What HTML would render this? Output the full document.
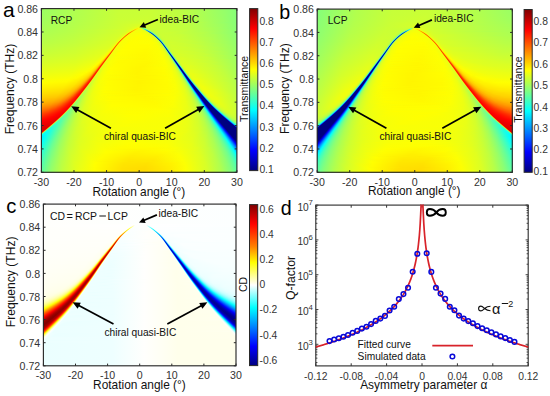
<!DOCTYPE html>
<html><head><meta charset="utf-8"><style>
html,body{margin:0;padding:0;background:#fff;}
body{width:550px;height:396px;position:relative;overflow:hidden;font-family:"Liberation Sans", sans-serif;}
.hm{position:absolute;}
.hm i{display:block;height:1px;}
svg{position:absolute;left:0;top:0;}
</style></head><body>
<div class="hm" style="left:41px;top:8px;width:196px"><i style="background:linear-gradient(90deg,#9cff63 0.5px,#b1ff4e 36.5px,#c8ff37 78.5px,#c9ff36 112.5px,#b8ff47 148.5px,#92ff6d 186.5px,#86ff79 195.5px)"></i><i style="background:linear-gradient(90deg,#9cff63 0.5px,#b1ff4e 36.5px,#c9ff36 78.5px,#c9ff36 112.5px,#b8ff47 148.5px,#92ff6d 186.5px,#86ff79 195.5px)"></i><i style="background:linear-gradient(90deg,#9dff62 0.5px,#b1ff4e 35.5px,#c9ff36 78.5px,#c9ff36 112.5px,#b8ff47 148.5px,#92ff6d 186.5px,#86ff79 195.5px)"></i><i style="background:linear-gradient(90deg,#9dff62 0.5px,#b0ff4f 34.5px,#c8ff37 77.5px,#caff35 111.5px,#b9ff46 147.5px,#94ff6b 185.5px,#86ff79 195.5px)"></i><i style="background:linear-gradient(90deg,#9dff62 0.5px,#b0ff4f 34.5px,#c8ff37 77.5px,#caff35 110.5px,#baff45 146.5px,#95ff6a 184.5px,#87ff78 195.5px)"></i><i style="background:linear-gradient(90deg,#9eff61 0.5px,#b1ff4e 34.5px,#c9ff36 77.5px,#caff35 110.5px,#baff45 146.5px,#95ff6a 184.5px,#87ff78 195.5px)"></i><i style="background:linear-gradient(90deg,#9eff61 0.5px,#b0ff4f 33.5px,#c9ff36 77.5px,#caff35 109.5px,#bbff44 145.5px,#97ff68 183.5px,#87ff78 195.5px)"></i><i style="background:linear-gradient(90deg,#9fff60 0.5px,#b0ff4f 33.5px,#c9ff36 77.5px,#cbff34 109.5px,#bbff44 145.5px,#97ff68 183.5px,#87ff78 195.5px)"></i><i style="background:linear-gradient(90deg,#a0ff5f 0.5px,#b1ff4e 33.5px,#c9ff36 77.5px,#cbff34 108.5px,#bcff43 144.5px,#99ff66 181.5px,#87ff78 195.5px)"></i><i style="background:linear-gradient(90deg,#a0ff5f 0.5px,#b0ff4f 32.5px,#c9ff36 77.5px,#ccff33 106.5px,#bdff42 143.5px,#9bff64 180.5px,#88ff77 195.5px)"></i><i style="background:linear-gradient(90deg,#a1ff5e 0.5px,#b1ff4e 32.5px,#caff35 77.5px,#ccff33 105.5px,#bdff42 143.5px,#9bff64 180.5px,#88ff77 195.5px)"></i><i style="background:linear-gradient(90deg,#a2ff5d 0.5px,#b1ff4e 32.5px,#caff35 77.5px,#cdff32 103.5px,#beff41 143.5px,#9cff63 180.5px,#88ff77 195.5px)"></i><i style="background:linear-gradient(90deg,#a2ff5d 0.5px,#b2ff4d 32.5px,#caff35 77.5px,#ceff31 102.5px,#bdff42 144.5px,#9bff64 181.5px,#89ff76 195.5px)"></i><i style="background:linear-gradient(90deg,#a3ff5c 0.5px,#b2ff4d 32.5px,#cbff34 77.5px,#d0ff2f 101.5px,#bdff42 146.5px,#99ff66 183.5px,#89ff76 195.5px)"></i><i style="background:linear-gradient(90deg,#a4ff5b 0.5px,#b3ff4c 32.5px,#cbff34 77.5px,#d2ff2d 100.5px,#c8ff37 124.5px,#b3ff4c 159.5px,#89ff76 195.5px)"></i><i style="background:linear-gradient(90deg,#a4ff5b 0.5px,#b3ff4c 31.5px,#ccff33 77.5px,#d4ff2b 100.5px,#cbff34 115.5px,#bcff43 148.5px,#98ff67 184.5px,#8aff75 195.5px)"></i><i style="background:linear-gradient(90deg,#a5ff5a 0.5px,#b3ff4c 31.5px,#ccff33 77.5px,#d7ff28 96.5px,#d7ff28 100.5px,#ccff33 112.5px,#bfff40 145.5px,#9dff62 181.5px,#8aff75 195.5px)"></i><i style="background:linear-gradient(90deg,#a6ff59 0.5px,#b4ff4b 31.5px,#ccff33 77.5px,#d6ff29 93.5px,#dcff23 99.5px,#ceff31 107.5px,#beff41 146.5px,#9cff63 182.5px,#8bff74 195.5px)"></i><i style="background:linear-gradient(90deg,#a7ff58 0.5px,#b5ff4a 31.5px,#cdff32 77.5px,#d6ff29 91.5px,#e2ff1d 98.5px,#d6ff29 101.5px,#ccff33 114.5px,#bfff40 146.5px,#9cff63 182.5px,#8bff74 195.5px)"></i><i style="background:linear-gradient(90deg,#a8ff57 0.5px,#b5ff4a 31.5px,#ceff31 78.5px,#d8ff27 90.5px,#e6ff19 96.5px,#edff12 97.5px,#eeff11 98.5px,#d7ff28 99.5px,#baff45 100.5px,#ccff33 103.5px,#cdff32 109.5px,#c1ff3e 143.5px,#a2ff5d 178.5px,#8bff74 195.5px)"></i><i style="background:linear-gradient(90deg,#a9ff56 0.5px,#b6ff49 31.5px,#cfff30 79.5px,#d9ff26 89.5px,#e5ff1a 93.5px,#ecff13 94.5px,#f6f109 95.5px,#fdef02 96.5px,#fafb05 97.5px,#eaff15 99.5px,#ccff33 100.5px,#8aff75 101.5px,#61ff9e 102.5px,#8fff70 103.5px,#b3ff4c 104.5px,#c2ff3d 105.5px,#cbff34 107.5px,#c7ff38 133.5px,#adff52 168.5px,#8cff73 195.5px)"></i><i style="background:linear-gradient(90deg,#aaff55 0.5px,#b7ff48 31.5px,#d5ff2a 85.5px,#e5ff1a 91.5px,#edff12 92.5px,#f9e306 93.5px,#ffd300 94.5px,#fdee02 95.5px,#f5fe0a 96.5px,#f1ff0e 98.5px,#edff12 100.5px,#e7ff18 101.5px,#c0ff3f 102.5px,#4ff7b0 103.5px,#27e4d8 104.5px,#6efb91 105.5px,#a6ff59 106.5px,#bbff44 107.5px,#c7ff38 109.5px,#ccff33 118.5px,#bfff40 148.5px,#9dff62 183.5px,#8cff73 195.5px)"></i><i style="background:linear-gradient(90deg,#abff54 0.5px,#b8ff47 31.5px,#d6ff29 84.5px,#e4ff1b 89.5px,#ecff13 90.5px,#f9e306 91.5px,#ffb800 92.5px,#f9fd06 94.5px,#f3ff0c 96.5px,#f3ff0c 100.5px,#ecff13 102.5px,#e4ff1b 103.5px,#b0f84f 104.5px,#39bac6 105.5px,#1db1e2 106.5px,#65fa9a 107.5px,#a0ff5f 108.5px,#b7ff48 109.5px,#c6ff39 111.5px,#ccff33 116.5px,#c3ff3c 143.5px,#a4ff5b 178.5px,#8dff72 195.5px)"></i><i style="background:linear-gradient(90deg,#acff53 0.5px,#b8ff47 31.5px,#d4ff2b 82.5px,#e2ff1d 87.5px,#e9ff16 88.5px,#f5ef0a 89.5px,#fea701 90.5px,#ffba00 91.5px,#fcf603 92.5px,#f6ff09 93.5px,#f6ff09 100.5px,#eaff15 104.5px,#deff21 105.5px,#8be374 106.5px,#1473e5 107.5px,#1fafd9 108.5px,#6afe95 109.5px,#a3ff5c 110.5px,#b8ff47 111.5px,#c3ff3c 112.5px,#cbff34 115.5px,#c7ff38 137.5px,#acff53 171.5px,#8eff71 195.5px)"></i><i style="background:linear-gradient(90deg,#adff52 0.5px,#b9ff46 31.5px,#d5ff2a 81.5px,#dfff20 85.5px,#e5ff1a 86.5px,#f0fd0f 87.5px,#fdb602 88.5px,#ff8e00 89.5px,#fee201 90.5px,#f9fe06 91.5px,#f5ff0a 93.5px,#f9ff06 100.5px,#edff12 105.5px,#e6ff19 106.5px,#cdff32 107.5px,#57a198 108.5px,#0156d3 109.5px,#30cfcf 110.5px,#85ff7a 111.5px,#b0ff4f 112.5px,#c0ff3f 113.5px,#caff35 115.5px,#cbff34 130.5px,#b4ff4b 164.5px,#8eff71 195.5px)"></i><i style="background:linear-gradient(90deg,#aeff51 0.5px,#baff45 31.5px,#d5ff2a 80.5px,#e1ff1e 84.5px,#e7ff18 85.5px,#f6ec09 86.5px,#ff7b00 87.5px,#ffaf00 88.5px,#fdf802 89.5px,#f7ff08 90.5px,#fcff03 100.5px,#efff10 106.5px,#eaff15 107.5px,#dfff20 108.5px,#a1e15e 109.5px,#1954a7 110.5px,#0d84d8 111.5px,#64fc9b 112.5px,#a7ff58 113.5px,#bdff42 114.5px,#c9ff36 116.5px,#ccff33 127.5px,#b8ff47 160.5px,#90ff6f 194.5px,#8fff70 195.5px)"></i><i style="background:linear-gradient(90deg,#afff50 0.5px,#bbff44 31.5px,#d6ff29 79.5px,#e2ff1d 83.5px,#eaff15 84.5px,#face05 85.5px,#ff6900 86.5px,#ffd600 87.5px,#fbfe04 88.5px,#f7ff08 90.5px,#fdff02 100.5px,#f4ff0b 106.5px,#ecff13 108.5px,#e4ff1b 109.5px,#caff35 110.5px,#468e89 111.5px,#0348c2 112.5px,#47eeb8 113.5px,#9dff62 114.5px,#baff45 115.5px,#c4ff3b 116.5px,#ccff33 119.5px,#c8ff37 139.5px,#acff53 173.5px,#8fff70 195.5px)"></i><i style="background:linear-gradient(90deg,#b0ff4f 0.5px,#bcff43 31.5px,#d6ff29 78.5px,#e2ff1d 82.5px,#edff12 83.5px,#fdae02 84.5px,#ff7c00 85.5px,#feee01 86.5px,#f9ff06 87.5px,#faff05 91.5px,#feff01 101.5px,#f2ff0d 108.5px,#e7ff18 110.5px,#d8ff27 111.5px,#75c57a 112.5px,#0040bb 113.5px,#31d6ce 114.5px,#93ff6c 115.5px,#b7ff48 116.5px,#c3ff3c 117.5px,#ccff33 120.5px,#c9ff36 139.5px,#adff52 173.5px,#90ff6f 195.5px)"></i><i style="background:linear-gradient(90deg,#b1ff4e 0.5px,#bdff42 32.5px,#d6ff29 77.5px,#e4ff1b 81.5px,#effe10 82.5px,#fe9401 83.5px,#ff9700 84.5px,#fdf802 85.5px,#f8ff07 86.5px,#ffff00 100.5px,#f6ff09 108.5px,#eaff15 111.5px,#dfff20 112.5px,#9adf57 113.5px,#0f36ac 114.5px,#23c1d3 115.5px,#8aff75 116.5px,#b5ff4a 117.5px,#c3ff3c 118.5px,#cdff32 121.5px,#c9ff36 140.5px,#adff52 173.5px,#90ff6f 195.5px)"></i><i style="background:linear-gradient(90deg,#b2ff4d 0.5px,#beff41 32.5px,#d7ff28 76.5px,#e5ff1a 80.5px,#f2fc0d 81.5px,#fe8401 82.5px,#ffae00 83.5px,#fcfc03 84.5px,#f8ff07 86.5px,#fffe00 96.5px,#fbff04 107.5px,#f1ff0e 111.5px,#e2ff1d 113.5px,#acf553 114.5px,#14489e 115.5px,#19b1d6 116.5px,#85ff7a 117.5px,#b4ff4b 118.5px,#c3ff3c 119.5px,#ccff33 121.5px,#ccff33 135.5px,#b4ff4b 168.5px,#91ff6e 195.5px)"></i><i style="background:linear-gradient(90deg,#b3ff4c 0.5px,#bfff40 32.5px,#d7ff28 75.5px,#e0ff1f 78.5px,#e7ff18 79.5px,#f5f90a 80.5px,#ff7900 81.5px,#fbfd04 83.5px,#f8ff07 85.5px,#fffe00 95.5px,#fbff04 108.5px,#edff12 113.5px,#e4ff1b 114.5px,#b5ff4a 115.5px,#1d42a1 116.5px,#14a6db 117.5px,#82ff7d 118.5px,#b4ff4b 119.5px,#c4ff3b 120.5px,#ccff33 122.5px,#ccff33 136.5px,#b3ff4c 169.5px,#92ff6d 195.5px)"></i><i style="background:linear-gradient(90deg,#b4ff4b 0.5px,#c0ff3f 32.5px,#d7ff28 74.5px,#e1ff1e 77.5px,#e8ff17 78.5px,#f7f708 79.5px,#ff7300 80.5px,#ffc400 81.5px,#fafe05 82.5px,#f8ff07 84.5px,#fffe00 93.5px,#fcff03 108.5px,#f2ff0d 113.5px,#edff12 114.5px,#e3ff1c 115.5px,#b9ff46 116.5px,#2040ab 117.5px,#14a2db 118.5px,#83ff7c 119.5px,#b6ff49 120.5px,#c5ff3a 121.5px,#cdff32 123.5px,#ccff33 138.5px,#b2ff4d 171.5px,#92ff6d 195.5px)"></i><i style="background:linear-gradient(90deg,#b6ff49 0.5px,#c1ff3e 32.5px,#d8ff27 73.5px,#e1ff1e 76.5px,#e9ff16 77.5px,#f9f506 78.5px,#ff6e00 79.5px,#ffc700 80.5px,#fafe05 81.5px,#f8ff07 83.5px,#fffe00 92.5px,#fdff02 109.5px,#f3ff0c 114.5px,#edff12 115.5px,#e1ff1e 116.5px,#b5ff4a 117.5px,#1a40a4 118.5px,#15a7da 119.5px,#8aff75 120.5px,#b9ff46 121.5px,#c7ff38 122.5px,#cfff30 125.5px,#c8ff37 147.5px,#a9ff56 179.5px,#93ff6c 195.5px)"></i><i style="background:linear-gradient(90deg,#b7ff48 0.5px,#c2ff3d 32.5px,#daff25 73.5px,#e1ff1e 75.5px,#e9ff16 76.5px,#f9f606 77.5px,#ff6d00 78.5px,#ffc600 79.5px,#fafe05 80.5px,#f8ff07 82.5px,#fffe00 90.5px,#fdff02 110.5px,#f2ff0d 115.5px,#ebff14 116.5px,#dfff20 117.5px,#a7ff58 118.5px,#1041a0 119.5px,#20b9d1 120.5px,#97ff68 121.5px,#beff41 122.5px,#c9ff36 123.5px,#d0ff2f 127.5px,#c5ff3a 152.5px,#a4ff5b 184.5px,#94ff6b 195.5px)"></i><i style="background:linear-gradient(90deg,#b8ff47 0.5px,#c3ff3c 32.5px,#daff25 72.5px,#e1ff1e 74.5px,#e9ff16 75.5px,#f8f907 76.5px,#ff7700 77.5px,#ffbd00 78.5px,#fafe05 79.5px,#f8ff07 81.5px,#fffe00 89.5px,#fdff02 111.5px,#f6ff09 115.5px,#eaff15 117.5px,#dbff24 118.5px,#97f568 119.5px,#0734b1 120.5px,#33d2cc 121.5px,#a4ff5b 122.5px,#c2ff3d 123.5px,#cbff34 124.5px,#d1ff2e 129.5px,#c3ff3c 156.5px,#a0ff5f 187.5px,#94ff6b 195.5px)"></i><i style="background:linear-gradient(90deg,#b9ff46 0.5px,#c4ff3b 32.5px,#daff25 71.5px,#e1ff1e 73.5px,#e8ff17 74.5px,#f7fc08 75.5px,#ff8d00 76.5px,#ffa700 77.5px,#fafe05 78.5px,#f8ff07 80.5px,#fffe00 88.5px,#fdff02 112.5px,#f5ff0a 116.5px,#e8ff17 118.5px,#d6ff29 119.5px,#7adc7a 120.5px,#002eb4 121.5px,#50f0af 122.5px,#afff50 123.5px,#c5ff3a 124.5px,#cfff30 126.5px,#ceff31 140.5px,#b4ff4b 172.5px,#95ff6a 195.5px)"></i><i style="background:linear-gradient(90deg,#bbff44 0.5px,#c6ff39 33.5px,#dbff24 70.5px,#e7ff18 73.5px,#f5fe0a 74.5px,#ffae00 75.5px,#ff8600 76.5px,#fafc05 77.5px,#f6ff09 78.5px,#fffe00 86.5px,#fffe00 108.5px,#f7ff08 116.5px,#eeff11 118.5px,#e5ff1a 119.5px,#cfff30 120.5px,#50b994 121.5px,#0445c3 122.5px,#6fff90 123.5px,#b8ff47 124.5px,#c8ff37 125.5px,#d1ff2e 128.5px,#caff35 149.5px,#abff54 180.5px,#96ff69 195.5px)"></i><i style="background:linear-gradient(90deg,#bcff43 0.5px,#c7ff38 33.5px,#dbff24 69.5px,#e7ff18 72.5px,#f3ff0c 73.5px,#ffcf00 74.5px,#ff6500 75.5px,#fcf703 76.5px,#f6ff09 77.5px,#fffe00 85.5px,#fffd00 107.5px,#f9ff06 116.5px,#edff12 119.5px,#e1ff1e 120.5px,#c0ff3f 121.5px,#2372ac 122.5px,#1186ce 123.5px,#90ff6f 124.5px,#bfff40 125.5px,#cbff34 126.5px,#d2ff2d 130.5px,#c6ff39 155.5px,#a4ff5b 186.5px,#96ff69 195.5px)"></i><i style="background:linear-gradient(90deg,#bdff42 0.5px,#c8ff37 33.5px,#dcff23 68.5px,#e6ff19 71.5px,#f1ff0e 72.5px,#fee801 73.5px,#ff5b00 74.5px,#fde602 75.5px,#f6ff09 76.5px,#fffe00 84.5px,#fffd00 107.5px,#fbff04 116.5px,#f1ff0e 119.5px,#eaff15 120.5px,#dbff24 121.5px,#a1ff5e 122.5px,#0936a9 123.5px,#2ac4cc 124.5px,#a5ff5a 125.5px,#c4ff3b 126.5px,#cdff32 127.5px,#d3ff2c 132.5px,#c4ff3b 159.5px,#a1ff5e 189.5px,#97ff68 195.5px)"></i><i style="background:linear-gradient(90deg,#bfff40 0.5px,#caff35 33.5px,#ddff22 67.5px,#e6ff19 70.5px,#efff10 71.5px,#fdf402 72.5px,#ff6d00 73.5px,#febe01 74.5px,#f6ff09 75.5px,#fffe00 84.5px,#fffd00 108.5px,#faff05 117.5px,#efff10 120.5px,#e6ff19 121.5px,#d2ff2d 122.5px,#6eda8e 123.5px,#001eb1 124.5px,#52f0ad 125.5px,#b3ff4c 126.5px,#c8ff37 127.5px,#d1ff2e 129.5px,#d0ff2f 143.5px,#b5ff4a 174.5px,#98ff67 195.5px)"></i><i style="background:linear-gradient(90deg,#c0ff3f 0.5px,#cbff34 33.5px,#ddff22 66.5px,#e6ff19 69.5px,#eeff11 70.5px,#fcf903 71.5px,#ff9900 72.5px,#ff8900 73.5px,#f8fe07 74.5px,#f5ff0a 75.5px,#fffe00 82.5px,#fffc00 106.5px,#fbff04 117.5px,#f3ff0c 120.5px,#edff12 121.5px,#e1ff1e 122.5px,#c4ff3b 123.5px,#30a2af 124.5px,#054cc6 125.5px,#7aff85 126.5px,#bdff42 127.5px,#cbff34 128.5px,#d3ff2c 131.5px,#cbff34 152.5px,#acff53 182.5px,#98ff67 195.5px)"></i><i style="background:linear-gradient(90deg,#c2ff3d 0.5px,#ccff33 33.5px,#e0ff1f 66.5px,#eeff11 69.5px,#fafc05 70.5px,#ffc000 71.5px,#ff5900 72.5px,#faf705 73.5px,#f4ff0b 74.5px,#ffff00 81.5px,#fffb00 105.5px,#fcff03 117.5px,#f1ff0e 121.5px,#e9ff16 122.5px,#daff25 123.5px,#a8ff57 124.5px,#0b4aa6 125.5px,#179ad0 126.5px,#99ff66 127.5px,#c3ff3c 128.5px,#ceff31 129.5px,#d4ff2b 133.5px,#c7ff38 158.5px,#a4ff5b 188.5px,#99ff66 195.5px)"></i><i style="background:linear-gradient(90deg,#c3ff3c 0.5px,#ceff31 34.5px,#e1ff1e 65.5px,#eeff11 68.5px,#f9fe06 69.5px,#ffd900 70.5px,#ff4f00 71.5px,#fddd02 72.5px,#f4ff0b 73.5px,#ffff00 80.5px,#fffb00 105.5px,#fcff03 118.5px,#efff10 122.5px,#e5ff1a 123.5px,#d0ff2f 124.5px,#70eb8f 125.5px,#0015a7 126.5px,#38d3c7 127.5px,#acff53 128.5px,#c7ff38 129.5px,#d0ff2f 130.5px,#d5ff2a 135.5px,#c5ff3a 162.5px,#a1ff5e 191.5px,#9aff65 195.5px)"></i><i style="background:linear-gradient(90deg,#c4ff3b 0.5px,#cfff30 34.5px,#e2ff1d 64.5px,#eeff11 67.5px,#f9fe06 68.5px,#ffe600 69.5px,#ff6500 70.5px,#fea901 71.5px,#f5ff0a 72.5px,#fffe00 80.5px,#fffb00 105.5px,#fcff03 118.5px,#f2ff0d 122.5px,#ebff14 123.5px,#dfff20 124.5px,#c0ff3f 125.5px,#33afb4 126.5px,#002bac 127.5px,#5ef8a1 128.5px,#b7ff48 129.5px,#cbff34 130.5px,#d4ff2b 132.5px,#d2ff2d 146.5px,#b7ff48 176.5px,#9bff64 195.5px)"></i><i style="background:linear-gradient(90deg,#c6ff39 0.5px,#d0ff2f 34.5px,#e3ff1c 63.5px,#eeff11 66.5px,#f8ff07 67.5px,#ffed00 68.5px,#ff8a00 69.5px,#ff6f00 70.5px,#f7fd08 71.5px,#f3ff0c 72.5px,#ffff00 78.5px,#fffa00 104.5px,#fcff03 119.5px,#f0ff0f 123.5px,#e7ff18 124.5px,#d7ff28 125.5px,#a3ff5c 126.5px,#0d51b9 127.5px,#0863cf 128.5px,#81ff7e 129.5px,#bfff40 130.5px,#ceff31 131.5px,#d6ff29 134.5px,#ccff33 156.5px,#abff54 185.5px,#9bff64 195.5px)"></i><i style="background:linear-gradient(90deg,#c7ff38 0.5px,#d1ff2e 34.5px,#e2ff1d 61.5px,#efff10 65.5px,#f8ff07 66.5px,#fff100 67.5px,#ffa700 68.5px,#ff4800 69.5px,#faf005 70.5px,#f2ff0d 71.5px,#ffff00 77.5px,#fffa00 103.5px,#fdff02 119.5px,#f3ff0c 123.5px,#e2ff1d 125.5px,#ccff33 126.5px,#6ef291 127.5px,#0016a0 128.5px,#19a3d4 129.5px,#9bff64 130.5px,#c6ff39 131.5px,#d1ff2e 132.5px,#d7ff28 136.5px,#c8ff37 161.5px,#a6ff59 189.5px,#9cff63 195.5px)"></i><i style="background:linear-gradient(90deg,#c9ff36 0.5px,#d3ff2c 34.5px,#e3ff1c 60.5px,#efff10 64.5px,#f8ff07 65.5px,#fff400 66.5px,#ffbd00 67.5px,#ff4000 68.5px,#fdce02 69.5px,#f2ff0d 70.5px,#feff01 76.5px,#fff900 103.5px,#fcff03 120.5px,#f0ff0f 124.5px,#e9ff16 125.5px,#dbff24 126.5px,#bbff44 127.5px,#36bbb9 128.5px,#00099a 129.5px,#37d4c8 130.5px,#adff52 131.5px,#cbff34 132.5px,#d3ff2c 133.5px,#d8ff27 138.5px,#c6ff39 165.5px,#a0ff5f 193.5px,#9dff62 195.5px)"></i><i style="background:linear-gradient(90deg,#caff35 0.5px,#d4ff2b 34.5px,#e4ff1b 59.5px,#f0ff0f 63.5px,#f8ff07 64.5px,#fff600 65.5px,#ffcc00 66.5px,#ff4f00 67.5px,#fe9f01 68.5px,#f3ff0c 69.5px,#f6ff09 71.5px,#fffe00 77.5px,#fff900 103.5px,#fdff02 120.5px,#f3ff0c 124.5px,#e4ff1b 126.5px,#d3ff2c 127.5px,#9fff60 128.5px,#116dc6 129.5px,#0029ac 130.5px,#5bf6a4 131.5px,#b9ff46 132.5px,#cfff30 133.5px,#d7ff28 135.5px,#d2ff2d 151.5px,#b5ff4a 180.5px,#9eff61 195.5px)"></i><i style="background:linear-gradient(90deg,#ccff33 0.5px,#d5ff2a 34.5px,#e5ff1a 58.5px,#f1ff0e 62.5px,#f8ff07 63.5px,#fff700 64.5px,#ffd700 65.5px,#ff6c00 66.5px,#ff6900 67.5px,#f5fc0a 68.5px,#f1ff0e 69.5px,#fdff02 74.5px,#fff900 103.5px,#fcff03 121.5px,#f1ff0e 125.5px,#dfff20 127.5px,#c7ff38 128.5px,#71fb8e 129.5px,#002cab 130.5px,#075dcf 131.5px,#80ff7f 132.5px,#c2ff3d 133.5px,#d2ff2d 134.5px,#d9ff26 137.5px,#ccff33 160.5px,#aaff55 188.5px,#9fff60 195.5px)"></i><i style="background:linear-gradient(90deg,#ceff31 0.5px,#d7ff28 34.5px,#e6ff19 57.5px,#f2ff0d 61.5px,#f9ff06 62.5px,#fff800 63.5px,#ffde00 64.5px,#ff8800 65.5px,#ff4200 66.5px,#f8ef07 67.5px,#efff10 68.5px,#fdff02 73.5px,#fff900 103.5px,#fdff02 121.5px,#f3ff0c 125.5px,#e6ff19 127.5px,#d8ff27 128.5px,#b8ff47 129.5px,#3ecfc0 130.5px,#000391 131.5px,#18a0d4 132.5px,#9dff62 133.5px,#c9ff36 134.5px,#d4ff2b 135.5px,#daff25 139.5px,#c8ff37 166.5px,#a3ff5c 193.5px,#9fff60 195.5px)"></i><i style="background:linear-gradient(90deg,#cfff30 0.5px,#d8ff27 34.5px,#e7ff18 56.5px,#f3ff0c 60.5px,#f9ff06 61.5px,#fff900 62.5px,#ffe200 63.5px,#ff9f00 64.5px,#ff3500 65.5px,#fccd03 66.5px,#eeff11 67.5px,#fcff03 72.5px,#fff800 102.5px,#fdff02 121.5px,#f1ff0e 126.5px,#e1ff1e 128.5px,#cfff30 129.5px,#9fff60 130.5px,#158ccf 131.5px,#000997 132.5px,#37d5c8 133.5px,#b0ff4f 134.5px,#ceff31 135.5px,#d7ff28 136.5px,#dbff24 141.5px,#c5ff3a 169.5px,#a0ff5f 195.5px)"></i><i style="background:linear-gradient(90deg,#d1ff2e 0.5px,#daff25 34.5px,#e8ff17 55.5px,#f4ff0b 59.5px,#faff05 60.5px,#fff900 61.5px,#ffe600 62.5px,#ffb100 63.5px,#ff4000 64.5px,#fe9a01 65.5px,#efff10 66.5px,#f4ff0b 68.5px,#ffff00 74.5px,#fff800 101.5px,#fdff02 122.5px,#f4ff0b 126.5px,#e7ff18 128.5px,#dbff24 129.5px,#c4ff3b 130.5px,#74ff8b 131.5px,#013dbf 132.5px,#002aaf 133.5px,#5df7a2 134.5px,#bdff42 135.5px,#d3ff2c 136.5px,#dbff24 138.5px,#d2ff2d 157.5px,#b2ff4d 185.5px,#a1ff5e 195.5px)"></i><i style="background:linear-gradient(90deg,#d3ff2c 0.5px,#dbff24 34.5px,#e9ff16 54.5px,#f5ff0a 58.5px,#fbff04 59.5px,#fff900 60.5px,#ffe800 61.5px,#ffbe00 62.5px,#ff5700 63.5px,#ff6000 64.5px,#f2fc0d 65.5px,#edff12 66.5px,#fbff04 70.5px,#fffb00 80.5px,#fff900 108.5px,#fcff03 123.5px,#f1ff0e 127.5px,#e3ff1c 129.5px,#d4ff2b 130.5px,#b4ff4b 131.5px,#42e0bd 132.5px,#000b9b 133.5px,#0761d1 134.5px,#82ff7d 135.5px,#c6ff39 136.5px,#d6ff29 137.5px,#ddff22 140.5px,#cbff34 166.5px,#a7ff58 192.5px,#a2ff5d 195.5px)"></i><i style="background:linear-gradient(90deg,#d4ff2b 0.5px,#ddff22 34.5px,#ebff14 53.5px,#f6ff09 57.5px,#fbff04 58.5px,#fff900 59.5px,#ffea00 60.5px,#ffc800 61.5px,#ff6e00 62.5px,#ff3900 63.5px,#f7ec08 64.5px,#ebff14 65.5px,#faff05 69.5px,#fffc00 77.5px,#fff800 105.5px,#fdff02 123.5px,#efff10 128.5px,#deff21 130.5px,#cbff34 131.5px,#9cff63 132.5px,#179dd6 133.5px,#000085 134.5px,#19a3d6 135.5px,#a0ff5f 136.5px,#cdff32 137.5px,#d9ff26 138.5px,#ddff22 142.5px,#c7ff38 170.5px,#a3ff5c 195.5px)"></i><i style="background:linear-gradient(90deg,#d6ff29 0.5px,#deff21 34.5px,#ecff13 52.5px,#f7ff08 56.5px,#fcff03 57.5px,#fff900 58.5px,#ffeb00 59.5px,#ffce00 60.5px,#ff8400 61.5px,#ff2b00 62.5px,#fbc404 63.5px,#eaff15 64.5px,#fbff04 69.5px,#fffb00 79.5px,#fff800 108.5px,#fdff02 123.5px,#f2ff0d 128.5px,#e5ff1a 130.5px,#d8ff27 131.5px,#c0ff3f 132.5px,#72ff8d 133.5px,#0248d1 134.5px,#000b9a 135.5px,#39dac6 136.5px,#b3ff4c 137.5px,#d3ff2c 138.5px,#dbff24 139.5px,#deff21 144.5px,#c5ff3a 173.5px,#a3ff5c 195.5px)"></i><i style="background:linear-gradient(90deg,#d8ff27 0.5px,#e0ff1f 34.5px,#efff10 52.5px,#fdff02 56.5px,#fff900 57.5px,#ffec00 58.5px,#ffd300 59.5px,#ff9600 60.5px,#ff3500 61.5px,#fe8d01 62.5px,#ecff13 63.5px,#ebff14 64.5px,#faff05 68.5px,#fffc00 76.5px,#fff700 105.5px,#fdff02 124.5px,#efff10 129.5px,#e0ff1f 131.5px,#d0ff2f 132.5px,#afff50 133.5px,#41e8be 134.5px,#0012a5 135.5px,#002eb4 136.5px,#60f89f 137.5px,#c0ff3f 138.5px,#d7ff28 139.5px,#dfff20 141.5px,#d0ff2f 164.5px,#adff52 190.5px,#a4ff5b 195.5px)"></i><i style="background:linear-gradient(90deg,#daff25 0.5px,#e2ff1d 34.5px,#f0ff0f 51.5px,#fdfe02 55.5px,#fff900 56.5px,#ffed00 57.5px,#ffd600 58.5px,#ffa400 59.5px,#ff4700 60.5px,#ff5300 61.5px,#f0fa0f 62.5px,#e8ff17 63.5px,#f9ff06 67.5px,#fffd00 74.5px,#fff700 103.5px,#fdff02 124.5px,#f2ff0d 129.5px,#e6ff19 131.5px,#dbff24 132.5px,#c7ff38 133.5px,#96ff69 134.5px,#17a9e0 135.5px,#000088 136.5px,#0769d4 137.5px,#85ff7a 138.5px,#caff35 139.5px,#daff25 140.5px,#e0ff1f 142.5px,#ccff33 168.5px,#a9ff56 193.5px,#a5ff5a 195.5px)"></i><i style="background:linear-gradient(90deg,#dbff24 0.5px,#e3ff1c 33.5px,#f1ff0e 50.5px,#fefe01 54.5px,#ffed00 56.5px,#ffda00 57.5px,#ffb000 58.5px,#ff5900 59.5px,#ff3000 60.5px,#f6e609 61.5px,#e6ff19 62.5px,#f8ff07 66.5px,#fffd00 73.5px,#fff700 102.5px,#fcff03 125.5px,#efff10 130.5px,#e1ff1e 132.5px,#d4ff2b 133.5px,#baff45 134.5px,#6dff92 135.5px,#0257d7 136.5px,#000086 137.5px,#1aaad7 138.5px,#a1ff5e 139.5px,#d1ff2e 140.5px,#ddff22 141.5px,#e1ff1e 145.5px,#c7ff38 174.5px,#a6ff59 195.5px)"></i><i style="background:linear-gradient(90deg,#ddff22 0.5px,#e5ff1a 33.5px,#f3ff0c 49.5px,#fefe01 53.5px,#ffee00 55.5px,#ffdd00 56.5px,#ffba00 57.5px,#ff6c00 58.5px,#ff2400 59.5px,#fbb904 60.5px,#e5ff1a 61.5px,#faff05 66.5px,#fffd00 73.5px,#fff600 102.5px,#fdff02 125.5px,#f2ff0d 130.5px,#e6ff19 132.5px,#dcff23 133.5px,#ccff33 134.5px,#a9ff56 135.5px,#3decc2 136.5px,#0019ae 137.5px,#000d9d 138.5px,#39ddc6 139.5px,#b5ff4a 140.5px,#d6ff29 141.5px,#dfff20 142.5px,#e1ff1e 147.5px,#c4ff3b 177.5px,#a7ff58 195.5px)"></i><i style="background:linear-gradient(90deg,#dfff20 0.5px,#e7ff18 33.5px,#f4ff0b 48.5px,#fffd00 52.5px,#ffee00 54.5px,#ffde00 55.5px,#ffc100 56.5px,#ff8000 57.5px,#ff2e00 58.5px,#fe8001 59.5px,#e8ff17 60.5px,#e6ff19 61.5px,#f6ff09 64.5px,#fffe00 71.5px,#fff600 99.5px,#fffe00 123.5px,#f3ff0c 130.5px,#e2ff1d 133.5px,#d7ff28 134.5px,#c2ff3d 135.5px,#8fff70 136.5px,#15b0e7 137.5px,#000091 138.5px,#0032ba 139.5px,#60f99f 140.5px,#c3ff3c 141.5px,#dbff24 142.5px,#e3ff1c 144.5px,#ccff33 171.5px,#a7ff58 195.5px)"></i><i style="background:linear-gradient(90deg,#e1ff1e 0.5px,#e8ff17 32.5px,#f6ff09 47.5px,#fffc00 51.5px,#ffed00 53.5px,#ffe000 54.5px,#ffc700 55.5px,#ff9100 56.5px,#ff3e00 57.5px,#ff4500 58.5px,#edf812 59.5px,#e3ff1c 60.5px,#f4ff0b 63.5px,#ffff00 69.5px,#fff600 97.5px,#fffe00 123.5px,#f5ff0a 130.5px,#e7ff18 133.5px,#deff21 134.5px,#cfff30 135.5px,#b4ff4b 136.5px,#67ff98 137.5px,#0260e1 138.5px,#000080 139.5px,#086dd6 140.5px,#86ff79 141.5px,#cdff32 142.5px,#deff21 143.5px,#e4ff1b 145.5px,#cbff34 173.5px,#a8ff57 195.5px)"></i><i style="background:linear-gradient(90deg,#e3ff1c 0.5px,#eaff15 32.5px,#f7ff08 46.5px,#fffb00 50.5px,#ffed00 52.5px,#ffe100 53.5px,#ffcb00 54.5px,#ff9e00 55.5px,#ff4f00 56.5px,#ff2500 57.5px,#f5db0a 58.5px,#e0ff1f 59.5px,#f6ff09 63.5px,#fffe00 70.5px,#fff600 98.5px,#fffd00 123.5px,#f6ff09 130.5px,#eaff15 133.5px,#d8ff27 135.5px,#c7ff38 136.5px,#a2ff5d 137.5px,#38eec7 138.5px,#001ebc 139.5px,#000089 140.5px,#1bafd9 141.5px,#a4ff5b 142.5px,#d4ff2b 143.5px,#e1ff1e 144.5px,#e5ff1a 147.5px,#c5ff3a 178.5px,#a9ff56 195.5px)"></i><i style="background:linear-gradient(90deg,#e5ff1a 0.5px,#ebff14 31.5px,#f9ff06 45.5px,#fffd00 48.5px,#ffec00 51.5px,#ffe100 52.5px,#ffce00 53.5px,#ffa900 54.5px,#ff6100 55.5px,#ff2100 56.5px,#fba004 57.5px,#e0ff1f 58.5px,#e3ff1c 59.5px,#f4ff0b 62.5px,#fffe00 69.5px,#fff500 97.5px,#fffd00 123.5px,#f7ff08 130.5px,#e7ff18 134.5px,#d2ff2d 136.5px,#bcff43 137.5px,#87ff78 138.5px,#13b6ec 139.5px,#000297 140.5px,#000fa0 141.5px,#3de2c2 142.5px,#b8ff47 143.5px,#daff25 144.5px,#e3ff1c 145.5px,#e5ff1a 149.5px,#c3ff3c 180.5px,#aaff55 195.5px)"></i><i style="background:linear-gradient(90deg,#e7ff18 0.5px,#edff12 31.5px,#fdff02 45.5px,#fff800 48.5px,#ffeb00 50.5px,#ffe100 51.5px,#ffd000 52.5px,#ffb000 53.5px,#ff7200 54.5px,#ff2d00 55.5px,#ff5c00 56.5px,#e6fd19 57.5px,#dfff20 58.5px,#f2ff0d 61.5px,#feff01 67.5px,#fff500 96.5px,#fffd00 123.5px,#f8ff07 130.5px,#eaff15 134.5px,#daff25 136.5px,#caff35 137.5px,#aeff51 138.5px,#5fffa0 139.5px,#0168e7 140.5px,#000081 141.5px,#0039c3 142.5px,#64fb9b 143.5px,#c6ff39 144.5px,#deff21 145.5px,#e5ff1a 146.5px,#e4ff1b 152.5px,#c1ff3e 182.5px,#abff54 195.5px)"></i><i style="background:linear-gradient(90deg,#e9ff16 0.5px,#efff10 30.5px,#fffd00 45.5px,#ffea00 49.5px,#ffe100 50.5px,#ffd100 51.5px,#ffb600 52.5px,#ff8000 53.5px,#ff3a00 54.5px,#ff2c00 55.5px,#efeb10 56.5px,#dcff23 57.5px,#f0ff0f 60.5px,#feff01 66.5px,#fff500 96.5px,#fffc00 123.5px,#f9ff06 130.5px,#edff12 134.5px,#dfff20 136.5px,#d4ff2b 137.5px,#c1ff3e 138.5px,#9aff65 139.5px,#31eece 140.5px,#0022c4 141.5px,#000080 142.5px,#0a78d8 143.5px,#8aff75 144.5px,#cfff30 145.5px,#e1ff1e 146.5px,#e8ff17 148.5px,#c7ff38 179.5px,#acff53 195.5px)"></i><i style="background:linear-gradient(90deg,#ebff14 0.5px,#f1ff0e 30.5px,#fffd00 43.5px,#ffef00 47.5px,#ffe000 49.5px,#ffd200 50.5px,#ffba00 51.5px,#ff8c00 52.5px,#ff4800 53.5px,#ff1a00 54.5px,#f8b907 55.5px,#dbff24 56.5px,#f2ff0d 60.5px,#ffff00 67.5px,#fff500 95.5px,#fffc00 123.5px,#faff05 130.5px,#eaff15 135.5px,#dbff24 137.5px,#cdff32 138.5px,#b5ff4a 139.5px,#7eff81 140.5px,#0fb8f0 141.5px,#00039c 142.5px,#00008e 143.5px,#1db9db 144.5px,#a5ff5a 145.5px,#d6ff29 146.5px,#e4ff1b 147.5px,#e9ff16 150.5px,#c3ff3c 182.5px,#acff53 195.5px)"></i><i style="background:linear-gradient(90deg,#edff12 0.5px,#f3ff0c 29.5px,#fffe00 41.5px,#ffee00 46.5px,#ffdf00 48.5px,#ffd200 49.5px,#ffbd00 50.5px,#ff9500 51.5px,#ff5500 52.5px,#ff2100 53.5px,#fe7501 54.5px,#dfff20 55.5px,#dbff24 56.5px,#f0ff0f 59.5px,#fdff02 65.5px,#fff500 96.5px,#fffd00 124.5px,#f9ff06 131.5px,#e7ff18 136.5px,#d5ff2a 138.5px,#c5ff3a 139.5px,#a6ff59 140.5px,#54ffab 141.5px,#0069ed 142.5px,#000083 143.5px,#0016a4 144.5px,#40e6bf 145.5px,#b8ff47 146.5px,#dcff23 147.5px,#e6ff19 148.5px,#e9ff16 152.5px,#c1ff3e 184.5px,#adff52 195.5px)"></i><i style="background:linear-gradient(90deg,#efff10 0.5px,#f5ff0a 29.5px,#fffc00 40.5px,#ffec00 45.5px,#ffde00 47.5px,#ffd200 48.5px,#ffbf00 49.5px,#ff9c00 50.5px,#ff2b00 52.5px,#ff3800 53.5px,#e7f518 54.5px,#d8ff27 55.5px,#eeff11 58.5px,#fbff04 63.5px,#fffa00 74.5px,#fff500 106.5px,#fdff02 129.5px,#efff10 135.5px,#dbff24 138.5px,#cfff30 139.5px,#bbff44 140.5px,#91ff6e 141.5px,#28ecd7 142.5px,#0022ca 143.5px,#000080 144.5px,#003fcb 145.5px,#64fb9b 146.5px,#c5ff3a 147.5px,#e0ff1f 148.5px,#e8ff17 149.5px,#e9ff16 153.5px,#c1ff3e 185.5px,#aeff51 195.5px)"></i><i style="background:linear-gradient(90deg,#f1ff0e 0.5px,#f7ff08 28.5px,#fffc00 38.5px,#ffea00 44.5px,#ffdc00 46.5px,#ffd100 47.5px,#ffbf00 48.5px,#ffa100 49.5px,#ff6d00 50.5px,#ff3400 51.5px,#ff1a00 52.5px,#f4d20b 53.5px,#d5ff2a 54.5px,#f0ff0f 58.5px,#fdff02 64.5px,#fff500 96.5px,#fffc00 124.5px,#faff05 131.5px,#ecff13 136.5px,#d6ff29 139.5px,#c8ff37 140.5px,#aeff51 141.5px,#72ff8d 142.5px,#0bb4f4 143.5px,#0004a0 144.5px,#000080 145.5px,#0a7edb 146.5px,#86ff79 147.5px,#cfff30 148.5px,#e3ff1c 149.5px,#ebff14 151.5px,#c6ff39 182.5px,#afff50 195.5px)"></i><i style="background:linear-gradient(90deg,#f3ff0c 0.5px,#faff05 28.5px,#fffc00 36.5px,#ffed00 42.5px,#ffdb00 45.5px,#ffd000 46.5px,#ffbf00 47.5px,#ffa400 48.5px,#ff7600 49.5px,#ff3d00 50.5px,#ff1800 51.5px,#fb9304 52.5px,#d7ff28 53.5px,#d7ff28 54.5px,#eeff11 57.5px,#fcff03 63.5px,#fff500 96.5px,#fffc00 124.5px,#fbff04 131.5px,#eaff15 137.5px,#dcff23 139.5px,#d1ff2e 140.5px,#bfff40 141.5px,#9dff62 142.5px,#48feb7 143.5px,#0065f1 144.5px,#000085 145.5px,#000091 146.5px,#1bb8df 147.5px,#a0ff5f 148.5px,#d5ff2a 149.5px,#e6ff19 150.5px,#ecff13 152.5px,#c4ff3b 184.5px,#b0ff4f 195.5px)"></i><i style="background:linear-gradient(90deg,#f5ff0a 0.5px,#fbff04 27.5px,#fffa00 35.5px,#ffeb00 41.5px,#ffd900 44.5px,#ffcf00 45.5px,#ffbf00 46.5px,#ffa600 47.5px,#ff7c00 48.5px,#ff4600 49.5px,#ff1f00 50.5px,#ff4f00 51.5px,#dffc20 52.5px,#d3ff2c 53.5px,#ebff14 56.5px,#faff05 61.5px,#fffc00 69.5px,#fff500 100.5px,#fffd00 126.5px,#f6ff09 134.5px,#e7ff18 138.5px,#d7ff28 140.5px,#caff35 141.5px,#b4ff4b 142.5px,#86ff79 143.5px,#20e8df 144.5px,#0022d0 145.5px,#000080 146.5px,#0015a5 147.5px,#37e3c8 148.5px,#b2ff4d 149.5px,#dbff24 150.5px,#e8ff17 151.5px,#edff12 153.5px,#c4ff3b 185.5px,#b1ff4e 195.5px)"></i><i style="background:linear-gradient(90deg,#f8ff07 0.5px,#feff01 27.5px,#fff200 37.5px,#ffde00 42.5px,#ffcd00 44.5px,#ffbe00 45.5px,#ffa700 46.5px,#ff8100 47.5px,#ff4e00 48.5px,#ff2500 49.5px,#ff2300 50.5px,#ebe714 51.5px,#d0ff2f 52.5px,#edff12 56.5px,#fcff03 62.5px,#fff700 80.5px,#fff700 114.5px,#fdff02 130.5px,#eeff11 137.5px,#dcff23 140.5px,#d1ff2e 141.5px,#c2ff3d 142.5px,#a5ff5a 143.5px,#66ff99 144.5px,#07aff8 145.5px,#0005a6 146.5px,#000080 147.5px,#0037c6 148.5px,#56f8a9 149.5px,#beff41 150.5px,#dfff20 151.5px,#e9ff16 152.5px,#edff12 155.5px,#bfff40 188.5px,#b2ff4d 195.5px)"></i><i style="background:linear-gradient(90deg,#faff05 0.5px,#fffc00 28.5px,#ffed00 37.5px,#ffdc00 41.5px,#ffcb00 43.5px,#ffbd00 44.5px,#ffa800 45.5px,#ff8500 46.5px,#ff5500 47.5px,#ff2b00 48.5px,#ff1200 49.5px,#f6b709 50.5px,#cfff30 51.5px,#d3ff2c 52.5px,#ebff14 55.5px,#faff05 60.5px,#fffc00 68.5px,#fff400 99.5px,#fffd00 126.5px,#f9ff06 133.5px,#ebff14 138.5px,#d7ff28 141.5px,#cbff34 142.5px,#b8ff47 143.5px,#93ff6c 144.5px,#3cfcc3 145.5px,#0063f5 146.5px,#00008a 147.5px,#000080 148.5px,#056add 149.5px,#73ff8c 150.5px,#c8ff37 151.5px,#e2ff1d 152.5px,#ebff14 153.5px,#eeff11 156.5px,#c0ff3f 188.5px,#b2ff4d 195.5px)"></i><i style="background:linear-gradient(90deg,#fcff03 0.5px,#fffc00 25.5px,#ffee00 35.5px,#ffda00 40.5px,#ffc900 42.5px,#ffbc00 43.5px,#ffa700 44.5px,#ff8800 45.5px,#ff3000 47.5px,#ff1500 48.5px,#fd7902 49.5px,#d5ff2a 50.5px,#ceff31 51.5px,#e8ff17 54.5px,#f6ff09 58.5px,#fffe00 66.5px,#fff400 96.5px,#fffc00 125.5px,#faff05 133.5px,#e9ff16 139.5px,#d2ff2d 142.5px,#c4ff3b 143.5px,#acff53 144.5px,#7aff85 145.5px,#17e5e8 146.5px,#0023d8 147.5px,#000080 148.5px,#00008a 149.5px,#109ee3 150.5px,#8cff73 151.5px,#cfff30 152.5px,#e4ff1b 153.5px,#ecff13 154.5px,#edff12 158.5px,#bdff42 190.5px,#b3ff4c 195.5px)"></i><i style="background:linear-gradient(90deg,#ffff00 0.5px,#fff900 25.5px,#ffe900 35.5px,#ffd800 39.5px,#ffc800 41.5px,#ffba00 42.5px,#ffa700 43.5px,#ff8900 44.5px,#ff3500 46.5px,#ff1900 47.5px,#ff3e00 48.5px,#dff920 49.5px,#cbff34 50.5px,#eaff15 54.5px,#f9ff06 59.5px,#fffd00 67.5px,#fff400 98.5px,#fffc00 126.5px,#f8ff07 134.5px,#ebff14 139.5px,#d7ff28 142.5px,#ccff33 143.5px,#bbff44 144.5px,#9cff63 145.5px,#59ffa6 146.5px,#04aefb 147.5px,#0006b0 148.5px,#000080 149.5px,#00099b 150.5px,#20cadf 151.5px,#9fff60 152.5px,#d4ff2b 153.5px,#e6ff19 154.5px,#efff10 156.5px,#c9ff36 184.5px,#b4ff4b 195.5px)"></i><i style="background:linear-gradient(90deg,#fffd00 0.5px,#fff600 24.5px,#ffe700 34.5px,#ffd600 38.5px,#ffc600 40.5px,#ffb900 41.5px,#ffa600 42.5px,#ff8a00 43.5px,#ff3a00 45.5px,#ff1d00 46.5px,#ff1c00 47.5px,#ebdf14 48.5px,#c8ff37 49.5px,#e7ff18 53.5px,#f8ff07 58.5px,#fffd00 67.5px,#fff400 98.5px,#fffc00 126.5px,#f9ff06 134.5px,#e8ff17 140.5px,#d2ff2d 143.5px,#c5ff3a 144.5px,#b0ff4f 145.5px,#89ff76 146.5px,#32fbcd 147.5px,#0065f9 148.5px,#000090 149.5px,#000080 150.5px,#001eb0 151.5px,#37e8c8 152.5px,#adff52 153.5px,#d9ff26 154.5px,#e8ff17 155.5px,#f0ff0f 157.5px,#c5ff3a 187.5px,#b5ff4a 195.5px)"></i><i style="background:linear-gradient(90deg,#fffa00 0.5px,#fff300 24.5px,#ffe500 33.5px,#ffd400 37.5px,#ffc300 39.5px,#ffb700 40.5px,#ffa500 41.5px,#ff8a00 42.5px,#ff3e00 44.5px,#ff2100 45.5px,#ff0e00 46.5px,#f6b109 47.5px,#c9ff36 48.5px,#c9ff36 49.5px,#e4ff1b 52.5px,#f4ff0b 56.5px,#fffe00 65.5px,#fff500 95.5px,#fffb00 125.5px,#fbff04 133.5px,#eaff15 140.5px,#d7ff28 143.5px,#bdff42 145.5px,#a3ff5c 146.5px,#6fff90 147.5px,#12e4ed 148.5px,#002ae2 149.5px,#000082 150.5px,#000080 151.5px,#003ed0 152.5px,#50f8af 153.5px,#b8ff47 154.5px,#dcff23 155.5px,#eaff15 156.5px,#f0ff0f 158.5px,#c4ff3b 188.5px,#b6ff49 195.5px)"></i><i style="background:linear-gradient(90deg,#fff700 0.5px,#fff100 23.5px,#ffe200 32.5px,#ffd100 36.5px,#ffc100 38.5px,#ffb500 39.5px,#ffa300 40.5px,#ff8a00 41.5px,#ff4200 43.5px,#ff2400 44.5px,#ff1000 45.5px,#fc7803 46.5px,#cfff30 47.5px,#c5ff3a 48.5px,#e7ff18 52.5px,#f7ff08 57.5px,#fffd00 66.5px,#fff500 97.5px,#fffc00 126.5px,#faff05 134.5px,#ebff14 140.5px,#dbff24 143.5px,#c6ff39 145.5px,#b3ff4c 146.5px,#93ff6c 147.5px,#4fffb0 148.5px,#03b2fc 149.5px,#000bbf 150.5px,#000080 151.5px,#000080 152.5px,#0469e0 153.5px,#67ff98 154.5px,#c1ff3e 155.5px,#dfff20 156.5px,#ebff14 157.5px,#f1ff0e 159.5px,#c5ff3a 188.5px,#b7ff48 195.5px)"></i><i style="background:linear-gradient(90deg,#fff500 0.5px,#ffee00 22.5px,#ffe000 31.5px,#ffcf00 35.5px,#ffbf00 37.5px,#ffa200 39.5px,#ff8a00 40.5px,#ff4500 42.5px,#ff2700 43.5px,#ff1300 44.5px,#ff4200 45.5px,#d9f926 46.5px,#c2ff3d 47.5px,#e3ff1c 51.5px,#f6ff09 56.5px,#fffe00 65.5px,#fff500 96.5px,#fffc00 126.5px,#faff05 134.5px,#e9ff16 141.5px,#d7ff28 144.5px,#bfff40 146.5px,#a8ff57 147.5px,#7fff80 148.5px,#2bfad4 149.5px,#006ffd 150.5px,#00009c 151.5px,#000080 152.5px,#00008a 153.5px,#0b94e7 154.5px,#7dff82 155.5px,#c7ff38 156.5px,#e2ff1d 157.5px,#ecff13 158.5px,#f1ff0e 161.5px,#c0ff3f 191.5px,#b8ff47 195.5px)"></i><i style="background:linear-gradient(90deg,#fff200 0.5px,#ffeb00 22.5px,#ffdd00 30.5px,#ffcc00 34.5px,#ffbd00 36.5px,#ffa000 38.5px,#ff8900 39.5px,#ff2900 42.5px,#ff1600 43.5px,#ff1e00 44.5px,#e6e519 45.5px,#c0ff3f 46.5px,#c5ff3a 47.5px,#e0ff1f 50.5px,#f1ff0e 54.5px,#ffff00 63.5px,#fff500 93.5px,#fffb00 125.5px,#fbff04 134.5px,#eaff15 141.5px,#daff25 144.5px,#c7ff38 146.5px,#b6ff49 147.5px,#9bff64 148.5px,#66ff99 149.5px,#0fe5f0 150.5px,#0036ee 151.5px,#000087 152.5px,#000080 153.5px,#000799 154.5px,#15bae9 155.5px,#8fff70 156.5px,#cdff32 157.5px,#e4ff1b 158.5px,#edff12 159.5px,#f1ff0e 162.5px,#bfff40 192.5px,#b8ff47 195.5px)"></i><i style="background:linear-gradient(90deg,#ffef00 0.5px,#ffe800 21.5px,#ffda00 29.5px,#ffc900 33.5px,#ffba00 35.5px,#ff9e00 37.5px,#ff8800 38.5px,#ff2c00 41.5px,#ff1800 42.5px,#ff0d00 43.5px,#f2be0d 44.5px,#c0ff3f 45.5px,#c0ff3f 46.5px,#e2ff1d 50.5px,#f5ff0a 55.5px,#fffe00 65.5px,#fff500 96.5px,#fffc00 126.5px,#f9ff06 135.5px,#e8ff17 142.5px,#d6ff29 145.5px,#c0ff3f 147.5px,#acff53 148.5px,#8aff75 149.5px,#48ffb7 150.5px,#02b9fd 151.5px,#0011d1 152.5px,#000080 153.5px,#000080 154.5px,#0015a9 155.5px,#25dbda 156.5px,#9dff62 157.5px,#d2ff2d 158.5px,#e6ff19 159.5px,#eeff11 160.5px,#f1ff0e 163.5px,#c0ff3f 192.5px,#b9ff46 195.5px)"></i><i style="background:linear-gradient(90deg,#ffec00 0.5px,#ffe400 21.5px,#ffd400 29.5px,#ffc000 33.5px,#ffab00 35.5px,#ff9c00 36.5px,#ff8700 37.5px,#ff2e00 40.5px,#ff0a00 42.5px,#f98c06 43.5px,#c5ff3a 44.5px,#bcff43 45.5px,#dfff20 49.5px,#f0ff0f 53.5px,#ffff00 63.5px,#fff500 93.5px,#fffb00 125.5px,#fbff04 134.5px,#e9ff16 142.5px,#daff25 145.5px,#c7ff38 147.5px,#b8ff47 148.5px,#a0ff5f 149.5px,#77ff88 150.5px,#27fad8 151.5px,#007dff 152.5px,#0002ae 153.5px,#000080 154.5px,#000080 155.5px,#002ac3 156.5px,#39eec6 157.5px,#a9ff56 158.5px,#d5ff2a 159.5px,#e7ff18 160.5px,#f1ff0e 162.5px,#e7ff18 171.5px,#baff45 195.5px)"></i><i style="background:linear-gradient(90deg,#ffe900 0.5px,#ffe100 20.5px,#ffd100 28.5px,#ffbc00 32.5px,#ffa800 34.5px,#ff9900 35.5px,#ff8500 36.5px,#ff3000 39.5px,#ff0c00 41.5px,#ff5700 42.5px,#cefd31 43.5px,#b8ff47 44.5px,#dbff24 48.5px,#eeff11 52.5px,#fdff02 61.5px,#fff500 96.5px,#fffd00 127.5px,#f8ff07 136.5px,#e7ff18 143.5px,#d6ff29 146.5px,#c0ff3f 148.5px,#afff50 149.5px,#93ff6c 150.5px,#5fffa0 151.5px,#0ee8f1 152.5px,#0045f7 153.5px,#000092 154.5px,#000080 155.5px,#000080 156.5px,#004ada 157.5px,#4df9b2 158.5px,#b2ff4d 159.5px,#d8ff27 160.5px,#e8ff17 161.5px,#f1ff0e 163.5px,#e6ff19 172.5px,#bbff44 195.5px)"></i><i style="background:linear-gradient(90deg,#ffe600 0.5px,#ffde00 19.5px,#ffce00 27.5px,#ffb900 31.5px,#ffa500 33.5px,#ff8300 35.5px,#ff3200 38.5px,#ff1d00 39.5px,#ff0f00 40.5px,#ff2c00 41.5px,#daf025 42.5px,#b6ff49 43.5px,#bbff44 44.5px,#deff21 48.5px,#f2ff0d 53.5px,#fffe00 64.5px,#fff600 95.5px,#fffd00 127.5px,#f9ff06 136.5px,#e8ff17 143.5px,#d1ff2e 147.5px,#b9ff46 149.5px,#a5ff5a 150.5px,#83ff7c 151.5px,#42ffbd 152.5px,#02c1fd 153.5px,#001be4 154.5px,#000083 155.5px,#000080 156.5px,#000083 157.5px,#0472e5 158.5px,#60ff9f 159.5px,#b9ff46 160.5px,#dbff24 161.5px,#e9ff16 162.5px,#f1ff0e 164.5px,#e4ff1b 174.5px,#bcff43 195.5px)"></i><i style="background:linear-gradient(90deg,#ffe200 0.5px,#ffda00 19.5px,#ffca00 26.5px,#ffb500 30.5px,#ffa100 32.5px,#ff8000 34.5px,#ff3300 37.5px,#ff1f00 38.5px,#ff1100 39.5px,#ff1200 40.5px,#e9d616 41.5px,#b5ff4a 42.5px,#b6ff49 43.5px,#daff25 47.5px,#f0ff0f 52.5px,#ffff00 63.5px,#fff600 95.5px,#fffd00 127.5px,#f7ff08 137.5px,#e5ff1a 144.5px,#d5ff2a 147.5px,#c1ff3e 149.5px,#b1ff4e 150.5px,#99ff66 151.5px,#70ff8f 152.5px,#24fbdb 153.5px,#008cff 154.5px,#0007c3 155.5px,#000080 156.5px,#000080 157.5px,#00008f 158.5px,#0a97ec 159.5px,#73ff8c 160.5px,#bfff40 161.5px,#ddff22 162.5px,#e9ff16 163.5px,#f1ff0e 165.5px,#e4ff1b 175.5px,#bdff42 195.5px)"></i><i style="background:linear-gradient(90deg,#ffdf00 0.5px,#ffd600 18.5px,#ffc700 25.5px,#ffb100 29.5px,#ff9d00 31.5px,#ff7d00 33.5px,#ff3400 36.5px,#ff2000 37.5px,#ff0700 39.5px,#f4ac0b 40.5px,#b7ff48 41.5px,#b1ff4e 42.5px,#d7ff28 46.5px,#ebff14 50.5px,#faff05 58.5px,#fffb00 70.5px,#fff700 107.5px,#fcff03 133.5px,#edff12 142.5px,#d8ff27 147.5px,#c7ff38 149.5px,#baff45 150.5px,#a8ff57 151.5px,#8cff73 152.5px,#59ffa6 153.5px,#0debf2 154.5px,#0056fd 155.5px,#0000a3 156.5px,#000080 157.5px,#000080 158.5px,#00089b 159.5px,#11b9ee 160.5px,#83ff7c 161.5px,#c4ff3b 162.5px,#deff21 163.5px,#e9ff16 164.5px,#f0ff0f 166.5px,#e4ff1b 176.5px,#beff41 195.5px)"></i><i style="background:linear-gradient(90deg,#ffdb00 0.5px,#ffd200 17.5px,#ffc300 24.5px,#ffad00 28.5px,#ff9900 30.5px,#ff7a00 32.5px,#ff3400 35.5px,#ff2100 36.5px,#ff0700 38.5px,#fb7904 39.5px,#bfff40 40.5px,#aeff51 41.5px,#d9ff26 46.5px,#eeff11 51.5px,#feff01 62.5px,#fff600 98.5px,#fffe00 128.5px,#f4ff0b 139.5px,#e4ff1b 145.5px,#ccff33 149.5px,#b3ff4c 151.5px,#9eff61 152.5px,#7cff83 153.5px,#3effc1 154.5px,#02c9fd 155.5px,#0029f0 156.5px,#00008c 157.5px,#000080 158.5px,#000080 159.5px,#0015ac 160.5px,#1dd5e2 161.5px,#8fff70 162.5px,#c7ff38 163.5px,#dfff20 164.5px,#e9ff16 165.5px,#f0ff0f 168.5px,#ceff31 188.5px,#bfff40 195.5px)"></i><i style="background:linear-gradient(90deg,#ffd700 0.5px,#ffce00 16.5px,#ffbe00 23.5px,#ffa800 27.5px,#ff9400 29.5px,#ff7600 31.5px,#ff2200 35.5px,#ff0800 37.5px,#ff4800 38.5px,#cafa35 39.5px,#aaff55 40.5px,#bbff44 42.5px,#d6ff29 45.5px,#ecff13 50.5px,#fcff03 60.5px,#fff700 91.5px,#fffd00 126.5px,#f8ff07 137.5px,#e5ff1a 145.5px,#cfff30 149.5px,#bbff44 151.5px,#abff54 152.5px,#92ff6d 153.5px,#69ff96 154.5px,#22fcdd 155.5px,#0099ff 156.5px,#000ed7 157.5px,#000082 158.5px,#000080 160.5px,#0025c3 161.5px,#2ae8d5 162.5px,#98ff67 163.5px,#caff35 164.5px,#dfff20 165.5px,#e9ff16 166.5px,#f0ff0f 169.5px,#d1ff2e 187.5px,#c0ff3f 195.5px)"></i><i style="background:linear-gradient(90deg,#ffd300 0.5px,#ffca00 15.5px,#ffba00 22.5px,#ffa400 26.5px,#ff8200 29.5px,#ff5e00 31.5px,#ff2200 34.5px,#ff0a00 36.5px,#fe2300 37.5px,#d8eb27 38.5px,#a9ff56 39.5px,#abff54 40.5px,#d1ff2e 44.5px,#e7ff18 48.5px,#f8ff07 56.5px,#fffd00 68.5px,#fff700 105.5px,#fcff03 133.5px,#ecff13 143.5px,#d9ff26 148.5px,#c1ff3e 151.5px,#b4ff4b 152.5px,#a1ff5e 153.5px,#84ff7b 154.5px,#53ffac 155.5px,#0cedf3 156.5px,#0066ff 157.5px,#0002b7 158.5px,#000080 159.5px,#000080 161.5px,#003dd7 162.5px,#38f2c7 163.5px,#9eff61 164.5px,#cbff34 165.5px,#dfff20 166.5px,#e8ff17 167.5px,#efff10 170.5px,#d4ff2b 186.5px,#c0ff3f 195.5px)"></i><i style="background:linear-gradient(90deg,#ffcf00 0.5px,#ffc600 14.5px,#ffb500 21.5px,#ff9e00 25.5px,#ff7d00 28.5px,#ff4600 31.5px,#ff2200 33.5px,#ff0b00 35.5px,#fe0d00 36.5px,#e8cf17 37.5px,#a9ff56 38.5px,#a7ff58 39.5px,#cdff32 43.5px,#e4ff1b 47.5px,#f5ff0a 54.5px,#fffe00 67.5px,#fff800 103.5px,#fdff02 132.5px,#edff12 143.5px,#dbff24 148.5px,#c6ff39 151.5px,#acff53 153.5px,#97ff68 154.5px,#75ff8a 155.5px,#3affc5 156.5px,#02cefd 157.5px,#0038f8 158.5px,#000099 159.5px,#000080 160.5px,#000081 162.5px,#0058e4 163.5px,#43f9bc 164.5px,#a2ff5d 165.5px,#ccff33 166.5px,#dfff20 167.5px,#ecff13 169.5px,#ecff13 174.5px,#c1ff3e 195.5px)"></i><i style="background:linear-gradient(90deg,#ffca00 0.5px,#ffbf00 14.5px,#ffb000 20.5px,#ff9900 24.5px,#ff7800 27.5px,#ff2200 32.5px,#fe0400 35.5px,#f2a60c 36.5px,#adff52 37.5px,#a2ff5d 38.5px,#d0ff2f 43.5px,#e8ff17 48.5px,#f9ff06 57.5px,#fffd00 70.5px,#fff800 109.5px,#fdff02 132.5px,#edff12 143.5px,#d7ff28 149.5px,#c0ff3f 152.5px,#a4ff5b 154.5px,#8bff74 155.5px,#62ff9d 156.5px,#1ffce0 157.5px,#00a3ff 158.5px,#0015e8 159.5px,#000088 160.5px,#000080 161.5px,#000080 162.5px,#000088 163.5px,#0272e9 164.5px,#4dfcb2 165.5px,#a5ff5a 166.5px,#ccff33 167.5px,#deff21 168.5px,#ebff14 170.5px,#ebff14 175.5px,#c2ff3d 195.5px)"></i><i style="background:linear-gradient(90deg,#ffc500 0.5px,#ffba00 13.5px,#ffaa00 19.5px,#ff9300 23.5px,#ff7200 26.5px,#ff2100 31.5px,#fe0300 34.5px,#f97a05 35.5px,#b5ff4a 36.5px,#9fff60 37.5px,#b0ff4f 39.5px,#d3ff2c 43.5px,#e9ff16 48.5px,#faff05 58.5px,#fffc00 72.5px,#fff900 112.5px,#fcff03 132.5px,#ebff14 144.5px,#d4ff2b 150.5px,#bbff44 153.5px,#adff52 154.5px,#9aff65 155.5px,#7dff82 156.5px,#4dffb2 157.5px,#0beef4 158.5px,#0073ff 159.5px,#0005ca 160.5px,#000080 161.5px,#000080 163.5px,#000092 164.5px,#0485f1 165.5px,#53feac 166.5px,#a7ff58 167.5px,#ccff33 168.5px,#ddff22 169.5px,#eaff15 171.5px,#eaff15 176.5px,#c3ff3c 195.5px)"></i><i style="background:linear-gradient(90deg,#ffc000 0.5px,#ffb500 12.5px,#ffa000 19.5px,#ff8300 23.5px,#ff5e00 26.5px,#ff2000 30.5px,#fe0400 33.5px,#fe4f01 34.5px,#c1fb3e 35.5px,#9cff63 36.5px,#a0ff5f 37.5px,#c7ff38 41.5px,#dfff20 45.5px,#f2ff0d 52.5px,#ffff00 67.5px,#fff900 104.5px,#fcff03 132.5px,#ebff14 144.5px,#d6ff29 150.5px,#c0ff3f 153.5px,#a5ff5a 155.5px,#90ff6f 156.5px,#6dff92 157.5px,#34ffcb 158.5px,#02d1fd 159.5px,#0045fd 160.5px,#0000ab 161.5px,#000080 162.5px,#000080 164.5px,#000498 165.5px,#0598f4 166.5px,#59ffa6 167.5px,#a8ff57 168.5px,#cbff34 169.5px,#dcff23 170.5px,#e9ff16 172.5px,#e9ff16 177.5px,#c4ff3b 195.5px)"></i><i style="background:linear-gradient(90deg,#ffba00 0.5px,#ffaf00 11.5px,#ff9e00 17.5px,#ff8500 21.5px,#ff6600 24.5px,#ff1f00 29.5px,#ff0400 32.5px,#fd2f00 33.5px,#cdf032 34.5px,#9aff65 35.5px,#9bff64 36.5px,#cbff34 41.5px,#e4ff1b 46.5px,#f6ff09 55.5px,#fffd00 71.5px,#fffa00 111.5px,#fcff03 132.5px,#ecff13 144.5px,#d7ff28 150.5px,#c4ff3b 153.5px,#aeff51 155.5px,#9dff62 156.5px,#83ff7c 157.5px,#5bffa4 158.5px,#1bfce4 159.5px,#00aaff 160.5px,#0021f2 161.5px,#000092 162.5px,#000080 163.5px,#000080 165.5px,#00089d 166.5px,#08a4f6 167.5px,#5effa1 168.5px,#a8ff57 169.5px,#caff35 170.5px,#daff25 171.5px,#e8ff17 173.5px,#e9ff16 177.5px,#c5ff3a 195.5px)"></i><i style="background:linear-gradient(90deg,#ffb400 0.5px,#ffa700 11.5px,#ff9200 17.5px,#ff7e00 20.5px,#ff5f00 23.5px,#ff1d00 28.5px,#ff0400 31.5px,#fc1900 32.5px,#dbe024 33.5px,#9aff65 34.5px,#96ff69 35.5px,#c6ff39 40.5px,#e1ff1e 45.5px,#f3ff0c 53.5px,#fffe00 70.5px,#fffa00 110.5px,#fcff03 131.5px,#ecff13 144.5px,#d9ff26 150.5px,#bfff40 154.5px,#a7ff58 156.5px,#93ff6c 157.5px,#76ff89 158.5px,#47ffb8 159.5px,#09eef6 160.5px,#007fff 161.5px,#000bdd 162.5px,#000086 163.5px,#000080 164.5px,#000080 166.5px,#000ba7 167.5px,#09aff6 168.5px,#60ff9f 169.5px,#a7ff58 170.5px,#c8ff37 171.5px,#d9ff26 172.5px,#e6ff19 174.5px,#e8ff17 178.5px,#c6ff39 195.5px)"></i><i style="background:linear-gradient(90deg,#ffae00 0.5px,#ffa000 10.5px,#ff8a00 16.5px,#ff6e00 20.5px,#ff3f00 24.5px,#ff1c00 27.5px,#ff0500 30.5px,#fc0c00 31.5px,#e6c919 32.5px,#9bff64 33.5px,#92ff6d 34.5px,#c9ff36 40.5px,#e2ff1d 45.5px,#f5ff0a 54.5px,#fffe00 72.5px,#fffb00 114.5px,#fbff04 132.5px,#eaff15 145.5px,#d6ff29 151.5px,#c3ff3c 154.5px,#aeff51 156.5px,#9fff60 157.5px,#88ff77 158.5px,#66ff99 159.5px,#2fffd0 160.5px,#01d4fe 161.5px,#0054ff 162.5px,#0002c1 163.5px,#000080 164.5px,#000080 167.5px,#000fad 168.5px,#0ab8f5 169.5px,#61ff9e 170.5px,#a5ff5a 171.5px,#c6ff39 172.5px,#d6ff29 173.5px,#e4ff1b 175.5px,#e7ff18 179.5px,#c9ff36 194.5px,#c7ff38 195.5px)"></i><i style="background:linear-gradient(90deg,#ffa600 0.5px,#ff9900 9.5px,#ff8200 15.5px,#ff6700 19.5px,#ff1a00 26.5px,#ff0400 29.5px,#fb0500 30.5px,#f0ae0f 31.5px,#9fff60 32.5px,#8eff71 33.5px,#9fff60 35.5px,#c5ff3a 39.5px,#e0ff1f 44.5px,#f2ff0d 52.5px,#ffff00 70.5px,#fffb00 111.5px,#fcff03 131.5px,#ecff13 144.5px,#d7ff28 151.5px,#beff41 155.5px,#a7ff58 157.5px,#96ff69 158.5px,#7cff83 159.5px,#54ffab 160.5px,#18fbe7 161.5px,#00b0ff 162.5px,#002ffa 163.5px,#0000a6 164.5px,#000080 165.5px,#000080 168.5px,#0013b2 169.5px,#0bbdf4 170.5px,#60ff9f 171.5px,#a3ff5c 172.5px,#c3ff3c 173.5px,#d4ff2b 174.5px,#e2ff1d 176.5px,#e6ff19 180.5px,#caff35 194.5px,#c8ff37 195.5px)"></i><i style="background:linear-gradient(90deg,#ff9f00 0.5px,#ff8e00 9.5px,#ff7400 15.5px,#ff5500 19.5px,#ff1800 25.5px,#ff0400 28.5px,#fb0100 29.5px,#f3910b 30.5px,#a4ff5b 31.5px,#8bff74 32.5px,#90ff6f 33.5px,#c0ff3f 38.5px,#ddff22 43.5px,#f0ff0f 51.5px,#ffff00 70.5px,#fffc00 112.5px,#fbff04 131.5px,#ebff14 145.5px,#d4ff2b 152.5px,#b9ff46 156.5px,#a0ff5f 158.5px,#8cff73 159.5px,#6eff91 160.5px,#40ffbf 161.5px,#08eff7 162.5px,#008aff 163.5px,#0014ef 164.5px,#000091 165.5px,#000080 166.5px,#000080 169.5px,#0015b5 170.5px,#0bbff4 171.5px,#5dffa2 172.5px,#9fff60 173.5px,#c0ff3f 174.5px,#d1ff2e 175.5px,#e0ff1f 177.5px,#e4ff1b 181.5px,#cbff34 194.5px,#c9ff36 195.5px)"></i><i style="background:linear-gradient(90deg,#ff9600 0.5px,#ff8600 8.5px,#ff6c00 14.5px,#ff4400 19.5px,#ff1600 24.5px,#ff0400 27.5px,#fa0000 28.5px,#f87706 29.5px,#acff53 30.5px,#88ff77 31.5px,#8bff74 32.5px,#c3ff3c 38.5px,#deff21 43.5px,#f0ff0f 51.5px,#ffff00 70.5px,#fffc00 114.5px,#faff05 133.5px,#e9ff16 146.5px,#d1ff2e 153.5px,#bdff42 156.5px,#a8ff57 158.5px,#97ff68 159.5px,#81ff7e 160.5px,#5fffa0 161.5px,#2affd5 162.5px,#01d7fe 163.5px,#0065ff 164.5px,#0007da 165.5px,#000086 166.5px,#000080 167.5px,#000080 170.5px,#0016b8 171.5px,#0abef5 172.5px,#58ffa7 173.5px,#9bff64 174.5px,#bcff43 175.5px,#ceff31 176.5px,#deff21 178.5px,#e3ff1c 182.5px,#ccff33 194.5px,#caff35 195.5px)"></i><i style="background:linear-gradient(90deg,#ff8d00 0.5px,#ff7b00 8.5px,#ff5d00 14.5px,#ff1300 23.5px,#ff0300 26.5px,#fa0000 27.5px,#fa5e03 28.5px,#b3fc4c 29.5px,#86ff79 30.5px,#86ff79 31.5px,#bfff40 37.5px,#dbff24 42.5px,#efff10 50.5px,#fdff02 68.5px,#fffd00 116.5px,#f8ff07 135.5px,#e7ff18 147.5px,#d3ff2c 153.5px,#b8ff47 157.5px,#a0ff5f 159.5px,#8eff71 160.5px,#74ff8b 161.5px,#4effb1 162.5px,#15fcea 163.5px,#00b8ff 164.5px,#0042ff 165.5px,#0001c2 166.5px,#000081 167.5px,#000080 171.5px,#0015b8 172.5px,#08b9f7 173.5px,#52ffad 174.5px,#95ff6a 175.5px,#b8ff47 176.5px,#caff35 177.5px,#dbff24 179.5px,#e1ff1e 183.5px,#cdff32 194.5px,#caff35 195.5px)"></i><i style="background:linear-gradient(90deg,#ff8400 0.5px,#ff7200 7.5px,#ff5400 13.5px,#ff1100 22.5px,#ff0200 25.5px,#fa0000 26.5px,#fc4b00 27.5px,#baf845 28.5px,#84ff7b 29.5px,#82ff7d 30.5px,#c2ff3d 37.5px,#dcff23 42.5px,#efff10 50.5px,#fdff02 69.5px,#fffe00 118.5px,#f5ff0a 138.5px,#e2ff1d 149.5px,#caff35 155.5px,#b3ff4c 158.5px,#99ff66 160.5px,#84ff7b 161.5px,#67ff98 162.5px,#3bffc4 163.5px,#07f0f8 164.5px,#0098ff 165.5px,#0026f9 166.5px,#0000aa 167.5px,#000080 168.5px,#000080 172.5px,#0013b6 173.5px,#06b1f9 174.5px,#49ffb6 175.5px,#8fff70 176.5px,#b3ff4c 177.5px,#c6ff39 178.5px,#d8ff27 180.5px,#dfff20 183.5px,#d4ff2b 191.5px,#cbff34 195.5px)"></i><i style="background:linear-gradient(90deg,#ff7a00 0.5px,#ff6600 7.5px,#ff4500 13.5px,#ff0f00 21.5px,#fe0100 24.5px,#f90000 25.5px,#fb3c00 26.5px,#c1f33e 27.5px,#82ff7d 28.5px,#7dff82 29.5px,#beff41 36.5px,#d9ff26 41.5px,#edff12 49.5px,#fcff03 67.5px,#ffff00 119.5px,#f3ff0c 140.5px,#e0ff1f 150.5px,#c6ff39 156.5px,#adff52 159.5px,#90ff6f 161.5px,#79ff86 162.5px,#58ffa7 163.5px,#27ffd8 164.5px,#01dcfe 165.5px,#0078ff 166.5px,#0011ef 167.5px,#000097 168.5px,#000080 169.5px,#000080 173.5px,#000fb2 174.5px,#04a5fb 175.5px,#40fdbf 176.5px,#87ff78 177.5px,#adff52 178.5px,#c2ff3d 179.5px,#ceff31 180.5px,#daff25 182.5px,#ddff22 186.5px,#ccff33 195.5px)"></i><i style="background:linear-gradient(90deg,#ff6f00 0.5px,#ff5800 7.5px,#ff2a00 15.5px,#ff0800 21.5px,#fe0100 23.5px,#f80000 24.5px,#fa3100 25.5px,#c7ec38 26.5px,#81ff7e 27.5px,#79ff86 28.5px,#89ff76 30.5px,#b9ff46 35.5px,#d6ff29 40.5px,#ecff13 48.5px,#fbff04 65.5px,#fffd00 97.5px,#fcff03 128.5px,#edff12 144.5px,#d6ff29 153.5px,#bbff44 158.5px,#a7ff58 160.5px,#87ff78 162.5px,#6dff92 163.5px,#48ffb7 164.5px,#14fceb 165.5px,#00c2ff 166.5px,#0059ff 167.5px,#0006de 168.5px,#00008a 169.5px,#000080 170.5px,#000080 174.5px,#000bad 175.5px,#0295fc 176.5px,#35fbca 177.5px,#7eff81 178.5px,#a7ff58 179.5px,#bdff42 180.5px,#caff35 181.5px,#d7ff28 183.5px,#dbff24 187.5px,#ccff33 195.5px)"></i><i style="background:linear-gradient(90deg,#ff6400 0.5px,#ff4b00 7.5px,#ff0a00 19.5px,#fd0000 22.5px,#f70000 23.5px,#f92900 24.5px,#cce733 25.5px,#80ff7f 26.5px,#75ff8a 27.5px,#84ff7b 29.5px,#b4ff4b 34.5px,#d3ff2c 39.5px,#e8ff17 46.5px,#f9ff06 61.5px,#fffe00 88.5px,#fcff03 127.5px,#edff12 144.5px,#d7ff28 153.5px,#beff41 158.5px,#a1ff5e 161.5px,#92ff6d 162.5px,#7dff82 163.5px,#61ff9e 164.5px,#37ffc8 165.5px,#07f3f8 166.5px,#00a6ff 167.5px,#003cff 168.5px,#0001c9 169.5px,#000084 170.5px,#000080 172.5px,#000080 175.5px,#0007a5 176.5px,#0085fb 177.5px,#2af7d5 178.5px,#74ff8b 179.5px,#a0ff5f 180.5px,#b8ff47 181.5px,#c6ff39 182.5px,#d4ff2b 184.5px,#d8ff27 188.5px,#cdff32 195.5px)"></i><i style="background:linear-gradient(90deg,#ff5800 0.5px,#ff3e00 7.5px,#ff0b00 17.5px,#fc0000 21.5px,#f60000 22.5px,#f92500 23.5px,#cfe330 24.5px,#7eff81 25.5px,#71ff8e 26.5px,#7fff80 28.5px,#b8ff47 34.5px,#d4ff2b 39.5px,#eaff15 47.5px,#faff05 64.5px,#fffe00 96.5px,#fbff04 128.5px,#ebff14 145.5px,#d5ff2a 154.5px,#baff45 159.5px,#9aff65 162.5px,#89ff76 163.5px,#73ff8c 164.5px,#53ffac 165.5px,#25ffda 166.5px,#01e2fe 167.5px,#008aff 168.5px,#0024fb 169.5px,#0000b4 170.5px,#000081 171.5px,#000080 176.5px,#00049b 177.5px,#0070f7 178.5px,#1ff2e0 179.5px,#6aff95 180.5px,#98ff67 181.5px,#b3ff4c 182.5px,#c2ff3d 183.5px,#d1ff2e 185.5px,#d6ff29 189.5px,#cdff32 195.5px)"></i><i style="background:linear-gradient(90deg,#ff4c00 0.5px,#ff2c00 8.5px,#ff0800 16.5px,#fa0000 20.5px,#f50000 21.5px,#f82300 22.5px,#d1e12e 23.5px,#7cff83 24.5px,#6dff92 25.5px,#7aff85 27.5px,#b3ff4c 33.5px,#d1ff2e 38.5px,#e6ff19 45.5px,#f7ff08 59.5px,#fffe00 89.5px,#fbff04 127.5px,#ebff14 145.5px,#d6ff29 154.5px,#bdff42 159.5px,#a1ff5e 162.5px,#80ff7f 164.5px,#68ff97 165.5px,#44ffbb 166.5px,#14fdeb 167.5px,#00cbff 168.5px,#006fff 169.5px,#0011f3 170.5px,#0000a2 171.5px,#000080 172.5px,#000080 177.5px,#000096 178.5px,#005af1 179.5px,#15e9ea 180.5px,#5effa1 181.5px,#90ff6f 182.5px,#acff53 183.5px,#bdff42 184.5px,#cdff32 186.5px,#d4ff2b 190.5px,#cdff32 195.5px)"></i><i style="background:linear-gradient(90deg,#ff4100 0.5px,#ff0500 15.5px,#fc0000 18.5px,#f40000 20.5px,#f82300 21.5px,#d1e12e 22.5px,#7aff85 23.5px,#69ff96 24.5px,#6cff93 25.5px,#afff50 32.5px,#ceff31 37.5px,#e4ff1b 44.5px,#f6ff09 58.5px,#ffff00 89.5px,#faff05 128.5px,#ebff14 145.5px,#d7ff28 154.5px,#bfff40 159.5px,#a7ff58 162.5px,#8bff74 164.5px,#77ff88 165.5px,#5bffa4 166.5px,#35ffca 167.5px,#07f6f8 168.5px,#00b3ff 169.5px,#0055ff 170.5px,#0007e6 171.5px,#000094 172.5px,#000080 173.5px,#000080 178.5px,#00008d 179.5px,#0045e9 180.5px,#0dddf2 181.5px,#51ffae 182.5px,#87ff78 183.5px,#a6ff59 184.5px,#b8ff47 185.5px,#caff35 187.5px,#d1ff2e 190.5px,#cdff32 195.5px)"></i><i style="background:linear-gradient(90deg,#ff3500 0.5px,#ff0300 14.5px,#f70000 18.5px,#f20000 19.5px,#f72600 20.5px,#cfe230 21.5px,#77ff88 22.5px,#65ff9a 23.5px,#68ff97 24.5px,#b2ff4d 32.5px,#cfff30 37.5px,#e7ff18 45.5px,#f7ff08 60.5px,#ffff00 95.5px,#f9ff06 131.5px,#e8ff17 147.5px,#d0ff2f 156.5px,#b4ff4b 161.5px,#94ff6b 164.5px,#83ff7c 165.5px,#6dff92 166.5px,#4fffb0 167.5px,#24ffdb 168.5px,#01e7fe 169.5px,#009bff 170.5px,#003cff 171.5px,#0002d6 172.5px,#00008a 173.5px,#000080 174.5px,#000080 179.5px,#000087 180.5px,#0031e1 181.5px,#07ccf8 182.5px,#42ffbd 183.5px,#7dff82 184.5px,#9eff61 185.5px,#b2ff4d 186.5px,#c6ff39 188.5px,#ceff31 191.5px,#ccff33 195.5px)"></i><i style="background:linear-gradient(90deg,#ff2a00 0.5px,#ff0200 12.5px,#f50000 17.5px,#f00000 18.5px,#f72a00 19.5px,#cbe434 20.5px,#73ff8c 21.5px,#61ff9e 22.5px,#63ff9c 23.5px,#adff52 31.5px,#ccff33 36.5px,#e3ff1c 43.5px,#f4ff0b 56.5px,#feff01 86.5px,#faff05 128.5px,#eaff15 146.5px,#d5ff2a 155.5px,#beff41 160.5px,#a6ff59 163.5px,#8dff72 165.5px,#7aff85 166.5px,#62ff9d 167.5px,#41ffbe 168.5px,#14feeb 169.5px,#00d4ff 170.5px,#0083ff 171.5px,#0027fd 172.5px,#0000c5 173.5px,#000085 174.5px,#000080 175.5px,#000080 180.5px,#000083 181.5px,#0021d3 182.5px,#03b7fc 183.5px,#34fdcb 184.5px,#72ff8d 185.5px,#96ff69 186.5px,#acff53 187.5px,#c1ff3e 189.5px,#cbff34 192.5px,#cbff34 195.5px)"></i><i style="background:linear-gradient(90deg,#ff1f00 0.5px,#fe0000 11.5px,#ee0000 17.5px,#f73300 18.5px,#c6e639 19.5px,#6eff91 20.5px,#5dffa2 21.5px,#5fffa0 22.5px,#b0ff4f 31.5px,#d1ff2e 37.5px,#e7ff18 45.5px,#f7ff08 61.5px,#feff01 98.5px,#f7ff08 132.5px,#e7ff18 148.5px,#ceff31 157.5px,#b3ff4c 162.5px,#94ff6b 165.5px,#71ff8e 167.5px,#57ffa8 168.5px,#33ffcc 169.5px,#08f8f7 170.5px,#00bfff 171.5px,#006dff 172.5px,#0017f8 173.5px,#0000b4 174.5px,#000082 175.5px,#000080 182.5px,#0013c4 183.5px,#019cfe 184.5px,#25f9da 185.5px,#65ff9a 186.5px,#8dff72 187.5px,#a5ff5a 188.5px,#b4ff4b 189.5px,#c3ff3c 191.5px,#c9ff36 195.5px)"></i><i style="background:linear-gradient(90deg,#ff1500 0.5px,#fd0000 9.5px,#f10000 15.5px,#ed0000 16.5px,#f94400 17.5px,#bcee43 18.5px,#69ff96 19.5px,#58ffa7 20.5px,#5affa5 21.5px,#acff53 30.5px,#ceff31 36.5px,#e5ff1a 44.5px,#f6ff09 60.5px,#feff01 96.5px,#f7ff08 132.5px,#e7ff18 148.5px,#cfff30 157.5px,#b6ff49 162.5px,#9bff64 165.5px,#7dff82 167.5px,#68ff97 168.5px,#4bffb4 169.5px,#24ffdb 170.5px,#02ecfd 171.5px,#00aaff 172.5px,#0057ff 173.5px,#000bf1 174.5px,#0000a6 175.5px,#000080 176.5px,#000080 183.5px,#000ab1 184.5px,#007ffd 185.5px,#17f1e8 186.5px,#57ffa8 187.5px,#83ff7c 188.5px,#9eff61 189.5px,#aeff51 190.5px,#bfff40 192.5px,#c6ff39 195.5px)"></i><i style="background:linear-gradient(90deg,#ff0c00 0.5px,#fc0000 7.5px,#eb0000 15.5px,#f75603 16.5px,#b0f54f 17.5px,#63ff9c 18.5px,#54ffab 19.5px,#55ffaa 20.5px,#a7ff58 29.5px,#cbff34 35.5px,#e3ff1c 43.5px,#f5ff0a 58.5px,#fdff02 92.5px,#f8ff07 130.5px,#e8ff17 147.5px,#d0ff2f 157.5px,#b8ff47 162.5px,#a0ff5f 165.5px,#87ff78 167.5px,#75ff8a 168.5px,#5dffa2 169.5px,#3effc1 170.5px,#15feea 171.5px,#00dcff 172.5px,#0096ff 173.5px,#0043ff 174.5px,#0005e6 175.5px,#00009b 176.5px,#000080 177.5px,#000080 184.5px,#0004a1 185.5px,#0061f8 186.5px,#0de4f2 187.5px,#48ffb7 188.5px,#79ff86 189.5px,#96ff69 190.5px,#a8ff57 191.5px,#baff45 193.5px,#c1ff3e 195.5px)"></i><i style="background:linear-gradient(90deg,#ff0400 0.5px,#f70000 7.5px,#ec0000 14.5px,#f46d06 15.5px,#a1fa5e 16.5px,#5bffa4 17.5px,#4fffb0 18.5px,#58ffa7 20.5px,#a3ff5c 28.5px,#c8ff37 34.5px,#e1ff1e 42.5px,#f3ff0c 56.5px,#fdff02 88.5px,#f8ff07 129.5px,#e8ff17 147.5px,#d1ff2e 157.5px,#b4ff4b 163.5px,#9bff64 166.5px,#7fff80 168.5px,#6cff93 169.5px,#53ffac 170.5px,#31ffce 171.5px,#0afaf5 172.5px,#00caff 173.5px,#0083ff 174.5px,#0031ff 175.5px,#0001d9 176.5px,#000092 177.5px,#000080 178.5px,#000080 185.5px,#000094 186.5px,#0044ee 187.5px,#06d1f9 188.5px,#37ffc8 189.5px,#6dff92 190.5px,#8dff72 191.5px,#a1ff5e 192.5px,#b5ff4a 194.5px,#baff45 195.5px)"></i><i style="background:linear-gradient(90deg,#fd0000 0.5px,#ea0000 12.5px,#eb0300 13.5px,#f1870b 14.5px,#93ff6c 15.5px,#54ffab 16.5px,#49ffb6 17.5px,#53ffac 19.5px,#9eff61 27.5px,#c4ff3b 33.5px,#ddff22 40.5px,#f0ff0f 53.5px,#fcff03 81.5px,#f9ff06 126.5px,#eaff15 146.5px,#d5ff2a 156.5px,#bdff42 162.5px,#a0ff5f 166.5px,#88ff77 168.5px,#63ff9c 170.5px,#48ffb7 171.5px,#24ffdb 172.5px,#03f1fc 173.5px,#00b9ff 174.5px,#0070ff 175.5px,#0021fd 176.5px,#0000cd 177.5px,#00008b 178.5px,#000080 179.5px,#000080 186.5px,#000089 187.5px,#002be0 188.5px,#02b8fd 189.5px,#27fcd8 190.5px,#60ff9f 191.5px,#84ff7b 192.5px,#99ff66 193.5px,#b0ff4f 195.5px)"></i><i style="background:linear-gradient(90deg,#f70000 0.5px,#eb0000 10.5px,#e80000 11.5px,#eb0900 12.5px,#eaa313 13.5px,#82ff7d 14.5px,#4dffb2 15.5px,#44ffbb 16.5px,#4effb1 18.5px,#a2ff5d 27.5px,#c6ff39 33.5px,#e0ff1f 41.5px,#f2ff0d 55.5px,#fcff03 86.5px,#f8ff07 129.5px,#e8ff17 147.5px,#d3ff2c 157.5px,#b9ff46 163.5px,#9aff65 167.5px,#81ff7e 169.5px,#59ffa6 171.5px,#3cffc3 172.5px,#16ffe9 173.5px,#00e4ff 174.5px,#00a7ff 175.5px,#005fff 176.5px,#0015fa 177.5px,#0000bf 178.5px,#000086 179.5px,#000080 180.5px,#000080 187.5px,#000083 188.5px,#0017ce 189.5px,#009aff 190.5px,#18f6e7 191.5px,#52ffad 192.5px,#79ff86 193.5px,#91ff6e 194.5px,#a1ff5e 195.5px)"></i><i style="background:linear-gradient(90deg,#f20000 0.5px,#e80000 9.5px,#e50000 10.5px,#ed1300 11.5px,#e0bc1f 12.5px,#72ff8d 13.5px,#46ffb9 14.5px,#3fffc0 15.5px,#4affb5 17.5px,#9dff62 26.5px,#c2ff3d 32.5px,#deff21 40.5px,#f0ff0f 53.5px,#fbff04 82.5px,#f8ff07 127.5px,#eaff15 146.5px,#d3ff2c 157.5px,#bbff44 163.5px,#9fff60 167.5px,#89ff76 169.5px,#67ff98 171.5px,#4fffb0 172.5px,#30ffcf 173.5px,#0bfcf4 174.5px,#00d5ff 175.5px,#0097ff 176.5px,#004eff 177.5px,#000bf4 178.5px,#0000b3 179.5px,#000083 180.5px,#000080 183.5px,#000080 189.5px,#000bb8 190.5px,#0078fe 191.5px,#0de9f2 192.5px,#42ffbd 193.5px,#6eff91 194.5px,#89ff76 195.5px)"></i><i style="background:linear-gradient(90deg,#ee0000 0.5px,#e60000 8.5px,#e30000 9.5px,#f02200 10.5px,#d1d52e 11.5px,#63ff9c 12.5px,#3fffc0 13.5px,#3affc5 14.5px,#45ffba 16.5px,#98ff67 25.5px,#bfff40 31.5px,#d9ff26 38.5px,#edff12 50.5px,#faff05 75.5px,#f9ff06 124.5px,#ebff14 145.5px,#d4ff2b 157.5px,#b7ff48 164.5px,#9aff65 168.5px,#82ff7d 170.5px,#5effa1 172.5px,#45ffba 173.5px,#24ffdb 174.5px,#04f6fb 175.5px,#00c6ff 176.5px,#0086ff 177.5px,#003eff 178.5px,#0005ec 179.5px,#0000a8 180.5px,#000081 181.5px,#000080 190.5px,#0004a4 191.5px,#0057f8 192.5px,#05d7fa 193.5px,#30ffcf 194.5px,#61ff9e 195.5px)"></i><i style="background:linear-gradient(90deg,#ea0000 0.5px,#e30000 7.5px,#e10000 8.5px,#f33b00 9.5px,#bce743 10.5px,#55ffaa 11.5px,#38ffc7 12.5px,#35ffca 13.5px,#40ffbf 15.5px,#9cff63 25.5px,#c0ff3f 31.5px,#dcff23 39.5px,#efff10 52.5px,#fbff04 80.5px,#f8ff07 127.5px,#e8ff17 147.5px,#d2ff2d 158.5px,#b4ff4b 165.5px,#95ff6a 169.5px,#7bff84 171.5px,#55ffaa 173.5px,#3bffc4 174.5px,#18ffe7 175.5px,#01ebfe 176.5px,#00b6ff 177.5px,#0076ff 178.5px,#002fff 179.5px,#0002e2 180.5px,#00009e 181.5px,#000080 182.5px,#000080 191.5px,#000093 192.5px,#0038ed 193.5px,#01bdfe 194.5px,#20fbdf 195.5px)"></i><i style="background:linear-gradient(90deg,#e70000 0.5px,#e00000 7.5px,#f35604 8.5px,#a6f459 9.5px,#49ffb6 10.5px,#31ffce 11.5px,#2fffd0 12.5px,#44ffbb 15.5px,#97ff68 24.5px,#bdff42 30.5px,#daff25 38.5px,#eeff11 51.5px,#faff05 78.5px,#f8ff07 126.5px,#eaff15 146.5px,#d2ff2d 158.5px,#b6ff49 165.5px,#99ff66 169.5px,#75ff8a 172.5px,#4cffb3 174.5px,#30ffcf 175.5px,#0dfef2 176.5px,#00deff 177.5px,#00a7ff 178.5px,#0067ff 179.5px,#0021fe 180.5px,#0000d6 181.5px,#000095 182.5px,#000080 183.5px,#000080 192.5px,#000087 193.5px,#0020db 194.5px,#009dff 195.5px)"></i><i style="background:linear-gradient(90deg,#e40000 0.5px,#de0000 5.5px,#e10100 6.5px,#f17909 7.5px,#8efb71 8.5px,#3dffc2 9.5px,#2bffd4 10.5px,#2affd5 11.5px,#40ffbf 14.5px,#93ff6c 23.5px,#baff45 29.5px,#d5ff2a 36.5px,#eaff15 47.5px,#f8ff07 70.5px,#f9ff06 120.5px,#ecff13 144.5px,#d6ff29 157.5px,#bdff42 164.5px,#9dff62 169.5px,#7dff82 172.5px,#5affa5 174.5px,#43ffbc 175.5px,#25ffda 176.5px,#05fafa 177.5px,#00d0ff 178.5px,#0099ff 179.5px,#0015fb 181.5px,#0000ca 182.5px,#00008e 183.5px,#000080 184.5px,#000081 194.5px,#000ec4 195.5px)"></i><i style="background:linear-gradient(90deg,#e10000 0.5px,#dc0000 4.5px,#e20800 5.5px,#e89d14 6.5px,#76ff89 7.5px,#33ffcc 8.5px,#25ffda 9.5px,#25ffda 10.5px,#3bffc4 13.5px,#8eff71 22.5px,#b6ff49 28.5px,#d2ff2d 35.5px,#e8ff17 46.5px,#f7ff08 68.5px,#faff05 117.5px,#eeff11 142.5px,#d9ff26 156.5px,#beff41 164.5px,#a1ff5e 169.5px,#84ff7b 172.5px,#66ff99 174.5px,#39ffc6 176.5px,#1affe5 177.5px,#01f1fe 178.5px,#00c3ff 179.5px,#008aff 180.5px,#0049ff 181.5px,#000cf7 182.5px,#0000bf 183.5px,#000088 184.5px,#000080 185.5px,#000080 195.5px)"></i><i style="background:linear-gradient(90deg,#de0000 0.5px,#d90000 3.5px,#e61500 4.5px,#dabd25 5.5px,#5fffa0 6.5px,#29ffd6 7.5px,#1effe1 8.5px,#25ffda 10.5px,#91ff6e 22.5px,#b8ff47 28.5px,#d6ff29 36.5px,#ebff14 48.5px,#f8ff07 72.5px,#f8ff07 122.5px,#ebff14 145.5px,#d4ff2b 158.5px,#b6ff49 166.5px,#9cff63 170.5px,#7eff81 173.5px,#5fffa0 175.5px,#49ffb6 176.5px,#2fffd0 177.5px,#0ffef0 178.5px,#00e6ff 179.5px,#00b5ff 180.5px,#007bff 181.5px,#003bff 182.5px,#0006f0 183.5px,#0000b4 184.5px,#000084 185.5px,#000080 187.5px,#000080 195.5px)"></i><i style="background:linear-gradient(90deg,#da0000 0.5px,#d70000 2.5px,#ec2a00 3.5px,#c5db3a 4.5px,#4bffb4 5.5px,#20ffdf 6.5px,#18ffe7 7.5px,#20ffdf 9.5px,#8dff72 21.5px,#b4ff4b 27.5px,#d3ff2c 35.5px,#e9ff16 47.5px,#f8ff07 71.5px,#f8ff07 121.5px,#ebff14 145.5px,#d4ff2b 158.5px,#b8ff47 166.5px,#98ff67 171.5px,#78ff87 174.5px,#57ffa8 176.5px,#41ffbe 177.5px,#07fcf8 179.5px,#00d9ff 180.5px,#00a7ff 181.5px,#006dff 182.5px,#002dff 183.5px,#0002e7 184.5px,#0000aa 185.5px,#000082 186.5px,#000080 195.5px)"></i><i style="background:linear-gradient(90deg,#d60000 0.5px,#d60000 1.5px,#f04a02 2.5px,#a8ee57 3.5px,#39ffc6 4.5px,#18ffe7 5.5px,#12ffed 6.5px,#1bffe4 8.5px,#88ff77 20.5px,#b6ff49 27.5px,#d4ff2b 35.5px,#e9ff16 47.5px,#f8ff07 71.5px,#f8ff07 121.5px,#ebff14 145.5px,#d5ff2a 158.5px,#b9ff46 166.5px,#9bff64 171.5px,#7fff80 174.5px,#62ff9d 176.5px,#38ffc7 178.5px,#1bffe4 179.5px,#02f5fd 180.5px,#00ccff 181.5px,#0099ff 182.5px,#0020fe 184.5px,#0000dd 185.5px,#0000a0 186.5px,#000080 187.5px,#000080 195.5px)"></i><i style="background:linear-gradient(90deg,#d90100 0.5px,#ee730a 1.5px,#88f977 2.5px,#29ffd6 3.5px,#10ffef 4.5px,#0cfff3 5.5px,#16ffe9 7.5px,#84ff7b 19.5px,#b2ff4d 26.5px,#d2ff2d 34.5px,#e8ff17 46.5px,#f7ff08 69.5px,#f9ff06 118.5px,#edff12 143.5px,#d8ff27 157.5px,#bbff44 166.5px,#9fff60 171.5px,#84ff7b 174.5px,#5bffa4 177.5px,#2effd1 179.5px,#11ffee 180.5px,#00ebff 181.5px,#00bfff 182.5px,#008bff 183.5px,#0015fc 185.5px,#0000d3 186.5px,#000098 187.5px,#000080 188.5px,#000080 195.5px)"></i><i style="background:linear-gradient(90deg,#e4a117 0.5px,#68ff97 1.5px,#1cffe3 2.5px,#08fff7 3.5px,#06fff9 4.5px,#19ffe6 7.5px,#7fff80 18.5px,#aeff51 25.5px,#cfff30 33.5px,#e6ff19 44.5px,#f5ff0a 65.5px,#faff05 111.5px,#efff10 140.5px,#dcff23 155.5px,#c0ff3f 165.5px,#a2ff5d 171.5px,#7fff80 175.5px,#64ff9b 177.5px,#3effc1 179.5px,#08fdf7 181.5px,#00dfff 182.5px,#00b2ff 183.5px,#007eff 184.5px,#0044ff 185.5px,#000cf9 186.5px,#0000c8 187.5px,#000091 188.5px,#000080 189.5px,#000080 195.5px)"></i><i style="background:linear-gradient(90deg,#4bffb4 0.5px,#0ffff0 1.5px,#02fefd 2.5px,#01fffe 3.5px,#14ffeb 6.5px,#7aff85 17.5px,#abff54 24.5px,#cdff32 32.5px,#e4ff1b 43.5px,#f5ff0a 63.5px,#faff05 106.5px,#f1ff0e 138.5px,#deff21 154.5px,#c5ff3a 164.5px,#a4ff5b 171.5px,#84ff7b 175.5px,#5effa1 178.5px,#36ffc9 180.5px,#1bffe4 181.5px,#02f7fd 182.5px,#00d3ff 183.5px,#00a5ff 184.5px,#0070ff 185.5px,#0037ff 186.5px,#0006f3 187.5px,#0000be 188.5px,#00008b 189.5px,#000080 190.5px,#000080 195.5px)"></i><i style="background:linear-gradient(90deg,#08fef7 0.5px,#00f9ff 1.5px,#01fefe 3.5px,#22ffdd 7.5px,#76ff89 16.5px,#a7ff58 23.5px,#caff35 31.5px,#e3ff1c 42.5px,#f4ff0b 62.5px,#faff05 103.5px,#f2ff0d 136.5px,#e0ff1f 153.5px,#c6ff39 164.5px,#a6ff59 171.5px,#89ff76 175.5px,#66ff99 178.5px,#44ffbb 180.5px,#11ffee 182.5px,#00eeff 183.5px,#00c7ff 184.5px,#0098ff 185.5px,#002aff 187.5px,#0002eb 188.5px,#0000b4 189.5px,#000086 190.5px,#000080 191.5px,#000080 195.5px)"></i><i style="background:linear-gradient(90deg,#00f4ff 0.5px,#00f3ff 1.5px,#02fffd 3.5px,#79ff86 16.5px,#a8ff57 23.5px,#cbff34 31.5px,#e3ff1c 42.5px,#f4ff0b 62.5px,#faff05 103.5px,#f2ff0d 136.5px,#dfff20 154.5px,#c3ff3c 165.5px,#a3ff5c 172.5px,#84ff7b 176.5px,#60ff9f 179.5px,#3cffc3 181.5px,#08fdf7 183.5px,#00e3ff 184.5px,#00bbff 185.5px,#008bff 186.5px,#001eff 188.5px,#0000e2 189.5px,#0000aa 190.5px,#000083 191.5px,#000080 195.5px)"></i><i style="background:linear-gradient(90deg,#00f0ff 0.5px,#00fbff 2.5px,#0efff1 4.5px,#6cff93 14.5px,#9fff60 21.5px,#c5ff3a 29.5px,#deff21 39.5px,#f1ff0e 56.5px,#faff05 90.5px,#f5ff0a 130.5px,#e5ff1a 150.5px,#cdff32 162.5px,#b0ff4f 170.5px,#91ff6e 175.5px,#74ff8b 178.5px,#59ffa6 180.5px,#33ffcc 182.5px,#1affe5 183.5px,#03f9fc 184.5px,#00d8ff 185.5px,#00aeff 186.5px,#007fff 187.5px,#0014fd 189.5px,#0000d7 190.5px,#0000a1 191.5px,#000081 192.5px,#000080 195.5px)"></i><i style="background:linear-gradient(90deg,#00f1ff 0.5px,#01fefe 2.5px,#70ff8f 14.5px,#a1ff5e 21.5px,#c5ff3a 29.5px,#deff21 39.5px,#f2ff0d 57.5px,#fbff04 92.5px,#f5ff0a 131.5px,#e4ff1b 151.5px,#cbff34 163.5px,#acff53 171.5px,#8cff73 176.5px,#6fff90 179.5px,#52ffad 181.5px,#2bffd4 183.5px,#11ffee 184.5px,#00f1ff 185.5px,#00cdff 186.5px,#00a2ff 187.5px,#003dff 189.5px,#000bfa 190.5px,#0000cd 191.5px,#000098 192.5px,#000080 193.5px,#000080 195.5px)"></i><i style="background:linear-gradient(90deg,#00f3ff 0.5px,#04fffb 2.5px,#6bff94 13.5px,#9dff62 20.5px,#c3ff3c 28.5px,#ddff22 38.5px,#f0ff0f 55.5px,#fbff04 88.5px,#f6ff09 129.5px,#e5ff1a 150.5px,#ccff33 163.5px,#aeff51 171.5px,#90ff6f 176.5px,#69ff96 180.5px,#4bffb4 182.5px,#22ffdd 184.5px,#08fef7 185.5px,#00e6ff 186.5px,#00c1ff 187.5px,#0096ff 188.5px,#0031ff 190.5px,#0005f4 191.5px,#0000c3 192.5px,#000091 193.5px,#000080 194.5px,#000080 195.5px)"></i><i style="background:linear-gradient(90deg,#00f7ff 0.5px,#01fdfe 1.5px,#6fff90 13.5px,#9fff60 20.5px,#c4ff3b 28.5px,#dfff20 39.5px,#f2ff0d 57.5px,#fcff03 92.5px,#f6ff09 130.5px,#e4ff1b 151.5px,#caff35 164.5px,#abff54 172.5px,#8cff73 177.5px,#6fff90 180.5px,#44ffbb 183.5px,#19ffe6 185.5px,#03fafc 186.5px,#00dcff 187.5px,#00b5ff 188.5px,#0059ff 190.5px,#0025ff 191.5px,#0002ec 192.5px,#0000b9 193.5px,#00008a 194.5px,#000080 195.5px)"></i><i style="background:linear-gradient(90deg,#00fbff 0.5px,#03fffc 1.5px,#62ff9d 11.5px,#95ff6a 18.5px,#bdff42 26.5px,#daff25 36.5px,#efff10 52.5px,#fcff03 83.5px,#f9ff06 125.5px,#e9ff16 148.5px,#d0ff2f 162.5px,#b1ff4e 171.5px,#8fff70 177.5px,#6aff95 181.5px,#3dffc2 184.5px,#10ffef 186.5px,#00f2ff 187.5px,#00d1ff 188.5px,#00aaff 189.5px,#004dff 191.5px,#001aff 192.5px,#0000e3 193.5px,#0000af 194.5px,#000086 195.5px)"></i><i style="background:linear-gradient(90deg,#01fefe 0.5px,#6dff92 12.5px,#9dff62 19.5px,#c2ff3d 27.5px,#deff21 38.5px,#f2ff0d 56.5px,#feff01 89.5px,#f8ff07 128.5px,#e6ff19 150.5px,#ceff31 163.5px,#aeff51 172.5px,#8bff74 178.5px,#64ff9b 182.5px,#35ffca 185.5px,#08fef7 187.5px,#00e8ff 188.5px,#00c6ff 189.5px,#0071ff 191.5px,#0010fd 193.5px,#0000d8 194.5px,#0000a6 195.5px)"></i><i style="background:linear-gradient(90deg,#05fffa 0.5px,#69ff96 11.5px,#9fff60 19.5px,#c3ff3c 27.5px,#dfff20 38.5px,#f4ff0b 57.5px,#ffff00 90.5px,#f9ff06 128.5px,#e7ff18 150.5px,#ccff33 164.5px,#abff54 173.5px,#87ff78 179.5px,#5effa1 183.5px,#40ffbf 185.5px,#17ffe8 187.5px,#02fafd 188.5px,#00deff 189.5px,#0092ff 191.5px,#0035ff 193.5px,#0008f9 194.5px,#0000ce 195.5px)"></i><i style="background:linear-gradient(90deg,#09fff6 0.5px,#6cff93 11.5px,#a1ff5e 19.5px,#c7ff38 28.5px,#e2ff1d 40.5px,#f7ff08 61.5px,#fffe00 92.5px,#fbff04 126.5px,#e9ff16 149.5px,#cfff30 163.5px,#adff52 173.5px,#8aff75 179.5px,#65ff9a 183.5px,#39ffc6 186.5px,#0efff1 188.5px,#00f2ff 189.5px,#00afff 191.5px,#0059ff 193.5px,#0029ff 194.5px,#0003f3 195.5px)"></i><i style="background:linear-gradient(90deg,#0efff1 0.5px,#67ff98 10.5px,#9dff62 18.5px,#c4ff3b 27.5px,#dfff20 38.5px,#f5ff0a 57.5px,#fffe00 85.5px,#fcff03 125.5px,#e9ff16 149.5px,#d0ff2f 163.5px,#aeff51 173.5px,#8dff72 179.5px,#6bff94 183.5px,#43ffbc 186.5px,#1dffe2 188.5px,#07fef8 189.5px,#00e8ff 190.5px,#00a4ff 192.5px,#004dff 194.5px,#001eff 195.5px)"></i><i style="background:linear-gradient(90deg,#12ffed 0.5px,#6aff95 10.5px,#9fff60 18.5px,#c5ff3a 27.5px,#e2ff1d 39.5px,#f7ff08 60.5px,#fffd00 83.5px,#fcff03 126.5px,#e8ff17 150.5px,#ceff31 164.5px,#abff54 174.5px,#89ff76 180.5px,#65ff9a 184.5px,#3cffc3 187.5px,#15ffea 189.5px,#02f9fd 190.5px,#00deff 191.5px,#0098ff 193.5px,#0042ff 195.5px)"></i><i style="background:linear-gradient(90deg,#17ffe8 0.5px,#6dff92 10.5px,#a0ff5f 18.5px,#c6ff39 27.5px,#e2ff1d 39.5px,#f8ff07 60.5px,#fffd00 80.5px,#fffd00 116.5px,#f7ff08 136.5px,#e0ff1f 156.5px,#c3ff3c 168.5px,#9eff61 177.5px,#7dff82 182.5px,#53ffac 186.5px,#22ffdd 189.5px,#0cfff3 190.5px,#00f1ff 191.5px,#00b2ff 193.5px,#0063ff 195.5px)"></i><i style="background:linear-gradient(90deg,#1bffe4 0.5px,#70ff8f 10.5px,#a2ff5d 18.5px,#c7ff38 27.5px,#e2ff1d 39.5px,#f9ff06 60.5px,#fffc00 78.5px,#fffb00 113.5px,#fbff04 132.5px,#e4ff1b 154.5px,#c7ff38 167.5px,#a5ff5a 176.5px,#81ff7e 182.5px,#5affa5 186.5px,#2dffd2 189.5px,#05fdfa 191.5px,#00e8ff 192.5px,#00a7ff 194.5px,#0081ff 195.5px)"></i><i style="background:linear-gradient(90deg,#1fffe0 0.5px,#73ff8c 10.5px,#a3ff5c 18.5px,#c8ff37 27.5px,#e5ff1a 40.5px,#fcff03 63.5px,#fff800 92.5px,#fffe00 124.5px,#efff10 146.5px,#d5ff2a 162.5px,#b4ff4b 173.5px,#91ff6e 180.5px,#6aff95 185.5px,#47ffb8 188.5px,#26ffd9 190.5px,#11ffee 191.5px,#01f8fe 192.5px,#00bfff 194.5px,#009cff 195.5px)"></i><i style="background:linear-gradient(90deg,#23ffdc 0.5px,#75ff8a 10.5px,#a5ff5a 18.5px,#c8ff37 27.5px,#e5ff1a 40.5px,#fdff02 63.5px,#fff600 101.5px,#fdff02 132.5px,#e5ff1a 154.5px,#c6ff39 168.5px,#a3ff5c 177.5px,#7fff80 183.5px,#5affa5 187.5px,#30ffcf 190.5px,#09fff6 192.5px,#00efff 193.5px,#00b4ff 195.5px)"></i><i style="background:linear-gradient(90deg,#27ffd8 0.5px,#78ff87 10.5px,#a6ff59 18.5px,#ccff33 28.5px,#e9ff16 42.5px,#ffff00 65.5px,#fff400 96.5px,#fffc00 126.5px,#f6ff09 141.5px,#daff25 160.5px,#b9ff46 172.5px,#96ff69 180.5px,#73ff8c 185.5px,#48ffb7 189.5px,#16ffe9 192.5px,#03fcfc 193.5px,#00e6ff 194.5px,#00caff 195.5px)"></i><i style="background:linear-gradient(90deg,#2bffd4 0.5px,#7aff85 10.5px,#a8ff57 18.5px,#cdff32 28.5px,#e9ff16 42.5px,#ffff00 64.5px,#fff300 94.5px,#fffa00 124.5px,#faff05 137.5px,#e1ff1e 157.5px,#c1ff3e 170.5px,#9dff62 179.5px,#77ff88 185.5px,#4effb1 189.5px,#21ffde 192.5px,#0dfff2 193.5px,#00f6ff 194.5px,#00dcff 195.5px)"></i><i style="background:linear-gradient(90deg,#2fffd0 0.5px,#7cff83 10.5px,#adff52 19.5px,#d0ff2f 29.5px,#ecff13 44.5px,#fffe00 64.5px,#fff100 93.5px,#fff800 122.5px,#fbff04 137.5px,#dfff20 158.5px,#bfff40 171.5px,#99ff66 180.5px,#72ff8d 186.5px,#48ffb7 190.5px,#19ffe6 193.5px,#06fef9 194.5px,#00edff 195.5px)"></i><i style="background:linear-gradient(90deg,#32ffcd 0.5px,#7eff81 10.5px,#aeff51 19.5px,#d3ff2c 30.5px,#f0ff0f 46.5px,#fffd00 63.5px,#fff000 92.5px,#fff500 120.5px,#fcff03 137.5px,#e0ff1f 158.5px,#c0ff3f 171.5px,#9bff64 180.5px,#75ff8a 186.5px,#4fffb0 190.5px,#24ffdb 193.5px,#11ffee 194.5px,#01fafe 195.5px)"></i><i style="background:linear-gradient(90deg,#36ffc9 0.5px,#80ff7f 10.5px,#afff50 19.5px,#d4ff2b 30.5px,#f0ff0f 46.5px,#fffd00 62.5px,#ffee00 91.5px,#fff300 119.5px,#fcff03 138.5px,#dfff20 159.5px,#bdff42 172.5px,#98ff67 181.5px,#71ff8e 187.5px,#49ffb6 191.5px,#1cffe3 194.5px,#09fff6 195.5px)"></i><i style="background:linear-gradient(90deg,#39ffc6 0.5px,#82ff7d 10.5px,#b0ff4f 19.5px,#d4ff2b 30.5px,#f2ff0d 47.5px,#fffd00 61.5px,#ffed00 89.5px,#fff000 116.5px,#fdff02 138.5px,#dfff20 159.5px,#beff41 172.5px,#99ff66 181.5px,#74ff8b 187.5px,#4fffb0 191.5px,#26ffd9 194.5px,#14ffeb 195.5px)"></i><i style="background:linear-gradient(90deg,#3cffc3 0.5px,#84ff7b 10.5px,#b1ff4e 19.5px,#d5ff2a 30.5px,#f3ff0c 47.5px,#fffd00 60.5px,#ffeb00 88.5px,#ffee00 114.5px,#fdff02 139.5px,#deff21 160.5px,#bbff44 173.5px,#96ff69 182.5px,#70ff8f 188.5px,#49ffb6 192.5px,#1effe1 195.5px)"></i><i style="background:linear-gradient(90deg,#3fffc0 0.5px,#86ff79 10.5px,#b2ff4d 19.5px,#d5ff2a 30.5px,#f3ff0c 47.5px,#fffd00 59.5px,#ffea00 87.5px,#ffec00 113.5px,#fcff03 140.5px,#dcff23 161.5px,#b9ff46 174.5px,#92ff6d 183.5px,#6bff94 189.5px,#43ffbc 193.5px,#27ffd8 195.5px)"></i><i style="background:linear-gradient(90deg,#42ffbd 0.5px,#88ff77 10.5px,#b3ff4c 19.5px,#d8ff27 31.5px,#f8ff07 50.5px,#fffc00 59.5px,#ffe800 87.5px,#ffea00 112.5px,#fdff02 140.5px,#ddff22 161.5px,#b6ff49 175.5px,#8fff70 184.5px,#66ff99 190.5px,#3cffc3 194.5px,#2fffd0 195.5px)"></i><i style="background:linear-gradient(90deg,#45ffba 0.5px,#89ff76 10.5px,#b4ff4b 19.5px,#d8ff27 31.5px,#f8ff07 50.5px,#fffb00 59.5px,#ffe700 87.5px,#ffe800 112.5px,#fdff02 141.5px,#dbff24 162.5px,#b7ff48 175.5px,#91ff6e 184.5px,#69ff96 190.5px,#42ffbd 194.5px,#36ffc9 195.5px)"></i><i style="background:linear-gradient(90deg,#48ffb7 0.5px,#8bff74 10.5px,#b9ff46 20.5px,#dbff24 32.5px,#fcff03 52.5px,#fff600 63.5px,#ffe500 89.5px,#ffe800 113.5px,#fcff03 142.5px,#d9ff26 163.5px,#b4ff4b 176.5px,#8dff72 185.5px,#64ff9b 191.5px,#3cffc3 195.5px)"></i><i style="background:linear-gradient(90deg,#4bffb4 0.5px,#8cff73 10.5px,#b9ff46 20.5px,#deff21 33.5px,#ffff00 54.5px,#ffe600 83.5px,#ffe400 107.5px,#fff600 133.5px,#fcff03 143.5px,#daff25 163.5px,#b2ff4d 177.5px,#89ff76 186.5px,#60ff9f 192.5px,#42ffbd 195.5px)"></i><i style="background:linear-gradient(90deg,#4dffb2 0.5px,#8eff71 10.5px,#baff45 20.5px,#deff21 33.5px,#ffff00 54.5px,#ffe500 82.5px,#ffe200 105.5px,#fff200 130.5px,#fcff03 143.5px,#d8ff27 164.5px,#b3ff4c 177.5px,#8bff74 186.5px,#63ff9c 192.5px,#47ffb8 195.5px)"></i><i style="background:linear-gradient(90deg,#4fffb0 0.5px,#8fff70 10.5px,#bbff44 20.5px,#deff21 33.5px,#ffff00 53.5px,#ffe400 82.5px,#ffe100 105.5px,#fff200 130.5px,#fdff02 143.5px,#d8ff27 164.5px,#b0ff4f 178.5px,#87ff78 187.5px,#5effa1 193.5px,#4cffb3 195.5px)"></i><i style="background:linear-gradient(90deg,#52ffad 0.5px,#90ff6f 10.5px,#bbff44 20.5px,#dfff20 33.5px,#ffff00 53.5px,#ffe300 82.5px,#ffe000 105.5px,#fff100 130.5px,#fcff03 144.5px,#d6ff29 165.5px,#adff52 179.5px,#83ff7c 188.5px,#59ffa6 194.5px,#50ffaf 195.5px)"></i><i style="background:linear-gradient(90deg,#54ffab 0.5px,#92ff6d 10.5px,#bcff43 20.5px,#e1ff1e 34.5px,#ffff00 53.5px,#ffe300 81.5px,#ffde00 104.5px,#ffee00 128.5px,#fcff03 144.5px,#d7ff28 165.5px,#aeff51 179.5px,#85ff7a 188.5px,#5cffa3 194.5px,#54ffab 195.5px)"></i><i style="background:linear-gradient(90deg,#56ffa9 0.5px,#93ff6c 10.5px,#c0ff3f 21.5px,#e3ff1c 35.5px,#fffe00 53.5px,#ffe200 81.5px,#ffdd00 103.5px,#ffed00 127.5px,#fdff02 144.5px,#d7ff28 165.5px,#aeff51 179.5px,#87ff78 188.5px,#5fffa0 194.5px,#57ffa8 195.5px)"></i><i style="background:linear-gradient(90deg,#58ffa7 0.5px,#94ff6b 10.5px,#c0ff3f 21.5px,#e6ff19 36.5px,#fffe00 53.5px,#ffe100 81.5px,#ffdc00 103.5px,#ffec00 127.5px,#fdff02 144.5px,#d7ff28 165.5px,#afff50 179.5px,#83ff7c 189.5px,#5affa5 195.5px)"></i><i style="background:linear-gradient(90deg,#5affa5 0.5px,#95ff6a 10.5px,#c1ff3e 21.5px,#e6ff19 36.5px,#fffe00 53.5px,#ffe100 81.5px,#ffdc00 103.5px,#ffeb00 126.5px,#fdff02 144.5px,#d5ff2a 166.5px,#acff53 180.5px,#7fff80 190.5px,#5dffa2 195.5px)"></i><i style="background:linear-gradient(90deg,#5cffa3 0.5px,#96ff69 10.5px,#c1ff3e 21.5px,#e6ff19 36.5px,#fffd00 53.5px,#ffe000 81.5px,#ffdc00 103.5px,#ffea00 126.5px,#fdff02 144.5px,#d6ff29 166.5px,#adff52 180.5px,#80ff7f 190.5px,#60ff9f 195.5px)"></i><i style="background:linear-gradient(90deg,#5effa1 0.5px,#97ff68 10.5px,#c2ff3d 21.5px,#e6ff19 36.5px,#fffd00 53.5px,#ffe000 81.5px,#ffdb00 103.5px,#ffea00 126.5px,#fcff03 145.5px,#d4ff2b 167.5px,#aaff55 181.5px,#7cff83 191.5px,#63ff9c 195.5px)"></i><i style="background:linear-gradient(90deg,#60ff9f 0.5px,#98ff67 10.5px,#c2ff3d 21.5px,#e6ff19 36.5px,#fffd00 53.5px,#ffe000 81.5px,#ffdb00 103.5px,#ffea00 126.5px,#fcff03 145.5px,#d4ff2b 167.5px,#abff54 181.5px,#7eff81 191.5px,#65ff9a 195.5px)"></i></div><div class="hm" style="left:317px;top:9px;width:196px"><i style="background:linear-gradient(90deg,#86ff79 0.5px,#b2ff4d 39.5px,#c7ff38 75.5px,#caff35 110.5px,#b8ff47 149.5px,#9cff63 193.5px,#9cff63 195.5px)"></i><i style="background:linear-gradient(90deg,#86ff79 0.5px,#b2ff4d 39.5px,#c7ff38 75.5px,#caff35 110.5px,#b8ff47 149.5px,#9dff62 193.5px,#9cff63 195.5px)"></i><i style="background:linear-gradient(90deg,#86ff79 0.5px,#b2ff4d 39.5px,#c7ff38 75.5px,#caff35 110.5px,#b8ff47 150.5px,#9dff62 192.5px,#9dff62 195.5px)"></i><i style="background:linear-gradient(90deg,#86ff79 0.5px,#b2ff4d 39.5px,#c7ff38 75.5px,#caff35 110.5px,#b8ff47 150.5px,#9eff61 192.5px,#9dff62 195.5px)"></i><i style="background:linear-gradient(90deg,#87ff78 0.5px,#b1ff4e 38.5px,#c7ff38 74.5px,#cbff34 109.5px,#b9ff46 148.5px,#9eff61 192.5px,#9eff61 195.5px)"></i><i style="background:linear-gradient(90deg,#87ff78 0.5px,#b2ff4d 38.5px,#c7ff38 74.5px,#cbff34 109.5px,#b9ff46 149.5px,#9fff60 192.5px,#9eff61 195.5px)"></i><i style="background:linear-gradient(90deg,#87ff78 0.5px,#b2ff4d 38.5px,#c7ff38 74.5px,#cbff34 108.5px,#baff45 148.5px,#9fff60 192.5px,#9fff60 195.5px)"></i><i style="background:linear-gradient(90deg,#87ff78 0.5px,#b2ff4d 38.5px,#c8ff37 74.5px,#ccff33 107.5px,#bbff44 146.5px,#a0ff5f 191.5px,#9fff60 195.5px)"></i><i style="background:linear-gradient(90deg,#87ff78 0.5px,#b2ff4d 38.5px,#c8ff37 74.5px,#ccff33 106.5px,#bcff43 146.5px,#a1ff5e 191.5px,#a0ff5f 195.5px)"></i><i style="background:linear-gradient(90deg,#88ff77 0.5px,#b3ff4c 38.5px,#c8ff37 74.5px,#cdff32 105.5px,#bdff42 145.5px,#a1ff5e 191.5px,#a1ff5e 195.5px)"></i><i style="background:linear-gradient(90deg,#88ff77 0.5px,#b3ff4c 38.5px,#c8ff37 73.5px,#cdff32 103.5px,#beff41 144.5px,#a2ff5d 191.5px,#a1ff5e 195.5px)"></i><i style="background:linear-gradient(90deg,#88ff77 0.5px,#b2ff4d 37.5px,#c8ff37 72.5px,#ceff31 101.5px,#beff41 144.5px,#a2ff5d 191.5px,#a2ff5d 195.5px)"></i><i style="background:linear-gradient(90deg,#89ff76 0.5px,#b3ff4c 37.5px,#c8ff37 72.5px,#cfff30 100.5px,#bdff42 146.5px,#a3ff5c 191.5px,#a3ff5c 195.5px)"></i><i style="background:linear-gradient(90deg,#89ff76 0.5px,#b3ff4c 37.5px,#c9ff36 72.5px,#d1ff2e 99.5px,#bcff43 149.5px,#a4ff5b 191.5px,#a3ff5c 195.5px)"></i><i style="background:linear-gradient(90deg,#89ff76 0.5px,#b4ff4b 37.5px,#c9ff36 72.5px,#d1ff2e 93.5px,#d4ff2b 98.5px,#b8ff47 155.5px,#a4ff5b 192.5px,#a4ff5b 195.5px)"></i><i style="background:linear-gradient(90deg,#8aff75 0.5px,#b3ff4c 36.5px,#c9ff36 71.5px,#d1ff2e 92.5px,#d7ff28 97.5px,#ccff33 118.5px,#b3ff4c 164.5px,#a5ff5a 195.5px)"></i><i style="background:linear-gradient(90deg,#8aff75 0.5px,#b4ff4b 36.5px,#c9ff36 71.5px,#d0ff2f 90.5px,#dbff24 97.5px,#ceff31 113.5px,#b8ff47 157.5px,#a6ff59 192.5px,#a6ff59 195.5px)"></i><i style="background:linear-gradient(90deg,#8bff74 0.5px,#b4ff4b 36.5px,#c9ff36 70.5px,#d1ff2e 90.5px,#daff25 95.5px,#dfff20 97.5px,#cfff30 111.5px,#b9ff46 157.5px,#a7ff58 192.5px,#a7ff58 195.5px)"></i><i style="background:linear-gradient(90deg,#8bff74 0.5px,#b5ff4a 36.5px,#caff35 70.5px,#d0ff2f 95.5px,#e7ff18 97.5px,#d2ff2d 109.5px,#b6ff49 163.5px,#a7ff58 194.5px,#a7ff58 195.5px)"></i><i style="background:linear-gradient(90deg,#8cff73 0.5px,#b5ff4a 35.5px,#caff35 69.5px,#ccff33 89.5px,#c5ff3a 91.5px,#b8ff47 92.5px,#9dff62 93.5px,#8aff75 94.5px,#e2ff1d 96.5px,#f3ff0c 97.5px,#fafa05 98.5px,#f3f80c 99.5px,#eaff15 100.5px,#daff25 105.5px,#ceff31 116.5px,#b6ff49 163.5px,#a8ff57 194.5px,#a8ff57 195.5px)"></i><i style="background:linear-gradient(90deg,#8cff73 0.5px,#b5ff4a 35.5px,#caff35 69.5px,#caff35 86.5px,#c4ff3b 88.5px,#bbff44 89.5px,#a4ff5b 90.5px,#6afb95 91.5px,#38f8c7 92.5px,#7bff84 93.5px,#d2ff2d 94.5px,#eaff15 95.5px,#f3ff0c 98.5px,#fcf403 99.5px,#ffdf00 100.5px,#f8e807 101.5px,#edfe12 102.5px,#e1ff1e 104.5px,#d2ff2d 112.5px,#b4ff4b 168.5px,#a9ff56 195.5px)"></i><i style="background:linear-gradient(90deg,#8dff72 0.5px,#b6ff49 35.5px,#cbff34 69.5px,#caff35 83.5px,#c0ff3f 86.5px,#b5ff4a 87.5px,#99ff66 88.5px,#55f2aa 89.5px,#18c5e7 90.5px,#5de3a2 91.5px,#cbff34 92.5px,#e8ff17 93.5px,#f3ff0c 96.5px,#f3ff0c 99.5px,#f7fe08 100.5px,#fee601 101.5px,#ffc300 102.5px,#f9e006 103.5px,#edff12 104.5px,#e0ff1f 106.5px,#d2ff2d 113.5px,#abff54 191.5px,#aaff55 195.5px)"></i><i style="background:linear-gradient(90deg,#8dff72 0.5px,#b6ff49 34.5px,#cbff34 67.5px,#c9ff36 82.5px,#c0ff3f 84.5px,#b4ff4b 85.5px,#98ff67 86.5px,#55f4aa 87.5px,#118eee 88.5px,#3da1c2 89.5px,#b4fc4b 90.5px,#e4ff1b 91.5px,#f0ff0f 93.5px,#f7ff08 97.5px,#f5ff0a 101.5px,#fbfa04 102.5px,#ffcc00 103.5px,#ffac00 104.5px,#f7e708 105.5px,#eaff15 106.5px,#dcff23 109.5px,#d1ff2e 116.5px,#b2ff4d 173.5px,#abff54 195.5px)"></i><i style="background:linear-gradient(90deg,#8eff71 0.5px,#b6ff49 34.5px,#cbff34 67.5px,#caff35 80.5px,#c4ff3b 82.5px,#baff45 83.5px,#a2ff5d 84.5px,#65fd9a 85.5px,#189fd8 86.5px,#145cd8 87.5px,#8ddf70 88.5px,#ddff22 89.5px,#e9ff16 90.5px,#f7ff08 94.5px,#f8ff07 99.5px,#f5ff0a 102.5px,#f8ff07 103.5px,#fdee02 104.5px,#ffa300 105.5px,#fea801 106.5px,#f3f80c 107.5px,#e7ff18 108.5px,#d7ff28 112.5px,#ceff31 124.5px,#adff52 191.5px,#acff53 195.5px)"></i><i style="background:linear-gradient(90deg,#8eff71 0.5px,#b7ff48 34.5px,#ccff33 67.5px,#caff35 79.5px,#c2ff3d 81.5px,#b4ff4b 82.5px,#8eff71 83.5px,#33d6cc 84.5px,#0148cf 85.5px,#509e8d 86.5px,#cbff34 87.5px,#e5ff1a 88.5px,#f4ff0b 91.5px,#fcff03 97.5px,#f6ff09 104.5px,#fbfc04 105.5px,#ffcc00 106.5px,#ff7b00 107.5px,#fad205 108.5px,#ebff14 109.5px,#deff21 111.5px,#d2ff2d 117.5px,#aeff51 191.5px,#adff52 195.5px)"></i><i style="background:linear-gradient(90deg,#8fff70 0.5px,#b7ff48 33.5px,#ccff33 66.5px,#caff35 78.5px,#bfff40 80.5px,#adff52 81.5px,#76ff89 82.5px,#16a2d9 83.5px,#113da2 84.5px,#93df5c 85.5px,#ddff22 86.5px,#e9ff16 87.5px,#f8ff07 91.5px,#fdff02 98.5px,#f6ff09 105.5px,#f9ff06 106.5px,#feed01 107.5px,#ff8200 108.5px,#fe9c01 109.5px,#f0fd0f 110.5px,#e4ff1b 111.5px,#d6ff29 115.5px,#afff50 189.5px,#aeff51 195.5px)"></i><i style="background:linear-gradient(90deg,#8fff70 0.5px,#b8ff47 33.5px,#ccff33 65.5px,#cbff34 76.5px,#c6ff39 78.5px,#bdff42 79.5px,#a7ff58 80.5px,#60fb9f 81.5px,#086ed4 82.5px,#2d6f99 83.5px,#bbff44 84.5px,#e2ff1d 85.5px,#f0ff0f 87.5px,#fcff03 93.5px,#fbff04 102.5px,#f7ff08 107.5px,#fdf902 108.5px,#ffaa00 109.5px,#ff7900 110.5px,#f3f60c 111.5px,#e5ff1a 112.5px,#d7ff28 116.5px,#b1ff4e 184.5px,#afff50 195.5px)"></i><i style="background:linear-gradient(90deg,#90ff6f 0.5px,#b8ff47 33.5px,#cdff32 65.5px,#ccff33 75.5px,#c6ff39 77.5px,#bcff43 78.5px,#a1ff5e 79.5px,#4ef3b1 80.5px,#0349c1 81.5px,#51988e 82.5px,#d2ff2d 83.5px,#e6ff19 84.5px,#f5ff0a 87.5px,#ffff00 95.5px,#f9ff06 106.5px,#f7ff08 108.5px,#fbfd04 109.5px,#ffcc00 110.5px,#ff6a00 111.5px,#f6e909 112.5px,#e6ff19 113.5px,#d7ff28 117.5px,#caff35 140.5px,#b1ff4e 190.5px,#b1ff4e 195.5px)"></i><i style="background:linear-gradient(90deg,#91ff6e 0.5px,#b8ff47 32.5px,#cdff32 64.5px,#ccff33 74.5px,#c6ff39 76.5px,#bbff44 77.5px,#9dff62 78.5px,#42e9bd 79.5px,#0038cb 80.5px,#70bf79 81.5px,#daff25 82.5px,#e8ff17 83.5px,#f6ff09 86.5px,#ffff00 94.5px,#fbff04 106.5px,#f7ff08 109.5px,#faff05 110.5px,#ffe000 111.5px,#ff6c00 112.5px,#f8dc07 113.5px,#e9ff16 114.5px,#daff25 117.5px,#d1ff2e 126.5px,#b2ff4d 191.5px,#b2ff4d 195.5px)"></i><i style="background:linear-gradient(90deg,#91ff6e 0.5px,#b9ff46 32.5px,#ceff31 64.5px,#cdff32 73.5px,#c6ff39 75.5px,#bbff44 76.5px,#9cff63 77.5px,#3ae1c5 78.5px,#0040bd 79.5px,#83d26d 80.5px,#deff21 81.5px,#eaff15 82.5px,#f9ff06 86.5px,#fffe00 95.5px,#fbff04 107.5px,#f9ff06 111.5px,#feeb01 112.5px,#ff7100 113.5px,#fbd104 114.5px,#ebff14 115.5px,#deff21 117.5px,#d3ff2c 123.5px,#b3ff4c 190.5px,#b3ff4c 195.5px)"></i><i style="background:linear-gradient(90deg,#92ff6d 0.5px,#baff45 32.5px,#ceff31 63.5px,#cbff34 73.5px,#c7ff38 74.5px,#bcff43 75.5px,#9cff63 76.5px,#38dfc7 77.5px,#0140b3 78.5px,#86de69 79.5px,#ddff22 80.5px,#ebff14 81.5px,#f9ff06 85.5px,#fffe00 94.5px,#fcff03 108.5px,#f8ff07 112.5px,#fef001 113.5px,#ff7500 114.5px,#fcc903 115.5px,#edff12 116.5px,#deff21 118.5px,#d4ff2b 123.5px,#b4ff4b 190.5px,#b4ff4b 195.5px)"></i><i style="background:linear-gradient(90deg,#92ff6d 0.5px,#baff45 31.5px,#ceff31 62.5px,#ccff33 72.5px,#c9ff36 73.5px,#bfff40 74.5px,#a0ff5f 75.5px,#3ae0c5 76.5px,#003bb3 77.5px,#84df6b 78.5px,#dbff24 79.5px,#eaff15 80.5px,#f7ff08 83.5px,#fffe00 92.5px,#fcff03 109.5px,#f8ff07 113.5px,#fef301 114.5px,#ff7600 115.5px,#fdc302 116.5px,#efff10 117.5px,#e4ff1b 118.5px,#d8ff27 121.5px,#b6ff49 188.5px,#b5ff4a 195.5px)"></i><i style="background:linear-gradient(90deg,#93ff6c 0.5px,#baff45 31.5px,#cfff30 62.5px,#cdff32 71.5px,#caff35 72.5px,#c2ff3d 73.5px,#a7ff58 74.5px,#45e9ba 75.5px,#0034b7 76.5px,#7bd674 77.5px,#d8ff27 78.5px,#e9ff16 79.5px,#f5ff0a 81.5px,#ffff00 89.5px,#fcff03 110.5px,#f7ff08 114.5px,#fdf302 115.5px,#ff7300 116.5px,#fec201 117.5px,#f0ff0f 118.5px,#e4ff1b 119.5px,#d9ff26 122.5px,#b7ff48 188.5px,#b6ff49 195.5px)"></i><i style="background:linear-gradient(90deg,#94ff6b 0.5px,#bbff44 31.5px,#d0ff2f 62.5px,#ceff31 70.5px,#c5ff3a 72.5px,#b0ff4f 73.5px,#59f7a6 74.5px,#0031c1 75.5px,#6ac585 76.5px,#d4ff2b 77.5px,#e7ff18 78.5px,#f5ff0a 80.5px,#ffff00 87.5px,#fffe00 106.5px,#f7ff08 115.5px,#fdf302 116.5px,#ff6d00 117.5px,#fecc01 118.5px,#efff10 119.5px,#e4ff1b 120.5px,#d9ff26 123.5px,#b8ff47 188.5px,#b8ff47 195.5px)"></i><i style="background:linear-gradient(90deg,#95ff6a 0.5px,#bbff44 30.5px,#d0ff2f 61.5px,#cfff30 69.5px,#c8ff37 71.5px,#b8ff47 72.5px,#72ff8d 73.5px,#0653c8 74.5px,#47b298 75.5px,#cdff32 76.5px,#e5ff1a 77.5px,#f4ff0b 79.5px,#feff01 85.5px,#fffe00 107.5px,#f7ff08 116.5px,#feee01 117.5px,#ff6300 118.5px,#fdde02 119.5px,#eeff11 120.5px,#e4ff1b 121.5px,#d9ff26 124.5px,#b9ff46 188.5px,#b9ff46 195.5px)"></i><i style="background:linear-gradient(90deg,#95ff6a 0.5px,#bcff43 30.5px,#d1ff2e 60.5px,#ceff31 69.5px,#caff35 70.5px,#beff41 71.5px,#8eff71 72.5px,#118acf 73.5px,#2570a9 74.5px,#c2ff3d 75.5px,#e2ff1d 76.5px,#f3ff0c 78.5px,#fdff02 83.5px,#fffd00 107.5px,#f9ff06 115.5px,#f7ff08 117.5px,#fee101 118.5px,#ff6100 119.5px,#fdee02 120.5px,#edff12 121.5px,#deff21 123.5px,#d6ff29 130.5px,#baff45 190.5px,#baff45 195.5px)"></i><i style="background:linear-gradient(90deg,#96ff69 0.5px,#bdff42 30.5px,#d1ff2e 60.5px,#cfff30 68.5px,#ccff33 69.5px,#c3ff3c 70.5px,#a3ff5c 71.5px,#27c2cd 72.5px,#0c3baa 73.5px,#a9ff56 74.5px,#ddff22 75.5px,#ebff14 76.5px,#f9ff06 79.5px,#fffe00 87.5px,#fffe00 109.5px,#f7ff08 118.5px,#fec501 119.5px,#ff7000 120.5px,#fbf704 121.5px,#ebff14 122.5px,#dfff20 124.5px,#d6ff29 133.5px,#bcff43 189.5px,#bcff43 195.5px)"></i><i style="background:linear-gradient(90deg,#97ff68 0.5px,#bdff42 29.5px,#d2ff2d 59.5px,#d0ff2f 67.5px,#c7ff38 69.5px,#b1ff4e 70.5px,#4eecb1 71.5px,#0025af 72.5px,#7be484 73.5px,#d6ff29 74.5px,#e8ff17 75.5px,#f5ff0a 77.5px,#ffff00 83.5px,#fffc00 106.5px,#fcff03 115.5px,#f6ff09 118.5px,#f8fe07 119.5px,#ff9b00 120.5px,#ff9500 121.5px,#f9fc06 122.5px,#eaff15 123.5px,#dfff20 125.5px,#d5ff2a 136.5px,#bdff42 189.5px,#bdff42 195.5px)"></i><i style="background:linear-gradient(90deg,#97ff68 0.5px,#beff41 29.5px,#d2ff2d 59.5px,#cfff30 67.5px,#caff35 68.5px,#bbff44 69.5px,#73ff8c 70.5px,#0344c0 71.5px,#45b39e 72.5px,#caff35 73.5px,#e4ff1b 74.5px,#f4ff0b 76.5px,#ffff00 82.5px,#fffc00 106.5px,#fbff04 116.5px,#f5ff0a 119.5px,#fafa05 120.5px,#ff6b00 121.5px,#ffbe00 122.5px,#f7fe08 123.5px,#eaff15 124.5px,#ddff22 127.5px,#bfff40 186.5px,#beff41 195.5px)"></i><i style="background:linear-gradient(90deg,#98ff67 0.5px,#bfff40 29.5px,#d3ff2c 58.5px,#d1ff2e 66.5px,#cdff32 67.5px,#c2ff3d 68.5px,#95ff6a 69.5px,#138ece 70.5px,#1857b0 71.5px,#b5ff4a 72.5px,#deff21 73.5px,#ebff14 74.5px,#f9ff06 77.5px,#fffd00 85.5px,#fffd00 109.5px,#fbff04 117.5px,#f5ff0a 120.5px,#fcec03 121.5px,#ff5600 122.5px,#ffdc00 123.5px,#f5ff0a 124.5px,#e9ff16 125.5px,#deff21 128.5px,#c1ff3e 185.5px,#c0ff3f 195.5px)"></i><i style="background:linear-gradient(90deg,#99ff66 0.5px,#c0ff3f 29.5px,#d4ff2b 58.5px,#d2ff2d 65.5px,#cfff30 66.5px,#c7ff38 67.5px,#a9ff56 68.5px,#32cbca 69.5px,#0020af 70.5px,#87f978 71.5px,#d6ff29 72.5px,#e7ff18 73.5px,#f5ff0a 75.5px,#ffff00 81.5px,#fffb00 105.5px,#fcff03 117.5px,#f5ff0a 121.5px,#fec401 122.5px,#ff6100 123.5px,#feec01 124.5px,#f4ff0b 125.5px,#e4ff1b 127.5px,#daff25 134.5px,#c1ff3e 188.5px,#c1ff3e 195.5px)"></i><i style="background:linear-gradient(90deg,#9aff65 0.5px,#bfff40 28.5px,#d4ff2b 57.5px,#d3ff2c 64.5px,#caff35 66.5px,#b6ff49 67.5px,#5af6a5 68.5px,#0025a7 69.5px,#4cc2a3 70.5px,#c9ff36 71.5px,#e2ff1d 72.5px,#f3ff0c 74.5px,#ffff00 80.5px,#fffb00 105.5px,#fcff03 118.5px,#f5ff0a 121.5px,#f7fe08 122.5px,#ff8d00 123.5px,#ff8a00 124.5px,#fef401 125.5px,#f3ff0c 126.5px,#e5ff1a 128.5px,#dbff24 135.5px,#c3ff3c 188.5px,#c2ff3d 195.5px)"></i><i style="background:linear-gradient(90deg,#9aff65 0.5px,#c0ff3f 28.5px,#d5ff2a 57.5px,#d2ff2d 64.5px,#cdff32 65.5px,#beff41 66.5px,#80ff7f 67.5px,#075acc 68.5px,#1970b8 69.5px,#b3ff4c 70.5px,#dcff23 71.5px,#eaff15 72.5px,#f6ff09 74.5px,#ffff00 80.5px,#fffb00 105.5px,#fdff02 118.5px,#f4ff0b 122.5px,#f9f806 123.5px,#ff5800 124.5px,#ffaf00 125.5px,#fdf802 126.5px,#f3ff0c 127.5px,#e5ff1a 129.5px,#dcff23 136.5px,#c4ff3b 187.5px,#c4ff3b 195.5px)"></i><i style="background:linear-gradient(90deg,#9bff64 0.5px,#c1ff3e 28.5px,#d6ff29 56.5px,#d3ff2c 63.5px,#cfff30 64.5px,#c4ff3b 65.5px,#9aff65 66.5px,#19a1d2 67.5px,#002ca4 68.5px,#84fe7b 69.5px,#d2ff2d 70.5px,#e5ff1a 71.5px,#f4ff0b 73.5px,#ffff00 79.5px,#fffa00 104.5px,#fcff03 119.5px,#f3ff0c 123.5px,#fcdf03 124.5px,#ff4800 125.5px,#ffc900 126.5px,#fdfa02 127.5px,#ebff14 129.5px,#e0ff1f 133.5px,#c6ff39 184.5px,#c5ff3a 195.5px)"></i><i style="background:linear-gradient(90deg,#9cff63 0.5px,#c1ff3e 27.5px,#d6ff29 56.5px,#d5ff2a 62.5px,#d2ff2d 63.5px,#c9ff36 64.5px,#acff53 65.5px,#36d4c9 66.5px,#0009a1 67.5px,#4bceac 68.5px,#c4ff3b 69.5px,#dfff20 70.5px,#ebff14 71.5px,#f9ff06 74.5px,#fffd00 81.5px,#fffb00 107.5px,#fcff03 120.5px,#f4ff0b 124.5px,#feaf01 125.5px,#ff5400 126.5px,#ffd700 127.5px,#fdfb02 128.5px,#ebff14 130.5px,#e0ff1f 135.5px,#c8ff37 185.5px,#c7ff38 195.5px)"></i><i style="background:linear-gradient(90deg,#9dff62 0.5px,#c2ff3d 27.5px,#d7ff28 55.5px,#d4ff2b 62.5px,#cdff32 63.5px,#b8ff47 64.5px,#5af6a5 65.5px,#0028ab 66.5px,#1a84c4 67.5px,#adff52 68.5px,#d8ff27 69.5px,#e7ff18 70.5px,#f5ff0a 72.5px,#ffff00 78.5px,#fffa00 103.5px,#fdff02 120.5px,#f3ff0c 124.5px,#f6fd09 125.5px,#ff7900 126.5px,#ff7200 127.5px,#ffe100 128.5px,#fdfc02 129.5px,#ecff13 131.5px,#e1ff1e 136.5px,#c9ff36 184.5px,#c8ff37 195.5px)"></i><i style="background:linear-gradient(90deg,#9dff62 0.5px,#c3ff3c 27.5px,#d8ff27 55.5px,#d5ff2a 61.5px,#d0ff2f 62.5px,#c1ff3e 63.5px,#7dff82 64.5px,#0659ce 65.5px,#033ab0 66.5px,#83ff7c 67.5px,#ceff31 68.5px,#e2ff1d 69.5px,#f3ff0c 71.5px,#feff01 76.5px,#fff900 103.5px,#fcff03 121.5px,#f1ff0e 125.5px,#f9f406 126.5px,#ff4c00 127.5px,#ff9000 128.5px,#ffe700 129.5px,#fcfd03 130.5px,#edff12 132.5px,#e2ff1d 137.5px,#cbff34 183.5px,#caff35 195.5px)"></i><i style="background:linear-gradient(90deg,#9eff61 0.5px,#c4ff3b 27.5px,#d9ff26 55.5px,#d7ff28 60.5px,#d3ff2c 61.5px,#c8ff37 62.5px,#9aff65 63.5px,#169cd4 64.5px,#000b97 65.5px,#51dfae 66.5px,#bfff40 67.5px,#dcff23 68.5px,#e9ff16 69.5px,#f8ff07 72.5px,#fffd00 79.5px,#fff900 105.5px,#fdff02 121.5px,#f0ff0f 126.5px,#fcdb03 127.5px,#ff3b00 128.5px,#ffa800 129.5px,#ffeb00 130.5px,#fcfd03 131.5px,#eaff15 134.5px,#deff21 144.5px,#ccff33 187.5px,#ccff33 195.5px)"></i><i style="background:linear-gradient(90deg,#9fff60 0.5px,#c4ff3b 26.5px,#d9ff26 54.5px,#d8ff27 59.5px,#d5ff2a 60.5px,#cdff32 61.5px,#aeff51 62.5px,#34d0cb 63.5px,#000794 64.5px,#21a4ca 65.5px,#abff54 66.5px,#d4ff2b 67.5px,#e4ff1b 68.5px,#f3ff0c 70.5px,#ffff00 76.5px,#fff900 101.5px,#fcff03 122.5px,#f1ff0e 127.5px,#fead01 128.5px,#ff4100 129.5px,#ffbb00 130.5px,#ffee00 131.5px,#fdfe02 132.5px,#ebff14 135.5px,#dfff20 145.5px,#cdff32 187.5px,#cdff32 195.5px)"></i><i style="background:linear-gradient(90deg,#a0ff5f 0.5px,#c5ff3a 26.5px,#daff25 54.5px,#d7ff28 59.5px,#d1ff2e 60.5px,#bbff44 61.5px,#59f5a6 62.5px,#0027ab 63.5px,#064fc9 64.5px,#88ff77 65.5px,#caff35 66.5px,#dfff20 67.5px,#f1ff0e 69.5px,#fdff02 74.5px,#fff800 102.5px,#fdff02 122.5px,#f0ff0f 127.5px,#f3fe0c 128.5px,#ff7600 129.5px,#ff5a00 130.5px,#ffc800 131.5px,#fff000 132.5px,#fdfe02 133.5px,#ecff13 136.5px,#e0ff1f 145.5px,#cfff30 186.5px,#cfff30 195.5px)"></i><i style="background:linear-gradient(90deg,#a0ff5f 0.5px,#c6ff39 26.5px,#dbff24 54.5px,#d9ff26 58.5px,#d4ff2b 59.5px,#c5ff3a 60.5px,#7fff80 61.5px,#0659cf 62.5px,#0018a3 63.5px,#56efa9 64.5px,#bdff42 65.5px,#d8ff27 66.5px,#e6ff19 67.5px,#f7ff08 70.5px,#fffe00 77.5px,#fff800 103.5px,#fdff02 123.5px,#eeff11 128.5px,#f6f409 129.5px,#ff4700 130.5px,#ff7400 131.5px,#ffd100 132.5px,#fff100 133.5px,#fdfe02 134.5px,#edff12 137.5px,#e1ff1e 147.5px,#d1ff2e 187.5px,#d0ff2f 195.5px)"></i><i style="background:linear-gradient(90deg,#a1ff5e 0.5px,#c7ff38 26.5px,#dcff23 53.5px,#dbff24 57.5px,#d7ff28 58.5px,#ccff33 59.5px,#9dff62 60.5px,#179ed5 61.5px,#000088 62.5px,#23b9d3 63.5px,#a9ff56 64.5px,#d1ff2e 65.5px,#e1ff1e 66.5px,#f1ff0e 68.5px,#fdff02 73.5px,#fff800 101.5px,#fdff02 123.5px,#f5ff0a 127.5px,#ecff13 129.5px,#fad705 130.5px,#ff3200 131.5px,#ff8b00 132.5px,#ffd800 133.5px,#fff200 134.5px,#fdfe02 135.5px,#eeff11 138.5px,#e2ff1d 148.5px,#d2ff2d 187.5px,#d2ff2d 195.5px)"></i><i style="background:linear-gradient(90deg,#a2ff5d 0.5px,#c8ff37 26.5px,#ddff22 53.5px,#d9ff26 57.5px,#d1ff2e 58.5px,#b1ff4e 59.5px,#35d4ca 60.5px,#000997 61.5px,#0867d3 62.5px,#87ff78 63.5px,#c6ff39 64.5px,#dcff23 65.5px,#eeff11 67.5px,#fbff04 71.5px,#fffb00 80.5px,#fff900 108.5px,#fdff02 124.5px,#f3ff0c 128.5px,#edff12 130.5px,#fda502 131.5px,#ff3500 132.5px,#ff9f00 133.5px,#ffdc00 134.5px,#fff300 135.5px,#fefd01 136.5px,#edff12 140.5px,#dfff20 155.5px,#d4ff2b 190.5px,#d4ff2b 195.5px)"></i><i style="background:linear-gradient(90deg,#a3ff5c 0.5px,#c8ff37 25.5px,#deff21 53.5px,#dbff24 56.5px,#d5ff2a 57.5px,#bfff40 58.5px,#5cf6a3 59.5px,#0029af 60.5px,#0023ae 61.5px,#55f6aa 62.5px,#b8ff47 63.5px,#d5ff2a 64.5px,#e3ff1c 65.5px,#f5ff0a 68.5px,#ffff00 74.5px,#fff700 99.5px,#fcff03 125.5px,#f1ff0e 129.5px,#ecff13 130.5px,#f0fd0f 131.5px,#ff6b00 132.5px,#ff4900 133.5px,#ffae00 134.5px,#ffdf00 135.5px,#fff300 136.5px,#fefd01 137.5px,#eeff11 141.5px,#e0ff1f 156.5px,#d5ff2a 191.5px,#d5ff2a 195.5px)"></i><i style="background:linear-gradient(90deg,#a4ff5b 0.5px,#c9ff36 25.5px,#dfff20 52.5px,#ddff22 55.5px,#d9ff26 56.5px,#c8ff37 57.5px,#82ff7d 58.5px,#0760d2 59.5px,#000093 60.5px,#24c4d9 61.5px,#a4ff5b 62.5px,#cdff32 63.5px,#deff21 64.5px,#efff10 66.5px,#fcff03 71.5px,#fff700 100.5px,#fdff02 125.5px,#f4ff0b 129.5px,#e9ff16 131.5px,#f4f10b 132.5px,#ff3d00 133.5px,#ff5d00 134.5px,#ffb900 135.5px,#ffe100 136.5px,#fff300 137.5px,#fefd01 138.5px,#edff12 143.5px,#ddff22 165.5px,#d7ff28 195.5px)"></i><i style="background:linear-gradient(90deg,#a5ff5a 0.5px,#caff35 25.5px,#e0ff1f 52.5px,#dbff24 55.5px,#cfff30 56.5px,#9fff60 57.5px,#18a2d7 58.5px,#000083 59.5px,#0876dc 60.5px,#83ff7c 61.5px,#c2ff3d 62.5px,#d8ff27 63.5px,#ecff13 65.5px,#faff05 69.5px,#fffc00 76.5px,#fff700 104.5px,#fcff03 126.5px,#f2ff0d 130.5px,#e8ff17 132.5px,#face05 133.5px,#ff2900 134.5px,#ff7100 135.5px,#ffc100 136.5px,#ffe300 137.5px,#fff300 138.5px,#fffd00 139.5px,#efff10 144.5px,#dfff20 166.5px,#d9ff26 195.5px)"></i><i style="background:linear-gradient(90deg,#a5ff5a 0.5px,#cbff34 25.5px,#e1ff1e 52.5px,#deff21 54.5px,#d5ff2a 55.5px,#b3ff4c 56.5px,#37d8c8 57.5px,#000b9a 58.5px,#002bbe 59.5px,#52f8ad 60.5px,#b3ff4c 61.5px,#d1ff2e 62.5px,#e0ff1f 63.5px,#efff10 65.5px,#fcff03 70.5px,#fff600 99.5px,#fdff02 126.5px,#f4ff0b 130.5px,#e9ff16 132.5px,#e9ff16 133.5px,#fd9902 134.5px,#ff2c00 135.5px,#ff8300 136.5px,#ffc800 137.5px,#ffe500 138.5px,#fff300 139.5px,#fffc00 140.5px,#eeff11 146.5px,#deff21 172.5px,#dbff24 195.5px)"></i><i style="background:linear-gradient(90deg,#a6ff59 0.5px,#ccff33 25.5px,#e2ff1d 51.5px,#e0ff1f 53.5px,#d9ff26 54.5px,#c1ff3e 55.5px,#5cf7a3 56.5px,#002cb4 57.5px,#000599 58.5px,#23cddc 59.5px,#9dff62 60.5px,#c8ff37 61.5px,#daff25 62.5px,#ecff13 64.5px,#fbff04 69.5px,#fffa00 79.5px,#fff800 109.5px,#fcff03 127.5px,#f2ff0d 131.5px,#e6ff19 133.5px,#edfc12 134.5px,#ff5d00 135.5px,#ff3b00 136.5px,#ff9400 137.5px,#ffce00 138.5px,#ffe600 139.5px,#fff300 140.5px,#fdff02 142.5px,#efff10 148.5px,#dfff20 175.5px,#ddff22 195.5px)"></i><i style="background:linear-gradient(90deg,#a7ff58 0.5px,#cdff32 25.5px,#e3ff1c 51.5px,#ddff22 53.5px,#cbff34 54.5px,#82ff7d 55.5px,#0765d4 56.5px,#000081 57.5px,#0881e2 58.5px,#7cff83 59.5px,#bcff43 60.5px,#d4ff2b 61.5px,#e9ff16 63.5px,#f9ff06 67.5px,#fffd00 74.5px,#fff600 101.5px,#fdff02 127.5px,#f0ff0f 132.5px,#e4ff1b 134.5px,#f3ed0c 135.5px,#ff3400 136.5px,#ff4d00 137.5px,#ffa300 138.5px,#ffd200 139.5px,#ffe700 140.5px,#fffb00 142.5px,#f7ff08 145.5px,#e9ff16 157.5px,#deff21 188.5px,#deff21 195.5px)"></i><i style="background:linear-gradient(90deg,#a8ff57 0.5px,#cdff32 24.5px,#e4ff1b 50.5px,#dfff20 52.5px,#d3ff2c 53.5px,#a1ff5e 54.5px,#18a6d8 55.5px,#000086 56.5px,#0032cb 57.5px,#4df9b2 58.5px,#acff53 59.5px,#ccff33 60.5px,#dcff23 61.5px,#ecff13 63.5px,#fbff04 68.5px,#fffa00 77.5px,#fff700 107.5px,#fcff03 128.5px,#f3ff0c 132.5px,#e3ff1c 135.5px,#f9c506 136.5px,#ff2200 137.5px,#ff6000 138.5px,#ffaf00 139.5px,#ffd500 140.5px,#ffe700 141.5px,#fffa00 143.5px,#fcff03 145.5px,#edff12 154.5px,#e1ff1e 183.5px,#e0ff1f 195.5px)"></i><i style="background:linear-gradient(90deg,#a9ff56 0.5px,#ceff31 24.5px,#e4ff1b 50.5px,#e2ff1d 51.5px,#d8ff27 52.5px,#b5ff4a 53.5px,#38dcc7 54.5px,#000c9c 55.5px,#0009a2 56.5px,#20d3df 57.5px,#96ff69 58.5px,#c3ff3c 59.5px,#d6ff29 60.5px,#e9ff16 62.5px,#f8ff07 66.5px,#fffd00 73.5px,#fff600 100.5px,#fdff02 128.5px,#f1ff0e 133.5px,#e4ff1b 135.5px,#e4ff1b 136.5px,#fd8702 137.5px,#ff2900 138.5px,#ff7300 139.5px,#ffb700 140.5px,#ffd700 141.5px,#ffe800 142.5px,#fff800 144.5px,#fdff02 146.5px,#eeff11 156.5px,#e3ff1c 184.5px,#e2ff1d 195.5px)"></i><i style="background:linear-gradient(90deg,#a9ff56 0.5px,#cfff30 24.5px,#e6ff19 49.5px,#e4ff1b 50.5px,#ddff22 51.5px,#c4ff3b 52.5px,#5ff9a0 53.5px,#0031bb 54.5px,#000086 55.5px,#0788ed 56.5px,#74ff8b 57.5px,#b6ff49 58.5px,#cfff30 59.5px,#e6ff19 61.5px,#f7ff08 65.5px,#fffd00 72.5px,#fff500 99.5px,#fdff02 128.5px,#f3ff0c 133.5px,#e0ff1f 136.5px,#ebf914 137.5px,#ff4700 138.5px,#ff3700 139.5px,#ff8400 140.5px,#ffbd00 141.5px,#ffd900 142.5px,#ffe700 143.5px,#fff700 145.5px,#fcff03 148.5px,#ecff13 161.5px,#e4ff1b 191.5px,#e4ff1b 195.5px)"></i><i style="background:linear-gradient(90deg,#aaff55 0.5px,#d0ff2f 24.5px,#e7ff18 48.5px,#e0ff1f 50.5px,#ceff31 51.5px,#85ff7a 52.5px,#076dd7 53.5px,#000080 54.5px,#0037d6 55.5px,#46f9b9 56.5px,#a5ff5a 57.5px,#c7ff38 58.5px,#d8ff27 59.5px,#eaff15 61.5px,#faff05 66.5px,#fffb00 74.5px,#fff600 103.5px,#fdff02 129.5px,#f1ff0e 134.5px,#deff21 137.5px,#f4dd0b 138.5px,#ff2300 139.5px,#ff4600 140.5px,#ff9200 141.5px,#ffc200 142.5px,#ffda00 143.5px,#fff000 145.5px,#fffe00 148.5px,#efff10 161.5px,#e6ff19 190.5px,#e6ff19 195.5px)"></i><i style="background:linear-gradient(90deg,#abff54 0.5px,#d1ff2e 24.5px,#e8ff17 47.5px,#e3ff1c 49.5px,#d5ff2a 50.5px,#a3ff5c 51.5px,#1bafda 52.5px,#00008a 53.5px,#000ca8 54.5px,#1cd6e3 55.5px,#8eff71 56.5px,#bdff42 57.5px,#d2ff2d 58.5px,#e6ff19 60.5px,#f7ff08 64.5px,#fffd00 71.5px,#fff500 97.5px,#fffd00 125.5px,#f9ff06 132.5px,#e9ff16 136.5px,#e1ff1e 137.5px,#deff21 138.5px,#fba204 139.5px,#ff1e00 140.5px,#ff5600 141.5px,#ff9d00 142.5px,#ffc500 143.5px,#ffda00 144.5px,#ffee00 146.5px,#fffe00 150.5px,#efff10 164.5px,#e8ff17 195.5px)"></i><i style="background:linear-gradient(90deg,#acff53 0.5px,#d2ff2d 24.5px,#e8ff17 47.5px,#e5ff1a 48.5px,#dbff24 49.5px,#b7ff48 50.5px,#3be2c4 51.5px,#0010a1 52.5px,#00008a 53.5px,#058bf3 54.5px,#6cff93 55.5px,#afff50 56.5px,#caff35 57.5px,#d9ff26 58.5px,#eeff11 61.5px,#fdff02 67.5px,#fff500 95.5px,#fffd00 125.5px,#faff05 132.5px,#ecff13 136.5px,#ddff22 138.5px,#e4fe1b 139.5px,#ff5d00 140.5px,#ff2900 141.5px,#ffa500 143.5px,#ffc700 144.5px,#ffda00 145.5px,#ffed00 147.5px,#fffd00 151.5px,#efff10 168.5px,#eaff15 195.5px)"></i><i style="background:linear-gradient(90deg,#adff52 0.5px,#d3ff2c 24.5px,#e9ff16 46.5px,#e7ff18 47.5px,#dfff20 48.5px,#c5ff3a 49.5px,#61fa9e 50.5px,#0038c3 51.5px,#000080 52.5px,#003bdb 53.5px,#3ef8c1 54.5px,#9eff61 55.5px,#c1ff3e 56.5px,#d3ff2c 57.5px,#e6ff19 59.5px,#f6ff09 63.5px,#fffd00 70.5px,#fff500 96.5px,#fffd00 125.5px,#f8ff07 133.5px,#e9ff16 137.5px,#d9ff26 139.5px,#edec12 140.5px,#ff2b00 141.5px,#ff3300 142.5px,#ff7300 143.5px,#ffab00 144.5px,#ffc900 145.5px,#ffd900 146.5px,#ffeb00 148.5px,#fffd00 153.5px,#f0ff0f 171.5px,#ecff13 195.5px)"></i><i style="background:linear-gradient(90deg,#aeff51 0.5px,#d4ff2b 24.5px,#eaff15 45.5px,#e3ff1c 47.5px,#ceff31 48.5px,#85ff7a 49.5px,#0875da 50.5px,#000080 51.5px,#000daf 52.5px,#16d4e9 53.5px,#84ff7b 54.5px,#b6ff49 55.5px,#cdff32 56.5px,#e3ff1c 58.5px,#f5ff0a 62.5px,#fffe00 69.5px,#fff500 94.5px,#fffc00 124.5px,#fbff04 132.5px,#ecff13 137.5px,#d8ff27 140.5px,#f7bb08 141.5px,#ff1800 142.5px,#ff3f00 143.5px,#ff7e00 144.5px,#ffaf00 145.5px,#ffc900 146.5px,#ffd900 147.5px,#ffea00 149.5px,#fffc00 154.5px,#f6ff09 164.5px,#eeff11 191.5px,#eeff11 195.5px)"></i><i style="background:linear-gradient(90deg,#afff50 0.5px,#d5ff2a 24.5px,#ebff14 44.5px,#e5ff1a 46.5px,#d6ff29 47.5px,#a0ff5f 48.5px,#1ab3de 49.5px,#00008d 50.5px,#00008e 51.5px,#0389f7 52.5px,#60ff9f 53.5px,#a8ff57 54.5px,#c5ff3a 55.5px,#d5ff2a 56.5px,#e6ff19 58.5px,#f8ff07 63.5px,#fffd00 70.5px,#fff500 97.5px,#fffd00 126.5px,#f8ff07 134.5px,#e9ff16 138.5px,#d9ff26 140.5px,#dcff23 141.5px,#fd7802 142.5px,#ff1e00 143.5px,#ff4a00 144.5px,#ff8700 145.5px,#ffb100 146.5px,#ffc900 147.5px,#ffe100 149.5px,#fff500 153.5px,#fdff02 159.5px,#f2ff0d 178.5px,#f0ff0f 195.5px)"></i><i style="background:linear-gradient(90deg,#afff50 0.5px,#d7ff28 24.5px,#ecff13 43.5px,#e7ff18 45.5px,#dbff24 46.5px,#b3ff4c 47.5px,#36e1c9 48.5px,#0012a3 49.5px,#000080 50.5px,#003bdf 51.5px,#34f6cb 52.5px,#94ff6b 53.5px,#bbff44 54.5px,#cfff30 55.5px,#e3ff1c 57.5px,#f4ff0b 61.5px,#fffd00 69.5px,#fff500 95.5px,#fffc00 125.5px,#fbff04 133.5px,#ecff13 138.5px,#d5ff2a 141.5px,#e5f71a 142.5px,#ff3a00 143.5px,#ff2600 144.5px,#ff5500 145.5px,#ff8e00 146.5px,#ffb300 147.5px,#ffc900 148.5px,#ffdf00 150.5px,#fff300 154.5px,#feff01 161.5px,#f3ff0c 181.5px,#f3ff0c 195.5px)"></i><i style="background:linear-gradient(90deg,#b0ff4f 0.5px,#d8ff27 24.5px,#ecff13 43.5px,#e9ff16 44.5px,#dfff20 45.5px,#c0ff3f 46.5px,#58f8a7 47.5px,#0036c4 48.5px,#000080 49.5px,#000eb5 50.5px,#11ceee 51.5px,#79ff86 52.5px,#afff50 53.5px,#c7ff38 54.5px,#dfff20 56.5px,#f3ff0c 60.5px,#fffe00 68.5px,#fff500 93.5px,#fffb00 124.5px,#fbff04 133.5px,#eeff11 138.5px,#d2ff2d 142.5px,#f2d60d 143.5px,#ff1a00 144.5px,#ff2d00 145.5px,#ff9200 147.5px,#ffb400 148.5px,#ffc800 149.5px,#ffdd00 151.5px,#fff100 155.5px,#ffff00 163.5px,#f5ff0a 185.5px,#f5ff0a 195.5px)"></i><i style="background:linear-gradient(90deg,#b1ff4e 0.5px,#d9ff26 24.5px,#edff12 42.5px,#ebff14 43.5px,#e2ff1d 44.5px,#c9ff36 45.5px,#77ff88 46.5px,#066bdc 47.5px,#000080 48.5px,#000092 49.5px,#0185fa 50.5px,#52ffad 51.5px,#9fff60 52.5px,#beff41 53.5px,#d0ff2f 54.5px,#e3ff1c 56.5px,#f4ff0b 60.5px,#fffe00 68.5px,#fff500 94.5px,#fffb00 125.5px,#fcff03 133.5px,#f0ff0f 138.5px,#deff21 141.5px,#d4ff2b 142.5px,#d4ff2b 143.5px,#fa9a05 144.5px,#ff1500 145.5px,#ff3400 146.5px,#ff9500 148.5px,#ffb400 149.5px,#ffc700 150.5px,#ffdc00 152.5px,#ffef00 156.5px,#fffe00 165.5px,#f7ff08 191.5px,#f7ff08 195.5px)"></i><i style="background:linear-gradient(90deg,#b2ff4d 0.5px,#daff25 24.5px,#eeff11 41.5px,#e5ff1a 43.5px,#d1ff2e 44.5px,#91ff6e 45.5px,#11a2e2 46.5px,#00008a 47.5px,#000081 48.5px,#003be4 49.5px,#29f3d6 50.5px,#89ff76 51.5px,#b4ff4b 52.5px,#c9ff36 53.5px,#dfff20 55.5px,#f2ff0d 59.5px,#fffe00 67.5px,#fff500 92.5px,#fffb00 124.5px,#fcff03 133.5px,#eeff11 139.5px,#d9ff26 142.5px,#d0ff2f 143.5px,#dbfd24 144.5px,#ff5900 145.5px,#ff1a00 146.5px,#ff3b00 147.5px,#ff6c00 148.5px,#ff9700 149.5px,#ffb400 150.5px,#ffc500 151.5px,#ffda00 153.5px,#ffed00 157.5px,#fffc00 166.5px,#f9ff06 195.5px)"></i><i style="background:linear-gradient(90deg,#b3ff4c 0.5px,#dbff24 24.5px,#efff10 40.5px,#e7ff18 42.5px,#d6ff29 43.5px,#a4ff5b 44.5px,#24cfdb 45.5px,#000a9c 46.5px,#000080 47.5px,#0010be 48.5px,#0ccbf3 49.5px,#6dff92 50.5px,#a6ff59 51.5px,#c1ff3e 52.5px,#d0ff2f 53.5px,#e2ff1d 55.5px,#f6ff09 60.5px,#fffd00 68.5px,#fff400 95.5px,#fffc00 126.5px,#faff05 135.5px,#ebff14 140.5px,#cdff32 144.5px,#e7ed18 145.5px,#ff2900 146.5px,#ff1f00 147.5px,#ff4200 148.5px,#ff7100 149.5px,#ff9900 150.5px,#ffb300 151.5px,#ffc400 152.5px,#ffd700 154.5px,#ffea00 158.5px,#fffa00 167.5px,#fdff02 183.5px,#fcff03 195.5px)"></i><i style="background:linear-gradient(90deg,#b4ff4b 0.5px,#dcff23 24.5px,#efff10 39.5px,#e9ff16 41.5px,#daff25 42.5px,#b2ff4d 43.5px,#3eebc1 44.5px,#0021b3 45.5px,#000080 46.5px,#00009a 47.5px,#0085fd 48.5px,#46ffb9 49.5px,#95ff6a 50.5px,#b7ff48 51.5px,#caff35 52.5px,#dfff20 54.5px,#f1ff0e 58.5px,#ffff00 66.5px,#fff500 91.5px,#fffa00 124.5px,#fcff03 134.5px,#edff12 140.5px,#daff25 143.5px,#d0ff2f 144.5px,#ccff33 145.5px,#f3c50c 146.5px,#ff1300 147.5px,#ff2400 148.5px,#ff4700 149.5px,#ff7400 150.5px,#ff9900 151.5px,#ffb200 152.5px,#ffcd00 154.5px,#ffe100 157.5px,#fff200 163.5px,#fffe00 178.5px,#feff01 195.5px)"></i><i style="background:linear-gradient(90deg,#b5ff4a 0.5px,#dfff20 25.5px,#f0ff0f 38.5px,#eaff15 40.5px,#deff21 41.5px,#bcff43 42.5px,#58faa7 43.5px,#0045d4 44.5px,#000080 45.5px,#000084 46.5px,#003fec 47.5px,#21f1de 48.5px,#7fff80 49.5px,#acff53 50.5px,#c3ff3c 51.5px,#dbff24 53.5px,#efff10 57.5px,#feff01 65.5px,#fff500 91.5px,#fffa00 124.5px,#fcff03 134.5px,#efff10 140.5px,#deff21 143.5px,#cbff34 145.5px,#cfff30 146.5px,#fb8d04 147.5px,#ff1100 148.5px,#ff2800 149.5px,#ff4c00 150.5px,#ff7700 151.5px,#ff9900 152.5px,#ffb000 153.5px,#ffcb00 155.5px,#ffdf00 158.5px,#ffef00 164.5px,#fffb00 178.5px,#fffd00 195.5px)"></i><i style="background:linear-gradient(90deg,#b5ff4a 0.5px,#e1ff1e 25.5px,#f0ff0f 37.5px,#ebff14 39.5px,#e1ff1e 40.5px,#c5ff3a 41.5px,#70ff8f 42.5px,#0574e1 43.5px,#000080 44.5px,#000080 45.5px,#0014cb 46.5px,#09caf6 47.5px,#61ff9e 48.5px,#9dff62 49.5px,#baff45 50.5px,#cbff34 51.5px,#deff21 53.5px,#f1ff0e 57.5px,#fffe00 66.5px,#fff500 91.5px,#fffa00 124.5px,#fcff03 134.5px,#f0ff0f 140.5px,#e2ff1d 143.5px,#c7ff38 146.5px,#d8fc27 147.5px,#ff5100 148.5px,#ff1500 149.5px,#ff2c00 150.5px,#ff7800 152.5px,#ff9900 153.5px,#ffaf00 154.5px,#ffc900 156.5px,#ffdc00 159.5px,#ffef00 166.5px,#fff900 181.5px,#fffb00 195.5px)"></i><i style="background:linear-gradient(90deg,#b6ff49 0.5px,#e2ff1d 25.5px,#f1ff0e 36.5px,#ecff13 38.5px,#e3ff1c 39.5px,#cbff34 40.5px,#86ff79 41.5px,#0fa0e7 42.5px,#00008d 43.5px,#000080 44.5px,#0002a7 45.5px,#008bff 46.5px,#3dfec2 47.5px,#8bff74 48.5px,#b0ff4f 49.5px,#c4ff3b 50.5px,#daff25 52.5px,#efff10 56.5px,#ffff00 65.5px,#fff500 90.5px,#fffa00 124.5px,#fbff04 135.5px,#eeff11 141.5px,#deff21 144.5px,#c4ff3b 147.5px,#e4ec1b 148.5px,#ff2700 149.5px,#ff1800 150.5px,#ff3000 151.5px,#ff7900 153.5px,#ff9800 154.5px,#ffad00 155.5px,#ffc700 157.5px,#ffda00 160.5px,#ffec00 167.5px,#fff700 182.5px,#fff800 195.5px)"></i><i style="background:linear-gradient(90deg,#b7ff48 0.5px,#e5ff1a 26.5px,#f0ff0f 36.5px,#edff12 37.5px,#e5ff1a 38.5px,#d0ff2f 39.5px,#97ff68 40.5px,#1bc6e4 41.5px,#000a9c 42.5px,#000080 43.5px,#00008c 44.5px,#004bf4 45.5px,#1cf1e3 46.5px,#75ff8a 47.5px,#a3ff5c 48.5px,#bcff43 49.5px,#d6ff29 51.5px,#e8ff17 54.5px,#faff05 61.5px,#fffc00 69.5px,#fff500 100.5px,#fffe00 130.5px,#f5ff0a 139.5px,#e7ff18 143.5px,#d0ff2f 146.5px,#c6ff39 147.5px,#c4ff3b 148.5px,#f1c90e 149.5px,#ff1100 150.5px,#ff1b00 151.5px,#ff3300 152.5px,#ff7a00 154.5px,#ff9700 155.5px,#ffab00 156.5px,#ffc400 158.5px,#ffd700 161.5px,#ffea00 168.5px,#fff400 183.5px,#fff500 195.5px)"></i><i style="background:linear-gradient(90deg,#b8ff47 0.5px,#e8ff17 27.5px,#f1ff0e 35.5px,#e7ff18 37.5px,#d5ff2a 38.5px,#a4ff5b 39.5px,#2de4d2 40.5px,#001cb0 41.5px,#000080 42.5px,#000081 43.5px,#001bdb 44.5px,#07cef8 45.5px,#59ffa6 46.5px,#95ff6a 47.5px,#b3ff4c 48.5px,#c5ff3a 49.5px,#daff25 51.5px,#eeff11 55.5px,#feff01 64.5px,#fff500 92.5px,#fffb00 126.5px,#faff05 136.5px,#edff12 142.5px,#ddff22 145.5px,#c2ff3d 148.5px,#c7ff38 149.5px,#f89607 150.5px,#ff0c00 151.5px,#ff1d00 152.5px,#ff3600 153.5px,#ff7a00 155.5px,#ff9500 156.5px,#ffa900 157.5px,#ffc200 159.5px,#ffd500 162.5px,#ffe700 169.5px,#fff100 184.5px,#fff300 195.5px)"></i><i style="background:linear-gradient(90deg,#b9ff46 0.5px,#ebff14 28.5px,#f1ff0e 34.5px,#e8ff17 36.5px,#d8ff27 37.5px,#afff50 38.5px,#43f3bc 39.5px,#0034cc 40.5px,#000080 41.5px,#000080 42.5px,#0006b9 43.5px,#0097ff 44.5px,#37fec8 45.5px,#83ff7c 46.5px,#a8ff57 47.5px,#bdff42 48.5px,#d5ff2a 50.5px,#ebff14 54.5px,#fcff03 62.5px,#fff700 81.5px,#fff800 118.5px,#fcff03 135.5px,#efff10 142.5px,#d9ff26 146.5px,#beff41 149.5px,#d0fe2f 150.5px,#fe5f01 151.5px,#ff0e00 152.5px,#ff2000 153.5px,#ff3800 154.5px,#ff7a00 156.5px,#ff9400 157.5px,#ffa700 158.5px,#ffbf00 160.5px,#ffd600 164.5px,#ffe700 172.5px,#fff000 192.5px,#fff000 195.5px)"></i><i style="background:linear-gradient(90deg,#baff45 0.5px,#edff12 28.5px,#f1ff0e 33.5px,#e9ff16 35.5px,#dbff24 36.5px,#b8ff47 37.5px,#58fca7 38.5px,#0158df 39.5px,#000080 40.5px,#000080 41.5px,#000098 42.5px,#0059fb 43.5px,#19f2e6 44.5px,#6dff92 45.5px,#9cff63 46.5px,#b5ff4a 47.5px,#d0ff2f 49.5px,#e5ff1a 52.5px,#f6ff09 58.5px,#fffd00 67.5px,#fff500 96.5px,#fffc00 128.5px,#f8ff07 138.5px,#e8ff17 144.5px,#d5ff2a 147.5px,#bbff44 150.5px,#dbf324 151.5px,#ff3100 152.5px,#ff1100 153.5px,#ff2200 154.5px,#ff3a00 155.5px,#ff7900 157.5px,#ff9200 158.5px,#ffb200 160.5px,#ffca00 163.5px,#ffde00 169.5px,#ffea00 181.5px,#ffed00 195.5px)"></i><i style="background:linear-gradient(90deg,#bbff44 0.5px,#eeff11 28.5px,#efff10 33.5px,#eaff15 34.5px,#deff21 35.5px,#bfff40 36.5px,#6cff93 37.5px,#0681e6 38.5px,#000087 39.5px,#000080 40.5px,#000086 41.5px,#0028eb 42.5px,#07d3f8 43.5px,#52ffad 44.5px,#8dff72 45.5px,#acff53 46.5px,#beff41 47.5px,#d5ff2a 49.5px,#eaff15 53.5px,#fbff04 61.5px,#fffa00 72.5px,#fff600 107.5px,#fcff03 135.5px,#edff12 143.5px,#d9ff26 147.5px,#bdff42 150.5px,#baff45 151.5px,#e9da16 152.5px,#ff1500 153.5px,#ff1300 154.5px,#ff2400 155.5px,#ff3c00 156.5px,#ff7800 158.5px,#ff9000 159.5px,#ffaf00 161.5px,#ffc700 164.5px,#ffdb00 170.5px,#ffe700 182.5px,#ffea00 195.5px)"></i><i style="background:linear-gradient(90deg,#bcff43 0.5px,#efff10 28.5px,#efff10 32.5px,#ebff14 33.5px,#e0ff1f 34.5px,#c5ff3a 35.5px,#7eff81 36.5px,#0ea6ec 37.5px,#000294 38.5px,#000080 39.5px,#000080 40.5px,#000ccd 41.5px,#00a3ff 42.5px,#33fecc 43.5px,#7bff84 44.5px,#a1ff5e 45.5px,#b7ff48 46.5px,#d0ff2f 48.5px,#e8ff17 52.5px,#faff05 60.5px,#fffc00 69.5px,#fff600 102.5px,#fdff02 134.5px,#eeff11 143.5px,#dcff23 147.5px,#b8ff47 151.5px,#bcff43 152.5px,#f4b00b 153.5px,#ff0900 154.5px,#ff2500 156.5px,#ff3e00 157.5px,#ff7700 159.5px,#ff8e00 160.5px,#ffac00 162.5px,#ffc300 165.5px,#ffd800 171.5px,#ffe400 183.5px,#ffe700 195.5px)"></i><i style="background:linear-gradient(90deg,#bcff43 0.5px,#efff10 27.5px,#efff10 31.5px,#ebff14 32.5px,#e1ff1e 33.5px,#c9ff36 34.5px,#8dff72 35.5px,#17c8e8 36.5px,#000ba1 37.5px,#000080 38.5px,#000080 39.5px,#0001ac 40.5px,#0069ff 41.5px,#17f4e8 42.5px,#66ff99 43.5px,#94ff6b 44.5px,#aeff51 45.5px,#cbff34 47.5px,#e0ff1f 50.5px,#f4ff0b 56.5px,#fffe00 66.5px,#fff600 95.5px,#fffd00 128.5px,#f7ff08 139.5px,#e9ff16 145.5px,#d0ff2f 149.5px,#b4ff4b 152.5px,#c2ff3d 153.5px,#fb7d04 154.5px,#ff0800 155.5px,#ff2700 157.5px,#ff7500 160.5px,#ff9b00 162.5px,#ffb200 164.5px,#ffc900 168.5px,#ffdb00 176.5px,#ffe300 195.5px)"></i><i style="background:linear-gradient(90deg,#bdff42 0.5px,#efff10 26.5px,#efff10 30.5px,#ebff14 31.5px,#e2ff1d 32.5px,#cdff32 33.5px,#99ff66 34.5px,#26e1d9 35.5px,#001cb4 36.5px,#000080 37.5px,#000080 38.5px,#000091 39.5px,#0038f5 40.5px,#06d9f9 41.5px,#4dffb2 42.5px,#85ff7a 43.5px,#a5ff5a 44.5px,#b8ff47 45.5px,#cfff30 47.5px,#e6ff19 51.5px,#f9ff06 59.5px,#fffc00 69.5px,#fff600 103.5px,#fdff02 134.5px,#f0ff0f 143.5px,#dbff24 148.5px,#b1ff4e 153.5px,#cdfb32 154.5px,#ff4b00 155.5px,#ff0a00 156.5px,#ff2800 158.5px,#ff7300 161.5px,#ff9700 163.5px,#ffae00 165.5px,#ffc600 169.5px,#ffd600 176.5px,#ffe000 194.5px,#ffe000 195.5px)"></i><i style="background:linear-gradient(90deg,#beff41 0.5px,#eeff11 25.5px,#efff10 29.5px,#e2ff1d 31.5px,#cfff30 32.5px,#a2ff5d 33.5px,#37f0c8 34.5px,#0032ce 35.5px,#000080 36.5px,#000083 38.5px,#0015e1 39.5px,#00afff 40.5px,#2ffed0 41.5px,#74ff8b 42.5px,#9aff65 43.5px,#b0ff4f 44.5px,#caff35 46.5px,#dfff20 49.5px,#f2ff0d 55.5px,#fffe00 66.5px,#fff600 96.5px,#fffe00 129.5px,#f4ff0b 141.5px,#e3ff1c 147.5px,#d0ff2f 150.5px,#b2ff4d 153.5px,#afff50 154.5px,#daec25 155.5px,#ff2400 156.5px,#ff0c00 157.5px,#ff2900 159.5px,#ff7000 162.5px,#ff9300 164.5px,#ffb200 167.5px,#ffc500 171.5px,#ffd500 179.5px,#ffdc00 195.5px)"></i><i style="background:linear-gradient(90deg,#bfff40 0.5px,#eeff11 24.5px,#eeff11 28.5px,#e3ff1c 30.5px,#d1ff2e 31.5px,#a8ff57 32.5px,#46f9b9 33.5px,#0050e0 34.5px,#000080 35.5px,#000080 37.5px,#0004c1 38.5px,#007bff 39.5px,#16f5e9 40.5px,#60ff9f 41.5px,#8dff72 42.5px,#a8ff57 43.5px,#b9ff46 44.5px,#ceff31 46.5px,#e5ff1a 50.5px,#f8ff07 58.5px,#fffd00 69.5px,#fff700 104.5px,#fdff02 134.5px,#eeff11 144.5px,#daff25 149.5px,#c2ff3d 152.5px,#aeff51 154.5px,#afff50 155.5px,#e9cf16 156.5px,#ff0e00 157.5px,#ff0e00 158.5px,#ff2a00 160.5px,#ff7f00 164.5px,#ff9b00 166.5px,#ffb400 169.5px,#ffc700 174.5px,#ffd500 185.5px,#ffd800 195.5px)"></i><i style="background:linear-gradient(90deg,#c0ff3f 0.5px,#edff12 23.5px,#eeff11 27.5px,#e2ff1d 29.5px,#d2ff2d 30.5px,#adff52 31.5px,#54fdab 32.5px,#0271e7 33.5px,#000086 34.5px,#000080 35.5px,#000080 36.5px,#0000a1 37.5px,#0048fc 38.5px,#06def9 39.5px,#48ffb7 40.5px,#7eff81 41.5px,#9eff61 42.5px,#b2ff4d 43.5px,#caff35 45.5px,#e2ff1d 49.5px,#f5ff0a 56.5px,#fffd00 68.5px,#fff700 102.5px,#fdff02 134.5px,#efff10 144.5px,#dcff23 149.5px,#c6ff39 152.5px,#a9ff56 155.5px,#b2ff4d 156.5px,#f3a40b 157.5px,#ff0500 158.5px,#ff1b00 160.5px,#ff3e00 162.5px,#ff7b00 165.5px,#ff9600 167.5px,#ffaf00 170.5px,#ffc300 175.5px,#ffd100 186.5px,#ffd400 195.5px)"></i><i style="background:linear-gradient(90deg,#c1ff3e 0.5px,#edff12 22.5px,#edff12 26.5px,#e2ff1d 28.5px,#d2ff2d 29.5px,#b0ff4f 30.5px,#5fffa0 31.5px,#058df0 32.5px,#000090 33.5px,#000080 34.5px,#000080 35.5px,#00008b 36.5px,#0021ee 37.5px,#00b7ff 38.5px,#2cffd3 39.5px,#6dff92 40.5px,#93ff6c 41.5px,#aaff55 42.5px,#c5ff3a 44.5px,#daff25 47.5px,#efff10 53.5px,#ffff00 66.5px,#fff700 97.5px,#fcff03 134.5px,#edff12 145.5px,#d9ff26 150.5px,#c2ff3d 153.5px,#a5ff5a 156.5px,#bbff44 157.5px,#fa7304 158.5px,#fe0500 159.5px,#ff2900 162.5px,#ff7600 166.5px,#ff9100 168.5px,#ffaa00 171.5px,#ffbe00 176.5px,#ffcd00 187.5px,#ffd000 195.5px)"></i><i style="background:linear-gradient(90deg,#c2ff3d 0.5px,#ecff13 21.5px,#ecff13 25.5px,#e1ff1e 27.5px,#d2ff2d 28.5px,#b2ff4d 29.5px,#69ff96 30.5px,#0aa4f2 31.5px,#000599 32.5px,#000080 33.5px,#000082 35.5px,#000ad4 36.5px,#0088ff 37.5px,#14f6eb 38.5px,#59ffa6 39.5px,#86ff79 40.5px,#a1ff5e 41.5px,#b3ff4c 42.5px,#c9ff36 44.5px,#e1ff1e 48.5px,#f5ff0a 56.5px,#fffd00 69.5px,#fff800 105.5px,#fcff03 134.5px,#edff12 145.5px,#dbff24 150.5px,#bcff43 154.5px,#a7ff58 156.5px,#a3ff5c 157.5px,#c7fa38 158.5px,#fe4600 159.5px,#ff0600 160.5px,#ff2900 163.5px,#ff7100 167.5px,#ff9500 170.5px,#ffaf00 174.5px,#ffc100 181.5px,#ffcb00 195.5px)"></i><i style="background:linear-gradient(90deg,#c3ff3c 0.5px,#ebff14 20.5px,#ebff14 24.5px,#e0ff1f 26.5px,#d2ff2d 27.5px,#b3ff4c 28.5px,#6fff90 29.5px,#0db7f2 30.5px,#000ba4 31.5px,#000080 32.5px,#000080 34.5px,#0001b4 35.5px,#0056ff 36.5px,#05e0fa 37.5px,#42ffbd 38.5px,#77ff88 39.5px,#97ff68 40.5px,#abff54 41.5px,#c4ff3b 43.5px,#deff21 47.5px,#f2ff0d 54.5px,#fffe00 68.5px,#fff800 103.5px,#fdff02 133.5px,#eeff11 145.5px,#ddff22 150.5px,#c1ff3e 154.5px,#a2ff5d 157.5px,#a1ff5e 158.5px,#d4eb2b 159.5px,#fe2400 160.5px,#ff0700 161.5px,#ff2700 164.5px,#ff6c00 168.5px,#ff9000 171.5px,#ffa900 175.5px,#ffbc00 182.5px,#ffc600 195.5px)"></i><i style="background:linear-gradient(90deg,#c4ff3b 0.5px,#eaff15 19.5px,#eaff15 23.5px,#dfff20 25.5px,#d1ff2e 26.5px,#b4ff4b 27.5px,#74ff8b 28.5px,#10c7ef 29.5px,#0013ae 30.5px,#000080 31.5px,#000080 33.5px,#000098 34.5px,#002ef7 35.5px,#00bdff 36.5px,#28fed7 37.5px,#66ff99 38.5px,#8bff74 39.5px,#a3ff5c 40.5px,#bfff40 42.5px,#d5ff2a 45.5px,#ebff14 51.5px,#fcff03 63.5px,#fff900 104.5px,#fcff03 133.5px,#eeff11 145.5px,#d9ff26 151.5px,#bcff43 155.5px,#9eff61 158.5px,#a1ff5e 159.5px,#e4d31b 160.5px,#fd1000 161.5px,#ff0800 162.5px,#ff2600 165.5px,#ff7400 170.5px,#ff9100 173.5px,#ffa800 177.5px,#ffba00 185.5px,#ffc100 195.5px)"></i><i style="background:linear-gradient(90deg,#c5ff3a 0.5px,#e9ff16 18.5px,#e9ff16 22.5px,#deff21 24.5px,#d0ff2f 25.5px,#b3ff4c 26.5px,#77ff88 27.5px,#14d2eb 28.5px,#001ab9 29.5px,#000080 30.5px,#000080 32.5px,#000088 33.5px,#0011e5 34.5px,#0091ff 35.5px,#12f6ed 36.5px,#53ffac 37.5px,#7fff80 38.5px,#9aff65 39.5px,#acff53 40.5px,#c3ff3c 42.5px,#dcff23 46.5px,#f0ff0f 53.5px,#ffff00 68.5px,#fff900 104.5px,#fcff03 133.5px,#eeff11 145.5px,#dbff24 151.5px,#c0ff3f 155.5px,#99ff66 159.5px,#a4ff5b 160.5px,#efb210 161.5px,#fd0500 162.5px,#ff0800 163.5px,#ff2400 166.5px,#ff6d00 171.5px,#ff8b00 174.5px,#ffa100 178.5px,#ffb400 186.5px,#ffbc00 195.5px)"></i><i style="background:linear-gradient(90deg,#c5ff3a 0.5px,#e8ff17 17.5px,#e7ff18 21.5px,#dcff23 23.5px,#ceff31 24.5px,#b2ff4d 25.5px,#78ff87 26.5px,#17d9e8 27.5px,#001fc6 28.5px,#000080 29.5px,#000081 32.5px,#0003c9 33.5px,#0065ff 34.5px,#04e2fb 35.5px,#3cffc3 36.5px,#70ff8f 37.5px,#90ff6f 38.5px,#a4ff5b 39.5px,#beff41 41.5px,#d9ff26 45.5px,#eeff11 52.5px,#feff01 67.5px,#fffa00 106.5px,#fcff03 133.5px,#ecff13 146.5px,#d7ff28 152.5px,#bbff44 156.5px,#9cff63 159.5px,#96ff69 160.5px,#abff54 161.5px,#f58e09 162.5px,#fd0100 163.5px,#ff2300 167.5px,#ff6600 172.5px,#ff8400 175.5px,#ff9a00 179.5px,#ffae00 187.5px,#ffb600 195.5px)"></i><i style="background:linear-gradient(90deg,#c6ff39 0.5px,#e7ff18 16.5px,#e5ff1a 20.5px,#daff25 22.5px,#ccff33 23.5px,#b1ff4e 24.5px,#78ff87 25.5px,#19dee6 26.5px,#0027ce 27.5px,#000080 28.5px,#000080 31.5px,#0000ac 32.5px,#003cfc 33.5px,#00c1ff 34.5px,#24fedb 35.5px,#5fffa0 36.5px,#84ff7b 37.5px,#9cff63 38.5px,#b9ff46 40.5px,#d0ff2f 43.5px,#e8ff17 49.5px,#f9ff06 60.5px,#fffd00 75.5px,#fffc00 117.5px,#faff05 135.5px,#eaff15 147.5px,#d4ff2b 153.5px,#b6ff49 157.5px,#97ff68 160.5px,#93ff6c 161.5px,#b5ff4a 162.5px,#f96c04 163.5px,#fd0100 164.5px,#ff2100 168.5px,#ff6a00 174.5px,#ff8300 177.5px,#ff9a00 182.5px,#ffac00 191.5px,#ffaf00 195.5px)"></i><i style="background:linear-gradient(90deg,#c7ff38 0.5px,#e6ff19 15.5px,#e4ff1b 19.5px,#d8ff27 21.5px,#c9ff36 22.5px,#aeff51 23.5px,#77ff88 24.5px,#1ae1e5 25.5px,#002ed2 26.5px,#000080 27.5px,#000080 30.5px,#000095 31.5px,#001cf2 32.5px,#009bff 33.5px,#0ff6f0 34.5px,#4cffb3 35.5px,#77ff88 36.5px,#93ff6c 37.5px,#a5ff5a 38.5px,#bdff42 40.5px,#d7ff28 44.5px,#ecff13 51.5px,#fcff03 65.5px,#fffb00 111.5px,#fbff04 133.5px,#edff12 146.5px,#daff25 152.5px,#c3ff3c 156.5px,#92ff6d 161.5px,#91ff6e 162.5px,#bdfa42 163.5px,#fd4d01 164.5px,#fd0100 165.5px,#ff1e00 169.5px,#ff6c00 176.5px,#ff8b00 181.5px,#ffa000 188.5px,#ffa800 195.5px)"></i><i style="background:linear-gradient(90deg,#c8ff37 0.5px,#e4ff1b 14.5px,#e1ff1e 18.5px,#d5ff2a 20.5px,#c6ff39 21.5px,#abff54 22.5px,#74ff8b 23.5px,#19e2e6 24.5px,#0032d5 25.5px,#000080 26.5px,#000080 29.5px,#000088 30.5px,#000ae0 31.5px,#0074ff 32.5px,#04e3fb 33.5px,#37ffc8 34.5px,#68ff97 35.5px,#88ff77 36.5px,#9dff62 37.5px,#b8ff47 39.5px,#d4ff2b 43.5px,#ebff14 50.5px,#fbff04 64.5px,#fffb00 88.5px,#fcff03 131.5px,#edff12 146.5px,#d7ff28 153.5px,#beff41 157.5px,#8dff72 162.5px,#8fff70 163.5px,#c7f238 164.5px,#fc3500 165.5px,#fd0100 166.5px,#ff1c00 170.5px,#ff6400 177.5px,#ff8300 182.5px,#ff9900 189.5px,#ffa100 195.5px)"></i><i style="background:linear-gradient(90deg,#c9ff36 0.5px,#e3ff1c 13.5px,#dfff20 17.5px,#d2ff2d 19.5px,#c3ff3c 20.5px,#a7ff58 21.5px,#6fff90 22.5px,#17e1e8 23.5px,#0033d7 24.5px,#000080 25.5px,#000082 29.5px,#0002c7 30.5px,#004eff 31.5px,#00c6ff 32.5px,#20fedf 33.5px,#58ffa7 34.5px,#7dff82 35.5px,#95ff6a 36.5px,#b2ff4d 38.5px,#cbff34 41.5px,#e4ff1b 47.5px,#f6ff09 58.5px,#fffe00 76.5px,#fffe00 119.5px,#f6ff09 139.5px,#e6ff19 149.5px,#cfff30 155.5px,#b0ff4f 159.5px,#89ff76 163.5px,#8eff71 164.5px,#d2e62d 165.5px,#fc2200 166.5px,#fd0100 167.5px,#ff2200 172.5px,#ff5c00 178.5px,#ff7b00 183.5px,#ff9100 190.5px,#ff9800 195.5px)"></i><i style="background:linear-gradient(90deg,#caff35 0.5px,#e1ff1e 12.5px,#ddff22 16.5px,#ceff31 18.5px,#beff41 19.5px,#a1ff5e 20.5px,#69ff96 21.5px,#14deeb 22.5px,#0032d7 23.5px,#000080 24.5px,#000080 28.5px,#0000ae 29.5px,#002efb 30.5px,#00a5ff 31.5px,#0df7f2 32.5px,#46ffb9 33.5px,#70ff8f 34.5px,#8bff74 35.5px,#9eff61 36.5px,#b7ff48 38.5px,#d2ff2d 42.5px,#e9ff16 49.5px,#faff05 63.5px,#fffc00 83.5px,#fcff03 130.5px,#edff12 146.5px,#daff25 153.5px,#bdff42 158.5px,#8cff73 163.5px,#85ff7a 164.5px,#8fff70 165.5px,#dcd923 166.5px,#fa1700 167.5px,#fd0100 168.5px,#ff1f00 173.5px,#ff5b00 180.5px,#ff7b00 186.5px,#ff8e00 194.5px,#ff9000 195.5px)"></i><i style="background:linear-gradient(90deg,#cbff34 0.5px,#dfff20 11.5px,#daff25 15.5px,#cbff34 17.5px,#baff45 18.5px,#9bff64 19.5px,#61ff9e 20.5px,#10d8ef 21.5px,#002ed5 22.5px,#000080 23.5px,#000080 27.5px,#000099 28.5px,#0016f2 29.5px,#0084ff 30.5px,#03e6fc 31.5px,#32ffcd 32.5px,#61ff9e 33.5px,#81ff7e 34.5px,#96ff69 35.5px,#b2ff4d 37.5px,#c9ff36 40.5px,#e2ff1d 46.5px,#f5ff0a 57.5px,#fffe00 77.5px,#ffff00 121.5px,#f3ff0c 142.5px,#e2ff1d 151.5px,#cdff32 156.5px,#afff50 160.5px,#87ff78 164.5px,#81ff7e 165.5px,#90ff6f 166.5px,#e3c91c 167.5px,#f90f00 168.5px,#fd0100 169.5px,#ff1b00 174.5px,#ff5900 182.5px,#ff7600 188.5px,#ff8600 195.5px)"></i><i style="background:linear-gradient(90deg,#cbff34 0.5px,#ddff22 10.5px,#d7ff28 14.5px,#c7ff38 16.5px,#b4ff4b 17.5px,#94ff6b 18.5px,#58ffa7 19.5px,#0bd0f4 20.5px,#0027d1 21.5px,#000080 22.5px,#000080 26.5px,#00008b 27.5px,#0008e2 28.5px,#0064ff 29.5px,#00ceff 30.5px,#1dfee2 31.5px,#52ffad 32.5px,#75ff8a 33.5px,#8eff71 34.5px,#acff53 36.5px,#c6ff39 39.5px,#e0ff1f 45.5px,#f4ff0b 56.5px,#fffe00 77.5px,#fcff03 128.5px,#eeff11 145.5px,#dcff23 153.5px,#c3ff3c 158.5px,#96ff69 163.5px,#82ff7d 165.5px,#7dff82 166.5px,#91ff6e 167.5px,#eaba15 168.5px,#f90900 169.5px,#fc0000 170.5px,#ff1800 175.5px,#ff5600 184.5px,#ff7300 191.5px,#ff7c00 195.5px)"></i><i style="background:linear-gradient(90deg,#ccff33 0.5px,#dbff24 9.5px,#d8ff27 12.5px,#ceff31 14.5px,#c2ff3d 15.5px,#afff50 16.5px,#8cff73 17.5px,#4cffb3 18.5px,#08c2f7 19.5px,#001ecd 20.5px,#000080 21.5px,#000080 25.5px,#000084 26.5px,#0002cd 27.5px,#0044ff 28.5px,#00b1ff 29.5px,#0df8f2 30.5px,#41ffbe 31.5px,#69ff96 32.5px,#84ff7b 33.5px,#a6ff59 35.5px,#c2ff3d 38.5px,#daff25 43.5px,#efff10 52.5px,#fdff02 71.5px,#fcff03 127.5px,#eeff11 145.5px,#ddff22 153.5px,#c5ff3a 158.5px,#9bff64 163.5px,#7dff82 166.5px,#7aff85 167.5px,#93ff6c 168.5px,#eeac11 169.5px,#f70600 170.5px,#fb0000 171.5px,#ff0f00 175.5px,#ff5800 187.5px,#ff7000 194.5px,#ff7200 195.5px)"></i><i style="background:linear-gradient(90deg,#cdff32 0.5px,#d9ff26 8.5px,#d6ff29 11.5px,#caff35 13.5px,#bdff42 14.5px,#a9ff56 15.5px,#84ff7b 16.5px,#40febf 17.5px,#04b3fb 18.5px,#0016c3 19.5px,#000080 20.5px,#000081 25.5px,#0000b6 26.5px,#002afc 27.5px,#0095ff 28.5px,#03eafc 29.5px,#2fffd0 30.5px,#5bffa4 31.5px,#7aff85 32.5px,#8fff70 33.5px,#acff53 35.5px,#c4ff3b 38.5px,#deff21 44.5px,#f2ff0d 55.5px,#ffff00 77.5px,#fcff03 127.5px,#edff12 146.5px,#daff25 154.5px,#c1ff3e 159.5px,#96ff69 164.5px,#78ff87 167.5px,#77ff88 168.5px,#95ff6a 169.5px,#efa00f 170.5px,#f60400 171.5px,#fa0000 172.5px,#ff0500 174.5px,#ff2100 180.5px,#ff5300 189.5px,#ff6700 195.5px)"></i><i style="background:linear-gradient(90deg,#cdff32 0.5px,#d7ff28 7.5px,#d2ff2d 10.5px,#c6ff39 12.5px,#b8ff47 13.5px,#a2ff5d 14.5px,#7aff85 15.5px,#34fbcb 16.5px,#029efd 17.5px,#0010b6 18.5px,#000080 19.5px,#000080 24.5px,#0000a3 25.5px,#0015f5 26.5px,#0078ff 27.5px,#00d5ff 28.5px,#1dffe2 29.5px,#4dffb2 30.5px,#6fff90 31.5px,#87ff78 32.5px,#a6ff59 34.5px,#c0ff3f 37.5px,#d8ff27 42.5px,#edff12 51.5px,#fcff03 69.5px,#feff01 118.5px,#f2ff0d 142.5px,#e1ff1e 152.5px,#c9ff36 158.5px,#a4ff5b 163.5px,#74ff8b 168.5px,#74ff8b 169.5px,#97ff68 170.5px,#f0970e 171.5px,#f50300 172.5px,#fe0000 174.5px,#ff1700 180.5px,#ff4b00 190.5px,#ff5b00 195.5px)"></i><i style="background:linear-gradient(90deg,#cdff32 0.5px,#d4ff2b 6.5px,#cfff30 9.5px,#c1ff3e 11.5px,#b3ff4c 12.5px,#9aff65 13.5px,#70ff8f 14.5px,#28f7d7 15.5px,#0089fd 16.5px,#0009ac 17.5px,#000080 18.5px,#000080 23.5px,#000094 24.5px,#0009e8 25.5px,#005dff 26.5px,#00bdff 27.5px,#0dfaf2 28.5px,#3effc1 29.5px,#63ff9c 30.5px,#7dff82 31.5px,#9fff60 33.5px,#bcff43 36.5px,#d5ff2a 41.5px,#ebff14 50.5px,#fbff04 68.5px,#ffff00 109.5px,#f5ff0a 138.5px,#e4ff1b 151.5px,#cbff34 158.5px,#a8ff57 163.5px,#6fff90 169.5px,#70ff8f 170.5px,#97ff68 171.5px,#f1930d 172.5px,#f40300 173.5px,#ff0100 176.5px,#ff1c00 183.5px,#ff4900 193.5px,#ff4f00 195.5px)"></i><i style="background:linear-gradient(90deg,#cdff32 0.5px,#d1ff2e 6.5px,#c6ff39 9.5px,#bcff43 10.5px,#acff53 11.5px,#92ff6d 12.5px,#64ff9b 13.5px,#1cf1e3 14.5px,#0072f8 15.5px,#0005a0 16.5px,#000080 17.5px,#000080 22.5px,#00008a 23.5px,#0002d7 24.5px,#0042ff 25.5px,#00a4ff 26.5px,#04effb 27.5px,#2dffd2 28.5px,#57ffa8 29.5px,#74ff8b 30.5px,#89ff76 31.5px,#a5ff5a 33.5px,#bfff40 36.5px,#daff25 42.5px,#eeff11 52.5px,#fcff03 72.5px,#fdff02 121.5px,#efff10 144.5px,#dcff23 154.5px,#c1ff3e 160.5px,#9aff65 165.5px,#6bff94 170.5px,#6dff92 171.5px,#96ff69 172.5px,#f0920d 173.5px,#f30300 174.5px,#fe0000 177.5px,#ff1600 184.5px,#ff4000 194.5px,#ff4300 195.5px)"></i><i style="background:linear-gradient(90deg,#ccff33 0.5px,#ceff31 5.5px,#c1ff3e 8.5px,#b7ff48 9.5px,#a6ff59 10.5px,#89ff76 11.5px,#57ffa8 12.5px,#12e7ed 13.5px,#005af3 14.5px,#000197 15.5px,#000080 16.5px,#000080 21.5px,#000084 22.5px,#0000c5 23.5px,#002bfd 24.5px,#008bff 25.5px,#00ddff 26.5px,#1cffe3 27.5px,#49ffb6 28.5px,#69ff96 29.5px,#80ff7f 30.5px,#9fff60 32.5px,#bbff44 35.5px,#d4ff2b 40.5px,#eaff15 49.5px,#faff05 66.5px,#ffff00 105.5px,#f6ff09 137.5px,#e4ff1b 151.5px,#ceff31 158.5px,#afff50 163.5px,#6dff92 170.5px,#66ff99 171.5px,#69ff96 172.5px,#93ff6c 173.5px,#f0950e 174.5px,#f20300 175.5px,#fc0000 178.5px,#ff0a00 183.5px,#ff3800 195.5px)"></i><i style="background:linear-gradient(90deg,#cbff34 0.5px,#cbff34 4.5px,#c4ff3b 6.5px,#b1ff4e 8.5px,#9eff61 9.5px,#7fff80 10.5px,#48ffb7 11.5px,#0ad8f5 12.5px,#0042e9 13.5px,#00008e 14.5px,#000080 15.5px,#000081 21.5px,#0000b4 22.5px,#0019f9 23.5px,#0073ff 24.5px,#00c7ff 25.5px,#0efbf1 26.5px,#3bffc4 27.5px,#5effa1 28.5px,#78ff87 29.5px,#99ff66 31.5px,#b6ff49 34.5px,#d1ff2e 39.5px,#e8ff17 48.5px,#f9ff06 65.5px,#ffff00 103.5px,#f6ff09 136.5px,#e6ff19 150.5px,#cfff30 158.5px,#b2ff4d 163.5px,#86ff79 168.5px,#68ff97 171.5px,#62ff9d 172.5px,#65ff9a 173.5px,#8fff70 174.5px,#ee9a0f 175.5px,#f10400 176.5px,#f70000 178.5px,#ff0400 183.5px,#ff2c00 195.5px)"></i><i style="background:linear-gradient(90deg,#c9ff36 0.5px,#c4ff3b 4.5px,#b7ff48 6.5px,#abff54 7.5px,#96ff69 8.5px,#73ff8c 9.5px,#38fec7 10.5px,#05c4fa 11.5px,#002ddf 12.5px,#000087 13.5px,#000080 14.5px,#000080 20.5px,#0000a5 21.5px,#000cf1 22.5px,#005cff 23.5px,#00b2ff 24.5px,#04f2fb 25.5px,#2cffd3 26.5px,#52ffad 27.5px,#6eff91 28.5px,#93ff6c 30.5px,#b2ff4d 33.5px,#ceff31 38.5px,#e7ff18 47.5px,#f7ff08 63.5px,#feff01 98.5px,#f7ff08 134.5px,#e6ff19 150.5px,#d0ff2f 158.5px,#b5ff4a 163.5px,#8bff74 168.5px,#63ff9c 172.5px,#5effa1 173.5px,#61ff9e 174.5px,#8aff75 175.5px,#eda211 176.5px,#f10700 177.5px,#f10000 178.5px,#ff0100 184.5px,#ff2200 195.5px)"></i><i style="background:linear-gradient(90deg,#c6ff39 0.5px,#c0ff3f 3.5px,#b2ff4d 5.5px,#a4ff5b 6.5px,#8dff72 7.5px,#67ff98 8.5px,#28fbd7 9.5px,#02aafd 10.5px,#001bcf 11.5px,#000082 12.5px,#000080 19.5px,#000099 20.5px,#0005e6 21.5px,#0047ff 22.5px,#009dff 23.5px,#01e4fe 24.5px,#1dffe2 25.5px,#46ffb9 26.5px,#64ff9b 27.5px,#7bff84 28.5px,#99ff66 30.5px,#b5ff4a 33.5px,#cfff30 38.5px,#e7ff18 47.5px,#f8ff07 64.5px,#feff01 101.5px,#f6ff09 135.5px,#e6ff19 150.5px,#d1ff2e 158.5px,#b1ff4e 164.5px,#86ff79 169.5px,#5fffa0 173.5px,#59ffa6 174.5px,#5cffa3 175.5px,#84ff7b 176.5px,#e9b316 177.5px,#f10d00 178.5px,#ef0000 179.5px,#fe0100 186.5px,#ff1800 195.5px)"></i><i style="background:linear-gradient(90deg,#c2ff3d 0.5px,#b6ff49 3.5px,#acff53 4.5px,#9cff63 5.5px,#83ff7c 6.5px,#59ffa6 7.5px,#1af4e5 8.5px,#008bff 9.5px,#000fbc 10.5px,#000080 11.5px,#000080 18.5px,#000090 19.5px,#0001d9 20.5px,#0033ff 21.5px,#0088ff 22.5px,#00d2ff 23.5px,#0ffdf0 24.5px,#39ffc6 25.5px,#5affa5 26.5px,#72ff8d 27.5px,#93ff6c 29.5px,#b1ff4e 32.5px,#ccff33 37.5px,#e5ff1a 46.5px,#f6ff09 62.5px,#feff01 97.5px,#f6ff09 134.5px,#e7ff18 150.5px,#d2ff2d 158.5px,#b4ff4b 164.5px,#8bff74 169.5px,#5affa5 174.5px,#54ffab 175.5px,#57ffa8 176.5px,#7aff85 177.5px,#dfc420 178.5px,#f11500 179.5px,#ed0000 180.5px,#fd0000 188.5px,#ff0e00 195.5px)"></i><i style="background:linear-gradient(90deg,#bcff43 0.5px,#b1ff4e 2.5px,#a6ff59 3.5px,#94ff6b 4.5px,#78ff87 5.5px,#49ffb6 6.5px,#0fe8f0 7.5px,#006cfa 8.5px,#0006aa 9.5px,#000080 10.5px,#000080 17.5px,#000089 18.5px,#0000cb 19.5px,#0023fd 20.5px,#0075ff 21.5px,#00bfff 22.5px,#05f6fa 23.5px,#2bffd4 24.5px,#4effb1 25.5px,#69ff96 26.5px,#8dff72 28.5px,#acff53 31.5px,#c9ff36 36.5px,#e1ff1e 44.5px,#f4ff0b 59.5px,#fdff02 90.5px,#f8ff07 131.5px,#e8ff17 149.5px,#d3ff2c 158.5px,#b6ff49 164.5px,#8fff70 169.5px,#55ffaa 175.5px,#50ffaf 176.5px,#52ffad 177.5px,#6fff90 178.5px,#d5d62a 179.5px,#f32000 180.5px,#ea0000 181.5px,#f80000 188.5px,#ff0400 194.5px,#ff0600 195.5px)"></i><i style="background:linear-gradient(90deg,#b3ff4c 0.5px,#9fff60 2.5px,#8bff74 3.5px,#6cff93 4.5px,#38ffc7 5.5px,#07d6f8 6.5px,#004df2 7.5px,#000199 8.5px,#000080 9.5px,#000080 16.5px,#000085 17.5px,#0000be 18.5px,#0015fa 19.5px,#0062ff 20.5px,#00adff 21.5px,#01eafe 22.5px,#1dffe2 23.5px,#43ffbc 24.5px,#5fffa0 25.5px,#86ff79 27.5px,#a8ff57 30.5px,#c6ff39 35.5px,#dfff20 43.5px,#f2ff0d 57.5px,#fcff03 85.5px,#f8ff07 129.5px,#eaff15 148.5px,#d4ff2b 158.5px,#b8ff47 164.5px,#93ff6c 169.5px,#51ffae 176.5px,#4bffb4 177.5px,#4cffb3 178.5px,#65ff9a 179.5px,#c6e439 180.5px,#f43300 181.5px,#e80000 182.5px,#f40000 188.5px,#fe0000 195.5px)"></i><i style="background:linear-gradient(90deg,#a5ff5a 0.5px,#97ff68 1.5px,#82ff7d 2.5px,#5fffa0 3.5px,#28fcd7 4.5px,#02befd 5.5px,#0031e6 6.5px,#00008d 7.5px,#000080 8.5px,#000082 16.5px,#0000b1 17.5px,#000bf4 18.5px,#0051ff 19.5px,#009bff 20.5px,#00dbff 21.5px,#10feef 22.5px,#37ffc8 23.5px,#55ffaa 24.5px,#6dff92 25.5px,#8dff72 27.5px,#abff54 30.5px,#c8ff37 35.5px,#e0ff1f 43.5px,#f2ff0d 57.5px,#fcff03 86.5px,#f7ff08 130.5px,#e8ff17 149.5px,#d4ff2b 158.5px,#baff45 164.5px,#97ff68 169.5px,#4cffb3 177.5px,#46ffb9 178.5px,#47ffb8 179.5px,#5cffa3 180.5px,#b5f04a 181.5px,#f74901 182.5px,#e70000 183.5px,#f20000 190.5px,#f80000 195.5px)"></i><i style="background:linear-gradient(90deg,#8fff70 0.5px,#77ff88 1.5px,#51ffae 2.5px,#19f7e6 3.5px,#00a0ff 4.5px,#001cd5 5.5px,#000085 6.5px,#000080 7.5px,#000081 15.5px,#0000a6 16.5px,#0005eb 17.5px,#0040ff 18.5px,#008bff 19.5px,#00cbff 20.5px,#07f9f8 21.5px,#2bffd4 22.5px,#4bffb4 23.5px,#64ff9b 24.5px,#87ff78 26.5px,#a7ff58 29.5px,#c4ff3b 34.5px,#deff21 42.5px,#f1ff0e 56.5px,#fcff03 84.5px,#f8ff07 129.5px,#e8ff17 149.5px,#d2ff2d 159.5px,#b6ff49 165.5px,#89ff76 171.5px,#47ffb8 178.5px,#41ffbe 179.5px,#41ffbe 180.5px,#52ffad 181.5px,#a1f85e 182.5px,#f46406 183.5px,#e70000 184.5px,#f30000 195.5px)"></i><i style="background:linear-gradient(90deg,#6cff93 0.5px,#41ffbe 1.5px,#0debf2 2.5px,#007dff 3.5px,#000dbf 4.5px,#000080 5.5px,#000080 14.5px,#00009c 15.5px,#0002e1 16.5px,#0030ff 17.5px,#007aff 18.5px,#00bcff 19.5px,#02f0fd 20.5px,#1fffe0 21.5px,#41ffbe 22.5px,#5bffa4 23.5px,#80ff7f 25.5px,#a2ff5d 28.5px,#c1ff3e 33.5px,#dcff23 41.5px,#f0ff0f 55.5px,#fbff04 82.5px,#f8ff07 128.5px,#e9ff16 148.5px,#d5ff2a 158.5px,#b8ff47 165.5px,#8dff72 171.5px,#42ffbd 179.5px,#3cffc3 180.5px,#3bffc4 181.5px,#49ffb6 182.5px,#8ffe70 183.5px,#f0840c 184.5px,#e70300 185.5px,#e70000 187.5px,#ee0000 195.5px)"></i><i style="background:linear-gradient(90deg,#2fffd0 0.5px,#05d8fa 1.5px,#005cf9 2.5px,#0005a9 3.5px,#000080 4.5px,#000080 13.5px,#000094 14.5px,#0000d6 15.5px,#0022fe 16.5px,#006aff 17.5px,#00acff 18.5px,#00e4ff 19.5px,#13ffec 20.5px,#36ffc9 21.5px,#52ffad 22.5px,#79ff86 24.5px,#9dff62 27.5px,#b9ff46 31.5px,#d5ff2a 38.5px,#ebff14 50.5px,#f9ff06 72.5px,#f9ff06 121.5px,#edff12 145.5px,#d9ff26 157.5px,#bfff40 164.5px,#99ff66 170.5px,#3effc1 180.5px,#35ffca 182.5px,#40ffbf 183.5px,#7aff85 184.5px,#e8a614 185.5px,#e80a00 186.5px,#e20000 187.5px,#ea0000 194.5px,#eb0000 195.5px)"></i><i style="background:linear-gradient(90deg,#01befe 0.5px,#003cef 1.5px,#000097 2.5px,#000080 3.5px,#000080 12.5px,#00008c 13.5px,#0000c9 14.5px,#0016fb 15.5px,#009dff 17.5px,#00d6ff 18.5px,#09fcf6 19.5px,#48ffb7 21.5px,#72ff8d 23.5px,#98ff67 26.5px,#b5ff4a 30.5px,#d2ff2d 37.5px,#eaff15 49.5px,#f8ff07 70.5px,#faff05 119.5px,#edff12 145.5px,#d9ff26 157.5px,#c1ff3e 164.5px,#9cff63 170.5px,#5effa1 177.5px,#32ffcd 182.5px,#30ffcf 183.5px,#38ffc7 184.5px,#66ff99 185.5px,#dac125 186.5px,#ea1600 187.5px,#e00000 188.5px,#e70000 195.5px)"></i><i style="background:linear-gradient(90deg,#0021dd 0.5px,#000089 1.5px,#000080 2.5px,#000080 11.5px,#000087 12.5px,#0000bd 13.5px,#000cf7 14.5px,#004cff 15.5px,#008eff 16.5px,#00c8ff 17.5px,#03f5fc 18.5px,#20ffdf 19.5px,#3fffc0 20.5px,#6bff94 22.5px,#88ff77 24.5px,#a4ff5b 27.5px,#c1ff3e 32.5px,#daff25 40.5px,#efff10 54.5px,#faff05 81.5px,#f7ff08 128.5px,#e8ff17 149.5px,#d4ff2b 159.5px,#b8ff47 166.5px,#90ff6f 172.5px,#34ffcb 182.5px,#2affd5 184.5px,#30ffcf 185.5px,#55ffaa 186.5px,#c8dc37 187.5px,#ef2900 188.5px,#de0000 189.5px,#e40000 195.5px)"></i><i style="background:linear-gradient(90deg,#000082 0.5px,#000080 10.5px,#000084 11.5px,#0000b2 12.5px,#0006f0 13.5px,#003dff 14.5px,#007fff 15.5px,#00baff 16.5px,#00ebff 17.5px,#15ffea 18.5px,#35ffca 19.5px,#4fffb0 20.5px,#74ff8b 22.5px,#98ff67 25.5px,#b9ff46 30.5px,#d6ff29 38.5px,#ecff13 51.5px,#f9ff06 75.5px,#f8ff07 125.5px,#e9ff16 148.5px,#d5ff2a 159.5px,#baff45 166.5px,#93ff6c 172.5px,#28ffd7 184.5px,#24ffdb 185.5px,#29ffd6 186.5px,#46ffb9 187.5px,#afed50 188.5px,#f24601 189.5px,#dc0000 190.5px,#e10000 195.5px)"></i><i style="background:linear-gradient(90deg,#000080 0.5px,#000082 10.5px,#0000a8 11.5px,#0002e7 12.5px,#002fff 13.5px,#0070ff 14.5px,#00acff 15.5px,#00deff 16.5px,#0bfdf4 17.5px,#46ffb9 19.5px,#6eff91 21.5px,#93ff6c 24.5px,#b0ff4f 28.5px,#ceff31 35.5px,#e6ff19 46.5px,#f6ff09 65.5px,#faff05 108.5px,#f1ff0e 140.5px,#deff21 155.5px,#c4ff3b 164.5px,#9eff61 171.5px,#63ff9c 178.5px,#23ffdc 185.5px,#1fffe0 186.5px,#21ffde 187.5px,#39ffc6 188.5px,#94f86b 189.5px,#f06707 190.5px,#dd0000 191.5px,#dc0000 193.5px,#de0000 195.5px)"></i><i style="background:linear-gradient(90deg,#000080 0.5px,#000080 9.5px,#00009f 10.5px,#0000dd 11.5px,#0021ff 12.5px,#009eff 14.5px,#00d1ff 15.5px,#04f9fb 16.5px,#21ffde 17.5px,#3dffc2 18.5px,#67ff98 20.5px,#8eff71 23.5px,#adff52 27.5px,#ccff33 34.5px,#e4ff1b 45.5px,#f5ff0a 64.5px,#faff05 106.5px,#f1ff0e 139.5px,#dfff20 155.5px,#c5ff3a 164.5px,#a0ff5f 171.5px,#68ff97 178.5px,#1effe1 186.5px,#19ffe6 187.5px,#1bffe4 188.5px,#2dffd2 189.5px,#7bff84 190.5px,#ea8e11 191.5px,#de0600 192.5px,#d80000 193.5px,#db0000 195.5px)"></i><i style="background:linear-gradient(90deg,#000080 0.5px,#000080 8.5px,#000097 9.5px,#0000d2 10.5px,#0016fd 11.5px,#0090ff 13.5px,#00c4ff 14.5px,#01f0fe 15.5px,#16ffe9 16.5px,#34ffcb 17.5px,#5fffa0 19.5px,#88ff77 22.5px,#a9ff56 26.5px,#c9ff36 33.5px,#e3ff1c 44.5px,#f4ff0b 62.5px,#faff05 100.5px,#f3ff0c 136.5px,#e2ff1d 153.5px,#caff35 163.5px,#a9ff56 170.5px,#75ff8a 177.5px,#19ffe6 187.5px,#14ffeb 188.5px,#14ffeb 189.5px,#22ffdd 190.5px,#5fffa0 191.5px,#deb520 192.5px,#e21100 193.5px,#d50000 194.5px,#d70000 195.5px)"></i><i style="background:linear-gradient(90deg,#000080 0.5px,#000080 7.5px,#000090 8.5px,#0000c7 9.5px,#000df9 10.5px,#0046ff 11.5px,#0082ff 12.5px,#00b7ff 13.5px,#00e5ff 14.5px,#0cfef3 15.5px,#44ffbb 17.5px,#69ff96 19.5px,#8dff72 22.5px,#b1ff4e 27.5px,#d0ff2f 35.5px,#e7ff18 47.5px,#f6ff09 68.5px,#f9ff06 116.5px,#edff12 144.5px,#d9ff26 158.5px,#bfff40 166.5px,#98ff67 173.5px,#5effa1 180.5px,#14ffeb 188.5px,#0dfff2 190.5px,#18ffe7 191.5px,#47ffb8 192.5px,#c6d639 193.5px,#e92700 194.5px,#d30000 195.5px)"></i><i style="background:linear-gradient(90deg,#000080 0.5px,#000080 6.5px,#00008a 7.5px,#0000bd 8.5px,#0006f4 9.5px,#0039ff 10.5px,#0074ff 11.5px,#00aaff 12.5px,#00d8ff 13.5px,#05fbfa 14.5px,#3bffc4 16.5px,#62ff9d 18.5px,#88ff77 21.5px,#a7ff58 25.5px,#c7ff38 32.5px,#e1ff1e 43.5px,#f3ff0c 61.5px,#faff05 98.5px,#f3ff0c 135.5px,#e2ff1d 153.5px,#cbff34 163.5px,#adff52 170.5px,#7cff83 177.5px,#0ffff0 189.5px,#07fff8 191.5px,#0efff1 192.5px,#32ffcd 193.5px,#a6ed59 194.5px,#ef4a02 195.5px)"></i><i style="background:linear-gradient(90deg,#000080 0.5px,#000080 5.5px,#000085 6.5px,#0000b3 7.5px,#0003ec 8.5px,#002cff 9.5px,#009dff 11.5px,#00ccff 12.5px,#01f3fe 13.5px,#17ffe8 14.5px,#49ffb6 16.5px,#6bff94 18.5px,#8dff72 21.5px,#afff50 26.5px,#ceff31 34.5px,#e6ff19 46.5px,#f6ff09 67.5px,#f9ff06 113.5px,#eeff11 143.5px,#dbff24 157.5px,#c1ff3e 166.5px,#9dff62 173.5px,#67ff98 180.5px,#09fff6 190.5px,#01fefe 192.5px,#06fff9 193.5px,#21ffde 194.5px,#84fa7b 195.5px)"></i><i style="background:linear-gradient(90deg,#000080 0.5px,#000083 5.5px,#0000a9 6.5px,#0001e3 7.5px,#0020ff 8.5px,#0090ff 10.5px,#00c0ff 11.5px,#00e9ff 12.5px,#0dfff2 13.5px,#41ffbe 15.5px,#65ff9a 17.5px,#88ff77 20.5px,#acff53 25.5px,#ccff33 33.5px,#e5ff1a 45.5px,#f5ff0a 65.5px,#faff05 108.5px,#f0ff0f 140.5px,#deff21 156.5px,#c2ff3d 166.5px,#9fff60 173.5px,#6bff94 180.5px,#04fffb 191.5px,#00f9ff 193.5px,#01fbfe 194.5px,#14ffeb 195.5px)"></i><i style="background:linear-gradient(90deg,#000080 0.5px,#000081 4.5px,#0000a0 5.5px,#0000d8 6.5px,#0015fd 7.5px,#0083ff 9.5px,#00b4ff 10.5px,#00ddff 11.5px,#05fcfa 12.5px,#38ffc7 14.5px,#5effa1 16.5px,#83ff7c 19.5px,#a8ff57 24.5px,#c6ff39 31.5px,#e0ff1f 42.5px,#f3ff0c 60.5px,#faff05 95.5px,#f4ff0b 134.5px,#e3ff1c 153.5px,#caff35 164.5px,#a7ff58 172.5px,#77ff88 179.5px,#00fdff 192.5px,#00f3ff 194.5px,#00f7ff 195.5px)"></i><i style="background:linear-gradient(90deg,#000080 0.5px,#000080 3.5px,#000098 4.5px,#0000ce 5.5px,#000cfa 6.5px,#0076ff 8.5px,#00a7ff 9.5px,#00d2ff 10.5px,#01f5fe 11.5px,#16ffe9 12.5px,#45ffba 14.5px,#66ff99 16.5px,#88ff77 19.5px,#aaff55 24.5px,#caff35 32.5px,#e4ff1b 44.5px,#f5ff0a 64.5px,#faff05 104.5px,#f1ff0e 138.5px,#e0ff1f 155.5px,#c7ff38 165.5px,#a3ff5c 173.5px,#72ff8d 180.5px,#02fffd 192.5px,#00f2ff 194.5px,#00f0ff 195.5px)"></i><i style="background:linear-gradient(90deg,#000080 0.5px,#000080 2.5px,#000090 3.5px,#0000c3 4.5px,#0006f5 5.5px,#0034ff 6.5px,#009bff 8.5px,#00c6ff 9.5px,#00ecff 10.5px,#0dfff2 11.5px,#3effc1 13.5px,#60ff9f 15.5px,#83ff7c 18.5px,#a7ff58 23.5px,#c8ff37 31.5px,#e2ff1d 43.5px,#f4ff0b 63.5px,#fbff04 102.5px,#f2ff0d 137.5px,#e0ff1f 155.5px,#c8ff37 165.5px,#a5ff5a 173.5px,#76ff89 180.5px,#23ffdc 189.5px,#06fff9 192.5px,#00fcff 193.5px,#00efff 195.5px)"></i><i style="background:linear-gradient(90deg,#000080 0.5px,#000080 1.5px,#00008a 2.5px,#0002ed 4.5px,#0028ff 5.5px,#008fff 7.5px,#00bbff 8.5px,#00e1ff 9.5px,#06fcf9 10.5px,#36ffc9 12.5px,#59ffa6 14.5px,#7eff81 17.5px,#a3ff5c 22.5px,#c5ff3a 30.5px,#e1ff1e 42.5px,#f3ff0c 61.5px,#fbff04 97.5px,#f4ff0b 134.5px,#e2ff1d 154.5px,#c9ff36 165.5px,#a7ff58 173.5px,#79ff86 180.5px,#32ffcd 188.5px,#02fefd 193.5px,#00f1ff 195.5px)"></i><i style="background:linear-gradient(90deg,#000080 0.5px,#000085 1.5px,#0000b0 2.5px,#0000e4 3.5px,#001cff 4.5px,#0082ff 6.5px,#00afff 7.5px,#00d6ff 8.5px,#01f6fe 9.5px,#15ffea 10.5px,#42ffbd 12.5px,#6eff91 15.5px,#92ff6d 19.5px,#b4ff4b 25.5px,#d4ff2b 35.5px,#ebff14 50.5px,#faff05 76.5px,#f9ff06 121.5px,#ebff14 147.5px,#d4ff2b 161.5px,#b7ff48 170.5px,#8aff75 178.5px,#49ffb6 186.5px,#05fffa 193.5px,#00fbff 194.5px,#00f4ff 195.5px)"></i><i style="background:linear-gradient(90deg,#000083 0.5px,#0000a6 1.5px,#0000da 2.5px,#0012fd 3.5px,#0076ff 5.5px,#00a3ff 6.5px,#00cbff 7.5px,#00eeff 8.5px,#0cfff3 9.5px,#3affc5 11.5px,#68ff97 14.5px,#8eff71 18.5px,#b1ff4e 24.5px,#d0ff2f 33.5px,#e8ff17 47.5px,#f9ff06 71.5px,#fcff03 114.5px,#eeff11 144.5px,#d9ff26 159.5px,#bcff43 169.5px,#93ff6c 177.5px,#5fffa0 184.5px,#01fefe 194.5px,#00f8ff 195.5px)"></i><i style="background:linear-gradient(90deg,#00009d 0.5px,#0000d0 1.5px,#000afa 2.5px,#0039ff 3.5px,#0097ff 5.5px,#00c0ff 6.5px,#00e3ff 7.5px,#05fcfa 8.5px,#32ffcd 10.5px,#55ffaa 12.5px,#79ff86 15.5px,#9eff61 20.5px,#c2ff3d 28.5px,#dfff20 40.5px,#f4ff0b 59.5px,#feff01 92.5px,#f7ff08 130.5px,#e5ff1a 152.5px,#ceff31 164.5px,#acff53 173.5px,#7aff85 181.5px,#36ffc9 189.5px,#05fffa 194.5px,#00fdff 195.5px)"></i><i style="background:linear-gradient(90deg,#0000c6 0.5px,#0004f4 1.5px,#002dff 2.5px,#008bff 4.5px,#00d9ff 6.5px,#01f7fe 7.5px,#14ffeb 8.5px,#3effc1 10.5px,#69ff96 13.5px,#8dff72 17.5px,#afff50 23.5px,#d1ff2e 33.5px,#ebff14 48.5px,#fbff04 73.5px,#fdff02 114.5px,#efff10 144.5px,#d8ff27 160.5px,#baff45 170.5px,#91ff6e 178.5px,#55ffaa 186.5px,#02fffd 195.5px)"></i><i style="background:linear-gradient(90deg,#0001ec 0.5px,#0021ff 1.5px,#0080ff 3.5px,#00ceff 5.5px,#00eeff 6.5px,#0bfff4 7.5px,#36ffc9 9.5px,#63ff9c 12.5px,#89ff76 16.5px,#acff53 22.5px,#ccff33 31.5px,#e7ff18 45.5px,#faff05 68.5px,#fffe00 102.5px,#f7ff08 133.5px,#e3ff1c 154.5px,#c9ff36 166.5px,#a4ff5b 175.5px,#71ff8e 183.5px,#2bffd4 191.5px,#07fff8 195.5px)"></i><i style="background:linear-gradient(90deg,#0016fe 0.5px,#0074ff 2.5px,#00c3ff 4.5px,#00e4ff 5.5px,#04fcfb 6.5px,#41ffbe 9.5px,#69ff96 12.5px,#8cff73 16.5px,#b2ff4d 23.5px,#d2ff2d 33.5px,#ecff13 48.5px,#fdff02 73.5px,#fdff02 123.5px,#eaff15 149.5px,#d2ff2d 163.5px,#b4ff4b 172.5px,#89ff76 180.5px,#4bffb4 188.5px,#0bfff4 195.5px)"></i><i style="background:linear-gradient(90deg,#003aff 0.5px,#0092ff 2.5px,#00daff 4.5px,#01f6fe 5.5px,#11ffee 6.5px,#3affc5 8.5px,#64ff9b 11.5px,#88ff77 15.5px,#abff54 21.5px,#ceff31 31.5px,#e8ff17 45.5px,#fcff03 69.5px,#fffd00 113.5px,#f5ff0a 138.5px,#dfff20 157.5px,#c4ff3b 168.5px,#9dff62 177.5px,#68ff97 185.5px,#10ffef 195.5px)"></i><i style="background:linear-gradient(90deg,#005cff 0.5px,#00adff 2.5px,#00edff 4.5px,#09fff6 5.5px,#32ffcd 7.5px,#5effa1 10.5px,#84ff7b 14.5px,#a8ff57 20.5px,#ccff33 30.5px,#e7ff18 44.5px,#fcff03 67.5px,#fffb00 110.5px,#fbff04 131.5px,#e6ff19 153.5px,#cbff34 166.5px,#a9ff56 175.5px,#7aff85 183.5px,#38ffc7 191.5px,#14ffeb 195.5px)"></i><i style="background:linear-gradient(90deg,#007bff 0.5px,#00c5ff 2.5px,#00e4ff 3.5px,#03fcfc 4.5px,#3cffc3 7.5px,#64ff9b 10.5px,#87ff78 14.5px,#aeff51 21.5px,#cfff30 31.5px,#ebff14 46.5px,#ffff00 70.5px,#fff900 104.5px,#fcff03 130.5px,#e7ff18 153.5px,#ccff33 166.5px,#aaff55 175.5px,#7cff83 183.5px,#3cffc3 191.5px,#18ffe7 195.5px)"></i><i style="background:linear-gradient(90deg,#0097ff 0.5px,#00daff 2.5px,#00f5ff 3.5px,#0efff1 4.5px,#35ffca 6.5px,#5fffa0 9.5px,#83ff7c 13.5px,#a6ff59 19.5px,#cbff34 29.5px,#e7ff18 43.5px,#feff01 66.5px,#fff800 102.5px,#fcff03 131.5px,#e6ff19 154.5px,#caff35 167.5px,#a7ff58 176.5px,#78ff87 184.5px,#37ffc8 192.5px,#1dffe2 195.5px)"></i><i style="background:linear-gradient(90deg,#00b0ff 0.5px,#00ecff 2.5px,#07fef8 3.5px,#3effc1 6.5px,#64ff9b 9.5px,#8dff72 14.5px,#b4ff4b 22.5px,#d5ff2a 33.5px,#f1ff0e 50.5px,#fffe00 69.5px,#fff600 100.5px,#fdff02 132.5px,#e5ff1a 155.5px,#c7ff38 168.5px,#a3ff5c 177.5px,#73ff8c 185.5px,#21ffde 195.5px)"></i><i style="background:linear-gradient(90deg,#00c5ff 0.5px,#00e2ff 1.5px,#02fafd 2.5px,#26ffd9 4.5px,#53ffac 7.5px,#7aff85 11.5px,#a0ff5f 17.5px,#c6ff39 27.5px,#e5ff1a 41.5px,#feff01 64.5px,#fff400 96.5px,#fffd00 127.5px,#efff10 148.5px,#d6ff29 163.5px,#b7ff48 173.5px,#89ff76 182.5px,#4fffb0 190.5px,#25ffda 195.5px)"></i><i style="background:linear-gradient(90deg,#00d9ff 0.5px,#00f3ff 1.5px,#0bfff4 2.5px,#40ffbf 5.5px,#64ff9b 8.5px,#8bff74 13.5px,#b3ff4c 21.5px,#d6ff29 33.5px,#f3ff0c 51.5px,#fffd00 67.5px,#fff300 96.5px,#fffb00 126.5px,#f9ff06 139.5px,#dfff20 159.5px,#bfff40 171.5px,#97ff68 180.5px,#62ff9d 188.5px,#29ffd6 195.5px)"></i><i style="background:linear-gradient(90deg,#00e9ff 0.5px,#04fdfb 1.5px,#39ffc6 4.5px,#5effa1 7.5px,#87ff78 12.5px,#b0ff4f 20.5px,#d5ff2a 32.5px,#f2ff0d 49.5px,#fffd00 65.5px,#fff100 94.5px,#fff800 123.5px,#fbff04 137.5px,#e1ff1e 158.5px,#c3ff3c 170.5px,#9eff61 179.5px,#6cff93 187.5px,#2cffd3 195.5px)"></i><i style="background:linear-gradient(90deg,#01f8fe 0.5px,#0ffff0 1.5px,#40ffbf 4.5px,#6cff93 8.5px,#95ff6a 14.5px,#bcff43 23.5px,#deff21 36.5px,#faff05 56.5px,#fffa00 67.5px,#ffef00 95.5px,#fff800 124.5px,#fbff04 138.5px,#e0ff1f 159.5px,#c1ff3e 171.5px,#9aff65 180.5px,#68ff97 188.5px,#30ffcf 195.5px)"></i><i style="background:linear-gradient(90deg,#07fff8 0.5px,#3affc5 3.5px,#5effa1 6.5px,#86ff79 11.5px,#aeff51 19.5px,#d4ff2b 31.5px,#f3ff0c 49.5px,#fffc00 63.5px,#ffee00 91.5px,#fff300 119.5px,#fcff03 138.5px,#e0ff1f 159.5px,#c1ff3e 171.5px,#96ff69 181.5px,#63ff9c 189.5px,#33ffcc 195.5px)"></i><i style="background:linear-gradient(90deg,#12ffed 0.5px,#41ffbe 3.5px,#6bff94 7.5px,#94ff6b 13.5px,#baff45 22.5px,#ddff22 35.5px,#fcff03 56.5px,#fff200 76.5px,#ffec00 103.5px,#fffb00 131.5px,#faff05 141.5px,#ddff22 161.5px,#bbff44 173.5px,#92ff6d 182.5px,#5effa1 190.5px,#37ffc8 195.5px)"></i><i style="background:linear-gradient(90deg,#1cffe3 0.5px,#47ffb8 3.5px,#6fff90 7.5px,#96ff69 13.5px,#bfff40 23.5px,#e1ff1e 37.5px,#ffff00 58.5px,#ffec00 86.5px,#ffed00 112.5px,#fdff02 139.5px,#dfff20 160.5px,#bfff40 172.5px,#94ff6b 182.5px,#60ff9f 190.5px,#3affc5 195.5px)"></i><i style="background:linear-gradient(90deg,#25ffda 0.5px,#4dffb2 3.5px,#72ff8d 7.5px,#9cff63 14.5px,#c2ff3d 24.5px,#e6ff19 39.5px,#fffe00 58.5px,#ffeb00 85.5px,#ffeb00 111.5px,#fdff02 140.5px,#deff21 161.5px,#bdff42 173.5px,#90ff6f 183.5px,#5bffa4 191.5px,#3dffc2 195.5px)"></i><i style="background:linear-gradient(90deg,#2dffd2 0.5px,#5cffa3 4.5px,#82ff7d 9.5px,#abff54 17.5px,#d1ff2e 29.5px,#f3ff0c 47.5px,#fffc00 59.5px,#ffe900 86.5px,#ffea00 111.5px,#fcff03 141.5px,#deff21 161.5px,#bdff42 173.5px,#91ff6e 183.5px,#5effa1 191.5px,#40ffbf 195.5px)"></i><i style="background:linear-gradient(90deg,#34ffcb 0.5px,#60ff9f 4.5px,#8bff74 10.5px,#b3ff4c 19.5px,#d9ff26 32.5px,#faff05 52.5px,#fffa00 60.5px,#ffe700 86.5px,#ffe800 111.5px,#fdff02 141.5px,#dcff23 162.5px,#bbff44 174.5px,#8dff72 184.5px,#51ffae 193.5px,#43ffbc 195.5px)"></i><i style="background:linear-gradient(90deg,#3bffc4 0.5px,#64ff9b 4.5px,#8cff73 10.5px,#b4ff4b 19.5px,#dbff24 33.5px,#feff01 54.5px,#ffe700 84.5px,#ffe600 108.5px,#fffa00 135.5px,#fbff04 143.5px,#dbff24 163.5px,#b8ff47 175.5px,#89ff76 185.5px,#46ffb9 195.5px)"></i><i style="background:linear-gradient(90deg,#40ffbf 0.5px,#67ff98 4.5px,#8eff71 10.5px,#b8ff47 20.5px,#deff21 34.5px,#ffff00 55.5px,#ffe600 82.5px,#ffe400 106.5px,#fff600 132.5px,#fcff03 143.5px,#dbff24 163.5px,#b8ff47 175.5px,#8bff74 185.5px,#49ffb6 195.5px)"></i><i style="background:linear-gradient(90deg,#46ffb9 0.5px,#71ff8e 5.5px,#9aff65 12.5px,#c3ff3c 23.5px,#e8ff17 39.5px,#fffe00 55.5px,#ffe500 82.5px,#ffe200 105.5px,#fff400 131.5px,#fcff03 143.5px,#dbff24 163.5px,#b9ff46 175.5px,#8cff73 185.5px,#4bffb4 195.5px)"></i><i style="background:linear-gradient(90deg,#4affb5 0.5px,#74ff8b 5.5px,#9fff60 13.5px,#c9ff36 25.5px,#eeff11 42.5px,#fffd00 55.5px,#ffe400 82.5px,#ffe100 105.5px,#fff200 130.5px,#fdff02 143.5px,#dcff23 163.5px,#b6ff49 176.5px,#88ff77 186.5px,#4effb1 195.5px)"></i><i style="background:linear-gradient(90deg,#4fffb0 0.5px,#76ff89 5.5px,#a0ff5f 13.5px,#caff35 25.5px,#f0ff0f 43.5px,#fffd00 55.5px,#ffe300 82.5px,#ffe000 105.5px,#fff100 130.5px,#fcff03 144.5px,#daff25 164.5px,#b7ff48 176.5px,#89ff76 186.5px,#50ffaf 195.5px)"></i><i style="background:linear-gradient(90deg,#53ffac 0.5px,#7fff80 6.5px,#aaff55 15.5px,#d2ff2d 28.5px,#f8ff07 48.5px,#fffc00 55.5px,#ffe200 82.5px,#ffdf00 105.5px,#fff100 130.5px,#fdff02 144.5px,#daff25 164.5px,#b4ff4b 177.5px,#85ff7a 187.5px,#52ffad 195.5px)"></i><i style="background:linear-gradient(90deg,#56ffa9 0.5px,#80ff7f 6.5px,#aaff55 15.5px,#d5ff2a 29.5px,#fbff04 50.5px,#fff700 59.5px,#ffe000 85.5px,#ffde00 107.5px,#fff300 133.5px,#fdff02 144.5px,#d8ff27 165.5px,#b5ff4a 177.5px,#87ff78 187.5px,#54ffab 195.5px)"></i><i style="background:linear-gradient(90deg,#5affa5 0.5px,#82ff7d 6.5px,#afff50 16.5px,#d7ff28 30.5px,#feff01 52.5px,#ffe100 81.5px,#ffdd00 103.5px,#ffec00 127.5px,#fdff02 144.5px,#d9ff26 165.5px,#b1ff4e 178.5px,#82ff7d 188.5px,#57ffa8 195.5px)"></i><i style="background:linear-gradient(90deg,#5dffa2 0.5px,#89ff76 7.5px,#b7ff48 18.5px,#deff21 33.5px,#fffe00 53.5px,#ffe100 80.5px,#ffdc00 102.5px,#ffeb00 126.5px,#fcff03 145.5px,#d9ff26 165.5px,#b2ff4d 178.5px,#84ff7b 188.5px,#59ffa6 195.5px)"></i><i style="background:linear-gradient(90deg,#5fffa0 0.5px,#8aff75 7.5px,#b7ff48 18.5px,#e1ff1e 34.5px,#fffe00 53.5px,#ffe100 80.5px,#ffdb00 102.5px,#ffea00 125.5px,#fcff03 145.5px,#d7ff28 166.5px,#afff50 179.5px,#7fff80 189.5px,#5affa5 195.5px)"></i><i style="background:linear-gradient(90deg,#62ff9d 0.5px,#91ff6e 8.5px,#beff41 20.5px,#e7ff18 37.5px,#fffe00 53.5px,#ffe100 80.5px,#ffdb00 102.5px,#ffea00 125.5px,#fcff03 145.5px,#d7ff28 166.5px,#b0ff4f 179.5px,#81ff7e 189.5px,#5cffa3 195.5px)"></i><i style="background:linear-gradient(90deg,#65ff9a 0.5px,#92ff6d 8.5px,#beff41 20.5px,#e7ff18 37.5px,#fffe00 53.5px,#ffe100 80.5px,#ffdb00 102.5px,#ffe900 125.5px,#fcff03 145.5px,#d7ff28 166.5px,#b0ff4f 179.5px,#82ff7d 189.5px,#5effa1 195.5px)"></i></div><div class="hm" style="left:43px;top:204px;width:193px"><i style="background:linear-gradient(90deg,#fffffd 0.5px,#fdffff 192.5px)"></i><i style="background:linear-gradient(90deg,#fffffd 0.5px,#fdffff 192.5px)"></i><i style="background:linear-gradient(90deg,#fffffd 0.5px,#fdffff 192.5px)"></i><i style="background:linear-gradient(90deg,#fffffc 0.5px,#fdffff 192.5px)"></i><i style="background:linear-gradient(90deg,#fffffc 0.5px,#fcffff 192.5px)"></i><i style="background:linear-gradient(90deg,#fffffc 0.5px,#fcffff 192.5px)"></i><i style="background:linear-gradient(90deg,#fffffc 0.5px,#fcffff 192.5px)"></i><i style="background:linear-gradient(90deg,#fffffc 0.5px,#fcffff 192.5px)"></i><i style="background:linear-gradient(90deg,#fffffc 0.5px,#fcffff 192.5px)"></i><i style="background:linear-gradient(90deg,#fffffc 0.5px,#fcffff 192.5px)"></i><i style="background:linear-gradient(90deg,#fffffc 0.5px,#fcffff 192.5px)"></i><i style="background:linear-gradient(90deg,#fffffc 0.5px,#fcffff 192.5px)"></i><i style="background:linear-gradient(90deg,#fffffc 0.5px,#fcffff 192.5px)"></i><i style="background:linear-gradient(90deg,#fffffc 0.5px,#fcffff 192.5px)"></i><i style="background:linear-gradient(90deg,#fffffc 0.5px,#fcffff 192.5px)"></i><i style="background:linear-gradient(90deg,#fffffc 0.5px,#fcffff 192.5px)"></i><i style="background:linear-gradient(90deg,#fffffc 0.5px,#fcffff 192.5px)"></i><i style="background:linear-gradient(90deg,#fffffc 0.5px,#fcffff 192.5px)"></i><i style="background:linear-gradient(90deg,#fffffc 0.5px,#fcffff 192.5px)"></i><i style="background:linear-gradient(90deg,#fffffc 0.5px,#fcffff 192.5px)"></i><i style="background:linear-gradient(90deg,#fffffc 0.5px,#fffffe 90.5px,#ffffff 105.5px,#fcffff 192.5px)"></i><i style="background:linear-gradient(90deg,#fffffc 0.5px,#ffffff 88.5px,#fffff9 89.5px,#ffffe4 90.5px,#fdffff 92.5px,#fffffd 102.5px,#f9fffe 103.5px,#e3ffff 104.5px,#feffff 106.5px,#fcffff 192.5px)"></i><i style="background:linear-gradient(90deg,#fffffc 0.5px,#ffffff 86.5px,#fffffc 87.5px,#ffffb4 89.5px,#ffffe2 90.5px,#fdfffe 91.5px,#fffffd 103.5px,#f1fffe 104.5px,#beffff 105.5px,#c4ffff 106.5px,#f6ffff 107.5px,#ffffff 108.5px,#fcffff 192.5px)"></i><i style="background:linear-gradient(90deg,#fffffb 0.5px,#fffffe 85.5px,#ffffe9 86.5px,#ffff90 87.5px,#ffffa2 88.5px,#fdfff1 89.5px,#fcffff 90.5px,#fffffc 104.5px,#fbfffd 105.5px,#83ffff 107.5px,#cfffff 108.5px,#fdffff 109.5px,#fbffff 192.5px)"></i><i style="background:linear-gradient(90deg,#fffffb 0.5px,#fffffe 83.5px,#fffffc 84.5px,#ffffb7 85.5px,#ffff54 86.5px,#feffc3 87.5px,#fcfffe 88.5px,#fffffc 106.5px,#e4fffd 107.5px,#6affff 108.5px,#89ffff 109.5px,#f4ffff 110.5px,#feffff 111.5px,#fbffff 192.5px)"></i><i style="background:linear-gradient(90deg,#fffffb 0.5px,#fffffd 82.5px,#fffff5 83.5px,#fffb76 84.5px,#fffd50 85.5px,#fdffea 86.5px,#fbffff 87.5px,#fffffb 107.5px,#fbfffc 108.5px,#88fffe 109.5px,#43faff 110.5px,#deffff 111.5px,#fdffff 112.5px,#fbffff 192.5px)"></i><i style="background:linear-gradient(90deg,#fffffb 0.5px,#fffffc 81.5px,#ffffe2 82.5px,#ffea44 83.5px,#fef677 84.5px,#fbfffc 85.5px,#fbffff 88.5px,#fffffb 109.5px,#b8fdfe 110.5px,#2aebff 111.5px,#bafdff 112.5px,#fbffff 113.5px,#fdffff 128.5px,#fbffff 192.5px)"></i><i style="background:linear-gradient(90deg,#fffffb 0.5px,#fffffc 79.5px,#fffffa 80.5px,#ffffbd 81.5px,#ffd51f 82.5px,#fef5a0 83.5px,#faffff 84.5px,#fffffb 104.5px,#fffffa 110.5px,#d5fffd 111.5px,#28dbff 112.5px,#88f5ff 113.5px,#f6ffff 114.5px,#fcffff 115.5px,#fbffff 192.5px)"></i><i style="background:linear-gradient(90deg,#fffffb 0.5px,#fffffc 78.5px,#fffff7 79.5px,#fff69a 80.5px,#ffb916 81.5px,#fdf5bc 82.5px,#f9ffff 83.5px,#fffffc 103.5px,#fffff9 111.5px,#e9fffb 112.5px,#30d0ff 113.5px,#5be8ff 114.5px,#ecffff 115.5px,#fbffff 116.5px,#fbffff 192.5px)"></i><i style="background:linear-gradient(90deg,#fffffb 0.5px,#fffffb 77.5px,#fffff2 78.5px,#ffeb77 79.5px,#ffa412 80.5px,#fcf6cc 81.5px,#f9ffff 82.5px,#fffffc 103.5px,#fffff9 112.5px,#f4fffb 113.5px,#37c7ff 114.5px,#3cd4ff 115.5px,#deffff 116.5px,#faffff 117.5px,#fcffff 174.5px,#fbffff 192.5px)"></i><i style="background:linear-gradient(90deg,#fffffb 0.5px,#fffffb 75.5px,#fffffa 76.5px,#ffffeb 77.5px,#ffe259 78.5px,#ff8e15 79.5px,#fcf8d3 80.5px,#f8ffff 81.5px,#fffffc 103.5px,#fffff8 113.5px,#f8fffa 114.5px,#3bbffe 115.5px,#24c2ff 116.5px,#ceffff 117.5px,#f9ffff 118.5px,#fdffff 136.5px,#fbffff 192.5px)"></i><i style="background:linear-gradient(90deg,#fffffb 0.5px,#fffffb 74.5px,#fffff9 75.5px,#ffffe7 76.5px,#ffd648 77.5px,#ff7a15 78.5px,#fbf7d5 79.5px,#f8ffff 80.5px,#fffffc 102.5px,#fffff8 114.5px,#fafff9 115.5px,#3bb1fe 116.5px,#1badff 117.5px,#c5ffff 118.5px,#f8ffff 119.5px,#fcffff 132.5px,#fbffff 192.5px)"></i><i style="background:linear-gradient(90deg,#fffffb 0.5px,#fffffa 73.5px,#fffff9 74.5px,#ffffe8 75.5px,#ffd447 76.5px,#ff630c 77.5px,#fbf3d0 78.5px,#f8ffff 79.5px,#fffffc 102.5px,#fffff7 115.5px,#f9fff9 116.5px,#3797ff 117.5px,#1aa5ff 118.5px,#c7ffff 119.5px,#f8ffff 120.5px,#fcffff 135.5px,#fbffff 192.5px)"></i><i style="background:linear-gradient(90deg,#fffffb 0.5px,#fffffa 71.5px,#fffff8 73.5px,#ffffec 74.5px,#ffde53 75.5px,#ff4a00 76.5px,#fcebbc 77.5px,#f7ffff 78.5px,#fffffc 102.5px,#fffff7 116.5px,#f1fff9 117.5px,#2675ff 118.5px,#1fadff 119.5px,#d2ffff 120.5px,#f7ffff 121.5px,#fcffff 141.5px,#fbffff 192.5px)"></i><i style="background:linear-gradient(90deg,#fffffb 0.5px,#fffffa 70.5px,#fffff8 72.5px,#fffff0 73.5px,#ffe96e 74.5px,#ff3900 75.5px,#fdd29a 76.5px,#f7ffff 77.5px,#fffffc 102.5px,#fffff7 117.5px,#d7fcfa 118.5px,#0c4cff 119.5px,#2cc2ff 120.5px,#deffff 121.5px,#f7ffff 122.5px,#fcffff 148.5px,#fbffff 192.5px)"></i><i style="background:linear-gradient(90deg,#fffffb 0.5px,#fffffa 68.5px,#fffff8 71.5px,#fffff2 72.5px,#fff78c 73.5px,#fd4700 74.5px,#fda658 75.5px,#f7ffff 76.5px,#fcffff 92.5px,#fffff6 118.5px,#b3e5fc 119.5px,#002afb 120.5px,#46daff 121.5px,#e8ffff 122.5px,#f7ffff 123.5px,#fcffff 151.5px,#fbffff 192.5px)"></i><i style="background:linear-gradient(90deg,#fffffb 0.5px,#fffff9 67.5px,#fffff4 71.5px,#ffffaa 72.5px,#fa6908 73.5px,#f85b2b 74.5px,#f8fffa 75.5px,#f6ffff 76.5px,#fffffc 102.5px,#fffff6 119.5px,#70bafc 120.5px,#002df5 121.5px,#6bedff 122.5px,#eeffff 123.5px,#f7ffff 124.5px,#fcffff 151.5px,#faffff 192.5px)"></i><i style="background:linear-gradient(90deg,#fffffa 0.5px,#fffff9 65.5px,#fffff5 70.5px,#ffffc9 71.5px,#fd9518 72.5px,#e92900 73.5px,#faf8d1 74.5px,#f5ffff 75.5px,#fffffc 102.5px,#fffff5 119.5px,#fdfff7 120.5px,#336df2 121.5px,#0053f3 122.5px,#91fbff 123.5px,#f1ffff 124.5px,#f8ffff 126.5px,#fcffff 163.5px,#faffff 192.5px)"></i><i style="background:linear-gradient(90deg,#fffffa 0.5px,#fffffa 63.5px,#fffff5 69.5px,#ffffdc 70.5px,#ffc831 71.5px,#de0b00 72.5px,#fccb92 73.5px,#f5ffff 74.5px,#fbffff 91.5px,#fffff7 110.5px,#fffff5 120.5px,#d6fef9 121.5px,#032edf 122.5px,#0c86fb 123.5px,#b5ffff 124.5px,#f3ffff 125.5px,#f9ffff 131.5px,#faffff 192.5px)"></i><i style="background:linear-gradient(90deg,#fffffa 0.5px,#fffff9 62.5px,#fffff4 68.5px,#ffffe5 69.5px,#ffe859 70.5px,#e62200 71.5px,#f08141 72.5px,#f6ffff 73.5px,#f5ffff 81.5px,#fffffc 102.5px,#fffff4 120.5px,#fffff5 121.5px,#99d0fd 122.5px,#0009d9 123.5px,#20bbff 124.5px,#ceffff 125.5px,#f3ffff 126.5px,#fbffff 138.5px,#faffff 192.5px)"></i><i style="background:linear-gradient(90deg,#fffffa 0.5px,#fffff9 61.5px,#fffff4 67.5px,#ffffea 68.5px,#fff97e 69.5px,#f44f00 70.5px,#df380c 71.5px,#f8ffe4 72.5px,#f4ffff 73.5px,#fdffff 94.5px,#fffff4 121.5px,#fffff6 122.5px,#458ff2 123.5px,#001ce2 124.5px,#3ee1ff 125.5px,#dbffff 126.5px,#f3ffff 127.5px,#fbffff 139.5px,#faffff 192.5px)"></i><i style="background:linear-gradient(90deg,#fffffa 0.5px,#fffff9 60.5px,#fffff3 66.5px,#ffffec 67.5px,#ffff9c 68.5px,#fd8008 69.5px,#d50800 70.5px,#fcdca6 71.5px,#f4ffff 72.5px,#f9ffff 87.5px,#fffffb 104.5px,#fffff4 122.5px,#e7fff8 123.5px,#0e3fe0 124.5px,#0042f1 125.5px,#62f4ff 126.5px,#e2ffff 127.5px,#f3ffff 128.5px,#fbffff 140.5px,#faffff 192.5px)"></i><i style="background:linear-gradient(90deg,#fffffa 0.5px,#fffff9 59.5px,#fffff3 65.5px,#ffffed 66.5px,#ffffb3 67.5px,#ffae15 68.5px,#d50800 69.5px,#f69e4c 70.5px,#f5ffff 71.5px,#f4ffff 80.5px,#fffffc 102.5px,#fffff3 122.5px,#fffff4 123.5px,#a8e3fc 124.5px,#000cd2 125.5px,#0171fb 126.5px,#7efcff 127.5px,#e6ffff 128.5px,#f2ffff 129.5px,#faffff 141.5px,#faffff 192.5px)"></i><i style="background:linear-gradient(90deg,#fffffa 0.5px,#fffff8 58.5px,#fffff3 64.5px,#ffffee 65.5px,#ffffc2 66.5px,#ffd024 67.5px,#e41800 68.5px,#e94b13 69.5px,#f7ffee 70.5px,#f3ffff 71.5px,#faffff 89.5px,#fffffa 105.5px,#fffff3 123.5px,#fffff4 124.5px,#4ea9f8 125.5px,#0005d2 126.5px,#089bff 127.5px,#96ffff 128.5px,#e8ffff 129.5px,#f2ffff 130.5px,#faffff 142.5px,#faffff 192.5px)"></i><i style="background:linear-gradient(90deg,#fffffa 0.5px,#fffff8 57.5px,#fffff3 63.5px,#ffffef 64.5px,#ffffce 65.5px,#ffe73b 66.5px,#f23100 67.5px,#d31500 68.5px,#fbedb0 69.5px,#f3ffff 70.5px,#f6ffff 83.5px,#fffffc 102.5px,#fffff2 123.5px,#fffff2 124.5px,#effff7 125.5px,#1558ea 126.5px,#0010dc 127.5px,#14bfff 128.5px,#acffff 129.5px,#eaffff 130.5px,#f2ffff 131.5px,#faffff 144.5px,#faffff 192.5px)"></i><i style="background:linear-gradient(90deg,#fffffa 0.5px,#fffff8 56.5px,#ffffef 63.5px,#ffffd6 64.5px,#fff557 65.5px,#fb5300 66.5px,#cd0000 67.5px,#fbbb61 68.5px,#f3ffff 69.5px,#f3ffff 78.5px,#fffffc 102.5px,#fffff1 124.5px,#fffff2 125.5px,#b7f3fb 126.5px,#0020d7 127.5px,#0025ec 128.5px,#24dcff 129.5px,#bdffff 130.5px,#ecffff 131.5px,#f4ffff 133.5px,#fbffff 152.5px,#f9ffff 192.5px)"></i><i style="background:linear-gradient(90deg,#fffff9 0.5px,#fffff8 55.5px,#ffffef 62.5px,#ffffdc 63.5px,#fffc71 64.5px,#ff7b01 65.5px,#cd0300 66.5px,#f37126 67.5px,#f6fff6 68.5px,#f2ffff 69.5px,#f8ffff 86.5px,#fffffb 103.5px,#fffff1 125.5px,#fffff3 126.5px,#6dc7fe 127.5px,#0003ca 128.5px,#0045f6 129.5px,#3befff 130.5px,#c9ffff 131.5px,#edffff 132.5px,#f3ffff 134.5px,#faffff 153.5px,#f9ffff 192.5px)"></i><i style="background:linear-gradient(90deg,#fffff9 0.5px,#fffff8 54.5px,#fffff0 61.5px,#ffffe1 62.5px,#ffff8b 63.5px,#ffa308 64.5px,#db0b00 65.5px,#e23400 66.5px,#fbfcca 67.5px,#f2ffff 68.5px,#f5ffff 81.5px,#fffffc 102.5px,#fffff0 125.5px,#fffff1 126.5px,#f9fff6 127.5px,#2b86f5 128.5px,#0000ca 129.5px,#006cfd 130.5px,#56f8ff 131.5px,#d2ffff 132.5px,#edffff 133.5px,#f5ffff 137.5px,#faffff 166.5px,#f9ffff 192.5px)"></i><i style="background:linear-gradient(90deg,#fffff9 0.5px,#fffff8 53.5px,#fffff0 60.5px,#ffffe4 61.5px,#ffffa1 62.5px,#ffc513 63.5px,#ec1a00 64.5px,#cf0900 65.5px,#fdd987 66.5px,#f2ffff 67.5px,#f3ffff 77.5px,#fffffc 102.5px,#fffff0 126.5px,#fffff1 127.5px,#cffffa 128.5px,#043fe7 129.5px,#0007d4 130.5px,#0295ff 131.5px,#6ffeff 132.5px,#d8ffff 133.5px,#eeffff 134.5px,#f7ffff 140.5px,#f9ffff 186.5px,#f9ffff 192.5px)"></i><i style="background:linear-gradient(90deg,#fffff9 0.5px,#fffff7 52.5px,#fffff0 59.5px,#ffffe6 60.5px,#ffffb1 61.5px,#ffdf23 62.5px,#f73400 63.5px,#c40000 64.5px,#fa9d3b 65.5px,#f4fffc 66.5px,#efffff 69.5px,#fffffd 101.5px,#ffffef 126.5px,#fffff1 128.5px,#8fe3fd 129.5px,#0011d2 130.5px,#0014e5 131.5px,#09b9ff 132.5px,#88ffff 133.5px,#ddffff 134.5px,#eeffff 135.5px,#f8ffff 143.5px,#f9ffff 192.5px)"></i><i style="background:linear-gradient(90deg,#fffff9 0.5px,#fffff7 51.5px,#fffff0 58.5px,#ffffe8 59.5px,#ffffbe 60.5px,#fff038 61.5px,#fd5400 62.5px,#c80000 63.5px,#ef530d 64.5px,#f8ffdf 65.5px,#f0ffff 66.5px,#f4ffff 80.5px,#fffffc 102.5px,#ffffef 127.5px,#fdfff4 129.5px,#40adfc 130.5px,#0000c3 131.5px,#002bf3 132.5px,#13d5ff 133.5px,#9dffff 134.5px,#e0ffff 135.5px,#eeffff 136.5px,#f8ffff 145.5px,#f9ffff 192.5px)"></i><i style="background:linear-gradient(90deg,#fffff9 0.5px,#fffff7 50.5px,#fffff0 57.5px,#ffffe9 58.5px,#ffffc7 59.5px,#fffa50 60.5px,#ff7900 61.5px,#d50500 62.5px,#d91a00 63.5px,#fced9f 64.5px,#f0ffff 65.5px,#f1ffff 75.5px,#fffffc 102.5px,#ffffef 128.5px,#fffff0 129.5px,#e3fff8 130.5px,#0f62f2 131.5px,#0000c2 132.5px,#004afb 133.5px,#23e9ff 134.5px,#acffff 135.5px,#e3ffff 136.5px,#eeffff 137.5px,#f8ffff 147.5px,#f9ffff 192.5px)"></i><i style="background:linear-gradient(90deg,#fffff9 0.5px,#fffff7 49.5px,#fffff0 56.5px,#ffffea 57.5px,#ffffce 58.5px,#fffe67 59.5px,#ff9c03 60.5px,#e60e00 61.5px,#c80300 62.5px,#ffbf4e 63.5px,#f3fffe 64.5px,#eeffff 67.5px,#fffffd 101.5px,#ffffee 128.5px,#fffff0 130.5px,#a4f4fc 131.5px,#0024de 132.5px,#0003ce 133.5px,#006eff 134.5px,#38f4ff 135.5px,#b8ffff 136.5px,#e4ffff 137.5px,#efffff 138.5px,#f8ffff 148.5px,#f9ffff 192.5px)"></i><i style="background:linear-gradient(90deg,#fffff9 0.5px,#fffff6 49.5px,#fffff0 55.5px,#ffffeb 56.5px,#ffffd4 57.5px,#ffff7c 58.5px,#ffbc09 59.5px,#f42000 60.5px,#bc0000 61.5px,#f67319 62.5px,#f7ffec 63.5px,#efffff 64.5px,#f1ffff 75.5px,#fffffc 102.5px,#ffffee 129.5px,#fefff3 131.5px,#55c9ff 132.5px,#0005c9 133.5px,#000bdf 134.5px,#0092ff 135.5px,#4dfbff 136.5px,#c1ffff 137.5px,#e6ffff 138.5px,#efffff 139.5px,#f8ffff 150.5px,#f8ffff 192.5px)"></i><i style="background:linear-gradient(90deg,#fffff8 0.5px,#fffff6 48.5px,#fffff0 54.5px,#ffffec 55.5px,#ffffda 56.5px,#ffff92 57.5px,#ffd511 58.5px,#fb3700 59.5px,#c20000 60.5px,#e92f00 61.5px,#fcf8b3 62.5px,#f0ffff 63.5px,#efffff 71.5px,#fffffc 102.5px,#ffffee 130.5px,#ffffef 131.5px,#eefff7 132.5px,#1c82f8 133.5px,#0000bd 134.5px,#0019ef 135.5px,#03b1ff 136.5px,#62feff 137.5px,#c8ffff 138.5px,#e7ffff 139.5px,#efffff 140.5px,#f8ffff 152.5px,#f8ffff 192.5px)"></i><i style="background:linear-gradient(90deg,#fffff8 0.5px,#fffff6 47.5px,#fffff0 53.5px,#ffffec 54.5px,#ffffde 55.5px,#ffffa4 56.5px,#ffea21 57.5px,#ff5300 58.5px,#cf0200 59.5px,#d00a00 60.5px,#ffd467 61.5px,#f3ffff 62.5px,#edffff 66.5px,#fffffd 101.5px,#ffffed 130.5px,#fffff0 132.5px,#b7fbfc 133.5px,#003bec 134.5px,#0000bd 135.5px,#0030f8 136.5px,#08cbff 137.5px,#76ffff 138.5px,#ceffff 139.5px,#e8ffff 140.5px,#f1ffff 142.5px,#f9ffff 161.5px,#f8ffff 192.5px)"></i><i style="background:linear-gradient(90deg,#fffff8 0.5px,#fffff6 46.5px,#ffffed 53.5px,#ffffe1 54.5px,#ffffb3 55.5px,#fff63a 56.5px,#ff7700 57.5px,#df0700 58.5px,#bf0000 59.5px,#fc9224 60.5px,#f7fff2 61.5px,#efffff 62.5px,#eeffff 70.5px,#fffffd 101.5px,#ffffed 130.5px,#fffff3 133.5px,#6bdeff 134.5px,#0010d3 135.5px,#0000c9 136.5px,#004cfd 137.5px,#10dfff 138.5px,#89ffff 139.5px,#d2ffff 140.5px,#e9ffff 141.5px,#f1ffff 143.5px,#f8ffff 162.5px,#f8ffff 192.5px)"></i><i style="background:linear-gradient(90deg,#fffff8 0.5px,#fffff5 45.5px,#ffffed 52.5px,#ffffe3 53.5px,#ffffbe 54.5px,#fffd53 55.5px,#ff9d00 56.5px,#f01400 57.5px,#b80000 58.5px,#f14b02 59.5px,#fcffc1 60.5px,#f0ffff 61.5px,#edffff 68.5px,#fffffd 101.5px,#ffffed 131.5px,#ffffef 133.5px,#f3fff7 134.5px,#27a1fd 135.5px,#0000c3 136.5px,#0004d8 137.5px,#006bff 138.5px,#1deeff 139.5px,#98ffff 140.5px,#d6ffff 141.5px,#e9ffff 142.5px,#f1ffff 144.5px,#f8ffff 164.5px,#f8ffff 192.5px)"></i><i style="background:linear-gradient(90deg,#fffff8 0.5px,#fffff5 44.5px,#ffffed 51.5px,#ffffe5 52.5px,#ffffc7 53.5px,#ffff6c 54.5px,#ffbe05 55.5px,#fa2a00 56.5px,#bd0000 57.5px,#dd1600 58.5px,#ffe57b 59.5px,#f2ffff 60.5px,#ecffff 65.5px,#fffffd 101.5px,#ffffec 131.5px,#fffff0 134.5px,#c5fffc 135.5px,#0459f3 136.5px,#0000b6 137.5px,#000de8 138.5px,#008bff 139.5px,#2ef7ff 140.5px,#a4ffff 141.5px,#d9ffff 142.5px,#e9ffff 143.5px,#f2ffff 146.5px,#f8ffff 171.5px,#f7ffff 192.5px)"></i><i style="background:linear-gradient(90deg,#fffff8 0.5px,#fffff5 43.5px,#ffffee 50.5px,#ffffe6 51.5px,#ffffce 52.5px,#ffff83 53.5px,#ffda0e 54.5px,#ff4600 55.5px,#ce0100 56.5px,#c80200 57.5px,#ffaf32 58.5px,#f6fff6 59.5px,#efffff 60.5px,#edffff 68.5px,#fffffd 101.5px,#ffffec 131.5px,#fffff2 135.5px,#80ecff 136.5px,#001fe2 137.5px,#0000b9 138.5px,#001df5 139.5px,#00a8ff 140.5px,#40fcff 141.5px,#adffff 142.5px,#dbffff 143.5px,#eaffff 144.5px,#f1ffff 147.5px,#f8ffff 172.5px,#f7ffff 192.5px)"></i><i style="background:linear-gradient(90deg,#fffff7 0.5px,#fffff5 42.5px,#ffffee 49.5px,#ffffe7 50.5px,#ffffd2 51.5px,#ffff94 52.5px,#ffed1d 53.5px,#ff6800 54.5px,#e00600 55.5px,#b70000 56.5px,#f66208 57.5px,#fbffd1 58.5px,#efffff 59.5px,#edffff 68.5px,#fffffd 101.5px,#ffffec 132.5px,#ffffef 135.5px,#f7fff6 136.5px,#35bdff 137.5px,#0005cb 138.5px,#0000c3 139.5px,#0034fc 140.5px,#02c0ff 141.5px,#53feff 142.5px,#b5ffff 143.5px,#dcffff 144.5px,#eaffff 145.5px,#f2ffff 149.5px,#f8ffff 178.5px,#f7ffff 192.5px)"></i><i style="background:linear-gradient(90deg,#fffff7 0.5px,#fffff4 42.5px,#ffffee 48.5px,#ffffe8 49.5px,#ffffd6 50.5px,#ffffa2 51.5px,#fff731 52.5px,#ff8900 53.5px,#f11100 54.5px,#b50000 55.5px,#e61f00 56.5px,#feed87 57.5px,#f1ffff 58.5px,#ebffff 65.5px,#fffffd 101.5px,#ffffec 132.5px,#ffffef 136.5px,#d5fffb 137.5px,#0b77fa 138.5px,#0000ba 139.5px,#0001d3 140.5px,#004eff 141.5px,#06d4ff 142.5px,#64ffff 143.5px,#baffff 144.5px,#ddffff 145.5px,#eaffff 146.5px,#f2ffff 150.5px,#f7ffff 179.5px,#f7ffff 192.5px)"></i><i style="background:linear-gradient(90deg,#fffff7 0.5px,#fffff4 41.5px,#ffffed 47.5px,#ffffe8 48.5px,#ffffd8 49.5px,#ffffac 50.5px,#fffd46 51.5px,#ffa900 52.5px,#fa2500 53.5px,#bf0000 54.5px,#cc0400 55.5px,#ffba35 56.5px,#f6fff7 57.5px,#efffff 58.5px,#edffff 68.5px,#fffffd 101.5px,#ffffec 132.5px,#fffff1 137.5px,#8ff6fe 138.5px,#0032ed 139.5px,#0000b3 140.5px,#0007e2 141.5px,#006aff 142.5px,#0ce3ff 143.5px,#72ffff 144.5px,#beffff 145.5px,#deffff 146.5px,#e9ffff 147.5px,#f2ffff 151.5px,#f7ffff 180.5px,#f7ffff 192.5px)"></i><i style="background:linear-gradient(90deg,#fffff7 0.5px,#fffff4 40.5px,#ffffed 46.5px,#ffffe8 47.5px,#ffffda 48.5px,#ffffb4 49.5px,#ffff59 50.5px,#ffc404 51.5px,#ff3d00 52.5px,#d10100 53.5px,#ba0000 54.5px,#f96a09 55.5px,#fcffd0 56.5px,#efffff 57.5px,#ecffff 67.5px,#fffffd 101.5px,#ffffec 133.5px,#ffffee 137.5px,#f9fff6 138.5px,#42d3ff 139.5px,#000dd6 140.5px,#0000b6 141.5px,#0011f0 142.5px,#0084ff 143.5px,#14eeff 144.5px,#7dffff 145.5px,#c1ffff 146.5px,#deffff 147.5px,#e9ffff 148.5px,#f1ffff 152.5px,#f7ffff 182.5px,#f6ffff 192.5px)"></i><i style="background:linear-gradient(90deg,#fffff7 0.5px,#fffff3 39.5px,#ffffed 45.5px,#ffffe8 46.5px,#ffffdb 47.5px,#ffffb9 48.5px,#ffff6a 49.5px,#ffd90a 50.5px,#ff5800 51.5px,#e20500 52.5px,#b20000 53.5px,#eb2400 54.5px,#fff084 55.5px,#f2ffff 56.5px,#ecffff 60.5px,#f1ffff 75.5px,#fffffc 102.5px,#ffffec 133.5px,#ffffef 138.5px,#ddfffb 139.5px,#128ffd 140.5px,#0000c3 141.5px,#0000be 142.5px,#0020f8 143.5px,#009aff 144.5px,#1df5ff 145.5px,#85ffff 146.5px,#c2ffff 147.5px,#ddffff 148.5px,#e8ffff 149.5px,#f1ffff 153.5px,#f6ffff 183.5px,#f6ffff 192.5px)"></i><i style="background:linear-gradient(90deg,#fffff6 0.5px,#fffff3 38.5px,#ffffed 44.5px,#ffffe8 45.5px,#ffffdb 46.5px,#ffffbd 47.5px,#ffff77 48.5px,#ffe911 49.5px,#ff7200 50.5px,#f10e00 51.5px,#b40000 52.5px,#d20600 53.5px,#ffbf33 54.5px,#f7fff6 55.5px,#eeffff 56.5px,#edffff 68.5px,#fffffd 101.5px,#ffffeb 133.5px,#fffff1 139.5px,#9cfafe 140.5px,#0048f4 141.5px,#0000b2 142.5px,#0000cc 143.5px,#0033fd 144.5px,#00adff 145.5px,#28f9ff 146.5px,#8affff 147.5px,#c3ffff 148.5px,#ddffff 149.5px,#e8ffff 150.5px,#f1ffff 154.5px,#f6ffff 184.5px,#f6ffff 192.5px)"></i><i style="background:linear-gradient(90deg,#fffff6 0.5px,#fffff2 38.5px,#ffffec 43.5px,#ffffe7 44.5px,#ffffdc 45.5px,#ffffbf 46.5px,#ffff81 47.5px,#fff31b 48.5px,#ff8a00 49.5px,#f91d00 50.5px,#c00000 51.5px,#bb0000 52.5px,#fb7008 53.5px,#fcffcc 54.5px,#efffff 55.5px,#ecffff 67.5px,#fffffd 101.5px,#ffffeb 133.5px,#ffffee 139.5px,#fafff5 140.5px,#50dfff 141.5px,#0017e2 142.5px,#0000b0 143.5px,#0002da 144.5px,#0047ff 145.5px,#00bcff 146.5px,#30fcff 147.5px,#8dffff 148.5px,#c2ffff 149.5px,#dcffff 150.5px,#e7ffff 151.5px,#f0ffff 154.5px,#f6ffff 179.5px,#f6ffff 192.5px)"></i><i style="background:linear-gradient(90deg,#fffff6 0.5px,#fffff2 37.5px,#ffffec 42.5px,#ffffe7 43.5px,#ffffdb 44.5px,#ffffc1 45.5px,#ffff88 46.5px,#fff827 47.5px,#ffa000 48.5px,#fe2f00 49.5px,#d00000 50.5px,#b10000 51.5px,#ee2b00 52.5px,#fff17f 53.5px,#f3ffff 54.5px,#edffff 56.5px,#eeffff 69.5px,#fffffd 101.5px,#ffffeb 133.5px,#ffffef 140.5px,#e2fffb 141.5px,#19a6ff 142.5px,#0003cd 143.5px,#0000b0 144.5px,#0007e7 145.5px,#005aff 146.5px,#00c8ff 147.5px,#36fdff 148.5px,#8fffff 149.5px,#c2ffff 150.5px,#daffff 151.5px,#e6ffff 152.5px,#efffff 155.5px,#f6ffff 180.5px,#f5ffff 192.5px)"></i><i style="background:linear-gradient(90deg,#fffff6 0.5px,#fffff2 36.5px,#ffffec 41.5px,#ffffe7 42.5px,#ffffdb 43.5px,#ffffc2 44.5px,#ffff8d 45.5px,#fffc31 46.5px,#ffb300 47.5px,#ff4200 48.5px,#df0300 49.5px,#af0000 50.5px,#d90900 51.5px,#ffc431 52.5px,#f8fff3 53.5px,#eeffff 54.5px,#edffff 68.5px,#fffffd 101.5px,#ffffeb 133.5px,#ffffee 140.5px,#fffff1 141.5px,#a6fefe 142.5px,#0062f9 143.5px,#0000bc 144.5px,#0000b8 145.5px,#000df1 146.5px,#006bff 147.5px,#02d1ff 148.5px,#3bfeff 149.5px,#90ffff 150.5px,#c1ffff 151.5px,#d9ffff 152.5px,#e5ffff 153.5px,#efffff 156.5px,#f5ffff 181.5px,#f5ffff 192.5px)"></i><i style="background:linear-gradient(90deg,#fffff5 0.5px,#fffff1 36.5px,#ffffeb 40.5px,#ffffe6 41.5px,#ffffdb 42.5px,#ffffc2 43.5px,#ffff91 44.5px,#fffd3a 45.5px,#ffc201 46.5px,#ff5400 47.5px,#ed0800 48.5px,#b30000 49.5px,#c10000 50.5px,#fd7908 51.5px,#fdffc8 52.5px,#efffff 53.5px,#ecffff 66.5px,#fffffd 101.5px,#ffffeb 133.5px,#ffffee 141.5px,#fbfff5 142.5px,#5debff 143.5px,#0027ee 144.5px,#0000af 145.5px,#0000c1 146.5px,#0016f8 147.5px,#0078ff 148.5px,#03d8ff 149.5px,#3fffff 150.5px,#90ffff 151.5px,#bfffff 152.5px,#d7ffff 153.5px,#e4ffff 154.5px,#eeffff 157.5px,#f5ffff 181.5px,#f5ffff 192.5px)"></i><i style="background:linear-gradient(90deg,#fffff5 0.5px,#fffff1 35.5px,#ffffeb 39.5px,#ffffe5 40.5px,#ffffda 41.5px,#ffffc2 42.5px,#ffff94 43.5px,#ffff41 44.5px,#ffcf03 45.5px,#ff6400 46.5px,#f61000 47.5px,#bd0000 48.5px,#b40000 49.5px,#f33400 50.5px,#fff37c 51.5px,#f3fffe 52.5px,#edffff 54.5px,#eeffff 69.5px,#fffffd 101.5px,#ffffeb 133.5px,#ffffef 142.5px,#e7fffb 143.5px,#22bfff 144.5px,#000bda 145.5px,#0000ac 146.5px,#0000cb 147.5px,#0021fb 148.5px,#0084ff 149.5px,#03deff 150.5px,#41ffff 151.5px,#8fffff 152.5px,#bdffff 153.5px,#d6ffff 154.5px,#e2ffff 155.5px,#ecffff 157.5px,#f4ffff 172.5px,#f5ffff 192.5px)"></i><i style="background:linear-gradient(90deg,#fffff5 0.5px,#fffff0 34.5px,#ffffea 38.5px,#ffffe4 39.5px,#ffffd9 40.5px,#ffffc2 41.5px,#ffff96 42.5px,#ffff48 43.5px,#ffd904 44.5px,#ff7200 45.5px,#fb1a00 46.5px,#c80000 47.5px,#ac0000 48.5px,#e10e00 49.5px,#ffcc31 50.5px,#f9fff1 51.5px,#eeffff 52.5px,#edffff 68.5px,#fffffd 101.5px,#ffffeb 133.5px,#ffffed 142.5px,#fffff1 143.5px,#b5fffe 144.5px,#0580fe 145.5px,#0000c8 146.5px,#0000aa 147.5px,#0000d6 148.5px,#002cfe 149.5px,#008dff 150.5px,#04e2ff 151.5px,#43ffff 152.5px,#8effff 153.5px,#bbffff 154.5px,#d4ffff 155.5px,#e1ffff 156.5px,#ecffff 158.5px,#f3ffff 171.5px,#f4ffff 192.5px)"></i><i style="background:linear-gradient(90deg,#fffff5 0.5px,#fffff0 33.5px,#ffffea 37.5px,#ffffe4 38.5px,#ffffd8 39.5px,#ffffc1 40.5px,#ffff97 41.5px,#ffff4d 42.5px,#ffe107 43.5px,#ff7f00 44.5px,#fe2600 45.5px,#d50000 46.5px,#ac0000 47.5px,#cb0100 48.5px,#ff8809 49.5px,#fdffc7 50.5px,#efffff 51.5px,#ebffff 64.5px,#fffffd 101.5px,#ffffeb 133.5px,#ffffee 143.5px,#fcfff5 144.5px,#71f5ff 145.5px,#0044f7 146.5px,#0000b9 147.5px,#0000ae 148.5px,#0002df 149.5px,#0036ff 150.5px,#0095ff 151.5px,#05e5ff 152.5px,#43ffff 153.5px,#8cffff 154.5px,#b8ffff 155.5px,#d2ffff 156.5px,#e0ffff 157.5px,#ebffff 159.5px,#f3ffff 170.5px,#f4ffff 192.5px)"></i><i style="background:linear-gradient(90deg,#fffff4 0.5px,#fffff0 32.5px,#ffffe9 36.5px,#ffffe3 37.5px,#ffffd7 38.5px,#ffffc0 39.5px,#ffff97 40.5px,#ffff52 41.5px,#ffe708 42.5px,#ff8b00 43.5px,#ff3200 44.5px,#e00200 45.5px,#ae0000 46.5px,#ba0000 47.5px,#f84600 48.5px,#fff87f 49.5px,#f4fffe 50.5px,#eeffff 51.5px,#eeffff 69.5px,#fffffd 101.5px,#ffffeb 133.5px,#ffffee 144.5px,#edfffb 145.5px,#30daff 146.5px,#001beb 147.5px,#0000af 148.5px,#0000b4 149.5px,#0004e7 150.5px,#0040ff 151.5px,#009bff 152.5px,#05e7ff 153.5px,#43ffff 154.5px,#8affff 155.5px,#b6ffff 156.5px,#cfffff 157.5px,#deffff 158.5px,#eaffff 160.5px,#f2ffff 169.5px,#f4ffff 192.5px)"></i><i style="background:linear-gradient(90deg,#fffff4 0.5px,#fffff0 31.5px,#ffffe8 35.5px,#ffffe2 36.5px,#ffffd6 37.5px,#ffffbf 38.5px,#ffff97 39.5px,#ffff55 40.5px,#ffec0a 41.5px,#ff9500 42.5px,#ff3d00 43.5px,#e90400 44.5px,#b40000 45.5px,#af0000 46.5px,#ec1900 47.5px,#ffd939 48.5px,#fafff1 49.5px,#eeffff 50.5px,#edffff 68.5px,#fffffd 101.5px,#ffffeb 133.5px,#ffffed 144.5px,#fffff0 145.5px,#c8fffe 146.5px,#0fa8ff 147.5px,#0008da 148.5px,#0000a9 149.5px,#0000b9 150.5px,#0006ee 151.5px,#0049ff 152.5px,#00a0ff 153.5px,#05e8ff 154.5px,#42ffff 155.5px,#87ffff 156.5px,#b3ffff 157.5px,#cdffff 158.5px,#dcffff 159.5px,#e9ffff 161.5px,#f1ffff 169.5px,#f3ffff 192.5px)"></i><i style="background:linear-gradient(90deg,#fffff4 0.5px,#ffffef 30.5px,#ffffe7 34.5px,#ffffe1 35.5px,#ffffd4 36.5px,#ffffbe 37.5px,#ffff97 38.5px,#ffff57 39.5px,#fff00d 40.5px,#ff9e00 41.5px,#ff4800 42.5px,#f20800 43.5px,#bc0000 44.5px,#a90000 45.5px,#d90600 46.5px,#ffa110 47.5px,#fdffcd 48.5px,#f0ffff 49.5px,#ebffff 60.5px,#f9ffff 88.5px,#fffffb 104.5px,#ffffeb 134.5px,#ffffee 145.5px,#fefff4 146.5px,#8dfcff 147.5px,#0071fe 148.5px,#0000cb 149.5px,#0000a7 150.5px,#0000c0 151.5px,#000af3 152.5px,#0050ff 153.5px,#00a5ff 154.5px,#06eaff 155.5px,#41ffff 156.5px,#84ffff 157.5px,#b0ffff 158.5px,#caffff 159.5px,#daffff 160.5px,#e8ffff 162.5px,#f0ffff 169.5px,#f3ffff 192.5px)"></i><i style="background:linear-gradient(90deg,#fffff3 0.5px,#ffffef 29.5px,#ffffe6 33.5px,#ffffdf 34.5px,#ffffd3 35.5px,#ffffbd 36.5px,#ffff97 37.5px,#ffff59 38.5px,#fff20f 39.5px,#ffa600 40.5px,#ff5100 41.5px,#f70d00 42.5px,#c40000 43.5px,#a80000 44.5px,#c80000 45.5px,#fd6200 46.5px,#fffc8e 47.5px,#f4fffe 48.5px,#edffff 49.5px,#eeffff 69.5px,#fffffd 101.5px,#ffffeb 133.5px,#ffffee 146.5px,#f4fff9 147.5px,#50efff 148.5px,#003ff8 149.5px,#0000bc 150.5px,#0000a6 151.5px,#0000c6 152.5px,#000ef7 153.5px,#0057ff 154.5px,#00a8ff 155.5px,#05ebff 156.5px,#3fffff 157.5px,#81ffff 158.5px,#acffff 159.5px,#c7ffff 160.5px,#d7ffff 161.5px,#e6ffff 163.5px,#efffff 168.5px,#f3ffff 192.5px)"></i><i style="background:linear-gradient(90deg,#fffff3 0.5px,#ffffee 28.5px,#ffffe5 32.5px,#ffffdd 33.5px,#ffffd1 34.5px,#ffffbb 35.5px,#ffff96 36.5px,#ffff5a 37.5px,#fff511 38.5px,#ffae00 39.5px,#ff5900 40.5px,#fb1400 41.5px,#cd0000 42.5px,#a80000 43.5px,#b70000 44.5px,#f62f00 45.5px,#ffe84b 46.5px,#f9fff4 47.5px,#eeffff 48.5px,#edffff 68.5px,#fffffd 101.5px,#ffffeb 133.5px,#ffffef 147.5px,#dcfffd 148.5px,#21d1ff 149.5px,#001cee 150.5px,#0000b3 151.5px,#0000a8 152.5px,#0000cc 153.5px,#0012fa 154.5px,#005dff 155.5px,#00abff 156.5px,#05ebff 157.5px,#3dffff 158.5px,#7dffff 159.5px,#a8ffff 160.5px,#c3ffff 161.5px,#d4ffff 162.5px,#e4ffff 164.5px,#eeffff 169.5px,#f2ffff 192.5px)"></i><i style="background:linear-gradient(90deg,#fffff3 0.5px,#ffffee 27.5px,#ffffe3 31.5px,#ffffdb 32.5px,#ffffce 33.5px,#ffffb8 34.5px,#ffff94 35.5px,#ffff5b 36.5px,#fff712 37.5px,#ffb400 38.5px,#ff6100 39.5px,#fd1b00 40.5px,#d60000 41.5px,#ac0000 42.5px,#af0000 43.5px,#e81100 44.5px,#ffbf1b 45.5px,#fdffd7 46.5px,#efffff 47.5px,#ebffff 59.5px,#f3ffff 78.5px,#fffffc 102.5px,#ffffeb 134.5px,#ffffed 147.5px,#fffff3 148.5px,#b1ffff 149.5px,#08a5ff 150.5px,#000adf 151.5px,#0000ab 152.5px,#0000ab 153.5px,#0000d2 154.5px,#0017fb 155.5px,#00aeff 157.5px,#05ebff 158.5px,#39ffff 159.5px,#78ffff 160.5px,#a2ffff 161.5px,#beffff 162.5px,#d0ffff 163.5px,#e2ffff 165.5px,#edffff 169.5px,#f2ffff 192.5px)"></i><i style="background:linear-gradient(90deg,#fffff2 0.5px,#ffffed 26.5px,#ffffe1 30.5px,#ffffd9 31.5px,#ffffcb 32.5px,#ffffb5 33.5px,#ffff91 34.5px,#ffff5a 35.5px,#fff813 36.5px,#ffba00 37.5px,#ff6900 38.5px,#fe2300 39.5px,#de0100 40.5px,#b00000 41.5px,#a80000 42.5px,#d70400 43.5px,#ff8704 44.5px,#ffffa3 45.5px,#f3fffe 46.5px,#edffff 47.5px,#eeffff 69.5px,#fffffd 101.5px,#ffffeb 134.5px,#ffffee 148.5px,#fafff7 149.5px,#79fbff 150.5px,#0073ff 151.5px,#0002d1 152.5px,#0000a5 153.5px,#0000ae 154.5px,#0000d8 155.5px,#001cfd 156.5px,#00afff 158.5px,#04ebff 159.5px,#34ffff 160.5px,#72ffff 161.5px,#9cffff 162.5px,#b9ffff 163.5px,#cbffff 164.5px,#dfffff 166.5px,#ecffff 170.5px,#f2ffff 192.5px)"></i><i style="background:linear-gradient(90deg,#fffff2 0.5px,#ffffec 25.5px,#ffffe5 28.5px,#ffffd6 30.5px,#ffffc8 31.5px,#ffffb1 32.5px,#ffff8d 33.5px,#ffff58 34.5px,#fff914 35.5px,#ffbf00 36.5px,#ff6f00 37.5px,#ff2a00 38.5px,#e60200 39.5px,#b60000 40.5px,#a60000 41.5px,#c70000 42.5px,#fd5000 43.5px,#fff565 44.5px,#f8fff7 45.5px,#eeffff 46.5px,#edffff 68.5px,#fffffd 101.5px,#ffffeb 134.5px,#ffffef 149.5px,#ecfffc 150.5px,#43eeff 151.5px,#0046fb 152.5px,#0000c4 153.5px,#0000a5 154.5px,#0000b2 155.5px,#0000de 156.5px,#0021fe 157.5px,#00b0ff 159.5px,#03e9ff 160.5px,#2fffff 161.5px,#6affff 162.5px,#95ffff 163.5px,#b2ffff 164.5px,#c6ffff 165.5px,#dcffff 167.5px,#e8ffff 170.5px,#f0ffff 182.5px,#f1ffff 192.5px)"></i><i style="background:linear-gradient(90deg,#fffff2 0.5px,#ffffec 23.5px,#ffffe3 27.5px,#ffffd3 29.5px,#ffffc3 30.5px,#ffffac 31.5px,#ffff89 32.5px,#ffff54 33.5px,#fff913 34.5px,#ffc200 35.5px,#ff7500 36.5px,#ff3100 37.5px,#ed0400 38.5px,#bc0000 39.5px,#a20000 40.5px,#b90000 41.5px,#f62600 42.5px,#ffdc2c 43.5px,#fdffe3 44.5px,#efffff 45.5px,#ebffff 62.5px,#fffffd 101.5px,#ffffeb 134.5px,#ffffed 149.5px,#fffff1 150.5px,#d0fffe 151.5px,#1cd4ff 152.5px,#0025f4 153.5px,#0000b8 154.5px,#0000a3 155.5px,#0000b6 156.5px,#0001e3 157.5px,#0025fe 158.5px,#00afff 160.5px,#02e7ff 161.5px,#28feff 162.5px,#62ffff 163.5px,#8dffff 164.5px,#abffff 165.5px,#c0ffff 166.5px,#d8ffff 168.5px,#e6ffff 171.5px,#efffff 181.5px,#f1ffff 192.5px)"></i><i style="background:linear-gradient(90deg,#fffff1 0.5px,#ffffeb 22.5px,#ffffe0 26.5px,#ffffcf 28.5px,#ffffbf 29.5px,#ffffa7 30.5px,#ffff83 31.5px,#ffff50 32.5px,#fff911 33.5px,#ffc300 34.5px,#ff7900 35.5px,#ff3800 36.5px,#f20600 37.5px,#c20000 38.5px,#a40000 39.5px,#b00000 40.5px,#e90f00 41.5px,#ffae0e 42.5px,#ffffbc 43.5px,#f3ffff 44.5px,#ecffff 46.5px,#eeffff 69.5px,#fffffd 101.5px,#ffffeb 134.5px,#ffffed 150.5px,#fdfff5 151.5px,#a5ffff 152.5px,#07aeff 153.5px,#0010e9 154.5px,#0000b0 155.5px,#0000a2 156.5px,#0000ba 157.5px,#0002e7 158.5px,#0029ff 159.5px,#00adff 161.5px,#01e3ff 162.5px,#1ffeff 163.5px,#58ffff 164.5px,#84ffff 165.5px,#a3ffff 166.5px,#b9ffff 167.5px,#d4ffff 169.5px,#e4ffff 172.5px,#eeffff 180.5px,#f0ffff 192.5px)"></i><i style="background:linear-gradient(90deg,#fffff1 0.5px,#ffffea 21.5px,#ffffdd 25.5px,#ffffca 27.5px,#ffffb9 28.5px,#ffffa0 29.5px,#ffff7c 30.5px,#ffff49 31.5px,#fff80f 32.5px,#ffc300 33.5px,#ff7c00 34.5px,#ff3d00 35.5px,#f60900 36.5px,#c80000 37.5px,#a70000 38.5px,#a90000 39.5px,#d90400 40.5px,#ff7b00 41.5px,#fffd83 42.5px,#f7fffb 43.5px,#edffff 44.5px,#eeffff 69.5px,#fffffd 101.5px,#ffffeb 134.5px,#ffffee 151.5px,#f7fffa 152.5px,#72fcff 153.5px,#0082ff 154.5px,#0005db 155.5px,#0000ab 156.5px,#0000a3 157.5px,#0000be 158.5px,#0002ea 159.5px,#002bff 160.5px,#00aaff 162.5px,#00deff 163.5px,#17fcff 164.5px,#4dffff 165.5px,#79ffff 166.5px,#9affff 167.5px,#b2ffff 168.5px,#ceffff 170.5px,#e1ffff 173.5px,#ecffff 180.5px,#f0ffff 192.5px)"></i><i style="background:linear-gradient(90deg,#fffff0 0.5px,#ffffea 19.5px,#ffffe0 23.5px,#ffffd2 25.5px,#ffffc5 26.5px,#ffffb3 27.5px,#ffff99 28.5px,#ffff75 29.5px,#ffff42 30.5px,#fff60c 31.5px,#ffc200 32.5px,#ff7e00 33.5px,#ff4100 34.5px,#fa0c00 35.5px,#cf0000 36.5px,#aa0000 37.5px,#a30000 38.5px,#ca0000 39.5px,#fd4900 40.5px,#ffef4a 41.5px,#fcffed 42.5px,#eeffff 43.5px,#ecffff 66.5px,#fffffd 101.5px,#ffffeb 134.5px,#ffffed 151.5px,#ffffef 152.5px,#e6fffd 153.5px,#41f1ff 154.5px,#0056fe 155.5px,#0000ce 156.5px,#0000a7 157.5px,#0000a5 158.5px,#0000c1 159.5px,#0003ed 160.5px,#002dff 161.5px,#00a6ff 163.5px,#00d9ff 164.5px,#0ffaff 165.5px,#41ffff 166.5px,#6effff 167.5px,#90ffff 168.5px,#a9ffff 169.5px,#bbffff 170.5px,#d1ffff 172.5px,#e1ffff 175.5px,#ecffff 182.5px,#efffff 192.5px)"></i><i style="background:linear-gradient(90deg,#fffff0 0.5px,#ffffe9 18.5px,#ffffdd 22.5px,#ffffcd 24.5px,#ffffbf 25.5px,#ffffac 26.5px,#ffff92 27.5px,#ffff6d 28.5px,#ffff3a 29.5px,#fff308 30.5px,#ffbf00 31.5px,#ff7e00 32.5px,#ff4400 33.5px,#fb1000 34.5px,#d50000 35.5px,#ae0000 36.5px,#a00000 37.5px,#bd0000 38.5px,#f72500 39.5px,#ffd21e 40.5px,#feffd0 41.5px,#f1ffff 42.5px,#ecffff 44.5px,#eeffff 69.5px,#fffffd 101.5px,#ffffeb 134.5px,#ffffed 152.5px,#fffff3 153.5px,#caffff 154.5px,#1ddbff 155.5px,#0034f9 156.5px,#0000c2 157.5px,#0000a1 158.5px,#0000a7 159.5px,#0000c4 160.5px,#0004ef 161.5px,#002cff 162.5px,#00a1ff 164.5px,#00d2ff 165.5px,#08f7ff 166.5px,#34ffff 167.5px,#62ffff 168.5px,#84ffff 169.5px,#9fffff 170.5px,#b2ffff 171.5px,#cbffff 173.5px,#deffff 176.5px,#eaffff 182.5px,#eeffff 192.5px)"></i><i style="background:linear-gradient(90deg,#ffffef 0.5px,#ffffe8 16.5px,#ffffde 20.5px,#ffffd1 22.5px,#ffffb9 24.5px,#ffffa5 25.5px,#ffff89 26.5px,#ffff63 27.5px,#ffff31 28.5px,#fff005 29.5px,#ffbb00 30.5px,#ff7c00 31.5px,#fc1200 33.5px,#da0000 34.5px,#b20000 35.5px,#9f0000 36.5px,#b30000 37.5px,#ec0f00 38.5px,#ffa607 39.5px,#ffffa3 40.5px,#f6fffd 41.5px,#edffff 42.5px,#eeffff 69.5px,#fffffd 101.5px,#ffffeb 134.5px,#ffffed 153.5px,#fcfff7 154.5px,#a2ffff 155.5px,#09baff 156.5px,#001af2 157.5px,#0000b9 158.5px,#00009f 159.5px,#0000a8 160.5px,#0000c6 161.5px,#0004f0 162.5px,#002bff 163.5px,#009bff 165.5px,#00cbff 166.5px,#04f1ff 167.5px,#26ffff 168.5px,#54ffff 169.5px,#78ffff 170.5px,#93ffff 171.5px,#a8ffff 172.5px,#c4ffff 174.5px,#d9ffff 177.5px,#e7ffff 182.5px,#edffff 192.5px)"></i><i style="background:linear-gradient(90deg,#ffffef 0.5px,#ffffe6 15.5px,#ffffda 19.5px,#ffffcc 21.5px,#ffffb1 23.5px,#ffff9c 24.5px,#ffff7f 25.5px,#ffff59 26.5px,#ffff27 27.5px,#ffeb03 28.5px,#ffb600 29.5px,#ff7a00 30.5px,#fd1400 32.5px,#de0000 33.5px,#b50000 34.5px,#a00000 35.5px,#ac0000 36.5px,#dc0500 37.5px,#ff7400 38.5px,#fffb6b 39.5px,#fbfff5 40.5px,#eeffff 41.5px,#edffff 68.5px,#fffffd 101.5px,#ffffeb 134.5px,#ffffee 154.5px,#f4fffb 155.5px,#71fdff 156.5px,#0093ff 157.5px,#000be7 158.5px,#0000b1 159.5px,#00009f 160.5px,#0000aa 161.5px,#0000c8 162.5px,#0003f0 163.5px,#0029ff 164.5px,#0094ff 166.5px,#00c3ff 167.5px,#01eaff 168.5px,#18feff 169.5px,#45ffff 170.5px,#6affff 171.5px,#86ffff 172.5px,#9dffff 173.5px,#bbffff 175.5px,#d4ffff 178.5px,#e4ffff 183.5px,#ecffff 192.5px)"></i><i style="background:linear-gradient(90deg,#ffffee 0.5px,#ffffe6 13.5px,#ffffd5 18.5px,#ffffc5 20.5px,#ffffa8 22.5px,#ffff92 23.5px,#ffff74 24.5px,#ffff4d 25.5px,#fffe1d 26.5px,#ffe501 27.5px,#ff7700 29.5px,#fe1500 31.5px,#e10000 32.5px,#b90000 33.5px,#a10000 34.5px,#a50000 35.5px,#ce0000 36.5px,#fe4700 37.5px,#ffea38 38.5px,#feffe0 39.5px,#f0ffff 40.5px,#ebffff 45.5px,#eeffff 70.5px,#fffffd 101.5px,#ffffeb 134.5px,#ffffed 154.5px,#fffff0 155.5px,#e3fffe 156.5px,#44f4ff 157.5px,#006aff 158.5px,#0003da 159.5px,#0000ac 160.5px,#00009d 161.5px,#0000ab 162.5px,#0000c8 163.5px,#0003f0 164.5px,#0025ff 165.5px,#008dff 167.5px,#00baff 168.5px,#00e1ff 169.5px,#0cfbff 170.5px,#5affff 172.5px,#78ffff 173.5px,#90ffff 174.5px,#b1ffff 176.5px,#ceffff 179.5px,#dfffff 183.5px,#eaffff 192.5px)"></i><i style="background:linear-gradient(90deg,#ffffed 0.5px,#ffffe3 12.5px,#ffffd5 16.5px,#ffffbe 19.5px,#ffff9e 21.5px,#ffff86 22.5px,#ffff68 23.5px,#ffff40 24.5px,#fffc13 25.5px,#ffde00 26.5px,#ff7300 28.5px,#fe1500 30.5px,#e30000 31.5px,#bb0000 32.5px,#a30000 33.5px,#a00000 34.5px,#c00000 35.5px,#f92700 36.5px,#ffcb15 37.5px,#ffffbe 38.5px,#f4fffe 39.5px,#edffff 40.5px,#eeffff 69.5px,#fffffd 101.5px,#ffffeb 134.5px,#ffffed 155.5px,#fefff4 156.5px,#c7ffff 157.5px,#1fe3ff 158.5px,#0047fd 159.5px,#0000cf 160.5px,#0000a9 161.5px,#00009d 162.5px,#0000ab 163.5px,#0000c8 164.5px,#0002ef 165.5px,#0021ff 166.5px,#0084ff 168.5px,#00b0ff 169.5px,#00d7ff 170.5px,#04f5ff 171.5px,#22ffff 172.5px,#48ffff 173.5px,#68ffff 174.5px,#96ffff 176.5px,#b4ffff 178.5px,#cdffff 181.5px,#e0ffff 186.5px,#e8ffff 192.5px)"></i><i style="background:linear-gradient(90deg,#ffffeb 0.5px,#ffffe2 10.5px,#ffffd0 15.5px,#ffffb5 18.5px,#ffff93 20.5px,#ffff7a 21.5px,#ffff5a 22.5px,#ffff32 23.5px,#fff80a 24.5px,#ffd400 25.5px,#ff6f00 27.5px,#fe1500 29.5px,#e50000 30.5px,#bd0000 31.5px,#a40000 32.5px,#9f0000 33.5px,#b80000 34.5px,#f01200 35.5px,#ffa104 36.5px,#ffff8d 37.5px,#f9fff9 38.5px,#edffff 39.5px,#eeffff 69.5px,#fffffd 101.5px,#ffffeb 134.5px,#ffffed 156.5px,#fbfff8 157.5px,#a1ffff 158.5px,#0cc8ff 159.5px,#002df9 160.5px,#0000c4 161.5px,#0000a3 162.5px,#00009c 163.5px,#0000ac 164.5px,#0000c8 165.5px,#0002ed 166.5px,#001dff 167.5px,#007bff 169.5px,#00a6ff 170.5px,#00cbff 171.5px,#01ebff 172.5px,#11fdff 173.5px,#57ffff 175.5px,#88ffff 177.5px,#a9ffff 179.5px,#c6ffff 182.5px,#daffff 186.5px,#e5ffff 192.5px)"></i><i style="background:linear-gradient(90deg,#ffffea 0.5px,#ffffdf 9.5px,#ffffcf 13.5px,#ffffb7 16.5px,#ffff9b 18.5px,#ffff86 19.5px,#ffff6c 20.5px,#ffff4b 21.5px,#ffff23 22.5px,#fff204 23.5px,#ffca00 24.5px,#ff6a00 26.5px,#fe1400 28.5px,#e50000 29.5px,#bf0000 30.5px,#a50000 31.5px,#9d0000 32.5px,#b00000 33.5px,#e40700 34.5px,#ff7400 35.5px,#fff959 36.5px,#fdffec 37.5px,#efffff 38.5px,#ebffff 50.5px,#eeffff 70.5px,#fffffd 101.5px,#ffffeb 134.5px,#ffffec 156.5px,#ffffef 157.5px,#f2fffc 158.5px,#76feff 159.5px,#02a9ff 160.5px,#0019f5 161.5px,#0000bd 162.5px,#0000a2 163.5px,#00009c 164.5px,#0000ac 165.5px,#0000c7 166.5px,#0001eb 167.5px,#0018fe 168.5px,#009bff 171.5px,#00dfff 173.5px,#06f8ff 174.5px,#22ffff 175.5px,#44ffff 176.5px,#79ffff 178.5px,#9dffff 180.5px,#beffff 183.5px,#d5ffff 187.5px,#e1ffff 192.5px)"></i><i style="background:linear-gradient(90deg,#ffffe7 0.5px,#ffffda 8.5px,#ffffc8 12.5px,#ffffac 15.5px,#ffff8d 17.5px,#ffff79 18.5px,#ffff5d 19.5px,#fffd14 21.5px,#ffe801 22.5px,#ffbf00 23.5px,#ff6400 25.5px,#fe1200 27.5px,#e50000 28.5px,#c00000 29.5px,#a60000 30.5px,#9a0000 31.5px,#ac0000 32.5px,#d70200 33.5px,#ff4d00 34.5px,#ffe92d 35.5px,#ffffd3 36.5px,#f3ffff 37.5px,#edffff 38.5px,#eeffff 69.5px,#fffffd 101.5px,#ffffeb 134.5px,#ffffec 157.5px,#fffff1 158.5px,#e1fffe 159.5px,#4ef9ff 160.5px,#0089ff 161.5px,#000ded 162.5px,#0000b8 163.5px,#00009f 164.5px,#00009c 165.5px,#0000ab 166.5px,#0000c5 167.5px,#0000e8 168.5px,#0013fe 169.5px,#008fff 172.5px,#00d3ff 174.5px,#01eeff 175.5px,#10fdff 176.5px,#4fffff 178.5px,#7effff 180.5px,#9effff 182.5px,#bdffff 185.5px,#d3ffff 189.5px,#dcffff 192.5px)"></i><i style="background:linear-gradient(90deg,#ffffe4 0.5px,#ffffd6 7.5px,#ffffc0 11.5px,#ffffa1 14.5px,#ffff7f 16.5px,#ffff4d 18.5px,#ffff2a 19.5px,#fff909 20.5px,#ffdc00 21.5px,#ff5e00 24.5px,#fd1000 26.5px,#e50000 27.5px,#c00000 28.5px,#a70000 29.5px,#9a0000 30.5px,#a80000 31.5px,#cb0000 32.5px,#fc3100 33.5px,#ffcc11 34.5px,#ffffaf 35.5px,#f7fffc 36.5px,#edffff 37.5px,#eeffff 69.5px,#fffffd 101.5px,#ffffeb 134.5px,#ffffed 158.5px,#fefff5 159.5px,#c9ffff 160.5px,#2befff 161.5px,#006cff 162.5px,#0007e5 163.5px,#0000b4 164.5px,#00009c 165.5px,#00009c 166.5px,#0000aa 167.5px,#0000c3 168.5px,#0000e4 169.5px,#000efc 170.5px,#0083ff 173.5px,#00c5ff 175.5px,#00e1ff 176.5px,#05f7ff 177.5px,#1cffff 178.5px,#57ffff 180.5px,#81ffff 182.5px,#aaffff 185.5px,#c2ffff 188.5px,#d4ffff 192.5px)"></i><i style="background:linear-gradient(90deg,#ffffe0 0.5px,#ffffd0 6.5px,#ffffb7 10.5px,#ffff94 13.5px,#ffff6f 15.5px,#ffff3a 17.5px,#fffe19 18.5px,#fff002 19.5px,#ffcf00 20.5px,#ff7c00 22.5px,#fd0e00 25.5px,#e30000 26.5px,#c00000 27.5px,#a70000 28.5px,#9a0000 29.5px,#a40000 30.5px,#c10000 31.5px,#f81d00 32.5px,#ffaa04 33.5px,#ffff82 34.5px,#fcfff5 35.5px,#eeffff 36.5px,#ebffff 65.5px,#fffffd 101.5px,#ffffeb 134.5px,#ffffee 159.5px,#fbfff9 160.5px,#acffff 161.5px,#15e0ff 162.5px,#0053ff 163.5px,#0003dd 164.5px,#0000b1 165.5px,#00009b 166.5px,#00009b 167.5px,#0000a9 168.5px,#0000c0 169.5px,#0000df 170.5px,#0008fa 171.5px,#0051ff 173.5px,#0099ff 175.5px,#00d4ff 177.5px,#00edff 178.5px,#0cfcff 179.5px,#44ffff 181.5px,#71ffff 183.5px,#91ffff 185.5px,#b2ffff 188.5px,#caffff 192.5px)"></i><i style="background:linear-gradient(90deg,#ffffda 0.5px,#ffffc9 5.5px,#ffffad 9.5px,#ffff86 12.5px,#ffff5e 14.5px,#ffff26 16.5px,#fffa09 17.5px,#ffe400 18.5px,#ffc100 19.5px,#ff7300 21.5px,#fc0b00 24.5px,#e10000 25.5px,#c00000 26.5px,#a70000 27.5px,#9a0000 28.5px,#a10000 29.5px,#ba0000 30.5px,#f10f00 31.5px,#ff8600 32.5px,#fffa56 33.5px,#feffe5 34.5px,#f1ffff 35.5px,#ecffff 37.5px,#eeffff 69.5px,#fffffd 101.5px,#ffffeb 134.5px,#ffffec 159.5px,#ffffef 160.5px,#f3fffc 161.5px,#8bffff 162.5px,#09ccff 163.5px,#003ffe 164.5px,#0001d6 165.5px,#0000af 166.5px,#00009b 167.5px,#00009a 168.5px,#0000a8 169.5px,#0000bd 170.5px,#0004f7 172.5px,#0020ff 173.5px,#008bff 176.5px,#00c6ff 178.5px,#02f5ff 180.5px,#14feff 181.5px,#4affff 183.5px,#73ffff 185.5px,#9dffff 188.5px,#b7ffff 191.5px,#beffff 192.5px)"></i><i style="background:linear-gradient(90deg,#ffffd3 0.5px,#ffffbb 5.5px,#ffffa1 8.5px,#ffff76 11.5px,#ffff4b 13.5px,#fffe12 15.5px,#fff002 16.5px,#ffb200 18.5px,#ff4800 21.5px,#fb0700 23.5px,#de0000 24.5px,#bf0000 25.5px,#a70000 26.5px,#9a0000 27.5px,#9e0000 28.5px,#b50000 29.5px,#e90700 30.5px,#ff6600 31.5px,#ffef31 32.5px,#ffffcd 33.5px,#f5fffe 34.5px,#edffff 35.5px,#eeffff 69.5px,#fffffd 101.5px,#ffffeb 134.5px,#ffffec 160.5px,#fffff2 161.5px,#e7fffe 162.5px,#6afeff 163.5px,#02b7ff 164.5px,#002ffc 165.5px,#0000cf 166.5px,#0000ad 167.5px,#00009a 168.5px,#00009a 169.5px,#0000a6 170.5px,#0000ba 171.5px,#0002f2 173.5px,#0017ff 174.5px,#009cff 178.5px,#00d2ff 180.5px,#00e9ff 181.5px,#06faff 182.5px,#1bffff 183.5px,#4dffff 185.5px,#74ffff 187.5px,#9bffff 190.5px,#adffff 192.5px)"></i><i style="background:linear-gradient(90deg,#ffffc9 0.5px,#ffffb2 4.5px,#ffff94 7.5px,#ffff65 10.5px,#ffff38 12.5px,#ffff1b 13.5px,#fff705 14.5px,#ffe100 15.5px,#ffa100 17.5px,#ff1f00 21.5px,#f80500 22.5px,#bd0000 24.5px,#a70000 25.5px,#990000 26.5px,#9b0000 27.5px,#b10000 28.5px,#df0300 29.5px,#ff4c00 30.5px,#ffdd17 31.5px,#ffffaf 32.5px,#f9fffb 33.5px,#edffff 34.5px,#eeffff 69.5px,#fffffd 101.5px,#ffffeb 134.5px,#ffffed 161.5px,#fefff5 162.5px,#d6ffff 163.5px,#4cfbff 164.5px,#00a2ff 165.5px,#0022fa 166.5px,#0000c9 167.5px,#0000a9 168.5px,#000097 169.5px,#000099 170.5px,#0000a4 171.5px,#0000b6 172.5px,#0000eb 174.5px,#000efd 175.5px,#008fff 179.5px,#00c4ff 181.5px,#00efff 183.5px,#0afcff 184.5px,#50ffff 187.5px,#82ffff 190.5px,#99ffff 192.5px)"></i><i style="background:linear-gradient(90deg,#ffffbc 0.5px,#ffff9e 4.5px,#ffff78 7.5px,#ffff53 9.5px,#fffc0a 12.5px,#ffeb00 13.5px,#ffb200 15.5px,#ff7200 17.5px,#ff1800 20.5px,#f50300 21.5px,#bb0000 23.5px,#a60000 24.5px,#990000 25.5px,#9a0000 26.5px,#ae0000 27.5px,#d60100 28.5px,#fe3700 29.5px,#ffc409 30.5px,#ffff8c 31.5px,#fcfff3 32.5px,#efffff 33.5px,#ebffff 42.5px,#eeffff 70.5px,#fffffd 101.5px,#ffffeb 134.5px,#ffffee 162.5px,#fcfff8 163.5px,#c3ffff 164.5px,#33f6ff 165.5px,#008eff 166.5px,#0018f8 167.5px,#0000c5 168.5px,#0000a8 169.5px,#000096 170.5px,#000097 171.5px,#0000a2 172.5px,#0000b2 173.5px,#0000e4 175.5px,#0007fa 176.5px,#0022ff 177.5px,#0080ff 180.5px,#00cdff 183.5px,#01f4ff 185.5px,#0efeff 186.5px,#51ffff 189.5px,#80ffff 192.5px)"></i><i style="background:linear-gradient(90deg,#ffffac 0.5px,#ffff91 3.5px,#ffff68 6.5px,#ffff41 8.5px,#fffe0f 10.5px,#fff201 11.5px,#ffbf00 13.5px,#ff6600 16.5px,#fe1200 19.5px,#f00100 20.5px,#b80000 22.5px,#a40000 23.5px,#980000 24.5px,#990000 25.5px,#ac0000 26.5px,#ce0000 27.5px,#fc2700 28.5px,#ffa902 29.5px,#fffe68 30.5px,#feffe5 31.5px,#f2ffff 32.5px,#ecffff 34.5px,#eeffff 69.5px,#fffffd 101.5px,#ffffeb 134.5px,#ffffec 162.5px,#ffffef 163.5px,#f8fffb 164.5px,#adffff 165.5px,#1feeff 166.5px,#007cff 167.5px,#0012f4 168.5px,#0000c2 169.5px,#0000a7 170.5px,#000096 171.5px,#000096 172.5px,#00009f 173.5px,#0000ae 174.5px,#0000dc 176.5px,#0003f5 177.5px,#0017ff 178.5px,#008eff 182.5px,#00d4ff 185.5px,#03f8ff 187.5px,#12feff 188.5px,#51ffff 191.5px,#62ffff 192.5px)"></i><i style="background:linear-gradient(90deg,#ffff98 0.5px,#ffff76 3.5px,#ffff43 6.5px,#fffe14 8.5px,#fff603 9.5px,#ffca00 11.5px,#ff5a00 15.5px,#fd0b00 18.5px,#eb0000 19.5px,#b50000 21.5px,#a30000 22.5px,#980000 23.5px,#960000 24.5px,#a80000 25.5px,#c80000 26.5px,#f91b00 27.5px,#ff8e00 28.5px,#fff947 29.5px,#ffffd3 30.5px,#f5fffe 31.5px,#edffff 32.5px,#eeffff 69.5px,#fffffd 101.5px,#ffffeb 134.5px,#ffffec 163.5px,#fffff0 164.5px,#f1fffd 165.5px,#97ffff 166.5px,#12e4ff 167.5px,#006dff 168.5px,#000df2 169.5px,#0000bf 170.5px,#0000a6 171.5px,#000097 172.5px,#000095 173.5px,#00009d 174.5px,#0000ab 175.5px,#0000d5 177.5px,#0001ee 178.5px,#000efe 179.5px,#0080ff 183.5px,#00c6ff 186.5px,#00ecff 188.5px,#04faff 189.5px,#15ffff 190.5px,#3fffff 192.5px)"></i><i style="background:linear-gradient(90deg,#ffff80 0.5px,#ffff56 3.5px,#ffff2f 5.5px,#ffff18 6.5px,#fff905 7.5px,#ffe900 8.5px,#ff9d00 11.5px,#ff1b00 16.5px,#fa0500 17.5px,#e40000 18.5px,#b20000 20.5px,#a10000 21.5px,#970000 22.5px,#950000 23.5px,#a70000 24.5px,#c20000 25.5px,#f61100 26.5px,#ff7600 27.5px,#fff12b 28.5px,#ffffbc 29.5px,#f9fffb 30.5px,#eeffff 31.5px,#edffff 68.5px,#fffffd 101.5px,#ffffeb 134.5px,#ffffed 164.5px,#fffff3 165.5px,#e7fffe 166.5px,#80ffff 167.5px,#0ad8ff 168.5px,#0061ff 169.5px,#0009ef 170.5px,#0000be 171.5px,#000096 173.5px,#000094 174.5px,#00009a 175.5px,#0000b8 177.5px,#0000e6 179.5px,#0006fb 180.5px,#003aff 182.5px,#008bff 185.5px,#00ccff 188.5px,#00efff 190.5px,#05fbff 191.5px,#16ffff 192.5px)"></i><i style="background:linear-gradient(90deg,#ffff64 0.5px,#ffff30 3.5px,#fffb08 5.5px,#ffed00 6.5px,#ffa700 9.5px,#ff5b00 12.5px,#ff1200 15.5px,#f50200 16.5px,#af0000 19.5px,#9f0000 20.5px,#960000 21.5px,#950000 22.5px,#a60000 23.5px,#be0000 24.5px,#f20b00 25.5px,#ff6300 26.5px,#ffe417 27.5px,#ffffa3 28.5px,#fcfff5 29.5px,#efffff 30.5px,#ebffff 36.5px,#eeffff 69.5px,#fffffd 101.5px,#ffffeb 134.5px,#ffffed 165.5px,#fefff6 166.5px,#dcffff 167.5px,#69ffff 168.5px,#05ceff 169.5px,#0057ff 170.5px,#0007ed 171.5px,#0000bd 172.5px,#000096 174.5px,#000092 175.5px,#000098 176.5px,#0000b3 178.5px,#0002f5 181.5px,#0013ff 182.5px,#007cff 186.5px,#00beff 189.5px,#00f1ff 192.5px)"></i><i style="background:linear-gradient(90deg,#ffff42 0.5px,#fffc09 3.5px,#fff101 4.5px,#ffb000 7.5px,#ff6600 10.5px,#fd0a00 14.5px,#ee0000 15.5px,#be0000 17.5px,#9d0000 19.5px,#940000 20.5px,#940000 21.5px,#a50000 22.5px,#bb0000 23.5px,#ee0700 24.5px,#ff5300 25.5px,#ffd30c 26.5px,#ffff88 27.5px,#feffec 28.5px,#f2ffff 29.5px,#ecffff 31.5px,#eeffff 69.5px,#fffffd 101.5px,#ffffeb 134.5px,#ffffee 166.5px,#fdfff9 167.5px,#cfffff 168.5px,#57feff 169.5px,#02c3ff 170.5px,#0050ff 171.5px,#0006ec 172.5px,#0000bd 173.5px,#0000a8 174.5px,#000097 175.5px,#000091 176.5px,#0000a0 178.5px,#0000c1 180.5px,#0000ed 182.5px,#0009fd 183.5px,#0086ff 188.5px,#00c3ff 191.5px,#00d4ff 192.5px)"></i><i style="background:linear-gradient(90deg,#ffff1c 0.5px,#fffd0a 1.5px,#fff301 2.5px,#ffb700 5.5px,#ff6f00 8.5px,#ff1600 12.5px,#fa0400 13.5px,#cd0000 15.5px,#a70000 17.5px,#930000 19.5px,#930000 20.5px,#b90000 22.5px,#e90500 23.5px,#ff4600 24.5px,#ffc205 25.5px,#ffff6d 26.5px,#ffffdf 27.5px,#f5ffff 28.5px,#edffff 29.5px,#eeffff 69.5px,#fffffd 101.5px,#ffffeb 134.5px,#ffffec 166.5px,#ffffef 167.5px,#fafffb 168.5px,#c2ffff 169.5px,#46fcff 170.5px,#00bbff 171.5px,#004bff 172.5px,#0006eb 173.5px,#0000bd 174.5px,#0000a7 175.5px,#000099 176.5px,#000090 177.5px,#00009d 179.5px,#0000ba 181.5px,#0003f8 184.5px,#0015ff 185.5px,#008eff 190.5px,#00b5ff 192.5px)"></i><i style="background:linear-gradient(90deg,#fff301 0.5px,#ffbc00 3.5px,#ff6300 7.5px,#fe0d00 11.5px,#f30100 12.5px,#b30000 15.5px,#980000 17.5px,#920000 18.5px,#930000 19.5px,#b80000 21.5px,#e60300 22.5px,#ff3c00 23.5px,#ffb201 24.5px,#fffd55 25.5px,#ffffd0 26.5px,#f8fffd 27.5px,#eeffff 28.5px,#eeffff 69.5px,#fffffd 101.5px,#ffffeb 134.5px,#ffffec 167.5px,#fffff0 168.5px,#f6fffd 169.5px,#b5ffff 170.5px,#39faff 171.5px,#00b3ff 172.5px,#0047ff 173.5px,#0006eb 174.5px,#0000be 175.5px,#0000a7 176.5px,#000098 177.5px,#00008f 178.5px,#00009a 180.5px,#0000b5 182.5px,#0001f1 185.5px,#000bfe 186.5px,#007fff 191.5px,#0094ff 192.5px)"></i><i style="background:linear-gradient(90deg,#ffd300 0.5px,#ff1800 9.5px,#fc0600 10.5px,#eb0000 11.5px,#c00000 13.5px,#a00000 15.5px,#910000 17.5px,#940000 18.5px,#b60000 20.5px,#e30200 21.5px,#ff3400 22.5px,#ffa200 23.5px,#fffa40 24.5px,#ffffc0 25.5px,#fbfffa 26.5px,#efffff 27.5px,#ebffff 38.5px,#eeffff 69.5px,#fffffd 101.5px,#ffffeb 134.5px,#ffffed 168.5px,#fffff2 169.5px,#f1fffe 170.5px,#a9ffff 171.5px,#2ff8ff 172.5px,#00aeff 173.5px,#0045ff 174.5px,#0006ec 175.5px,#0000bf 176.5px,#0000a8 177.5px,#00008e 179.5px,#000097 181.5px,#0000af 183.5px,#0000e8 186.5px,#0004fa 187.5px,#0016ff 188.5px,#0071ff 192.5px)"></i><i style="background:linear-gradient(90deg,#ffae00 0.5px,#ff5e00 4.5px,#ff0f00 8.5px,#f60200 9.5px,#ba0000 12.5px,#9d0000 14.5px,#8f0000 16.5px,#930000 17.5px,#b60000 19.5px,#e10200 20.5px,#ff2e00 21.5px,#ff9500 22.5px,#fff62f 23.5px,#ffffaf 24.5px,#fdfff5 25.5px,#f0ffff 26.5px,#ecffff 28.5px,#eeffff 69.5px,#fffffd 101.5px,#ffffeb 134.5px,#ffffed 169.5px,#fffff4 170.5px,#ebffff 171.5px,#9fffff 172.5px,#26f7ff 173.5px,#00a9ff 174.5px,#0044ff 175.5px,#0006ed 176.5px,#0000c0 177.5px,#0000a8 178.5px,#00008d 180.5px,#000094 182.5px,#0000aa 184.5px,#0000df 187.5px,#0001f3 188.5px,#000cfe 189.5px,#004dff 192.5px)"></i><i style="background:linear-gradient(90deg,#ff8900 0.5px,#fd0700 7.5px,#ee0000 8.5px,#b40000 11.5px,#9a0000 13.5px,#8e0000 15.5px,#950000 16.5px,#b50000 18.5px,#df0100 19.5px,#fe2a00 20.5px,#ff8a00 21.5px,#fff220 22.5px,#ffff9f 23.5px,#feffee 24.5px,#f3ffff 25.5px,#ecffff 26.5px,#eeffff 69.5px,#fffffd 101.5px,#ffffeb 134.5px,#ffffed 170.5px,#fefff6 171.5px,#e5ffff 172.5px,#95ffff 173.5px,#20f6ff 174.5px,#00a6ff 175.5px,#0044ff 176.5px,#0006ee 177.5px,#0000c1 178.5px,#0000a8 179.5px,#00008f 181.5px,#00008d 182.5px,#00009a 184.5px,#0000b3 186.5px,#0000ea 189.5px,#0004fb 190.5px,#002bff 192.5px)"></i><i style="background:linear-gradient(90deg,#ff6900 0.5px,#ff0f00 5.5px,#f80200 6.5px,#ae0000 10.5px,#970000 12.5px,#8d0000 14.5px,#a50000 16.5px,#b60000 17.5px,#df0100 18.5px,#fe2600 19.5px,#ff8100 20.5px,#ffeb17 21.5px,#ffff8f 22.5px,#ffffe6 23.5px,#f5ffff 24.5px,#edffff 25.5px,#eeffff 69.5px,#fffffd 101.5px,#ffffeb 134.5px,#ffffec 170.5px,#ffffee 171.5px,#fefff8 172.5px,#e0ffff 173.5px,#8dffff 174.5px,#1cf4ff 175.5px,#00a4ff 176.5px,#0044ff 177.5px,#0006ef 178.5px,#0000c3 179.5px,#0000a9 180.5px,#00008e 182.5px,#00008c 183.5px,#000097 185.5px,#0000ad 187.5px,#0000e1 190.5px,#0001f4 191.5px,#000afe 192.5px)"></i><i style="background:linear-gradient(90deg,#ff4c00 0.5px,#fd0700 4.5px,#f00000 5.5px,#b80000 8.5px,#9d0000 10.5px,#8e0000 12.5px,#8c0000 13.5px,#a50000 15.5px,#b80000 16.5px,#e00100 17.5px,#fe2400 18.5px,#ff7a00 19.5px,#ffe60f 20.5px,#ffff81 21.5px,#ffffdd 22.5px,#f8fffe 23.5px,#eeffff 24.5px,#edffff 68.5px,#fffffd 101.5px,#ffffeb 134.5px,#ffffec 171.5px,#ffffef 172.5px,#fdfffa 173.5px,#daffff 174.5px,#86ffff 175.5px,#18f2ff 176.5px,#00a3ff 177.5px,#0045ff 178.5px,#0007f1 179.5px,#0000c5 180.5px,#0000aa 181.5px,#0000a0 182.5px,#00008f 183.5px,#00008b 184.5px,#000094 186.5px,#0000a8 188.5px,#0000d8 191.5px,#0000ea 192.5px)"></i><i style="background:linear-gradient(90deg,#ff3000 0.5px,#ff0d00 2.5px,#f80200 3.5px,#b20000 7.5px,#990000 9.5px,#8d0000 11.5px,#8b0000 12.5px,#a50000 14.5px,#b90000 15.5px,#e20100 16.5px,#fe2500 17.5px,#ff7500 18.5px,#ffdf0b 19.5px,#ffff73 20.5px,#ffffd4 21.5px,#fafffc 22.5px,#efffff 23.5px,#ebffff 32.5px,#eeffff 69.5px,#fffffd 101.5px,#ffffeb 134.5px,#ffffec 172.5px,#fffff0 173.5px,#fcfffb 174.5px,#d5ffff 175.5px,#80ffff 176.5px,#15f1ff 177.5px,#00a2ff 178.5px,#0046ff 179.5px,#0008f2 180.5px,#0000c7 181.5px,#0000ab 182.5px,#000091 184.5px,#00008a 185.5px,#000091 187.5px,#0000a3 189.5px,#0000cf 192.5px)"></i><i style="background:linear-gradient(90deg,#ff1400 0.5px,#fd0500 1.5px,#f00000 2.5px,#bb0000 5.5px,#a00000 7.5px,#8f0000 9.5px,#8b0000 10.5px,#8d0000 11.5px,#9c0000 12.5px,#a60000 13.5px,#bb0000 14.5px,#e40100 15.5px,#fe2500 16.5px,#ff7400 17.5px,#ffda08 18.5px,#ffff66 19.5px,#ffffcb 20.5px,#fcfffa 21.5px,#f0ffff 22.5px,#ebffff 25.5px,#eeffff 69.5px,#fffffd 101.5px,#ffffeb 134.5px,#ffffec 173.5px,#fffff1 174.5px,#fafffc 175.5px,#d1ffff 176.5px,#7affff 177.5px,#13f0ff 178.5px,#00a1ff 179.5px,#0048ff 180.5px,#0009f4 181.5px,#0000ca 182.5px,#0000ad 183.5px,#000089 186.5px,#00008e 188.5px,#0000aa 191.5px,#0000b8 192.5px)"></i><i style="background:linear-gradient(90deg,#f70100 0.5px,#b40000 4.5px,#930000 7.5px,#8a0000 9.5px,#8c0000 10.5px,#9c0000 11.5px,#a60000 12.5px,#bd0000 13.5px,#e60200 14.5px,#ff2700 15.5px,#ff7400 16.5px,#ffd807 17.5px,#ffff5d 18.5px,#ffffc3 19.5px,#fdfff7 20.5px,#f1ffff 21.5px,#ecffff 23.5px,#eeffff 69.5px,#fffffd 101.5px,#ffffeb 134.5px,#ffffed 174.5px,#fffff2 175.5px,#f8fffd 176.5px,#ccffff 177.5px,#75ffff 178.5px,#11efff 179.5px,#00a2ff 180.5px,#004aff 181.5px,#000bf5 182.5px,#0000cd 183.5px,#0000ae 184.5px,#000088 187.5px,#00008c 189.5px,#0000a5 192.5px)"></i><i style="background:linear-gradient(90deg,#dd0000 0.5px,#ae0000 3.5px,#900000 6.5px,#890000 8.5px,#8e0000 9.5px,#9e0000 10.5px,#a70000 11.5px,#bf0000 12.5px,#e80200 13.5px,#ff2800 14.5px,#ff7400 15.5px,#ffd605 16.5px,#ffff57 17.5px,#ffffbb 18.5px,#fefff3 19.5px,#f3ffff 20.5px,#edffff 21.5px,#eeffff 69.5px,#fffffd 101.5px,#ffffeb 134.5px,#ffffed 175.5px,#fffff3 176.5px,#f6fffe 177.5px,#c8ffff 178.5px,#70ffff 179.5px,#0fefff 180.5px,#00a2ff 181.5px,#004dff 182.5px,#000df7 183.5px,#0000d0 184.5px,#0000b0 185.5px,#0000a1 186.5px,#000099 187.5px,#00008a 188.5px,#00008a 190.5px,#000097 192.5px)"></i><i style="background:linear-gradient(90deg,#c40000 0.5px,#9d0000 3.5px,#8a0000 6.5px,#880000 7.5px,#a90000 10.5px,#c20000 11.5px,#eb0300 12.5px,#ff2a00 13.5px,#ff7500 14.5px,#ffd504 15.5px,#ffff52 16.5px,#ffffb6 17.5px,#ffffef 18.5px,#f5ffff 19.5px,#edffff 20.5px,#eeffff 69.5px,#fffffd 101.5px,#ffffeb 134.5px,#ffffed 176.5px,#fffff4 177.5px,#f4fffe 178.5px,#c4ffff 179.5px,#6dffff 180.5px,#0eeeff 181.5px,#00a4ff 182.5px,#0050ff 183.5px,#000ff9 184.5px,#0000d3 185.5px,#0000b2 186.5px,#0000a1 187.5px,#000099 188.5px,#000089 189.5px,#000088 191.5px,#00008d 192.5px)"></i><i style="background:linear-gradient(90deg,#af0000 0.5px,#910000 3.5px,#870000 6.5px,#aa0000 9.5px,#c40000 10.5px,#ee0400 11.5px,#ff2d00 12.5px,#ff7600 13.5px,#ffd404 14.5px,#ffff4e 15.5px,#ffffb2 16.5px,#ffffec 17.5px,#f6ffff 18.5px,#eeffff 19.5px,#ecffff 67.5px,#fffffd 101.5px,#ffffeb 134.5px,#ffffee 177.5px,#fffff5 178.5px,#f2fffe 179.5px,#c0ffff 180.5px,#6affff 181.5px,#0defff 182.5px,#00a6ff 183.5px,#0054ff 184.5px,#0011fa 185.5px,#0000d7 186.5px,#0000b5 187.5px,#0000a2 188.5px,#00009b 189.5px,#00008b 190.5px,#000085 191.5px,#000087 192.5px)"></i><i style="background:linear-gradient(90deg,#9f0000 0.5px,#890000 3.5px,#860000 5.5px,#950000 6.5px,#ac0000 8.5px,#c80000 9.5px,#f00500 10.5px,#ff3000 11.5px,#ff7800 12.5px,#ffd404 13.5px,#ffff4b 14.5px,#ffffae 15.5px,#ffffea 16.5px,#f8fffe 17.5px,#eeffff 18.5px,#ebffff 31.5px,#eeffff 69.5px,#fffffd 101.5px,#ffffeb 134.5px,#ffffec 177.5px,#ffffee 178.5px,#fffff6 179.5px,#f0ffff 180.5px,#bdffff 181.5px,#67ffff 182.5px,#0defff 183.5px,#00a8ff 184.5px,#0058ff 185.5px,#0015fb 186.5px,#0000db 187.5px,#0000b7 188.5px,#0000a4 189.5px,#000085 192.5px)"></i><i style="background:linear-gradient(90deg,#920000 0.5px,#860000 3.5px,#880000 4.5px,#970000 5.5px,#9f0000 6.5px,#ae0000 7.5px,#cb0000 8.5px,#f30600 9.5px,#ff3300 10.5px,#ff7a00 11.5px,#ffd504 12.5px,#ffff49 13.5px,#ffffaa 14.5px,#ffffe7 15.5px,#f9fffe 16.5px,#efffff 17.5px,#ebffff 24.5px,#eeffff 69.5px,#fffffd 101.5px,#ffffeb 134.5px,#ffffec 178.5px,#ffffee 179.5px,#fffff7 180.5px,#edffff 181.5px,#baffff 182.5px,#66ffff 183.5px,#0defff 184.5px,#00aaff 185.5px,#005bff 186.5px,#0018fc 187.5px,#0000df 188.5px,#0000ba 189.5px,#0000a5 190.5px,#000093 192.5px)"></i><i style="background:linear-gradient(90deg,#8a0000 0.5px,#850000 2.5px,#8a0000 3.5px,#a00000 5.5px,#b00000 6.5px,#ce0000 7.5px,#f50700 8.5px,#ff3700 9.5px,#ff7d00 10.5px,#ffd604 11.5px,#ffff47 12.5px,#ffffa7 13.5px,#ffffe4 14.5px,#fafffd 15.5px,#f0ffff 16.5px,#ebffff 20.5px,#eeffff 69.5px,#fffffd 101.5px,#ffffeb 134.5px,#ffffec 179.5px,#ffffef 180.5px,#fefff8 181.5px,#ecffff 182.5px,#b8ffff 183.5px,#64ffff 184.5px,#0df0ff 185.5px,#00acff 186.5px,#005fff 187.5px,#001bfd 188.5px,#0000e2 189.5px,#0000bd 190.5px,#0000a7 191.5px,#00009b 192.5px)"></i><i style="background:linear-gradient(90deg,#850000 0.5px,#840000 1.5px,#a10000 4.5px,#b20000 5.5px,#d20000 6.5px,#f70900 7.5px,#ff3a00 8.5px,#ff7f00 9.5px,#ffd703 10.5px,#ffff46 11.5px,#ffffa4 12.5px,#ffffe1 13.5px,#fbfffd 14.5px,#f0ffff 15.5px,#ebffff 18.5px,#eeffff 69.5px,#fffffd 101.5px,#ffffeb 134.5px,#ffffec 180.5px,#ffffef 181.5px,#fefff9 182.5px,#eaffff 183.5px,#b6ffff 184.5px,#64ffff 185.5px,#0ef1ff 186.5px,#00afff 187.5px,#0063ff 188.5px,#001ffe 189.5px,#0001e6 190.5px,#0000c1 191.5px,#0000a9 192.5px)"></i><i style="background:linear-gradient(90deg,#830000 0.5px,#a20000 3.5px,#b50000 4.5px,#d60000 5.5px,#f90b00 6.5px,#ff3e00 7.5px,#ff8200 8.5px,#ffd904 9.5px,#ffff45 10.5px,#ffffa2 11.5px,#ffffdf 12.5px,#fcfffc 13.5px,#f1ffff 14.5px,#ebffff 17.5px,#eeffff 69.5px,#fffffd 101.5px,#ffffeb 134.5px,#ffffec 181.5px,#fffff0 182.5px,#fefffa 183.5px,#e8ffff 184.5px,#b4ffff 185.5px,#63ffff 186.5px,#0ef1ff 187.5px,#00b1ff 188.5px,#0067ff 189.5px,#0024ff 190.5px,#0002ea 191.5px,#0000c4 192.5px)"></i><i style="background:linear-gradient(90deg,#920000 0.5px,#a40000 2.5px,#b80000 3.5px,#da0000 4.5px,#fb0e00 5.5px,#ff4100 6.5px,#ff8500 7.5px,#ffda04 8.5px,#ffff45 9.5px,#ffffa1 10.5px,#ffffdd 11.5px,#fcfffb 12.5px,#f2ffff 13.5px,#ecffff 15.5px,#eeffff 69.5px,#fffffd 101.5px,#ffffeb 134.5px,#ffffed 182.5px,#fffff1 183.5px,#fdfffb 184.5px,#e6ffff 185.5px,#b3ffff 186.5px,#63ffff 187.5px,#0ef2ff 188.5px,#00b4ff 189.5px,#006bff 190.5px,#0028ff 191.5px,#0003ee 192.5px)"></i><i style="background:linear-gradient(90deg,#9b0000 0.5px,#a60000 1.5px,#bb0000 2.5px,#de0000 3.5px,#fc1100 4.5px,#ff4500 5.5px,#ff8800 6.5px,#ffdc04 7.5px,#ffff45 8.5px,#ffff9f 9.5px,#ffffdb 10.5px,#fdfffb 11.5px,#f2ffff 12.5px,#ecffff 14.5px,#eeffff 69.5px,#fffffd 101.5px,#ffffeb 134.5px,#ffffed 183.5px,#fffff1 184.5px,#fdfffb 185.5px,#e5ffff 186.5px,#b1ffff 187.5px,#62ffff 188.5px,#0ff3ff 189.5px,#00b7ff 190.5px,#002dff 192.5px)"></i><i style="background:linear-gradient(90deg,#a90000 0.5px,#bf0000 1.5px,#e30000 2.5px,#fd1400 3.5px,#ff4900 4.5px,#ff8c00 5.5px,#ffdd04 6.5px,#ffff45 7.5px,#ffff9e 8.5px,#ffffda 9.5px,#fdfffa 10.5px,#f3ffff 11.5px,#ecffff 13.5px,#eeffff 69.5px,#fffffd 101.5px,#ffffeb 134.5px,#ffffed 184.5px,#fffff2 185.5px,#fcfffc 186.5px,#e3ffff 187.5px,#b0ffff 188.5px,#62ffff 189.5px,#10f4ff 190.5px,#00baff 191.5px,#0075ff 192.5px)"></i><i style="background:linear-gradient(90deg,#c40000 0.5px,#e70100 1.5px,#fe1800 2.5px,#ff4d00 3.5px,#ff8f00 4.5px,#ffdf05 5.5px,#ffff45 6.5px,#ffff9c 7.5px,#ffffd8 8.5px,#fefff9 9.5px,#f4ffff 10.5px,#ecffff 12.5px,#eeffff 69.5px,#fffffd 101.5px,#ffffeb 134.5px,#ffffed 185.5px,#fffff2 186.5px,#fcfffc 187.5px,#e2ffff 188.5px,#afffff 189.5px,#63ffff 190.5px,#11f5ff 191.5px,#00bdff 192.5px)"></i><i style="background:linear-gradient(90deg,#ec0200 0.5px,#ff1d00 1.5px,#ff5100 2.5px,#ff9300 3.5px,#ffe105 4.5px,#ffff46 5.5px,#ffff9b 6.5px,#ffffd6 7.5px,#fefff8 8.5px,#f4ffff 9.5px,#ecffff 11.5px,#eeffff 69.5px,#fffffd 101.5px,#ffffeb 134.5px,#ffffed 186.5px,#fbfffd 188.5px,#e0ffff 189.5px,#aeffff 190.5px,#63ffff 191.5px,#12f6ff 192.5px)"></i><i style="background:linear-gradient(90deg,#ff2200 0.5px,#ff5600 1.5px,#ff9800 2.5px,#ffe306 3.5px,#ffff47 4.5px,#ffff9b 5.5px,#ffffd5 6.5px,#fefff7 7.5px,#f5ffff 8.5px,#ecffff 10.5px,#eeffff 69.5px,#fffffd 101.5px,#ffffeb 134.5px,#ffffee 187.5px,#fbfffd 189.5px,#dfffff 190.5px,#aeffff 191.5px,#65ffff 192.5px)"></i><i style="background:linear-gradient(90deg,#ff5b00 0.5px,#ff9c00 1.5px,#ffe606 2.5px,#ffff48 3.5px,#ffff9a 4.5px,#ffffd4 5.5px,#fefff6 6.5px,#f6ffff 7.5px,#ecffff 9.5px,#eeffff 69.5px,#fffffd 101.5px,#ffffeb 134.5px,#ffffec 187.5px,#fffff4 189.5px,#fafffe 190.5px,#deffff 191.5px,#adffff 192.5px)"></i><i style="background:linear-gradient(90deg,#ffa200 0.5px,#ffe907 1.5px,#ffff4a 2.5px,#ffff9a 3.5px,#ffffd3 4.5px,#fffff5 5.5px,#f7ffff 6.5px,#efffff 7.5px,#ebffff 15.5px,#eeffff 69.5px,#fffffd 101.5px,#ffffeb 134.5px,#ffffec 188.5px,#fffff5 190.5px,#f9fffe 191.5px,#deffff 192.5px)"></i><i style="background:linear-gradient(90deg,#ffec08 0.5px,#ffff4d 1.5px,#ffff9a 2.5px,#ffffd2 3.5px,#fffff4 4.5px,#f7ffff 5.5px,#efffff 6.5px,#ebffff 12.5px,#eeffff 69.5px,#fffffd 101.5px,#ffffeb 134.5px,#ffffec 189.5px,#fffff5 191.5px,#f9fffe 192.5px)"></i><i style="background:linear-gradient(90deg,#ffff50 0.5px,#ffff9b 1.5px,#ffffd1 2.5px,#fffff3 3.5px,#f8ffff 4.5px,#f0ffff 5.5px,#ebffff 10.5px,#eeffff 69.5px,#fffffd 101.5px,#ffffeb 134.5px,#ffffec 190.5px,#fffff6 192.5px)"></i><i style="background:linear-gradient(90deg,#ffff9c 0.5px,#ffffd1 1.5px,#fffff3 2.5px,#f8ffff 3.5px,#f0ffff 4.5px,#ebffff 9.5px,#eeffff 69.5px,#fffffd 101.5px,#ffffeb 134.5px,#ffffec 191.5px,#ffffef 192.5px)"></i><i style="background:linear-gradient(90deg,#ffffd1 0.5px,#fffff2 1.5px,#f9ffff 2.5px,#edffff 4.5px,#eeffff 69.5px,#fffffd 101.5px,#ffffeb 134.5px,#ffffec 192.5px)"></i><i style="background:linear-gradient(90deg,#fffff2 0.5px,#f9ffff 1.5px,#edffff 3.5px,#eeffff 69.5px,#fffffd 101.5px,#ffffeb 134.5px,#ffffec 192.5px)"></i><i style="background:linear-gradient(90deg,#fafffe 0.5px,#edffff 2.5px,#eeffff 69.5px,#fffffd 101.5px,#ffffeb 134.5px,#ffffeb 192.5px)"></i><i style="background:linear-gradient(90deg,#f1ffff 0.5px,#ebffff 3.5px,#eeffff 69.5px,#fffffd 101.5px,#ffffeb 134.5px,#ffffeb 192.5px)"></i><i style="background:linear-gradient(90deg,#edffff 0.5px,#eeffff 69.5px,#fffffd 101.5px,#ffffeb 134.5px,#ffffeb 192.5px)"></i><i style="background:linear-gradient(90deg,#ecffff 0.5px,#eeffff 69.5px,#fffffd 101.5px,#ffffeb 134.5px,#ffffeb 192.5px)"></i><i style="background:linear-gradient(90deg,#ebffff 0.5px,#eeffff 69.5px,#fffffd 101.5px,#ffffeb 134.5px,#ffffeb 192.5px)"></i><i style="background:linear-gradient(90deg,#ebffff 0.5px,#eeffff 69.5px,#fffffd 101.5px,#ffffeb 134.5px,#ffffeb 192.5px)"></i><i style="background:linear-gradient(90deg,#ebffff 0.5px,#eeffff 69.5px,#fffffd 101.5px,#ffffeb 134.5px,#ffffeb 192.5px)"></i><i style="background:linear-gradient(90deg,#ebffff 0.5px,#eeffff 69.5px,#fffffd 101.5px,#ffffeb 134.5px,#ffffeb 192.5px)"></i><i style="background:linear-gradient(90deg,#ebffff 0.5px,#eeffff 69.5px,#fffffd 101.5px,#ffffeb 134.5px,#ffffeb 192.5px)"></i><i style="background:linear-gradient(90deg,#ebffff 0.5px,#eeffff 69.5px,#fffffd 101.5px,#ffffeb 134.5px,#ffffeb 192.5px)"></i><i style="background:linear-gradient(90deg,#ebffff 0.5px,#eeffff 69.5px,#fffffd 101.5px,#ffffeb 134.5px,#ffffeb 192.5px)"></i><i style="background:linear-gradient(90deg,#ebffff 0.5px,#eeffff 69.5px,#fffffd 101.5px,#ffffeb 134.5px,#ffffeb 192.5px)"></i><i style="background:linear-gradient(90deg,#ebffff 0.5px,#eeffff 69.5px,#fffffd 101.5px,#ffffeb 134.5px,#ffffeb 192.5px)"></i><i style="background:linear-gradient(90deg,#ebffff 0.5px,#eeffff 69.5px,#fffffd 101.5px,#ffffeb 134.5px,#ffffeb 192.5px)"></i><i style="background:linear-gradient(90deg,#ebffff 0.5px,#eeffff 69.5px,#fffffd 101.5px,#ffffeb 134.5px,#ffffeb 192.5px)"></i><i style="background:linear-gradient(90deg,#ebffff 0.5px,#eeffff 69.5px,#fffffd 101.5px,#ffffeb 134.5px,#ffffeb 192.5px)"></i><i style="background:linear-gradient(90deg,#ebffff 0.5px,#eeffff 69.5px,#fffffd 101.5px,#ffffeb 134.5px,#ffffeb 192.5px)"></i><i style="background:linear-gradient(90deg,#ebffff 0.5px,#eeffff 69.5px,#fffffd 101.5px,#ffffeb 134.5px,#ffffeb 192.5px)"></i><i style="background:linear-gradient(90deg,#ebffff 0.5px,#eeffff 69.5px,#fffffd 101.5px,#ffffeb 134.5px,#ffffeb 192.5px)"></i><i style="background:linear-gradient(90deg,#ebffff 0.5px,#eeffff 69.5px,#fffffd 101.5px,#ffffeb 134.5px,#ffffeb 192.5px)"></i><i style="background:linear-gradient(90deg,#ebffff 0.5px,#eeffff 69.5px,#fffffd 101.5px,#ffffeb 134.5px,#ffffeb 192.5px)"></i><i style="background:linear-gradient(90deg,#ebffff 0.5px,#eeffff 69.5px,#fffffd 101.5px,#ffffeb 134.5px,#ffffeb 192.5px)"></i><i style="background:linear-gradient(90deg,#ebffff 0.5px,#eeffff 69.5px,#fffffd 101.5px,#ffffeb 134.5px,#ffffeb 192.5px)"></i><i style="background:linear-gradient(90deg,#ebffff 0.5px,#eeffff 69.5px,#fffffd 101.5px,#ffffeb 134.5px,#ffffeb 192.5px)"></i><i style="background:linear-gradient(90deg,#ebffff 0.5px,#eeffff 69.5px,#fffffd 101.5px,#ffffeb 134.5px,#ffffeb 192.5px)"></i><i style="background:linear-gradient(90deg,#ebffff 0.5px,#eeffff 69.5px,#fffffd 101.5px,#ffffeb 134.5px,#ffffeb 192.5px)"></i><i style="background:linear-gradient(90deg,#ebffff 0.5px,#eeffff 69.5px,#fffffd 101.5px,#ffffeb 134.5px,#ffffeb 192.5px)"></i></div>
<svg width="550" height="396" viewBox="0 0 550 396" font-family='"Liberation Sans", sans-serif'>
<rect x="43.40" y="204.10" width="192.60" height="161.70" fill="none" stroke="#2a2a2a" stroke-width="1.15"/>
<line x1="43.40" y1="365.80" x2="43.40" y2="363.60" stroke="#2a2a2a" stroke-width="1.0"/>
<line x1="43.40" y1="204.10" x2="43.40" y2="206.30" stroke="#2a2a2a" stroke-width="1.0"/>
<text x="43.40" y="378.60" font-size="10.6" text-anchor="middle" fill="#333" >-30</text>
<line x1="75.50" y1="365.80" x2="75.50" y2="363.60" stroke="#2a2a2a" stroke-width="1.0"/>
<line x1="75.50" y1="204.10" x2="75.50" y2="206.30" stroke="#2a2a2a" stroke-width="1.0"/>
<text x="75.50" y="378.60" font-size="10.6" text-anchor="middle" fill="#333" >-20</text>
<line x1="107.60" y1="365.80" x2="107.60" y2="363.60" stroke="#2a2a2a" stroke-width="1.0"/>
<line x1="107.60" y1="204.10" x2="107.60" y2="206.30" stroke="#2a2a2a" stroke-width="1.0"/>
<text x="107.60" y="378.60" font-size="10.6" text-anchor="middle" fill="#333" >-10</text>
<line x1="139.70" y1="365.80" x2="139.70" y2="363.60" stroke="#2a2a2a" stroke-width="1.0"/>
<line x1="139.70" y1="204.10" x2="139.70" y2="206.30" stroke="#2a2a2a" stroke-width="1.0"/>
<text x="139.70" y="378.60" font-size="10.6" text-anchor="middle" fill="#333" >0</text>
<line x1="171.80" y1="365.80" x2="171.80" y2="363.60" stroke="#2a2a2a" stroke-width="1.0"/>
<line x1="171.80" y1="204.10" x2="171.80" y2="206.30" stroke="#2a2a2a" stroke-width="1.0"/>
<text x="171.80" y="378.60" font-size="10.6" text-anchor="middle" fill="#333" >10</text>
<line x1="203.90" y1="365.80" x2="203.90" y2="363.60" stroke="#2a2a2a" stroke-width="1.0"/>
<line x1="203.90" y1="204.10" x2="203.90" y2="206.30" stroke="#2a2a2a" stroke-width="1.0"/>
<text x="203.90" y="378.60" font-size="10.6" text-anchor="middle" fill="#333" >20</text>
<line x1="236.00" y1="365.80" x2="236.00" y2="363.60" stroke="#2a2a2a" stroke-width="1.0"/>
<line x1="236.00" y1="204.10" x2="236.00" y2="206.30" stroke="#2a2a2a" stroke-width="1.0"/>
<text x="236.00" y="378.60" font-size="10.6" text-anchor="middle" fill="#333" >30</text>
<line x1="43.40" y1="204.10" x2="45.60" y2="204.10" stroke="#2a2a2a" stroke-width="1.0"/>
<line x1="236.00" y1="204.10" x2="233.80" y2="204.10" stroke="#2a2a2a" stroke-width="1.0"/>
<text x="40.20" y="208.20" font-size="10.6" text-anchor="end" fill="#333" >0.86</text>
<line x1="43.40" y1="227.20" x2="45.60" y2="227.20" stroke="#2a2a2a" stroke-width="1.0"/>
<line x1="236.00" y1="227.20" x2="233.80" y2="227.20" stroke="#2a2a2a" stroke-width="1.0"/>
<text x="40.20" y="231.30" font-size="10.6" text-anchor="end" fill="#333" >0.84</text>
<line x1="43.40" y1="250.30" x2="45.60" y2="250.30" stroke="#2a2a2a" stroke-width="1.0"/>
<line x1="236.00" y1="250.30" x2="233.80" y2="250.30" stroke="#2a2a2a" stroke-width="1.0"/>
<text x="40.20" y="254.40" font-size="10.6" text-anchor="end" fill="#333" >0.82</text>
<line x1="43.40" y1="273.40" x2="45.60" y2="273.40" stroke="#2a2a2a" stroke-width="1.0"/>
<line x1="236.00" y1="273.40" x2="233.80" y2="273.40" stroke="#2a2a2a" stroke-width="1.0"/>
<text x="40.20" y="277.50" font-size="10.6" text-anchor="end" fill="#333" >0.8</text>
<line x1="43.40" y1="296.50" x2="45.60" y2="296.50" stroke="#2a2a2a" stroke-width="1.0"/>
<line x1="236.00" y1="296.50" x2="233.80" y2="296.50" stroke="#2a2a2a" stroke-width="1.0"/>
<text x="40.20" y="300.60" font-size="10.6" text-anchor="end" fill="#333" >0.78</text>
<line x1="43.40" y1="319.60" x2="45.60" y2="319.60" stroke="#2a2a2a" stroke-width="1.0"/>
<line x1="236.00" y1="319.60" x2="233.80" y2="319.60" stroke="#2a2a2a" stroke-width="1.0"/>
<text x="40.20" y="323.70" font-size="10.6" text-anchor="end" fill="#333" >0.76</text>
<line x1="43.40" y1="342.70" x2="45.60" y2="342.70" stroke="#2a2a2a" stroke-width="1.0"/>
<line x1="236.00" y1="342.70" x2="233.80" y2="342.70" stroke="#2a2a2a" stroke-width="1.0"/>
<text x="40.20" y="346.80" font-size="10.6" text-anchor="end" fill="#333" >0.74</text>
<line x1="43.40" y1="365.80" x2="45.60" y2="365.80" stroke="#2a2a2a" stroke-width="1.0"/>
<line x1="236.00" y1="365.80" x2="233.80" y2="365.80" stroke="#2a2a2a" stroke-width="1.0"/>
<text x="40.20" y="369.90" font-size="10.6" text-anchor="end" fill="#333" >0.72</text>
<rect x="41.40" y="8.60" width="195.50" height="163.70" fill="none" stroke="#2a2a2a" stroke-width="1.15"/>
<line x1="41.40" y1="172.30" x2="41.40" y2="170.10" stroke="#2a2a2a" stroke-width="1.0"/>
<line x1="41.40" y1="8.60" x2="41.40" y2="10.80" stroke="#2a2a2a" stroke-width="1.0"/>
<text x="41.40" y="186.30" font-size="10.6" text-anchor="middle" fill="#333" >-30</text>
<line x1="73.98" y1="172.30" x2="73.98" y2="170.10" stroke="#2a2a2a" stroke-width="1.0"/>
<line x1="73.98" y1="8.60" x2="73.98" y2="10.80" stroke="#2a2a2a" stroke-width="1.0"/>
<text x="73.98" y="186.30" font-size="10.6" text-anchor="middle" fill="#333" >-20</text>
<line x1="106.57" y1="172.30" x2="106.57" y2="170.10" stroke="#2a2a2a" stroke-width="1.0"/>
<line x1="106.57" y1="8.60" x2="106.57" y2="10.80" stroke="#2a2a2a" stroke-width="1.0"/>
<text x="106.57" y="186.30" font-size="10.6" text-anchor="middle" fill="#333" >-10</text>
<line x1="139.15" y1="172.30" x2="139.15" y2="170.10" stroke="#2a2a2a" stroke-width="1.0"/>
<line x1="139.15" y1="8.60" x2="139.15" y2="10.80" stroke="#2a2a2a" stroke-width="1.0"/>
<text x="139.15" y="186.30" font-size="10.6" text-anchor="middle" fill="#333" >0</text>
<line x1="171.73" y1="172.30" x2="171.73" y2="170.10" stroke="#2a2a2a" stroke-width="1.0"/>
<line x1="171.73" y1="8.60" x2="171.73" y2="10.80" stroke="#2a2a2a" stroke-width="1.0"/>
<text x="171.73" y="186.30" font-size="10.6" text-anchor="middle" fill="#333" >10</text>
<line x1="204.32" y1="172.30" x2="204.32" y2="170.10" stroke="#2a2a2a" stroke-width="1.0"/>
<line x1="204.32" y1="8.60" x2="204.32" y2="10.80" stroke="#2a2a2a" stroke-width="1.0"/>
<text x="204.32" y="186.30" font-size="10.6" text-anchor="middle" fill="#333" >20</text>
<line x1="236.90" y1="172.30" x2="236.90" y2="170.10" stroke="#2a2a2a" stroke-width="1.0"/>
<line x1="236.90" y1="8.60" x2="236.90" y2="10.80" stroke="#2a2a2a" stroke-width="1.0"/>
<text x="236.90" y="186.30" font-size="10.6" text-anchor="middle" fill="#333" >30</text>
<line x1="41.40" y1="8.60" x2="43.60" y2="8.60" stroke="#2a2a2a" stroke-width="1.0"/>
<line x1="236.90" y1="8.60" x2="234.70" y2="8.60" stroke="#2a2a2a" stroke-width="1.0"/>
<text x="38.00" y="12.70" font-size="10.6" text-anchor="end" fill="#333" >0.86</text>
<line x1="41.40" y1="31.99" x2="43.60" y2="31.99" stroke="#2a2a2a" stroke-width="1.0"/>
<line x1="236.90" y1="31.99" x2="234.70" y2="31.99" stroke="#2a2a2a" stroke-width="1.0"/>
<text x="38.00" y="36.09" font-size="10.6" text-anchor="end" fill="#333" >0.84</text>
<line x1="41.40" y1="55.37" x2="43.60" y2="55.37" stroke="#2a2a2a" stroke-width="1.0"/>
<line x1="236.90" y1="55.37" x2="234.70" y2="55.37" stroke="#2a2a2a" stroke-width="1.0"/>
<text x="38.00" y="59.47" font-size="10.6" text-anchor="end" fill="#333" >0.82</text>
<line x1="41.40" y1="78.76" x2="43.60" y2="78.76" stroke="#2a2a2a" stroke-width="1.0"/>
<line x1="236.90" y1="78.76" x2="234.70" y2="78.76" stroke="#2a2a2a" stroke-width="1.0"/>
<text x="38.00" y="82.86" font-size="10.6" text-anchor="end" fill="#333" >0.8</text>
<line x1="41.40" y1="102.14" x2="43.60" y2="102.14" stroke="#2a2a2a" stroke-width="1.0"/>
<line x1="236.90" y1="102.14" x2="234.70" y2="102.14" stroke="#2a2a2a" stroke-width="1.0"/>
<text x="38.00" y="106.24" font-size="10.6" text-anchor="end" fill="#333" >0.78</text>
<line x1="41.40" y1="125.53" x2="43.60" y2="125.53" stroke="#2a2a2a" stroke-width="1.0"/>
<line x1="236.90" y1="125.53" x2="234.70" y2="125.53" stroke="#2a2a2a" stroke-width="1.0"/>
<text x="38.00" y="129.63" font-size="10.6" text-anchor="end" fill="#333" >0.76</text>
<line x1="41.40" y1="148.91" x2="43.60" y2="148.91" stroke="#2a2a2a" stroke-width="1.0"/>
<line x1="236.90" y1="148.91" x2="234.70" y2="148.91" stroke="#2a2a2a" stroke-width="1.0"/>
<text x="38.00" y="153.01" font-size="10.6" text-anchor="end" fill="#333" >0.74</text>
<line x1="41.40" y1="172.30" x2="43.60" y2="172.30" stroke="#2a2a2a" stroke-width="1.0"/>
<line x1="236.90" y1="172.30" x2="234.70" y2="172.30" stroke="#2a2a2a" stroke-width="1.0"/>
<text x="38.00" y="176.40" font-size="10.6" text-anchor="end" fill="#333" >0.72</text>
<rect x="317.20" y="9.10" width="195.10" height="163.20" fill="none" stroke="#2a2a2a" stroke-width="1.15"/>
<line x1="317.20" y1="172.30" x2="317.20" y2="170.10" stroke="#2a2a2a" stroke-width="1.0"/>
<line x1="317.20" y1="9.10" x2="317.20" y2="11.30" stroke="#2a2a2a" stroke-width="1.0"/>
<text x="317.20" y="185.60" font-size="10.6" text-anchor="middle" fill="#333" >-30</text>
<line x1="349.72" y1="172.30" x2="349.72" y2="170.10" stroke="#2a2a2a" stroke-width="1.0"/>
<line x1="349.72" y1="9.10" x2="349.72" y2="11.30" stroke="#2a2a2a" stroke-width="1.0"/>
<text x="349.72" y="185.60" font-size="10.6" text-anchor="middle" fill="#333" >-20</text>
<line x1="382.23" y1="172.30" x2="382.23" y2="170.10" stroke="#2a2a2a" stroke-width="1.0"/>
<line x1="382.23" y1="9.10" x2="382.23" y2="11.30" stroke="#2a2a2a" stroke-width="1.0"/>
<text x="382.23" y="185.60" font-size="10.6" text-anchor="middle" fill="#333" >-10</text>
<line x1="414.75" y1="172.30" x2="414.75" y2="170.10" stroke="#2a2a2a" stroke-width="1.0"/>
<line x1="414.75" y1="9.10" x2="414.75" y2="11.30" stroke="#2a2a2a" stroke-width="1.0"/>
<text x="414.75" y="185.60" font-size="10.6" text-anchor="middle" fill="#333" >0</text>
<line x1="447.27" y1="172.30" x2="447.27" y2="170.10" stroke="#2a2a2a" stroke-width="1.0"/>
<line x1="447.27" y1="9.10" x2="447.27" y2="11.30" stroke="#2a2a2a" stroke-width="1.0"/>
<text x="447.27" y="185.60" font-size="10.6" text-anchor="middle" fill="#333" >10</text>
<line x1="479.78" y1="172.30" x2="479.78" y2="170.10" stroke="#2a2a2a" stroke-width="1.0"/>
<line x1="479.78" y1="9.10" x2="479.78" y2="11.30" stroke="#2a2a2a" stroke-width="1.0"/>
<text x="479.78" y="185.60" font-size="10.6" text-anchor="middle" fill="#333" >20</text>
<line x1="512.30" y1="172.30" x2="512.30" y2="170.10" stroke="#2a2a2a" stroke-width="1.0"/>
<line x1="512.30" y1="9.10" x2="512.30" y2="11.30" stroke="#2a2a2a" stroke-width="1.0"/>
<text x="512.30" y="185.60" font-size="10.6" text-anchor="middle" fill="#333" >30</text>
<line x1="317.20" y1="9.10" x2="319.40" y2="9.10" stroke="#2a2a2a" stroke-width="1.0"/>
<line x1="512.30" y1="9.10" x2="510.10" y2="9.10" stroke="#2a2a2a" stroke-width="1.0"/>
<text x="313.90" y="13.20" font-size="10.6" text-anchor="end" fill="#333" >0.86</text>
<line x1="317.20" y1="32.41" x2="319.40" y2="32.41" stroke="#2a2a2a" stroke-width="1.0"/>
<line x1="512.30" y1="32.41" x2="510.10" y2="32.41" stroke="#2a2a2a" stroke-width="1.0"/>
<text x="313.90" y="36.51" font-size="10.6" text-anchor="end" fill="#333" >0.84</text>
<line x1="317.20" y1="55.73" x2="319.40" y2="55.73" stroke="#2a2a2a" stroke-width="1.0"/>
<line x1="512.30" y1="55.73" x2="510.10" y2="55.73" stroke="#2a2a2a" stroke-width="1.0"/>
<text x="313.90" y="59.83" font-size="10.6" text-anchor="end" fill="#333" >0.82</text>
<line x1="317.20" y1="79.04" x2="319.40" y2="79.04" stroke="#2a2a2a" stroke-width="1.0"/>
<line x1="512.30" y1="79.04" x2="510.10" y2="79.04" stroke="#2a2a2a" stroke-width="1.0"/>
<text x="313.90" y="83.14" font-size="10.6" text-anchor="end" fill="#333" >0.8</text>
<line x1="317.20" y1="102.36" x2="319.40" y2="102.36" stroke="#2a2a2a" stroke-width="1.0"/>
<line x1="512.30" y1="102.36" x2="510.10" y2="102.36" stroke="#2a2a2a" stroke-width="1.0"/>
<text x="313.90" y="106.46" font-size="10.6" text-anchor="end" fill="#333" >0.78</text>
<line x1="317.20" y1="125.67" x2="319.40" y2="125.67" stroke="#2a2a2a" stroke-width="1.0"/>
<line x1="512.30" y1="125.67" x2="510.10" y2="125.67" stroke="#2a2a2a" stroke-width="1.0"/>
<text x="313.90" y="129.77" font-size="10.6" text-anchor="end" fill="#333" >0.76</text>
<line x1="317.20" y1="148.99" x2="319.40" y2="148.99" stroke="#2a2a2a" stroke-width="1.0"/>
<line x1="512.30" y1="148.99" x2="510.10" y2="148.99" stroke="#2a2a2a" stroke-width="1.0"/>
<text x="313.90" y="153.09" font-size="10.6" text-anchor="end" fill="#333" >0.74</text>
<line x1="317.20" y1="172.30" x2="319.40" y2="172.30" stroke="#2a2a2a" stroke-width="1.0"/>
<line x1="512.30" y1="172.30" x2="510.10" y2="172.30" stroke="#2a2a2a" stroke-width="1.0"/>
<text x="313.90" y="176.40" font-size="10.6" text-anchor="end" fill="#333" >0.72</text>
<text x="3.10" y="16.70" font-size="21" text-anchor="start" fill="#000" >a</text>
<text x="279.20" y="19.40" font-size="19.6" text-anchor="start" fill="#000" >b</text>
<text x="6.20" y="212.90" font-size="20.2" text-anchor="start" fill="#000" >c</text>
<text x="280.80" y="214.50" font-size="19.6" text-anchor="start" fill="#000" >d</text>
<text x="92.50" y="195.50" font-size="11.9" text-anchor="start" fill="#111" >Rotation angle (°)</text>
<text x="0" y="0" font-size="12.1" text-anchor="middle" fill="#111" transform="translate(14.40,89.00) rotate(-90)">Frequency (THz)</text>
<text x="50.70" y="23.50" font-size="10.2" text-anchor="start" fill="#111" >RCP</text>
<text x="159.60" y="22.70" font-size="10.2" text-anchor="start" fill="#111" >idea-BIC</text>
<line x1="157.90" y1="19.50" x2="144.11" y2="25.27" stroke="#000" stroke-width="1.7"/>
<polygon points="139.50,27.20 143.88,22.12 146.19,27.65" fill="#000"/>
<text x="104.00" y="140.30" font-size="10.2" text-anchor="start" fill="#111" >chiral quasi-BIC</text>
<line x1="110.90" y1="128.30" x2="76.89" y2="109.45" stroke="#000" stroke-width="1.7"/>
<polygon points="71.20,106.30 79.41,106.96 76.11,112.91" fill="#000"/>
<line x1="165.10" y1="128.30" x2="198.74" y2="109.30" stroke="#000" stroke-width="1.7"/>
<polygon points="204.40,106.10 199.54,112.75 196.20,106.83" fill="#000"/>
<text x="367.90" y="194.80" font-size="11.9" text-anchor="start" fill="#111" >Rotation angle (°)</text>
<text x="0" y="0" font-size="12.1" text-anchor="middle" fill="#111" transform="translate(289.40,88.60) rotate(-90)">Frequency (THz)</text>
<text x="327.70" y="23.50" font-size="10.2" text-anchor="start" fill="#111" >LCP</text>
<text x="433.90" y="22.40" font-size="10.2" text-anchor="start" fill="#111" >idea-BIC</text>
<line x1="431.90" y1="19.90" x2="418.30" y2="25.73" stroke="#000" stroke-width="1.7"/>
<polygon points="413.70,27.70 418.03,22.58 420.40,28.09" fill="#000"/>
<text x="379.40" y="140.00" font-size="10.2" text-anchor="start" fill="#111" >chiral quasi-BIC</text>
<line x1="386.40" y1="128.30" x2="353.86" y2="109.90" stroke="#000" stroke-width="1.7"/>
<polygon points="348.20,106.70 356.40,107.43 353.06,113.35" fill="#000"/>
<line x1="442.30" y1="128.30" x2="475.61" y2="109.85" stroke="#000" stroke-width="1.7"/>
<polygon points="481.30,106.70 476.39,113.31 473.09,107.36" fill="#000"/>
<defs><linearGradient id="cba" x1="0" y1="0" x2="0" y2="1"><stop offset="0.000" stop-color="#800000"/><stop offset="0.125" stop-color="#ff0000"/><stop offset="0.250" stop-color="#ff8000"/><stop offset="0.375" stop-color="#ffff00"/><stop offset="0.500" stop-color="#80ff80"/><stop offset="0.625" stop-color="#00ffff"/><stop offset="0.750" stop-color="#0080ff"/><stop offset="0.875" stop-color="#0000ff"/><stop offset="1.000" stop-color="#000080"/></linearGradient></defs>
<rect x="249.6" y="8.6" width="8.200000000000017" height="162.0" fill="url(#cba)" stroke="#2a2a2a" stroke-width="1"/>
<defs><linearGradient id="cbb" x1="0" y1="0" x2="0" y2="1"><stop offset="0.000" stop-color="#800000"/><stop offset="0.125" stop-color="#ff0000"/><stop offset="0.250" stop-color="#ff8000"/><stop offset="0.375" stop-color="#ffff00"/><stop offset="0.500" stop-color="#80ff80"/><stop offset="0.625" stop-color="#00ffff"/><stop offset="0.750" stop-color="#0080ff"/><stop offset="0.875" stop-color="#0000ff"/><stop offset="1.000" stop-color="#000080"/></linearGradient></defs>
<rect x="524.1" y="9.5" width="8.100000000000023" height="162.8" fill="url(#cbb)" stroke="#2a2a2a" stroke-width="1"/>
<text x="259.40" y="24.70" font-size="10.3" text-anchor="start" fill="#333" >0.8</text>
<text x="533.60" y="25.10" font-size="10.3" text-anchor="start" fill="#333" >0.8</text>
<text x="259.40" y="45.87" font-size="10.3" text-anchor="start" fill="#333" >0.7</text>
<text x="533.60" y="46.49" font-size="10.3" text-anchor="start" fill="#333" >0.7</text>
<text x="259.40" y="67.04" font-size="10.3" text-anchor="start" fill="#333" >0.6</text>
<text x="533.60" y="67.88" font-size="10.3" text-anchor="start" fill="#333" >0.6</text>
<text x="259.40" y="88.21" font-size="10.3" text-anchor="start" fill="#333" >0.5</text>
<text x="533.60" y="89.27" font-size="10.3" text-anchor="start" fill="#333" >0.5</text>
<text x="259.40" y="109.38" font-size="10.3" text-anchor="start" fill="#333" >0.4</text>
<text x="533.60" y="110.66" font-size="10.3" text-anchor="start" fill="#333" >0.4</text>
<text x="259.40" y="130.55" font-size="10.3" text-anchor="start" fill="#333" >0.3</text>
<text x="533.60" y="132.05" font-size="10.3" text-anchor="start" fill="#333" >0.3</text>
<text x="259.40" y="151.72" font-size="10.3" text-anchor="start" fill="#333" >0.2</text>
<text x="533.60" y="153.44" font-size="10.3" text-anchor="start" fill="#333" >0.2</text>
<text x="259.40" y="172.89" font-size="10.3" text-anchor="start" fill="#333" >0.1</text>
<text x="533.60" y="174.83" font-size="10.3" text-anchor="start" fill="#333" >0.1</text>
<text x="0" y="0" font-size="10.5" text-anchor="middle" fill="#111" transform="translate(248.00,88.90) rotate(-90)">Transmittance</text>
<text x="0" y="0" font-size="10.5" text-anchor="middle" fill="#111" transform="translate(522.00,89.60) rotate(-90)">Transmittance</text>
<text x="93.10" y="389.40" font-size="11.9" text-anchor="start" fill="#111" >Rotation angle (°)</text>
<text x="0" y="0" font-size="12.1" text-anchor="middle" fill="#111" transform="translate(15.20,281.90) rotate(-90)">Frequency (THz)</text>
<text x="50.00" y="219.50" font-size="10.4" text-anchor="start" fill="#111" >CD</text>
<text x="66.60" y="219.50" font-size="10.4" text-anchor="start" fill="#111" textLength="6.4" lengthAdjust="spacingAndGlyphs">=</text>
<text x="74.90" y="219.50" font-size="10.4" text-anchor="start" fill="#111" >RCP</text>
<line x1="99.30" y1="216.00" x2="105.90" y2="216.00" stroke="#111" stroke-width="1.0"/>
<text x="107.60" y="219.50" font-size="10.4" text-anchor="start" fill="#111" >LCP</text>
<text x="158.60" y="217.40" font-size="10.2" text-anchor="start" fill="#111" >idea-BIC</text>
<line x1="156.90" y1="214.90" x2="143.60" y2="220.55" stroke="#000" stroke-width="1.7"/>
<polygon points="139.00,222.50 143.35,217.39 145.70,222.92" fill="#000"/>
<text x="104.40" y="335.80" font-size="10.2" text-anchor="start" fill="#111" >chiral quasi-BIC</text>
<line x1="113.50" y1="324.10" x2="78.34" y2="305.36" stroke="#000" stroke-width="1.7"/>
<polygon points="72.60,302.30 80.82,302.83 77.62,308.83" fill="#000"/>
<line x1="167.30" y1="324.10" x2="201.69" y2="305.40" stroke="#000" stroke-width="1.7"/>
<polygon points="207.40,302.30 202.43,308.87 199.19,302.90" fill="#000"/>
<defs><linearGradient id="cbc" x1="0" y1="0" x2="0" y2="1"><stop offset="0.000" stop-color="#800000"/><stop offset="0.120" stop-color="#ff0000"/><stop offset="0.260" stop-color="#ff8000"/><stop offset="0.360" stop-color="#ffff00"/><stop offset="0.500" stop-color="#ffffff"/><stop offset="0.640" stop-color="#00ffff"/><stop offset="0.750" stop-color="#008cff"/><stop offset="0.880" stop-color="#0000ff"/><stop offset="1.000" stop-color="#000080"/></linearGradient></defs>
<rect x="249.5" y="204.6" width="8.2" height="161.0" fill="url(#cbc)" stroke="#2a2a2a" stroke-width="1"/>
<text x="259.50" y="212.80" font-size="10.3" text-anchor="start" fill="#333" >0.6</text>
<text x="259.50" y="237.97" font-size="10.3" text-anchor="start" fill="#333" >0.4</text>
<text x="259.50" y="263.14" font-size="10.3" text-anchor="start" fill="#333" >0.2</text>
<text x="259.50" y="288.31" font-size="10.3" text-anchor="start" fill="#333" >0</text>
<text x="259.50" y="313.48" font-size="10.3" text-anchor="start" fill="#333" >-0.2</text>
<text x="259.50" y="338.65" font-size="10.3" text-anchor="start" fill="#333" >-0.4</text>
<text x="259.50" y="363.82" font-size="10.3" text-anchor="start" fill="#333" >-0.6</text>
<text x="0" y="0" font-size="10.5" text-anchor="middle" fill="#111" transform="translate(246.60,284.40) rotate(-90)">CD</text>
<rect x="315.8" y="205.1" width="212.40" height="160.80" fill="none" stroke="#333" stroke-width="1.15"/>
<line x1="315.80" y1="365.90" x2="315.80" y2="363.30" stroke="#333" stroke-width="1.0"/>
<line x1="315.80" y1="205.10" x2="315.80" y2="207.70" stroke="#333" stroke-width="1.0"/>
<text x="315.80" y="379.60" font-size="10.3" text-anchor="middle" fill="#333" >-0.12</text>
<line x1="351.20" y1="365.90" x2="351.20" y2="363.30" stroke="#333" stroke-width="1.0"/>
<line x1="351.20" y1="205.10" x2="351.20" y2="207.70" stroke="#333" stroke-width="1.0"/>
<text x="351.20" y="379.60" font-size="10.3" text-anchor="middle" fill="#333" >-0.08</text>
<line x1="386.60" y1="365.90" x2="386.60" y2="363.30" stroke="#333" stroke-width="1.0"/>
<line x1="386.60" y1="205.10" x2="386.60" y2="207.70" stroke="#333" stroke-width="1.0"/>
<text x="386.60" y="379.60" font-size="10.3" text-anchor="middle" fill="#333" >-0.04</text>
<line x1="422.00" y1="365.90" x2="422.00" y2="363.30" stroke="#333" stroke-width="1.0"/>
<line x1="422.00" y1="205.10" x2="422.00" y2="207.70" stroke="#333" stroke-width="1.0"/>
<text x="422.00" y="379.60" font-size="10.3" text-anchor="middle" fill="#333" >0</text>
<line x1="457.40" y1="365.90" x2="457.40" y2="363.30" stroke="#333" stroke-width="1.0"/>
<line x1="457.40" y1="205.10" x2="457.40" y2="207.70" stroke="#333" stroke-width="1.0"/>
<text x="457.40" y="379.60" font-size="10.3" text-anchor="middle" fill="#333" >0.04</text>
<line x1="492.80" y1="365.90" x2="492.80" y2="363.30" stroke="#333" stroke-width="1.0"/>
<line x1="492.80" y1="205.10" x2="492.80" y2="207.70" stroke="#333" stroke-width="1.0"/>
<text x="492.80" y="379.60" font-size="10.3" text-anchor="middle" fill="#333" >0.08</text>
<line x1="528.20" y1="365.90" x2="528.20" y2="363.30" stroke="#333" stroke-width="1.0"/>
<line x1="528.20" y1="205.10" x2="528.20" y2="207.70" stroke="#333" stroke-width="1.0"/>
<text x="528.20" y="379.60" font-size="10.3" text-anchor="middle" fill="#333" >0.12</text>
<line x1="315.80" y1="362.50" x2="317.40" y2="362.50" stroke="#333" stroke-width="0.9"/>
<line x1="528.20" y1="362.50" x2="526.60" y2="362.50" stroke="#333" stroke-width="0.9"/>
<line x1="315.80" y1="358.15" x2="317.40" y2="358.15" stroke="#333" stroke-width="0.9"/>
<line x1="528.20" y1="358.15" x2="526.60" y2="358.15" stroke="#333" stroke-width="0.9"/>
<line x1="315.80" y1="354.78" x2="317.40" y2="354.78" stroke="#333" stroke-width="0.9"/>
<line x1="528.20" y1="354.78" x2="526.60" y2="354.78" stroke="#333" stroke-width="0.9"/>
<line x1="315.80" y1="352.02" x2="317.40" y2="352.02" stroke="#333" stroke-width="0.9"/>
<line x1="528.20" y1="352.02" x2="526.60" y2="352.02" stroke="#333" stroke-width="0.9"/>
<line x1="315.80" y1="349.69" x2="317.40" y2="349.69" stroke="#333" stroke-width="0.9"/>
<line x1="528.20" y1="349.69" x2="526.60" y2="349.69" stroke="#333" stroke-width="0.9"/>
<line x1="315.80" y1="347.67" x2="317.40" y2="347.67" stroke="#333" stroke-width="0.9"/>
<line x1="528.20" y1="347.67" x2="526.60" y2="347.67" stroke="#333" stroke-width="0.9"/>
<line x1="315.80" y1="345.89" x2="317.40" y2="345.89" stroke="#333" stroke-width="0.9"/>
<line x1="528.20" y1="345.89" x2="526.60" y2="345.89" stroke="#333" stroke-width="0.9"/>
<line x1="315.80" y1="344.30" x2="318.40" y2="344.30" stroke="#333" stroke-width="0.9"/>
<line x1="528.20" y1="344.30" x2="525.60" y2="344.30" stroke="#333" stroke-width="0.9"/>
<line x1="315.80" y1="333.82" x2="317.40" y2="333.82" stroke="#333" stroke-width="0.9"/>
<line x1="528.20" y1="333.82" x2="526.60" y2="333.82" stroke="#333" stroke-width="0.9"/>
<line x1="315.80" y1="327.70" x2="317.40" y2="327.70" stroke="#333" stroke-width="0.9"/>
<line x1="528.20" y1="327.70" x2="526.60" y2="327.70" stroke="#333" stroke-width="0.9"/>
<line x1="315.80" y1="323.35" x2="317.40" y2="323.35" stroke="#333" stroke-width="0.9"/>
<line x1="528.20" y1="323.35" x2="526.60" y2="323.35" stroke="#333" stroke-width="0.9"/>
<line x1="315.80" y1="319.98" x2="317.40" y2="319.98" stroke="#333" stroke-width="0.9"/>
<line x1="528.20" y1="319.98" x2="526.60" y2="319.98" stroke="#333" stroke-width="0.9"/>
<line x1="315.80" y1="317.22" x2="317.40" y2="317.22" stroke="#333" stroke-width="0.9"/>
<line x1="528.20" y1="317.22" x2="526.60" y2="317.22" stroke="#333" stroke-width="0.9"/>
<line x1="315.80" y1="314.89" x2="317.40" y2="314.89" stroke="#333" stroke-width="0.9"/>
<line x1="528.20" y1="314.89" x2="526.60" y2="314.89" stroke="#333" stroke-width="0.9"/>
<line x1="315.80" y1="312.87" x2="317.40" y2="312.87" stroke="#333" stroke-width="0.9"/>
<line x1="528.20" y1="312.87" x2="526.60" y2="312.87" stroke="#333" stroke-width="0.9"/>
<line x1="315.80" y1="311.09" x2="317.40" y2="311.09" stroke="#333" stroke-width="0.9"/>
<line x1="528.20" y1="311.09" x2="526.60" y2="311.09" stroke="#333" stroke-width="0.9"/>
<text x="308.80" y="349.70" font-size="10.2" text-anchor="end" fill="#333" >10</text>
<text x="308.50" y="344.50" font-size="7.8" text-anchor="start" fill="#333" >3</text>
<line x1="315.80" y1="309.50" x2="318.40" y2="309.50" stroke="#333" stroke-width="0.9"/>
<line x1="528.20" y1="309.50" x2="525.60" y2="309.50" stroke="#333" stroke-width="0.9"/>
<line x1="315.80" y1="299.02" x2="317.40" y2="299.02" stroke="#333" stroke-width="0.9"/>
<line x1="528.20" y1="299.02" x2="526.60" y2="299.02" stroke="#333" stroke-width="0.9"/>
<line x1="315.80" y1="292.90" x2="317.40" y2="292.90" stroke="#333" stroke-width="0.9"/>
<line x1="528.20" y1="292.90" x2="526.60" y2="292.90" stroke="#333" stroke-width="0.9"/>
<line x1="315.80" y1="288.55" x2="317.40" y2="288.55" stroke="#333" stroke-width="0.9"/>
<line x1="528.20" y1="288.55" x2="526.60" y2="288.55" stroke="#333" stroke-width="0.9"/>
<line x1="315.80" y1="285.18" x2="317.40" y2="285.18" stroke="#333" stroke-width="0.9"/>
<line x1="528.20" y1="285.18" x2="526.60" y2="285.18" stroke="#333" stroke-width="0.9"/>
<line x1="315.80" y1="282.42" x2="317.40" y2="282.42" stroke="#333" stroke-width="0.9"/>
<line x1="528.20" y1="282.42" x2="526.60" y2="282.42" stroke="#333" stroke-width="0.9"/>
<line x1="315.80" y1="280.09" x2="317.40" y2="280.09" stroke="#333" stroke-width="0.9"/>
<line x1="528.20" y1="280.09" x2="526.60" y2="280.09" stroke="#333" stroke-width="0.9"/>
<line x1="315.80" y1="278.07" x2="317.40" y2="278.07" stroke="#333" stroke-width="0.9"/>
<line x1="528.20" y1="278.07" x2="526.60" y2="278.07" stroke="#333" stroke-width="0.9"/>
<line x1="315.80" y1="276.29" x2="317.40" y2="276.29" stroke="#333" stroke-width="0.9"/>
<line x1="528.20" y1="276.29" x2="526.60" y2="276.29" stroke="#333" stroke-width="0.9"/>
<text x="308.80" y="314.90" font-size="10.2" text-anchor="end" fill="#333" >10</text>
<text x="308.50" y="309.70" font-size="7.8" text-anchor="start" fill="#333" >4</text>
<line x1="315.80" y1="274.70" x2="318.40" y2="274.70" stroke="#333" stroke-width="0.9"/>
<line x1="528.20" y1="274.70" x2="525.60" y2="274.70" stroke="#333" stroke-width="0.9"/>
<line x1="315.80" y1="264.22" x2="317.40" y2="264.22" stroke="#333" stroke-width="0.9"/>
<line x1="528.20" y1="264.22" x2="526.60" y2="264.22" stroke="#333" stroke-width="0.9"/>
<line x1="315.80" y1="258.10" x2="317.40" y2="258.10" stroke="#333" stroke-width="0.9"/>
<line x1="528.20" y1="258.10" x2="526.60" y2="258.10" stroke="#333" stroke-width="0.9"/>
<line x1="315.80" y1="253.75" x2="317.40" y2="253.75" stroke="#333" stroke-width="0.9"/>
<line x1="528.20" y1="253.75" x2="526.60" y2="253.75" stroke="#333" stroke-width="0.9"/>
<line x1="315.80" y1="250.38" x2="317.40" y2="250.38" stroke="#333" stroke-width="0.9"/>
<line x1="528.20" y1="250.38" x2="526.60" y2="250.38" stroke="#333" stroke-width="0.9"/>
<line x1="315.80" y1="247.62" x2="317.40" y2="247.62" stroke="#333" stroke-width="0.9"/>
<line x1="528.20" y1="247.62" x2="526.60" y2="247.62" stroke="#333" stroke-width="0.9"/>
<line x1="315.80" y1="245.29" x2="317.40" y2="245.29" stroke="#333" stroke-width="0.9"/>
<line x1="528.20" y1="245.29" x2="526.60" y2="245.29" stroke="#333" stroke-width="0.9"/>
<line x1="315.80" y1="243.27" x2="317.40" y2="243.27" stroke="#333" stroke-width="0.9"/>
<line x1="528.20" y1="243.27" x2="526.60" y2="243.27" stroke="#333" stroke-width="0.9"/>
<line x1="315.80" y1="241.49" x2="317.40" y2="241.49" stroke="#333" stroke-width="0.9"/>
<line x1="528.20" y1="241.49" x2="526.60" y2="241.49" stroke="#333" stroke-width="0.9"/>
<text x="308.80" y="280.10" font-size="10.2" text-anchor="end" fill="#333" >10</text>
<text x="308.50" y="274.90" font-size="7.8" text-anchor="start" fill="#333" >5</text>
<line x1="315.80" y1="239.90" x2="318.40" y2="239.90" stroke="#333" stroke-width="0.9"/>
<line x1="528.20" y1="239.90" x2="525.60" y2="239.90" stroke="#333" stroke-width="0.9"/>
<line x1="315.80" y1="229.42" x2="317.40" y2="229.42" stroke="#333" stroke-width="0.9"/>
<line x1="528.20" y1="229.42" x2="526.60" y2="229.42" stroke="#333" stroke-width="0.9"/>
<line x1="315.80" y1="223.30" x2="317.40" y2="223.30" stroke="#333" stroke-width="0.9"/>
<line x1="528.20" y1="223.30" x2="526.60" y2="223.30" stroke="#333" stroke-width="0.9"/>
<line x1="315.80" y1="218.95" x2="317.40" y2="218.95" stroke="#333" stroke-width="0.9"/>
<line x1="528.20" y1="218.95" x2="526.60" y2="218.95" stroke="#333" stroke-width="0.9"/>
<line x1="315.80" y1="215.58" x2="317.40" y2="215.58" stroke="#333" stroke-width="0.9"/>
<line x1="528.20" y1="215.58" x2="526.60" y2="215.58" stroke="#333" stroke-width="0.9"/>
<line x1="315.80" y1="212.82" x2="317.40" y2="212.82" stroke="#333" stroke-width="0.9"/>
<line x1="528.20" y1="212.82" x2="526.60" y2="212.82" stroke="#333" stroke-width="0.9"/>
<line x1="315.80" y1="210.49" x2="317.40" y2="210.49" stroke="#333" stroke-width="0.9"/>
<line x1="528.20" y1="210.49" x2="526.60" y2="210.49" stroke="#333" stroke-width="0.9"/>
<line x1="315.80" y1="208.47" x2="317.40" y2="208.47" stroke="#333" stroke-width="0.9"/>
<line x1="528.20" y1="208.47" x2="526.60" y2="208.47" stroke="#333" stroke-width="0.9"/>
<line x1="315.80" y1="206.69" x2="317.40" y2="206.69" stroke="#333" stroke-width="0.9"/>
<line x1="528.20" y1="206.69" x2="526.60" y2="206.69" stroke="#333" stroke-width="0.9"/>
<text x="308.80" y="245.30" font-size="10.2" text-anchor="end" fill="#333" >10</text>
<text x="308.50" y="240.10" font-size="7.8" text-anchor="start" fill="#333" >6</text>
<line x1="315.80" y1="205.10" x2="318.40" y2="205.10" stroke="#333" stroke-width="0.9"/>
<line x1="528.20" y1="205.10" x2="525.60" y2="205.10" stroke="#333" stroke-width="0.9"/>
<text x="308.80" y="210.50" font-size="10.2" text-anchor="end" fill="#333" >10</text>
<text x="308.50" y="205.30" font-size="7.8" text-anchor="start" fill="#333" >7</text>
<path d="M315.80,347.06 L316.24,346.93 L316.69,346.80 L317.13,346.68 L317.57,346.55 L318.01,346.42 L318.46,346.29 L318.90,346.16 L319.34,346.03 L319.78,345.90 L320.23,345.77 L320.67,345.64 L321.11,345.51 L321.55,345.37 L322.00,345.24 L322.44,345.10 L322.88,344.97 L323.32,344.83 L323.77,344.70 L324.21,344.56 L324.65,344.43 L325.09,344.29 L325.54,344.15 L325.98,344.01 L326.42,343.87 L326.86,343.73 L327.31,343.59 L327.75,343.45 L328.19,343.31 L328.63,343.16 L329.07,343.02 L329.52,342.87 L329.96,342.73 L330.40,342.58 L330.85,342.44 L331.29,342.29 L331.73,342.14 L332.17,341.99 L332.62,341.85 L333.06,341.70 L333.50,341.54 L333.94,341.39 L334.38,341.24 L334.83,341.09 L335.27,340.93 L335.71,340.78 L336.16,340.62 L336.60,340.47 L337.04,340.31 L337.48,340.15 L337.93,339.99 L338.37,339.83 L338.81,339.67 L339.25,339.51 L339.69,339.35 L340.14,339.19 L340.58,339.02 L341.02,338.86 L341.47,338.69 L341.91,338.53 L342.35,338.36 L342.79,338.19 L343.24,338.02 L343.68,337.85 L344.12,337.68 L344.56,337.51 L345.00,337.34 L345.45,337.16 L345.89,336.99 L346.33,336.81 L346.78,336.63 L347.22,336.45 L347.66,336.27 L348.10,336.09 L348.55,335.91 L348.99,335.73 L349.43,335.55 L349.87,335.36 L350.32,335.18 L350.76,334.99 L351.20,334.80 L351.64,334.61 L352.09,334.42 L352.53,334.23 L352.97,334.03 L353.41,333.84 L353.86,333.64 L354.30,333.45 L354.74,333.25 L355.18,333.05 L355.62,332.85 L356.07,332.65 L356.51,332.44 L356.95,332.24 L357.40,332.03 L357.84,331.82 L358.28,331.61 L358.72,331.40 L359.17,331.19 L359.61,330.98 L360.05,330.76 L360.49,330.55 L360.94,330.33 L361.38,330.11 L361.82,329.89 L362.26,329.66 L362.71,329.44 L363.15,329.21 L363.59,328.98 L364.03,328.75 L364.48,328.52 L364.92,328.29 L365.36,328.05 L365.80,327.82 L366.25,327.58 L366.69,327.34 L367.13,327.09 L367.57,326.85 L368.02,326.60 L368.46,326.35 L368.90,326.10 L369.34,325.85 L369.79,325.60 L370.23,325.34 L370.67,325.08 L371.11,324.82 L371.56,324.55 L372.00,324.29 L372.44,324.02 L372.88,323.75 L373.33,323.47 L373.77,323.20 L374.21,322.92 L374.65,322.64 L375.10,322.35 L375.54,322.07 L375.98,321.78 L376.42,321.49 L376.87,321.19 L377.31,320.89 L377.75,320.59 L378.19,320.29 L378.64,319.98 L379.08,319.67 L379.52,319.36 L379.96,319.04 L380.41,318.72 L380.85,318.40 L381.29,318.07 L381.73,317.74 L382.18,317.41 L382.62,317.07 L383.06,316.73 L383.50,316.38 L383.95,316.03 L384.39,315.68 L384.83,315.32 L385.27,314.96 L385.72,314.59 L386.16,314.22 L386.60,313.85 L387.04,313.47 L387.49,313.08 L387.93,312.69 L388.37,312.30 L388.81,311.90 L389.26,311.49 L389.70,311.08 L390.14,310.66 L390.58,310.24 L391.03,309.81 L391.47,309.38 L391.91,308.94 L392.35,308.49 L392.80,308.03 L393.24,307.57 L393.68,307.10 L394.12,306.63 L394.57,306.14 L395.01,305.65 L395.45,305.15 L395.89,304.64 L396.34,304.13 L396.78,303.60 L397.22,303.07 L397.66,302.52 L398.11,301.97 L398.55,301.40 L398.99,300.83 L399.43,300.24 L399.88,299.64 L400.32,299.03 L400.76,298.41 L401.20,297.77 L401.65,297.12 L402.09,296.46 L402.53,295.78 L402.97,295.08 L403.42,294.37 L403.86,293.64 L404.30,292.90 L404.74,292.13 L405.19,291.35 L405.63,290.54 L406.07,289.71 L406.51,288.86 L406.96,287.98 L407.40,287.08 L407.84,286.15 L408.28,285.19 L408.73,284.20 L409.17,283.18 L409.61,282.12 L410.05,281.02 L410.50,279.87 L410.94,278.69 L411.38,277.46 L411.82,276.17 L412.27,274.83 L412.71,273.42 L413.15,271.94 L413.59,270.39 L414.04,268.76 L414.48,267.03 L414.92,265.20 L415.36,263.25 L415.81,261.16 L416.25,258.92 L416.69,256.50 L417.13,253.87 L417.58,250.99 L418.02,247.81 L418.46,244.25 L418.90,240.21 L419.35,235.55 L419.79,230.04 L420.23,223.30 L420.67,214.60 L421.12,205.10 L421.56,205.10" fill="none" stroke="#d8232a" stroke-width="1.7"/>
<path d="M422.44,205.10 L422.88,205.10 L423.33,214.60 L423.77,223.30 L424.21,230.04 L424.66,235.55 L425.10,240.21 L425.54,244.25 L425.98,247.81 L426.43,250.99 L426.87,253.87 L427.31,256.50 L427.75,258.92 L428.20,261.16 L428.64,263.25 L429.08,265.20 L429.52,267.03 L429.97,268.76 L430.41,270.39 L430.85,271.94 L431.29,273.42 L431.74,274.83 L432.18,276.17 L432.62,277.46 L433.06,278.69 L433.51,279.87 L433.95,281.02 L434.39,282.12 L434.83,283.18 L435.28,284.20 L435.72,285.19 L436.16,286.15 L436.60,287.08 L437.05,287.98 L437.49,288.86 L437.93,289.71 L438.37,290.54 L438.82,291.35 L439.26,292.13 L439.70,292.90 L440.14,293.64 L440.59,294.37 L441.03,295.08 L441.47,295.78 L441.91,296.46 L442.36,297.12 L442.80,297.77 L443.24,298.41 L443.68,299.03 L444.12,299.64 L444.57,300.24 L445.01,300.83 L445.45,301.40 L445.89,301.97 L446.34,302.52 L446.78,303.07 L447.22,303.60 L447.67,304.13 L448.11,304.64 L448.55,305.15 L448.99,305.65 L449.44,306.14 L449.88,306.63 L450.32,307.10 L450.76,307.57 L451.21,308.03 L451.65,308.49 L452.09,308.94 L452.53,309.38 L452.98,309.81 L453.42,310.24 L453.86,310.66 L454.30,311.08 L454.75,311.49 L455.19,311.90 L455.63,312.30 L456.07,312.69 L456.52,313.08 L456.96,313.47 L457.40,313.85 L457.84,314.22 L458.29,314.59 L458.73,314.96 L459.17,315.32 L459.61,315.68 L460.06,316.03 L460.50,316.38 L460.94,316.73 L461.38,317.07 L461.83,317.41 L462.27,317.74 L462.71,318.07 L463.15,318.40 L463.60,318.72 L464.04,319.04 L464.48,319.36 L464.92,319.67 L465.37,319.98 L465.81,320.29 L466.25,320.59 L466.69,320.89 L467.14,321.19 L467.58,321.49 L468.02,321.78 L468.46,322.07 L468.91,322.35 L469.35,322.64 L469.79,322.92 L470.23,323.20 L470.68,323.47 L471.12,323.75 L471.56,324.02 L472.00,324.29 L472.45,324.55 L472.89,324.82 L473.33,325.08 L473.77,325.34 L474.22,325.60 L474.66,325.85 L475.10,326.10 L475.54,326.35 L475.99,326.60 L476.43,326.85 L476.87,327.09 L477.31,327.34 L477.76,327.58 L478.20,327.82 L478.64,328.05 L479.08,328.29 L479.53,328.52 L479.97,328.75 L480.41,328.98 L480.85,329.21 L481.30,329.44 L481.74,329.66 L482.18,329.89 L482.62,330.11 L483.07,330.33 L483.51,330.55 L483.95,330.76 L484.39,330.98 L484.84,331.19 L485.28,331.40 L485.72,331.61 L486.16,331.82 L486.61,332.03 L487.05,332.24 L487.49,332.44 L487.93,332.65 L488.38,332.85 L488.82,333.05 L489.26,333.25 L489.70,333.45 L490.15,333.64 L490.59,333.84 L491.03,334.03 L491.47,334.23 L491.92,334.42 L492.36,334.61 L492.80,334.80 L493.24,334.99 L493.69,335.18 L494.13,335.36 L494.57,335.55 L495.01,335.73 L495.46,335.91 L495.90,336.09 L496.34,336.27 L496.78,336.45 L497.23,336.63 L497.67,336.81 L498.11,336.99 L498.55,337.16 L499.00,337.34 L499.44,337.51 L499.88,337.68 L500.32,337.85 L500.77,338.02 L501.21,338.19 L501.65,338.36 L502.09,338.53 L502.54,338.69 L502.98,338.86 L503.42,339.02 L503.86,339.19 L504.31,339.35 L504.75,339.51 L505.19,339.67 L505.63,339.83 L506.08,339.99 L506.52,340.15 L506.96,340.31 L507.40,340.47 L507.85,340.62 L508.29,340.78 L508.73,340.93 L509.17,341.09 L509.62,341.24 L510.06,341.39 L510.50,341.54 L510.94,341.70 L511.39,341.85 L511.83,341.99 L512.27,342.14 L512.71,342.29 L513.16,342.44 L513.60,342.58 L514.04,342.73 L514.48,342.87 L514.93,343.02 L515.37,343.16 L515.81,343.31 L516.25,343.45 L516.70,343.59 L517.14,343.73 L517.58,343.87 L518.02,344.01 L518.47,344.15 L518.91,344.29 L519.35,344.43 L519.79,344.56 L520.24,344.70 L520.68,344.83 L521.12,344.97 L521.56,345.10 L522.01,345.24 L522.45,345.37 L522.89,345.51 L523.33,345.64 L523.78,345.77 L524.22,345.90 L524.66,346.03 L525.10,346.16 L525.55,346.29 L525.99,346.42 L526.43,346.55 L526.87,346.68 L527.32,346.80 L527.76,346.93 L528.20,347.06" fill="none" stroke="#d8232a" stroke-width="1.7"/>
<circle cx="426.70" cy="253.30" r="2.3" fill="none" stroke="#0808d8" stroke-width="1.5"/>
<circle cx="417.30" cy="253.80" r="2.3" fill="none" stroke="#0808d8" stroke-width="1.5"/>
<circle cx="431.32" cy="271.90" r="2.3" fill="none" stroke="#0808d8" stroke-width="1.5"/>
<circle cx="412.68" cy="271.80" r="2.3" fill="none" stroke="#0808d8" stroke-width="1.5"/>
<circle cx="435.94" cy="287.80" r="2.3" fill="none" stroke="#0808d8" stroke-width="1.5"/>
<circle cx="408.06" cy="287.70" r="2.3" fill="none" stroke="#0808d8" stroke-width="1.5"/>
<circle cx="440.56" cy="293.60" r="2.3" fill="none" stroke="#0808d8" stroke-width="1.5"/>
<circle cx="403.44" cy="294.10" r="2.3" fill="none" stroke="#0808d8" stroke-width="1.5"/>
<circle cx="445.18" cy="298.90" r="2.3" fill="none" stroke="#0808d8" stroke-width="1.5"/>
<circle cx="398.82" cy="299.10" r="2.3" fill="none" stroke="#0808d8" stroke-width="1.5"/>
<circle cx="449.80" cy="306.70" r="2.3" fill="none" stroke="#0808d8" stroke-width="1.5"/>
<circle cx="394.20" cy="306.80" r="2.3" fill="none" stroke="#0808d8" stroke-width="1.5"/>
<circle cx="454.42" cy="310.30" r="2.3" fill="none" stroke="#0808d8" stroke-width="1.5"/>
<circle cx="389.58" cy="310.50" r="2.3" fill="none" stroke="#0808d8" stroke-width="1.5"/>
<circle cx="459.04" cy="315.60" r="2.3" fill="none" stroke="#0808d8" stroke-width="1.5"/>
<circle cx="384.96" cy="315.90" r="2.3" fill="none" stroke="#0808d8" stroke-width="1.5"/>
<circle cx="463.66" cy="318.60" r="2.3" fill="none" stroke="#0808d8" stroke-width="1.5"/>
<circle cx="380.34" cy="318.60" r="2.3" fill="none" stroke="#0808d8" stroke-width="1.5"/>
<circle cx="468.28" cy="321.10" r="2.3" fill="none" stroke="#0808d8" stroke-width="1.5"/>
<circle cx="375.72" cy="320.90" r="2.3" fill="none" stroke="#0808d8" stroke-width="1.5"/>
<circle cx="472.90" cy="323.30" r="2.3" fill="none" stroke="#0808d8" stroke-width="1.5"/>
<circle cx="371.10" cy="324.10" r="2.3" fill="none" stroke="#0808d8" stroke-width="1.5"/>
<circle cx="477.52" cy="326.10" r="2.3" fill="none" stroke="#0808d8" stroke-width="1.5"/>
<circle cx="366.48" cy="326.80" r="2.3" fill="none" stroke="#0808d8" stroke-width="1.5"/>
<circle cx="482.14" cy="328.30" r="2.3" fill="none" stroke="#0808d8" stroke-width="1.5"/>
<circle cx="361.86" cy="328.60" r="2.3" fill="none" stroke="#0808d8" stroke-width="1.5"/>
<circle cx="486.76" cy="330.30" r="2.3" fill="none" stroke="#0808d8" stroke-width="1.5"/>
<circle cx="357.24" cy="330.90" r="2.3" fill="none" stroke="#0808d8" stroke-width="1.5"/>
<circle cx="491.38" cy="332.20" r="2.3" fill="none" stroke="#0808d8" stroke-width="1.5"/>
<circle cx="352.62" cy="332.70" r="2.3" fill="none" stroke="#0808d8" stroke-width="1.5"/>
<circle cx="496.00" cy="334.40" r="2.3" fill="none" stroke="#0808d8" stroke-width="1.5"/>
<circle cx="348.00" cy="335.00" r="2.3" fill="none" stroke="#0808d8" stroke-width="1.5"/>
<circle cx="500.62" cy="336.40" r="2.3" fill="none" stroke="#0808d8" stroke-width="1.5"/>
<circle cx="343.38" cy="336.80" r="2.3" fill="none" stroke="#0808d8" stroke-width="1.5"/>
<circle cx="505.24" cy="338.10" r="2.3" fill="none" stroke="#0808d8" stroke-width="1.5"/>
<circle cx="338.76" cy="338.20" r="2.3" fill="none" stroke="#0808d8" stroke-width="1.5"/>
<circle cx="509.86" cy="340.00" r="2.3" fill="none" stroke="#0808d8" stroke-width="1.5"/>
<circle cx="334.14" cy="339.50" r="2.3" fill="none" stroke="#0808d8" stroke-width="1.5"/>
<circle cx="514.48" cy="341.90" r="2.3" fill="none" stroke="#0808d8" stroke-width="1.5"/>
<circle cx="329.52" cy="341.10" r="2.3" fill="none" stroke="#0808d8" stroke-width="1.5"/>
<text x="357.60" y="348.40" font-size="10.2" text-anchor="start" fill="#111" >Fitted curve</text>
<text x="357.60" y="360.30" font-size="10.2" text-anchor="start" fill="#111" >Simulated data</text>
<line x1="432.30" y1="345.60" x2="473.00" y2="345.60" stroke="#d8232a" stroke-width="1.7"/>
<circle cx="452.4" cy="356.5" r="2.3" fill="none" stroke="#0808d8" stroke-width="1.5"/>
<path d="M436.3,212.4 C438.5,209.4 441,209 442.7,209 C444.6,209 445.8,210.6 445.8,212.4 C445.8,214.2 444.6,215.8 442.7,215.8 C441,215.8 438.5,215.4 436.3,212.4 C434.1,209.4 431.6,209 429.9,209 C428,209 426.8,210.6 426.8,212.4 C426.8,214.2 428,215.8 429.9,215.8 C431.6,215.8 434.1,215.4 436.3,212.4 Z" fill="none" stroke="#000" stroke-width="1.9"/>
<path d="M490.5,306.3 C487.5,306.3 485.8,307.5 484.6,308.5 C483.4,309.6 482.6,310.9 480.9,310.9 C479.4,310.9 478.6,309.8 478.6,308.5 C478.6,307.2 479.4,306.1 480.9,306.1 C482.6,306.1 483.4,307.4 484.6,308.5 C485.8,309.6 487.5,310.8 490.5,310.8" fill="none" stroke="#111" stroke-width="1.1"/>
<text x="492.00" y="314.40" font-size="14.5" text-anchor="start" fill="#111" >α</text>
<line x1="501.80" y1="303.50" x2="508.20" y2="303.50" stroke="#111" stroke-width="1.0"/>
<text x="508.30" y="307.30" font-size="9.0" text-anchor="start" fill="#111" >2</text>
<text x="360.20" y="389.40" font-size="11.9" text-anchor="start" fill="#111" >Asymmetry parameter α</text>
<text x="0" y="0" font-size="12.2" text-anchor="middle" fill="#111" transform="translate(294.60,278.00) rotate(-90)">Q-factor</text>
</svg>
</body></html>
